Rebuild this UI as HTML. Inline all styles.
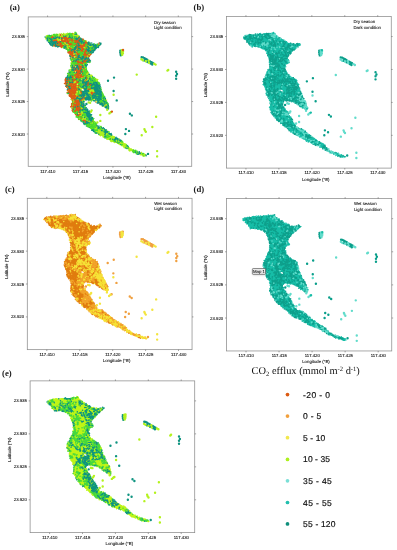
<!DOCTYPE html><html><head><meta charset="utf-8"><title>CO2 efflux maps</title><style>html,body{margin:0;padding:0;background:#fff}body{width:397px;height:550px;overflow:hidden}svg{display:block;font-family:"Liberation Sans",sans-serif;text-rendering:geometricPrecision}</style></head><body><svg width="397" height="550" viewBox="0 0 397 550"><rect width="397" height="550" fill="#fff"/><defs><filter id="bl" x="-5%" y="-5%" width="110%" height="110%"><feGaussianBlur stdDeviation="0.35"/></filter><filter id="sh" x="-30%" y="-50%" width="160%" height="200%"><feGaussianBlur stdDeviation="0.9"/></filter></defs><g><rect x="28.20" y="16.90" width="163.54" height="149.40" fill="#fff" stroke="#8c8c8c" stroke-width="0.75"/><path d="M47.58 166.30v1.4M47.58 16.90v-1.4M80.26 166.30v1.4M80.26 16.90v-1.4M112.95 166.30v1.4M112.95 16.90v-1.4M145.63 166.30v1.4M145.63 16.90v-1.4M178.31 166.30v1.4M178.31 16.90v-1.4M28.20 36.61h-1.4M191.74 36.61h1.4M28.20 69.07h-1.4M191.74 69.07h1.4M28.20 101.54h-1.4M191.74 101.54h1.4M28.20 134.00h-1.4M191.74 134.00h1.4" stroke="#5a5a5a" stroke-width="0.55" fill="none"/><g font-size="4.30" fill="#151515" stroke="#151515" stroke-width="0.1"><text x="47.78" y="172.55" text-anchor="middle">117.410</text><text x="80.46" y="172.55" text-anchor="middle">117.415</text><text x="113.15" y="172.55" text-anchor="middle">117.420</text><text x="145.83" y="172.55" text-anchor="middle">117.425</text><text x="178.51" y="172.55" text-anchor="middle">117.430</text><text x="25.00" y="38.11" text-anchor="end">23.935</text><text x="25.00" y="70.57" text-anchor="end">23.930</text><text x="25.00" y="103.04" text-anchor="end">23.925</text><text x="25.00" y="135.50" text-anchor="end">23.920</text><text x="116.83" y="178.70" text-anchor="middle">Longitude (°E)</text><text transform="translate(8.90 84.50) rotate(-90)" text-anchor="middle">Latitude (°N)</text><text x="153.94" y="23.60">Dry season</text><text x="153.94" y="28.85">Light condition</text></g><g transform="translate(28.20 16.90) scale(1.0002 1.0000) translate(-28.2 -16.9)"><polygon points="44.4,36.8 47.6,34.9 52.6,34.3 58.9,33.7 65.2,33.3 71.5,32.8 75.9,32.0 77.8,34.8 82.6,38.2 87.6,41.0 92.7,43.5 97.1,43.5 100.9,42.3 102.3,44.4 99.6,46.9 96.4,49.4 93.3,52.6 90.8,55.1 88.9,58.2 91.4,60.7 90.8,62.6 87.6,63.9 87.0,67.0 87.6,70.8 90.2,74.0 92.7,75.5 97.8,78.8 99.7,82.6 100.9,87.6 103.5,93.9 106.5,99.5 108.7,104.2 109.4,107.3 108.4,110.0 104.5,108.0 99.3,104.6 94.2,101.5 89.3,100.6 86.5,100.2 84.6,101.2 84.6,104.0 86.4,106.8 89.5,111.0 92.0,115.0 93.9,118.6 95.8,122.6 98.3,125.5 102.7,126.9 106.5,129.4 110.3,132.6 114.1,135.7 117.9,138.0 121.5,140.1 125.9,143.3 130.3,147.9 135.0,149.9 139.1,151.5 146.1,153.8 147.5,155.5 145.3,156.4 139.1,155.1 130.3,151.4 125.0,148.4 120.0,145.0 116.6,144.0 111.6,142.0 106.5,139.4 101.5,136.3 96.4,134.0 91.4,131.0 87.6,127.0 82.6,123.3 77.6,118.9 73.8,113.8 70.7,108.8 70.7,106.5 71.3,101.5 69.4,96.4 66.9,93.3 66.9,88.9 64.4,83.9 64.4,79.4 66.9,75.0 68.8,70.0 70.2,68.3 70.9,63.9 70.2,59.5 69.0,55.1 67.1,51.3 64.6,48.8 60.2,47.5 56.4,46.9 52.0,46.9 49.4,43.7 46.9,40.6 44.4,38.1" fill="#aef01e" stroke="#fff" stroke-width="1.5" stroke-linejoin="round"/><g fill="none" stroke-linecap="round"><g filter="url(#bl)"><path d="M73.1 99.0h0M68.4 87.0h0M69.7 48.3h0M76.6 104.1h0M70.8 106.7h0M61.6 47.4h0M50.8 37.8h0M56.2 39.0h0M83.1 88.0h0M81.6 93.3h0M78.3 76.2h0M65.4 41.6h0M72.4 40.9h0M86.2 51.2h0M72.1 61.3h0M72.6 42.1h0M72.6 111.4h0M76.2 61.3h0M68.1 43.7h0M87.4 82.3h0M95.0 92.8h0M77.0 61.0h0M78.5 112.3h0M73.7 76.9h0M66.8 78.1h0M80.4 77.9h0M69.9 92.8h0M70.4 57.9h0M59.3 41.1h0M76.6 45.1h0M81.4 69.0h0M78.1 105.3h0M67.7 42.5h0M74.9 44.7h0M61.2 40.5h0M78.0 101.0h0M75.2 86.3h0M76.5 103.3h0M74.2 75.3h0M74.5 80.4h0M70.4 50.8h0M74.0 108.2h0M77.1 71.4h0M61.5 39.4h0M80.8 74.9h0M73.0 55.2h0M79.8 68.4h0M72.8 91.5h0M58.7 42.0h0M53.3 40.3h0M77.2 74.6h0M73.2 107.8h0M80.8 68.0h0M70.5 44.0h0M77.4 63.4h0M81.3 91.7h0M67.9 52.3h0M78.3 112.0h0M69.2 92.7h0M78.0 39.7h0M79.2 78.7h0M66.7 87.3h0M79.3 37.9h0M84.2 99.1h0M80.1 68.1h0M91.8 93.2h0M58.4 44.7h0M82.4 71.7h0M78.6 103.8h0M72.1 81.2h0M80.5 70.6h0M75.4 70.9h0M77.6 72.2h0M92.7 89.5h0M77.1 77.6h0M58.2 43.0h0M75.5 114.4h0M73.2 67.0h0M52.7 37.1h0M60.6 43.8h0M76.3 65.0h0M78.5 82.8h0M79.1 54.0h0M60.7 43.2h0M75.3 65.1h0M78.3 45.1h0M81.8 49.1h0M93.5 88.1h0M83.7 62.2h0M76.5 64.9h0M76.1 88.4h0M60.4 34.5h0M72.3 87.3h0M73.7 105.8h0M62.8 41.7h0M60.1 35.0h0M76.1 90.4h0M87.3 78.0h0M70.1 90.7h0M76.9 82.1h0M78.8 93.6h0M74.6 102.3h0M69.2 39.8h0M77.5 107.2h0M76.7 89.0h0M77.3 115.2h0M68.3 92.2h0M86.9 53.8h0M66.7 37.6h0M68.9 41.2h0M74.5 102.1h0M65.2 79.4h0M84.7 46.5h0M69.2 95.7h0M56.1 40.3h0M77.0 55.2h0M78.4 67.4h0M74.8 94.2h0M91.6 84.0h0M85.3 122.6h0M98.7 43.9h0M71.7 90.9h0M79.9 47.0h0M67.4 90.3h0M65.6 83.6h0M87.6 90.2h0M72.3 96.3h0M69.4 48.0h0M76.0 81.3h0M78.5 61.6h0M82.9 49.3h0M78.2 85.7h0M68.9 84.0h0M71.6 94.7h0M74.7 97.6h0M87.4 84.7h0M85.3 55.5h0M67.5 38.6h0M80.8 94.2h0M71.6 83.4h0M86.0 76.9h0M90.5 50.6h0M83.8 57.5h0M73.3 53.2h0M87.7 54.8h0M82.1 66.3h0M70.2 90.5h0M69.3 80.4h0M86.8 55.7h0M66.8 39.0h0M78.3 100.8h0M74.9 92.6h0M83.1 121.5h0M81.5 100.6h0M83.3 112.9h0M71.1 99.3h0M77.4 112.8h0M87.3 44.9h0M76.0 92.2h0M76.6 102.3h0M80.8 107.9h0M59.4 38.4h0M62.6 38.6h0M82.8 98.3h0M68.3 88.5h0M88.2 85.2h0M92.8 94.8h0M80.6 100.5h0M81.2 46.9h0M86.3 86.7h0M67.0 45.1h0M79.3 62.7h0M73.0 106.7h0M71.9 43.3h0M74.0 42.4h0M58.8 43.3h0M67.1 86.8h0M74.7 104.5h0M86.7 55.0h0M73.8 50.1h0M65.9 83.1h0M71.8 49.2h0M75.9 103.6h0M77.5 61.3h0M95.2 94.9h0M70.4 95.8h0M80.0 114.9h0M85.6 74.9h0M76.9 41.2h0M89.5 61.6h0M76.8 89.9h0M68.9 92.0h0M67.6 48.8h0M75.6 70.6h0M72.5 103.1h0M82.7 120.5h0M90.6 88.0h0M72.9 90.5h0M73.2 92.1h0M70.4 50.0h0M66.1 84.9h0M85.2 121.7h0M83.1 48.3h0M75.5 87.5h0M79.6 110.4h0M77.0 100.3h0M91.4 92.6h0M81.5 46.3h0M81.4 68.3h0M77.6 75.3h0M86.9 72.7h0M80.9 118.7h0M83.7 69.2h0M81.3 50.4h0M81.0 118.5h0M80.3 76.7h0M78.9 40.6h0M70.2 85.4h0M73.1 44.7h0M72.9 52.7h0M78.9 63.4h0M65.9 42.1h0M63.8 45.0h0M63.4 38.0h0M82.1 39.3h0M73.7 88.1h0M80.5 47.1h0M78.1 74.3h0M67.0 41.8h0M52.5 36.2h0M71.5 89.1h0M75.8 109.3h0M71.8 55.6h0M83.8 46.5h0M77.0 43.7h0M76.4 73.8h0M71.8 105.9h0M77.9 53.8h0M73.5 85.1h0M61.1 45.0h0M74.4 91.8h0M69.7 85.1h0M87.6 71.9h0M58.5 45.0h0M78.5 109.9h0M71.3 82.8h0M71.1 95.5h0M70.3 83.6h0M86.9 78.6h0M52.1 37.5h0M72.4 34.1h0M82.7 63.0h0M67.7 45.1h0M75.0 76.0h0M75.8 91.1h0M76.7 62.7h0M86.9 60.7h0M71.0 52.8h0M61.4 41.3h0M67.6 39.9h0M62.9 35.1h0M62.8 34.7h0M74.1 87.9h0M73.2 80.7h0M75.8 108.1h0M79.5 104.4h0M78.4 105.2h0M90.4 93.3h0M82.3 48.3h0M75.2 40.5h0M83.0 76.8h0M78.9 70.7h0M61.5 46.7h0M73.8 84.4h0M89.8 82.5h0M64.5 83.5h0M89.2 56.4h0M75.6 109.9h0M64.4 43.4h0M72.5 90.5h0M76.1 48.2h0M61.4 37.6h0M75.9 102.9h0M79.8 113.1h0M79.7 73.8h0M69.5 92.0h0M90.7 54.3h0M71.2 52.6h0M86.7 86.0h0M94.1 92.7h0M77.2 85.5h0M78.7 42.0h0M73.4 95.6h0M80.5 63.4h0M75.0 53.1h0M84.1 51.5h0M72.9 58.6h0M72.6 77.6h0M77.9 70.1h0M71.8 60.9h0M86.5 76.3h0M80.0 61.7h0M73.3 49.9h0M83.7 64.7h0M73.7 56.2h0M75.9 106.2h0M85.0 54.9h0M81.6 96.9h0M79.2 75.1h0M84.3 59.7h0M84.2 58.2h0M78.6 108.0h0M59.3 38.4h0M56.9 40.4h0M74.8 98.4h0M73.8 107.2h0M84.8 49.6h0M70.6 42.8h0M86.2 79.2h0M61.8 45.1h0M69.4 85.5h0M77.0 108.6h0M54.6 40.1h0M82.8 71.6h0M71.3 48.9h0M80.7 72.5h0M76.7 77.0h0M78.1 96.2h0M75.0 90.3h0M69.7 89.7h0M76.4 41.5h0M76.8 57.5h0M60.1 45.0h0M54.8 45.7h0M70.3 52.5h0M77.2 96.8h0M72.3 53.1h0M76.2 73.1h0M75.3 83.2h0M80.6 45.4h0M76.4 71.6h0M70.1 39.2h0M69.5 52.4h0M58.2 44.6h0M73.7 67.8h0M78.0 73.0h0M78.5 90.0h0M89.8 88.6h0M82.9 51.6h0M69.1 95.0h0M75.7 50.9h0M88.3 84.8h0M86.4 77.6h0M82.0 73.9h0M77.2 53.9h0M58.3 38.0h0M67.4 40.4h0M82.1 99.3h0M84.9 97.1h0M77.0 101.5h0M65.3 83.3h0M69.1 40.8h0M79.2 76.9h0M74.3 75.0h0M86.6 43.9h0M67.7 86.5h0M83.3 109.1h0M82.7 105.2h0M51.8 36.2h0M76.8 47.4h0M77.9 99.8h0M73.7 50.8h0M65.5 81.7h0M69.3 75.4h0M83.8 49.7h0M92.5 93.3h0M80.0 58.9h0M66.2 41.7h0M83.8 55.2h0M56.5 44.0h0M77.8 50.1h0M70.8 40.2h0M75.3 42.3h0M79.0 39.7h0M63.7 40.7h0M76.5 44.6h0M60.0 36.2h0M65.4 38.5h0M74.1 55.0h0M83.5 54.7h0M65.4 37.4h0M72.6 95.9h0M78.7 78.5h0M88.9 83.1h0M60.5 35.2h0M79.4 53.0h0M72.8 86.9h0M74.4 83.8h0M70.8 95.0h0M70.6 54.5h0M60.4 40.0h0M78.5 104.7h0M57.6 41.4h0M79.3 114.6h0M76.8 71.9h0M79.6 108.5h0M82.4 45.6h0M75.1 88.3h0M68.7 85.8h0M75.9 88.9h0M79.4 71.8h0M83.8 54.3h0M81.3 91.2h0M79.4 64.5h0M77.7 62.4h0M74.1 104.3h0M83.9 68.4h0M91.3 85.1h0M75.2 111.7h0M89.2 51.7h0M74.2 71.3h0M76.9 45.8h0M85.0 45.7h0M85.6 43.6h0M82.9 72.3h0M62.7 37.2h0M69.5 95.7h0M82.0 45.3h0M73.5 93.3h0M88.1 53.7h0M56.0 43.6h0M69.9 51.3h0M75.6 86.1h0M64.5 39.1h0M71.4 85.6h0M88.8 61.2h0M74.2 100.6h0M74.8 55.6h0M53.7 45.7h0M78.5 102.3h0M66.9 37.3h0M84.3 60.2h0M84.7 62.5h0M60.1 43.2h0M77.6 109.5h0M59.4 41.0h0M75.4 102.6h0M79.7 75.3h0M72.9 83.0h0M78.8 87.5h0M76.8 84.6h0M76.0 77.5h0M71.9 97.4h0M70.9 106.8h0M72.3 88.9h0M66.2 35.0h0M78.2 87.8h0M71.8 53.7h0M78.4 66.7h0M66.1 38.7h0M82.7 51.7h0M72.9 81.6h0M62.6 46.7h0M80.2 38.4h0M77.4 81.4h0M92.0 91.4h0M79.8 69.4h0M72.3 99.8h0M68.8 52.7h0M87.2 90.4h0M88.7 89.6h0M72.1 76.1h0M66.7 84.7h0M75.6 84.9h0M67.4 42.8h0M62.0 43.2h0M85.2 51.8h0M78.8 65.1h0M72.8 76.5h0M85.5 54.6h0M71.8 93.8h0M79.2 46.2h0M73.5 102.6h0M85.6 62.2h0M76.4 57.2h0M74.0 103.4h0M73.4 96.2h0M83.3 39.2h0M71.3 84.9h0M88.6 53.1h0M73.5 57.0h0M91.5 93.7h0M98.4 44.9h0M78.9 73.6h0M85.2 51.9h0M86.4 50.8h0M76.8 69.8h0M75.7 100.0h0M76.4 97.0h0M87.2 48.1h0M77.9 101.7h0M77.1 70.1h0M81.4 109.4h0M80.1 116.4h0M85.9 80.7h0M66.4 80.4h0M85.3 54.1h0M84.4 97.2h0M78.9 86.7h0M72.5 92.8h0M59.5 44.4h0M81.3 74.6h0M81.0 88.2h0M68.2 92.5h0M64.9 41.0h0M85.6 61.5h0M86.4 51.4h0M73.6 97.3h0M73.2 107.4h0M75.8 96.5h0M62.1 46.4h0M73.0 53.8h0M78.7 54.8h0M77.4 71.5h0M74.2 68.0h0M70.1 84.2h0M68.6 43.3h0M82.6 40.5h0M90.4 85.4h0M70.1 54.2h0M75.3 105.9h0M74.2 68.8h0M72.5 97.9h0M76.2 76.9h0M88.2 56.7h0M93.3 49.4h0M85.6 47.1h0M81.2 67.1h0M72.4 33.5h0M76.3 84.2h0M80.5 49.8h0M74.1 65.7h0M78.7 107.1h0M89.8 54.7h0M62.4 38.2h0M84.0 83.8h0M68.9 38.1h0M87.1 56.6h0M68.5 42.2h0M61.5 46.2h0M72.2 88.4h0M80.7 47.6h0M70.9 51.3h0M82.2 109.4h0M84.5 98.3h0M79.2 79.6h0M78.0 115.8h0M81.4 92.7h0M69.2 45.3h0M75.4 91.1h0M84.3 76.1h0M82.7 63.6h0M88.4 83.9h0M55.1 46.0h0M81.0 67.4h0M76.5 40.3h0M81.7 117.4h0M76.6 73.2h0M71.3 90.2h0M69.4 43.7h0M77.5 83.2h0M66.5 83.6h0M59.3 41.0h0M80.7 71.3h0M82.7 77.3h0M78.2 108.4h0M82.4 50.4h0M83.7 87.9h0M75.8 74.4h0M83.2 120.3h0M76.4 36.3h0M92.5 121.6h0M64.1 41.6h0M75.8 114.5h0M67.6 40.4h0M53.5 41.5h0M64.6 43.8h0M70.1 44.6h0M64.2 39.3h0M91.0 54.3h0M87.3 43.6h0M82.8 46.7h0M82.5 39.2h0M85.5 122.7h0M75.3 69.5h0M80.6 72.7h0M72.8 85.8h0M90.2 53.6h0M66.3 37.2h0M70.2 39.1h0M78.2 49.6h0M75.9 68.7h0M78.5 116.4h0M69.2 44.5h0M65.2 80.7h0M75.8 93.8h0M89.6 89.3h0M86.6 42.3h0M76.9 87.0h0M92.5 92.2h0M81.8 65.7h0M82.7 98.6h0M70.2 96.2h0M78.8 109.3h0M80.6 113.9h0M104.3 106.0h0M84.1 61.2h0M66.9 49.1h0M77.8 77.0h0M80.6 99.6h0M83.0 47.7h0M75.9 99.1h0M56.4 39.6h0M87.8 57.3h0M86.4 59.9h0M76.3 44.7h0M59.6 42.2h0M77.2 52.7h0M61.2 37.1h0M92.8 93.0h0M71.7 98.5h0M87.3 85.6h0M90.2 100.1h0M77.4 115.1h0M75.4 85.2h0M76.1 92.9h0M76.5 42.2h0M71.3 56.4h0M69.9 55.3h0M60.7 42.5h0M76.1 40.3h0M73.2 51.3h0M71.1 45.3h0M88.1 88.1h0M85.9 41.2h0M82.4 96.9h0M80.3 45.8h0M67.1 92.6h0M68.3 87.1h0M77.1 51.7h0M74.2 45.6h0M73.5 99.7h0M67.4 82.1h0M70.6 84.8h0M79.0 66.1h0M68.4 53.1h0M85.3 41.6h0M66.5 37.5h0M76.4 104.2h0M65.7 79.4h0M67.8 90.0h0M71.0 87.1h0M76.9 48.9h0M72.0 84.3h0M72.1 78.7h0M78.6 85.5h0M77.0 47.1h0M82.1 99.7h0M91.3 92.0h0M80.5 94.0h0M70.0 94.1h0M81.6 39.6h0M72.6 79.5h0M71.9 87.2h0M81.8 50.0h0M77.4 65.1h0M74.1 90.7h0M83.3 62.4h0M70.5 92.2h0M78.5 74.9h0M57.8 45.7h0M78.4 55.7h0M87.8 59.6h0M67.9 82.0h0M73.8 93.2h0M77.8 40.5h0M77.5 110.7h0M81.0 113.9h0M92.0 94.5h0M76.7 68.2h0M73.8 105.6h0M75.8 95.4h0M77.4 47.1h0M77.0 105.7h0M71.8 40.1h0M54.4 40.7h0M77.8 56.5h0M71.5 105.1h0M77.4 104.7h0M71.5 40.5h0M75.1 94.1h0M79.2 71.2h0M78.5 71.5h0M65.3 42.3h0M84.9 70.7h0M73.0 39.9h0M92.7 93.3h0M82.8 39.5h0M69.6 96.2h0M71.5 55.4h0M75.6 101.4h0M77.3 36.8h0M74.5 89.9h0M69.7 81.2h0M75.1 47.1h0M73.0 104.9h0M68.8 51.7h0M77.5 74.5h0M78.7 114.8h0M76.7 49.4h0M70.6 48.4h0M75.1 60.6h0M71.1 91.9h0M83.0 113.6h0M80.9 75.7h0M82.6 76.4h0M71.1 38.7h0M78.3 58.5h0M78.3 100.3h0M63.5 46.1h0M70.6 97.1h0M79.8 109.9h0M77.5 42.3h0M83.0 99.0h0M72.0 97.0h0M78.4 105.9h0M71.8 44.0h0M76.9 107.3h0M86.3 48.0h0M81.8 45.1h0M68.8 79.4h0M71.8 41.9h0M73.1 85.8h0M76.9 83.3h0M59.6 46.0h0M81.7 100.2h0M75.1 80.3h0M62.5 40.0h0M84.7 120.0h0M84.5 56.8h0M67.7 80.0h0M75.0 100.7h0M77.2 53.0h0M56.6 34.6h0M78.1 113.2h0M68.0 38.3h0M85.8 49.5h0M76.2 85.5h0M84.7 69.1h0M75.7 82.9h0M77.0 106.5h0M84.3 120.2h0M80.0 66.7h0M85.8 80.4h0M60.3 46.8h0M83.5 120.0h0M89.9 55.5h0M73.9 96.9h0M66.9 82.5h0M82.5 70.8h0M83.9 120.5h0M82.5 50.0h0M80.2 44.1h0M79.9 109.4h0M62.6 40.9h0M74.2 39.9h0M87.4 47.9h0M71.9 80.9h0M80.5 52.3h0M78.9 79.5h0M81.2 99.3h0M73.8 85.4h0M72.5 39.8h0M77.4 91.1h0M76.7 81.1h0M70.1 82.2h0M82.3 79.1h0M89.0 82.3h0M67.5 81.2h0M72.4 51.4h0M78.7 115.1h0M59.6 41.6h0M65.3 79.9h0M67.1 39.7h0M91.7 95.1h0M72.0 48.9h0M82.5 47.7h0M69.7 47.1h0M88.1 89.0h0M76.0 75.7h0M83.6 68.2h0M74.3 87.0h0M86.8 74.5h0M78.2 109.3h0M87.3 83.6h0M66.5 40.1h0M81.1 51.6h0M79.6 106.4h0M63.4 42.6h0M78.9 80.2h0M71.6 75.9h0M80.0 92.2h0M84.4 44.8h0M77.8 102.9h0M72.8 103.7h0M79.2 88.2h0M77.0 88.6h0M68.0 85.7h0M89.2 93.6h0M75.8 98.4h0M72.3 53.7h0M70.3 82.9h0M79.4 44.0h0M87.9 82.5h0M72.9 77.1h0M79.4 54.1h0M54.1 44.6h0M77.7 95.6h0M77.9 78.0h0M56.7 42.2h0M70.3 91.0h0M80.9 50.9h0M70.4 93.9h0M75.7 80.2h0M77.1 57.0h0M65.6 78.6h0M85.7 52.1h0M75.2 50.7h0M66.3 78.4h0M86.9 83.6h0M52.8 40.9h0M71.6 86.3h0M64.8 37.7h0M74.1 86.4h0M90.4 88.9h0M78.9 82.1h0M80.1 62.5h0M76.1 106.9h0M75.9 58.0h0M72.6 100.7h0M83.9 74.9h0M74.1 110.8h0M73.9 95.7h0M74.7 61.6h0M92.1 96.6h0M79.4 107.6h0M74.0 93.6h0M78.0 103.5h0M80.7 90.7h0M84.5 44.0h0M67.2 45.9h0M57.5 41.2h0M74.3 98.0h0M66.3 80.8h0M81.0 118.2h0M69.6 37.8h0M79.4 103.0h0M74.9 88.8h0M72.7 83.1h0M86.0 50.1h0M87.2 42.9h0M81.4 57.0h0M67.7 41.6h0M71.1 80.0h0M84.8 43.0h0M74.8 99.0h0M74.4 96.2h0M77.3 73.9h0M78.0 54.6h0M78.0 82.0h0M85.2 50.2h0M99.2 43.0h0M85.6 57.0h0M72.9 92.4h0M77.3 110.4h0M74.0 89.5h0M79.3 72.8h0M71.4 51.8h0M68.6 38.4h0M64.9 39.5h0M80.6 114.7h0M75.4 96.1h0M78.8 72.7h0M71.6 103.8h0M73.6 89.1h0M81.2 106.8h0M78.2 89.3h0M75.7 110.5h0M54.7 45.3h0M75.7 78.8h0M74.4 41.9h0M79.3 101.5h0M84.1 55.9h0M81.5 75.8h0M68.5 80.5h0M86.1 60.0h0M86.1 54.0h0M72.1 94.8h0M78.5 43.1h0M81.4 95.4h0M88.3 54.8h0M76.6 109.8h0M78.9 111.1h0M82.4 96.8h0M71.1 53.5h0M75.5 101.4h0M75.5 105.0h0M64.4 37.1h0M74.7 75.1h0M99.0 103.2h0M78.9 96.8h0M81.3 77.3h0M79.6 62.3h0M69.8 88.9h0M51.8 37.1h0M68.7 48.1h0M72.9 101.0h0M74.7 110.7h0M65.7 86.2h0M85.7 53.1h0M80.3 116.7h0M72.2 56.1h0M79.4 70.1h0M70.5 47.5h0M83.4 44.0h0M75.1 95.7h0M85.3 44.9h0M68.5 84.9h0M75.8 111.3h0M78.7 119.2h0M80.8 89.7h0M73.5 98.5h0M70.1 53.6h0M70.0 94.6h0M83.4 64.7h0M75.8 42.2h0M69.4 41.1h0M79.3 48.0h0M74.2 106.2h0M78.8 47.6h0M83.8 46.0h0M67.5 82.7h0M65.6 45.0h0M81.8 47.7h0M73.8 80.9h0M72.9 109.1h0M78.4 77.2h0M64.2 37.8h0M71.0 45.5h0M80.9 91.6h0M83.4 54.5h0M71.8 104.1h0M70.8 86.5h0M82.9 69.4h0M53.0 40.1h0M85.7 42.4h0M79.8 103.9h0M69.0 88.4h0M79.4 77.3h0M80.5 66.3h0M74.2 69.5h0M72.1 44.6h0M81.7 64.1h0M84.6 42.3h0M78.0 37.2h0M74.7 55.4h0M81.7 76.7h0M83.4 84.9h0M75.3 77.2h0M82.6 47.0h0M78.2 77.8h0M71.3 107.5h0M78.5 75.3h0M69.6 40.7h0M75.4 70.3h0M81.6 61.6h0M82.8 60.3h0M95.8 101.9h0M79.4 112.9h0M82.9 75.8h0M75.6 44.3h0M75.5 84.1h0M79.6 67.2h0M80.6 69.8h0M81.5 62.9h0M76.5 83.8h0M76.5 100.6h0M85.6 40.9h0M76.3 105.8h0M73.5 80.0h0M73.8 111.5h0M74.9 84.5h0M84.3 52.7h0M71.2 88.5h0M88.5 55.6h0M70.4 93.0h0M84.3 67.2h0M75.6 53.3h0M85.2 44.2h0M72.4 54.8h0M72.6 58.0h0M65.7 40.2h0M81.3 73.6h0M83.0 63.4h0M78.6 101.7h0M72.9 83.9h0M84.7 61.3h0M71.1 96.5h0M77.9 46.4h0M79.8 65.7h0M83.1 44.8h0M79.8 43.4h0M89.7 90.0h0M74.1 98.7h0M88.0 52.6h0M72.1 110.2h0M83.4 66.5h0M76.4 115.3h0M74.7 40.1h0M74.3 95.0h0M72.4 108.7h0M69.2 83.2h0M81.1 114.9h0M81.5 54.3h0M84.1 48.9h0M76.0 101.2h0M84.4 53.4h0M83.4 61.0h0M72.7 57.0h0M73.9 55.5h0M75.7 87.0h0M81.0 62.4h0M88.1 121.6h0M75.1 57.5h0M73.9 40.2h0M68.4 78.7h0M77.4 41.8h0M85.7 121.5h0M85.4 121.0h0M73.5 86.7h0M67.6 90.6h0M71.2 92.9h0M68.6 89.0h0M79.4 42.2h0M60.5 46.3h0M79.7 38.6h0M53.1 37.2h0M63.9 40.5h0M75.2 41.6h0M57.0 45.2h0M72.5 83.7h0M63.6 38.4h0M84.1 81.2h0M77.9 63.8h0M69.2 91.2h0M80.3 59.4h0M73.7 103.3h0M70.7 55.4h0M78.1 60.7h0M52.7 37.8h0M85.4 80.8h0M79.0 38.5h0M89.4 59.4h0M84.6 58.1h0M79.2 85.4h0M72.5 91.4h0M77.0 75.7h0M74.9 79.7h0M74.6 57.4h0M72.9 79.4h0M80.2 58.9h0M62.6 45.3h0M65.9 44.8h0M72.1 39.0h0M78.9 72.1h0M78.5 41.3h0M57.7 42.7h0M73.5 91.3h0M54.9 39.9h0M73.7 95.0h0M72.1 94.1h0M55.1 40.3h0M69.0 89.8h0M84.7 60.6h0M66.1 82.4h0M78.9 53.0h0M78.3 47.0h0M70.8 89.4h0M65.3 44.3h0M73.2 87.0h0M76.9 91.3h0M70.7 43.3h0M61.0 35.8h0M76.3 52.4h0M90.0 84.5h0M66.9 80.6h0M86.5 79.6h0M72.5 52.5h0M72.5 98.7h0M55.6 38.3h0M54.1 37.1h0M80.2 108.8h0M64.7 36.0h0M70.8 47.2h0M85.8 120.9h0M75.1 91.9h0M85.0 52.9h0M69.5 45.1h0M76.8 108.4h0M85.7 57.5h0M72.6 41.1h0M84.7 109.4h0M63.0 41.8h0M82.8 46.2h0M72.2 106.0h0M73.7 78.4h0M72.5 110.7h0M80.2 65.9h0M72.2 59.3h0M85.8 56.3h0M73.8 78.9h0M78.3 62.1h0M61.2 44.3h0" stroke="#dc5a12" stroke-width="1.50"/><path d="M88.6 79.0h0M89.6 92.0h0M75.8 94.2h0M62.0 36.0h0M69.2 73.8h0M80.6 88.2h0M63.8 34.3h0M89.0 54.4h0M107.0 104.9h0M111.0 136.0h0M119.5 144.0h0M97.4 81.4h0M81.9 112.4h0M75.5 53.9h0M81.4 73.3h0M74.6 82.7h0M84.7 118.7h0M73.5 70.8h0M118.6 142.0h0M102.6 135.8h0M85.7 95.9h0M95.7 128.8h0M124.3 147.8h0M76.8 38.2h0M86.0 117.6h0M108.9 139.1h0M97.7 79.4h0M120.6 142.8h0M74.5 82.4h0M47.1 35.8h0M74.3 34.1h0M70.2 70.8h0M99.1 133.5h0M143.6 153.7h0M79.6 91.1h0M46.3 36.1h0M124.9 147.2h0M64.6 42.8h0M132.1 150.7h0M95.8 126.5h0M63.5 39.4h0M101.6 131.1h0M143.2 154.9h0M83.3 64.4h0M66.4 34.6h0M93.7 91.5h0M129.6 149.3h0M127.2 147.6h0M140.4 154.8h0M90.0 75.4h0M118.0 139.5h0M106.6 133.3h0M87.6 57.0h0M141.1 152.5h0M116.2 141.4h0M99.3 44.9h0M82.2 112.0h0M102.1 135.0h0M67.9 46.1h0M96.4 129.1h0M131.5 149.5h0M59.9 39.9h0M89.4 77.6h0M65.8 43.4h0M92.1 122.7h0M83.1 118.0h0M144.3 154.2h0M114.6 137.9h0M108.9 139.3h0M59.3 33.9h0M45.8 38.7h0M88.5 92.5h0M81.8 114.7h0M83.7 117.8h0M129.8 151.0h0M98.2 132.4h0M110.2 137.0h0M82.8 119.3h0M97.2 80.3h0M70.7 70.1h0M71.2 62.9h0M109.0 135.0h0M80.8 115.4h0M67.6 47.9h0M90.1 94.7h0M87.5 73.7h0M114.2 137.1h0M73.8 100.3h0M112.1 137.4h0M78.9 35.8h0M115.3 141.3h0M92.0 75.6h0M99.4 131.0h0M96.2 128.3h0M86.6 117.1h0M113.3 136.6h0M117.6 143.2h0M88.9 46.2h0M75.1 35.7h0M126.1 144.5h0M82.1 90.1h0M93.7 124.5h0M77.4 83.9h0M112.5 138.4h0M72.3 60.4h0M85.0 79.0h0M88.2 126.7h0M103.9 133.0h0M83.6 101.9h0M91.4 45.8h0M106.4 134.9h0M86.6 120.8h0M142.0 154.9h0M47.7 35.5h0M107.6 139.2h0M81.8 112.7h0M82.4 100.8h0M111.7 136.1h0M76.1 51.0h0M87.9 74.9h0M58.4 40.5h0M100.3 133.9h0M89.6 47.3h0M93.3 122.4h0M100.1 127.6h0M67.0 44.4h0M94.8 121.4h0M108.8 139.3h0M145.6 155.3h0M86.8 73.9h0M90.3 120.8h0M75.2 35.0h0M73.6 65.6h0M129.0 149.2h0M89.5 46.1h0M66.4 33.7h0M83.2 94.0h0M85.4 96.4h0M103.2 136.9h0M85.0 118.0h0M141.6 154.4h0M86.3 89.5h0M91.2 91.0h0M77.0 36.2h0M107.0 105.6h0M130.4 149.0h0M130.7 149.0h0M132.9 149.8h0M102.5 134.6h0M56.1 36.4h0M102.5 98.9h0M136.4 152.0h0M66.0 43.9h0M92.8 90.1h0M121.8 145.2h0M118.1 141.2h0M79.8 87.6h0M104.7 105.4h0M80.9 113.0h0M102.1 132.9h0M87.1 80.7h0M96.9 132.4h0M63.8 44.2h0M82.7 89.0h0M122.7 142.2h0M74.9 73.0h0M45.8 37.5h0M86.2 74.2h0M95.1 123.5h0M82.2 116.4h0M145.0 154.4h0M48.5 39.0h0M107.6 137.7h0M90.1 126.5h0M68.6 36.5h0M129.0 150.5h0M82.6 85.6h0M70.6 69.4h0M72.1 71.0h0M97.2 132.2h0M110.7 138.2h0M89.8 126.2h0M93.7 78.6h0M97.7 132.9h0M81.8 112.1h0M102.9 134.2h0M73.1 34.3h0M96.3 128.3h0M101.2 133.4h0M95.8 79.7h0M84.5 66.6h0M71.1 47.3h0M84.4 115.1h0M57.8 36.5h0M69.9 71.4h0M111.2 140.5h0M100.3 135.2h0M88.9 52.0h0M141.5 152.4h0M91.2 123.8h0M76.1 49.4h0M79.5 92.4h0M82.1 44.3h0M64.1 34.1h0M90.1 91.5h0M85.4 68.4h0M100.7 133.7h0M76.6 33.7h0M64.6 35.0h0M77.0 86.2h0M103.1 133.2h0M84.6 66.9h0M85.4 99.8h0M89.9 80.8h0M65.2 43.3h0M62.7 47.4h0M65.4 35.3h0M144.8 155.3h0M101.8 128.9h0M101.3 134.5h0M105.5 135.2h0M67.8 44.4h0M106.0 105.7h0M88.6 76.7h0M126.2 146.9h0M80.5 88.9h0M81.3 90.3h0M62.2 36.3h0M80.2 93.2h0M123.6 145.1h0M74.9 81.8h0M105.3 100.1h0M110.6 141.1h0M86.6 64.7h0M119.3 138.9h0M89.2 44.0h0M74.6 33.3h0M67.5 47.2h0M59.4 34.2h0M67.7 33.3h0M77.6 35.1h0M98.7 130.7h0M111.0 136.7h0M104.5 135.0h0M103.9 98.2h0M73.7 37.5h0M108.1 134.1h0M99.5 131.5h0M120.5 144.2h0M98.3 129.9h0M123.2 145.6h0M78.4 97.4h0M127.1 146.7h0M89.8 75.9h0M113.8 137.6h0M67.1 47.2h0M89.3 54.5h0M83.5 102.5h0M87.2 80.6h0M131.3 149.1h0M128.9 148.8h0M122.4 142.8h0M99.2 132.4h0M87.9 78.9h0M78.1 36.3h0M120.4 142.7h0M90.6 90.9h0M125.2 145.2h0M84.3 100.0h0M108.1 137.9h0M88.1 92.9h0M106.7 130.2h0M99.2 134.4h0M63.5 36.4h0M129.6 150.0h0M88.9 93.3h0M114.4 142.6h0M85.6 65.9h0M89.4 93.0h0M105.4 104.5h0M102.7 131.2h0M73.8 54.3h0M126.3 147.7h0M96.1 130.0h0M109.5 137.4h0M104.7 106.3h0M111.2 138.7h0M87.7 73.1h0M66.7 34.6h0M52.9 35.6h0M90.6 90.5h0M112.0 137.0h0M57.4 39.5h0M121.6 143.6h0M108.3 134.8h0M96.7 79.5h0M92.5 89.7h0M124.8 144.1h0M100.5 131.0h0M92.3 46.7h0M125.5 146.9h0M119.7 144.6h0M69.2 73.3h0M86.4 41.3h0M76.9 95.1h0M81.9 86.3h0M107.2 134.1h0M107.4 138.8h0M116.7 141.9h0M77.6 86.8h0M132.9 150.5h0M73.4 35.0h0M118.3 140.9h0M83.1 116.6h0M97.2 131.2h0M94.6 78.2h0M97.1 131.1h0M77.0 94.2h0M88.4 72.7h0M103.8 132.2h0M107.4 133.4h0M70.8 56.2h0M102.3 92.2h0M65.3 34.2h0M79.7 118.4h0M92.9 91.5h0M81.9 88.5h0M75.3 81.3h0M90.6 123.4h0M85.9 119.0h0M118.6 143.8h0M82.9 100.2h0M67.1 47.8h0M73.5 102.1h0M102.1 105.9h0M88.0 80.0h0M59.0 39.4h0M80.8 87.5h0M101.2 129.4h0M73.8 73.3h0M97.3 129.1h0M115.3 142.3h0M102.8 129.7h0M73.8 35.1h0M71.6 47.4h0M113.9 142.1h0M84.9 80.1h0M93.3 79.3h0M69.6 46.4h0M96.8 81.5h0M87.6 56.2h0M89.0 122.0h0M93.3 121.3h0M59.1 35.2h0M91.6 89.3h0M72.2 73.9h0M98.5 133.2h0M73.0 35.9h0M124.6 144.6h0M72.4 107.5h0M85.5 96.2h0M75.6 81.8h0M99.4 130.1h0M141.1 154.2h0M77.5 38.0h0M102.0 129.5h0M120.2 143.1h0M100.7 129.8h0M82.7 113.8h0M88.7 78.3h0M46.0 39.0h0M122.4 144.1h0M99.3 135.1h0M88.7 75.2h0M84.4 76.9h0M84.1 47.4h0M107.2 105.6h0M82.2 115.0h0M100.4 132.0h0M112.8 137.8h0M113.9 138.3h0M106.0 132.3h0M129.2 147.9h0M90.4 46.7h0M73.4 64.3h0M104.3 136.2h0M105.0 104.9h0M89.6 91.0h0M85.5 117.5h0M57.0 39.1h0M90.6 96.3h0M61.8 35.5h0M76.8 91.6h0M60.7 38.4h0M123.1 144.8h0M102.6 130.4h0M102.8 102.6h0M56.2 36.7h0M100.7 126.9h0M111.1 141.5h0M71.2 66.5h0M68.5 48.8h0M77.1 93.6h0M123.6 146.8h0M104.6 101.0h0M90.1 93.2h0M91.2 53.5h0M67.9 35.4h0M72.7 105.1h0M90.6 75.2h0M96.1 79.9h0M123.5 145.5h0M111.9 140.1h0M142.3 154.8h0M111.6 139.7h0M71.8 68.7h0M57.8 38.5h0M74.5 46.8h0M97.2 126.7h0M70.8 34.8h0M103.8 134.7h0M61.8 34.0h0M102.5 131.9h0M100.6 135.8h0M104.0 104.5h0M125.4 146.2h0M82.3 101.7h0M46.4 36.8h0M95.9 131.9h0M73.7 37.3h0M82.2 119.4h0M72.6 36.3h0M76.5 35.0h0M83.6 117.2h0M72.0 68.9h0M77.6 98.9h0M84.3 118.9h0M53.1 35.1h0M108.3 139.0h0M88.1 76.9h0M112.8 141.2h0M125.2 143.9h0M70.8 66.9h0M72.4 70.7h0M81.3 108.0h0M58.6 36.1h0M92.8 91.3h0M104.2 137.6h0M89.1 121.7h0M130.5 150.4h0M103.1 132.7h0M115.4 140.6h0M81.1 89.6h0M102.2 132.0h0M101.2 132.7h0M118.8 143.5h0M92.4 46.1h0M76.3 34.9h0M74.7 56.9h0M71.8 99.7h0M79.7 93.8h0M121.4 142.6h0M103.6 136.5h0M73.3 33.7h0M93.9 90.8h0M101.1 134.9h0M123.3 144.3h0M61.3 33.8h0M114.3 136.7h0M126.8 148.5h0M89.6 120.6h0M99.2 44.5h0M106.9 134.0h0M91.2 77.7h0M56.7 34.3h0M92.0 123.6h0M92.4 89.4h0M92.6 128.6h0M94.8 129.2h0M84.1 115.8h0M144.4 155.9h0M77.8 93.0h0M71.2 69.8h0M86.1 68.3h0M142.6 155.7h0M110.5 140.5h0M112.1 141.5h0M141.3 152.7h0M67.5 36.3h0M109.0 136.0h0M88.2 75.6h0M111.0 139.2h0M84.9 47.9h0M140.0 154.2h0M113.3 136.4h0M69.0 46.5h0M91.3 75.3h0M106.6 139.1h0M89.0 120.5h0M124.9 145.9h0M46.0 37.5h0M60.7 36.8h0M122.1 145.7h0M96.7 126.8h0M90.2 46.3h0M96.7 80.4h0M81.9 108.0h0M145.0 155.7h0M90.1 76.2h0M89.6 80.0h0M74.5 35.7h0M98.9 131.6h0M103.6 129.7h0M90.9 94.8h0M77.2 92.6h0M116.2 140.0h0M104.1 134.5h0M83.6 69.9h0M88.2 77.3h0M74.4 76.8h0M123.5 143.6h0M87.8 120.3h0M82.7 118.8h0M79.7 118.7h0M94.1 125.5h0M95.6 78.5h0M102.7 135.4h0M118.8 141.5h0M74.4 53.3h0M91.0 77.0h0M116.2 140.3h0M82.6 68.8h0M75.6 53.7h0M72.1 64.2h0M60.3 37.7h0M100.6 131.9h0M90.9 44.0h0M67.9 37.1h0M91.6 89.7h0M74.3 77.2h0M111.7 139.1h0M110.6 138.1h0M63.6 33.6h0M109.9 134.8h0M57.8 39.3h0M87.4 91.6h0M71.3 62.5h0" stroke="#aef01e" stroke-width="1.50"/><path d="M88.8 58.3h0M73.6 57.4h0M92.5 88.4h0M98.0 93.8h0M95.0 97.0h0M83.1 56.7h0M80.3 49.1h0M111.6 134.8h0M96.9 133.1h0M59.1 38.0h0M87.0 49.6h0M88.2 123.1h0M98.9 98.1h0M76.2 46.9h0M97.3 126.0h0M71.9 70.3h0M86.2 90.1h0M103.6 97.7h0M82.1 65.1h0M80.6 40.9h0M102.7 104.1h0M79.8 100.8h0M95.5 93.8h0M88.5 50.3h0M79.1 99.0h0M93.4 87.8h0M99.4 87.4h0M88.5 44.3h0M79.0 48.9h0M52.0 44.6h0M92.0 84.2h0M88.3 119.9h0M117.4 138.4h0M73.4 48.9h0M74.6 38.2h0M83.6 90.7h0M79.9 99.9h0M92.5 129.8h0M90.8 97.1h0M82.0 56.1h0M87.1 82.9h0M93.4 82.1h0M99.2 127.2h0M52.6 41.6h0M83.0 66.0h0M100.8 104.6h0M86.3 94.3h0M87.5 109.4h0M89.0 59.7h0M92.0 49.1h0M57.7 47.0h0M70.5 72.1h0M85.7 109.2h0M99.6 99.8h0M75.9 39.4h0M106.8 106.6h0M106.5 107.5h0M83.7 86.7h0M48.0 40.8h0M85.7 59.6h0M55.3 43.6h0M83.2 41.7h0M88.8 94.9h0M87.9 60.7h0M49.1 35.2h0M84.8 95.5h0M107.4 131.6h0M87.7 86.6h0M79.3 55.3h0M98.0 102.9h0M101.4 93.5h0M92.6 98.0h0M82.3 58.3h0M85.4 109.5h0M81.0 70.4h0M85.1 112.0h0M87.1 86.9h0M95.0 48.4h0M97.7 86.9h0M86.4 57.8h0M114.7 140.4h0M101.9 100.4h0M50.9 40.0h0M98.8 91.4h0M83.5 56.3h0M83.7 112.1h0M91.8 53.3h0M89.1 96.3h0M97.6 46.6h0M76.6 60.0h0M81.4 42.6h0M66.1 47.3h0M86.6 122.3h0M87.4 50.8h0M47.1 40.1h0M97.5 101.3h0M135.3 151.6h0M82.2 94.2h0M49.8 43.9h0M94.5 47.6h0M137.8 152.0h0M88.0 51.1h0M73.6 60.1h0M45.1 37.1h0M88.8 42.1h0M93.9 44.3h0M69.7 36.9h0M84.1 105.1h0M72.0 69.3h0M88.7 117.5h0M93.0 81.1h0M71.9 82.1h0M77.0 97.6h0M55.9 42.7h0M73.0 75.3h0M114.9 138.9h0M83.8 94.1h0M90.8 80.3h0M82.1 41.6h0M96.4 82.4h0M57.3 43.8h0M98.2 101.8h0M95.7 85.0h0M94.4 84.6h0M78.7 68.3h0M138.5 154.2h0M94.9 91.1h0M101.9 95.8h0M79.3 55.8h0M86.9 61.6h0M82.0 95.4h0M83.8 92.5h0M90.1 118.7h0M103.3 98.6h0M100.1 95.4h0M87.1 111.0h0M93.8 50.3h0M90.4 60.9h0M88.7 44.7h0M76.9 50.4h0M84.0 85.1h0M120.8 144.5h0M51.4 41.1h0M98.2 100.6h0M100.6 93.4h0M84.3 108.9h0M92.1 95.9h0M51.8 40.2h0M97.8 128.0h0M84.1 101.8h0M84.1 103.9h0M67.1 83.4h0M90.2 45.3h0M75.4 49.2h0M97.6 89.7h0M101.7 102.6h0M74.9 47.8h0M85.2 97.9h0M98.8 93.1h0M140.4 153.3h0M61.7 38.4h0M91.6 114.8h0M82.7 73.2h0M111.4 135.3h0M99.7 98.6h0M83.8 95.8h0M72.1 49.5h0M82.8 87.2h0M83.2 41.0h0M81.2 121.5h0M82.4 60.2h0M89.1 84.1h0M86.4 112.0h0M90.1 60.6h0M70.2 77.8h0M63.8 48.0h0M101.9 105.0h0M137.3 154.2h0M96.5 85.2h0M86.2 58.4h0M90.1 115.8h0M90.6 95.1h0M96.6 45.4h0M70.5 37.6h0M81.4 96.5h0M71.8 67.2h0M86.8 118.3h0M93.3 78.1h0M50.6 45.0h0M101.6 98.6h0M97.4 94.2h0M89.0 116.1h0M139.3 151.8h0M97.1 86.2h0M89.8 114.9h0M87.0 92.5h0M80.2 39.7h0M127.9 146.3h0M97.1 99.3h0M71.5 50.7h0M80.0 105.7h0M93.3 45.5h0M85.2 107.8h0M101.7 94.3h0M98.9 87.6h0M46.9 38.1h0M90.0 77.3h0M50.3 39.4h0M89.3 99.9h0M95.3 95.6h0M75.5 68.1h0M82.4 67.5h0M86.6 121.5h0M86.0 87.5h0M82.3 110.5h0M86.2 92.1h0M104.4 129.0h0M95.3 92.1h0M50.1 41.8h0M93.4 51.8h0M74.5 67.0h0M83.3 81.7h0M85.5 93.1h0M65.6 46.8h0M49.4 38.4h0M81.7 104.3h0M98.8 127.7h0M83.4 94.7h0M97.8 96.6h0M100.9 43.2h0M97.7 90.7h0M69.1 81.6h0M88.4 91.0h0M50.5 43.9h0M55.7 38.5h0M106.2 137.0h0M80.5 98.6h0M100.2 100.2h0M85.4 99.1h0M83.9 42.9h0M98.1 103.1h0M88.9 97.3h0M66.8 81.4h0M88.3 51.7h0M96.0 88.5h0M78.6 44.3h0M64.4 48.2h0M69.3 76.8h0M92.4 84.8h0M74.3 72.5h0M51.2 35.6h0M109.2 133.9h0M93.0 129.2h0M102.6 105.9h0M64.1 46.0h0M93.0 46.9h0M75.5 66.1h0M115.1 141.6h0M79.0 95.2h0M105.6 131.6h0M89.5 98.8h0M94.6 83.9h0M110.2 134.6h0M85.8 110.1h0M83.8 79.9h0M88.1 113.8h0M85.5 123.5h0M101.0 93.0h0M87.7 97.1h0M76.9 78.6h0M75.1 52.7h0M81.8 94.7h0M95.8 46.9h0M72.6 74.9h0M83.2 67.8h0M80.8 120.3h0M74.1 51.0h0M83.4 83.1h0M81.6 82.5h0M81.9 69.6h0M99.7 88.6h0M84.0 82.6h0M67.4 89.3h0M76.1 38.5h0M76.8 59.9h0M106.1 107.8h0M88.0 96.7h0M89.4 98.2h0M98.0 97.2h0M80.2 112.0h0M56.2 45.5h0M100.0 45.0h0M102.2 103.3h0M80.9 41.7h0M51.1 41.7h0M92.3 97.6h0M65.0 46.4h0M93.4 43.9h0M115.5 139.7h0M51.7 39.9h0M107.5 108.7h0M76.8 67.2h0M75.6 69.2h0M85.0 64.4h0M101.1 95.6h0M100.7 44.0h0M104.8 136.7h0M100.1 87.4h0M76.1 33.8h0M91.0 126.8h0M93.1 119.2h0M77.5 97.2h0M98.3 94.3h0M104.8 103.9h0M72.8 62.0h0M96.9 126.0h0M128.2 146.8h0M49.6 42.2h0M83.3 91.6h0M81.8 103.8h0M103.6 101.5h0M103.3 100.5h0M82.2 106.3h0M55.9 46.4h0M92.4 48.1h0M59.8 38.1h0M100.4 86.2h0M86.1 124.5h0M71.1 74.2h0M96.2 96.6h0M90.5 114.2h0M79.5 89.6h0M83.4 93.0h0M82.1 104.0h0M73.7 110.1h0M82.8 83.5h0M74.0 61.0h0M106.2 132.0h0M100.9 43.9h0M87.1 94.2h0M71.9 57.5h0M121.3 140.5h0M86.4 123.6h0M105.2 136.0h0M96.3 90.2h0M93.1 83.7h0M73.7 61.5h0M86.4 95.1h0M98.6 97.5h0M100.4 90.7h0M86.9 97.3h0M85.3 85.1h0M103.6 105.7h0M84.3 82.1h0M98.4 47.5h0M91.5 88.5h0M95.3 82.6h0M93.9 95.3h0M92.7 80.2h0M90.9 45.2h0M51.6 39.1h0M99.0 90.2h0M56.4 41.8h0M75.9 67.2h0M96.4 47.8h0M89.4 50.8h0M81.1 81.2h0M83.9 89.9h0M105.4 103.6h0M93.4 96.9h0M74.8 99.8h0M87.6 53.5h0M67.9 77.4h0M99.1 95.8h0M79.7 56.9h0M101.8 96.9h0M96.3 88.6h0M87.8 61.6h0M76.9 99.0h0M81.5 40.8h0M66.4 49.0h0M101.6 95.0h0M85.6 85.1h0M88.9 74.2h0M91.8 49.2h0M87.3 81.2h0M95.0 88.8h0M100.5 94.2h0M86.6 88.6h0M79.8 48.6h0M80.9 105.7h0M92.0 125.5h0M104.5 97.8h0M99.0 91.7h0M111.2 133.5h0M91.8 51.2h0M114.0 139.9h0M89.8 53.1h0M70.2 76.3h0M97.4 82.2h0M92.7 96.8h0M135.8 152.8h0M90.1 120.2h0M97.0 83.3h0M71.6 77.4h0M91.7 130.3h0M89.5 78.6h0M72.2 108.0h0M100.0 103.3h0M72.1 66.9h0M96.0 46.0h0M96.9 100.2h0M96.6 97.1h0M96.7 84.0h0M98.1 99.5h0M82.9 122.1h0M67.1 85.3h0M80.1 79.5h0M89.1 119.5h0M87.7 93.3h0M88.2 81.4h0M70.7 75.6h0M84.2 42.1h0M70.4 56.5h0M98.0 93.1h0M100.7 97.2h0M108.8 133.7h0M100.7 103.0h0M93.5 50.8h0M86.6 49.1h0M50.1 38.6h0M100.7 98.6h0M87.4 111.6h0M78.2 48.6h0M85.6 113.1h0M79.5 45.5h0M83.3 104.7h0M92.4 52.2h0M97.5 84.1h0M78.2 67.9h0M77.8 43.3h0M51.6 45.3h0M92.9 118.2h0M83.1 86.5h0M81.9 42.9h0M89.5 74.6h0M99.9 43.1h0M89.4 112.8h0M83.7 90.7h0M95.6 87.6h0M91.4 48.0h0M83.3 58.2h0M85.6 64.3h0M90.6 48.3h0M146.0 155.1h0M97.5 87.2h0M86.4 125.9h0M97.2 47.5h0M103.7 104.0h0M89.4 43.0h0M93.5 85.2h0M95.2 88.5h0M88.5 80.6h0M91.2 118.9h0M87.1 99.3h0M95.3 98.7h0M99.8 92.9h0M99.0 86.6h0M86.6 84.3h0M96.8 94.4h0M98.8 134.2h0M99.9 92.5h0M80.9 102.3h0M96.9 101.0h0M94.2 89.2h0M97.0 85.1h0M100.3 88.4h0M101.3 127.6h0M79.6 49.7h0M68.9 37.3h0M146.1 155.8h0M78.1 51.2h0M93.8 94.5h0M80.4 99.3h0M76.1 60.4h0M88.4 90.5h0M68.2 76.2h0M82.9 97.4h0M94.6 98.0h0M79.2 95.3h0M69.6 86.5h0M88.3 111.2h0M93.3 130.6h0M76.3 37.9h0M89.4 60.6h0M73.0 65.1h0M70.0 73.2h0M89.1 49.2h0M82.7 56.9h0M91.1 97.4h0M72.7 82.4h0M90.0 52.7h0M89.3 95.9h0M88.0 117.0h0M81.8 98.6h0M75.0 34.3h0M86.3 86.0h0M92.5 44.5h0M93.3 45.6h0M75.3 67.9h0M107.2 106.3h0M116.0 137.2h0M117.7 140.2h0M117.5 139.5h0M83.7 87.1h0M59.1 37.3h0M87.6 114.3h0M95.7 132.8h0M92.7 84.9h0M85.7 65.3h0M93.7 131.5h0M91.4 118.3h0M91.9 80.0h0M81.6 110.5h0M107.8 104.5h0M100.5 99.1h0M51.2 40.7h0M53.1 44.7h0M76.8 39.4h0M90.3 83.5h0M94.2 45.5h0M85.2 83.8h0M88.2 97.8h0M83.9 85.3h0M89.6 84.3h0M86.5 87.8h0M127.1 148.6h0M96.1 98.6h0M79.0 60.1h0M69.4 78.0h0M101.7 92.7h0M85.4 86.7h0M86.7 65.5h0M77.2 114.0h0M70.0 87.8h0M65.7 45.9h0M77.2 112.7h0M70.9 79.0h0M80.9 80.4h0M82.7 53.3h0M90.1 43.1h0M91.9 86.1h0M99.5 94.6h0M96.2 82.8h0M94.6 132.1h0M101.4 91.2h0M52.8 39.0h0M86.1 98.1h0M86.1 66.6h0M96.2 48.4h0M90.9 51.8h0M66.1 77.5h0M87.9 44.0h0M75.8 55.1h0M89.0 60.2h0M80.2 102.1h0M85.7 78.6h0M125.7 148.1h0M74.5 47.8h0M87.1 90.6h0M93.1 83.2h0M81.8 106.4h0M79.7 96.0h0M86.0 88.4h0M49.6 43.6h0M84.5 124.4h0M97.7 92.0h0M79.1 84.4h0M55.5 44.6h0M99.0 102.2h0M103.4 99.3h0M75.7 43.5h0M108.4 106.3h0M82.5 109.8h0M75.5 46.4h0M74.4 58.7h0M95.4 99.2h0M93.1 47.8h0M98.6 100.4h0M95.7 85.5h0M81.3 80.1h0M94.7 82.0h0M88.3 100.1h0M65.1 47.8h0M70.0 77.6h0M95.5 81.9h0M70.1 73.7h0M89.1 86.0h0M80.3 42.0h0M98.6 126.9h0M80.9 104.1h0M90.0 124.3h0M98.2 91.5h0M86.8 96.8h0M84.7 123.7h0M67.8 78.9h0M70.2 88.2h0M95.1 49.5h0M84.7 59.8h0M71.7 37.9h0M105.3 101.4h0M74.3 36.7h0M139.9 153.0h0M97.7 89.4h0M79.1 89.6h0M74.3 49.4h0M53.4 38.5h0M100.8 89.3h0M86.6 115.7h0M95.3 101.1h0M77.9 68.2h0M119.0 142.7h0M78.8 81.2h0M87.3 46.8h0M77.6 59.4h0M90.5 78.8h0M98.7 85.0h0M54.6 41.9h0M78.1 69.1h0M85.7 110.8h0M114.6 139.7h0M73.0 69.6h0M91.1 114.9h0M96.9 102.7h0M86.9 112.9h0M95.6 48.2h0M67.7 78.7h0M95.3 86.3h0M55.6 36.6h0M85.0 78.0h0M96.1 133.3h0M95.4 100.4h0M75.5 43.5h0M77.8 66.7h0M103.4 96.7h0M99.9 104.5h0M79.2 36.7h0M85.0 90.0h0M98.4 46.9h0M139.3 153.1h0M96.4 96.3h0M94.4 87.6h0M80.7 57.7h0M69.6 78.9h0M92.7 130.0h0M97.7 85.7h0M100.4 91.9h0M91.6 50.5h0M90.5 97.9h0M90.2 117.0h0M81.2 120.4h0M89.0 112.9h0M100.0 89.1h0M70.7 78.2h0M79.0 50.6h0M91.8 118.0h0M54.0 37.8h0M98.1 88.9h0M88.5 43.5h0M76.2 55.5h0M82.6 93.1h0M101.2 97.1h0M83.1 78.9h0M89.3 86.6h0M99.6 128.3h0M87.7 109.7h0M105.2 107.5h0M88.5 115.2h0M85.2 64.7h0M97.0 92.3h0M87.8 49.9h0M50.7 38.5h0M74.0 60.2h0M94.3 98.0h0M83.7 106.3h0M99.8 96.7h0M94.2 82.8h0M86.7 62.1h0M99.8 103.0h0M96.2 94.9h0M80.3 110.1h0M99.2 88.8h0M98.9 88.7h0M104.5 131.9h0M86.3 97.6h0M127.2 145.8h0M72.7 38.2h0M95.6 44.8h0M51.4 42.7h0M95.1 46.3h0M86.4 93.5h0M88.6 47.2h0M51.2 42.6h0M86.7 82.2h0M58.7 46.5h0M88.4 114.2h0M75.1 62.6h0M55.3 42.0h0M105.5 133.8h0M83.3 107.8h0M53.4 43.0h0M80.2 57.2h0M88.9 118.8h0M70.4 58.7h0M101.9 128.1h0M73.2 70.4h0M98.2 128.5h0M84.6 93.6h0M91.9 118.7h0M82.1 87.0h0M88.5 62.1h0M95.0 90.0h0M79.5 99.1h0M79.3 59.4h0M86.5 98.4h0M104.8 129.7h0M96.5 92.9h0M91.6 85.5h0M97.6 101.8h0M70.5 82.3h0M83.1 73.9h0M87.6 62.1h0M75.6 65.8h0M101.3 91.6h0M91.8 119.5h0M88.0 42.8h0M91.0 115.8h0M111.5 134.4h0M55.2 41.8h0M72.5 66.0h0M102.9 105.4h0M87.2 109.1h0M93.7 48.8h0M106.3 107.9h0M79.4 98.4h0M85.1 65.4h0M87.4 110.5h0M83.3 80.7h0M79.6 80.4h0M96.4 46.3h0M75.7 59.6h0M89.6 113.7h0M76.4 66.6h0M87.4 122.3h0M84.6 82.4h0M49.6 35.5h0M96.1 90.4h0M101.5 130.6h0M52.8 42.4h0M69.0 34.8h0M63.7 36.8h0M94.0 100.9h0M96.6 87.7h0M86.5 58.3h0M89.2 79.0h0M71.2 79.1h0M88.1 91.1h0M52.7 43.4h0M93.0 98.8h0M57.0 37.6h0M105.4 99.0h0M94.8 96.0h0M76.1 46.0h0M101.9 104.4h0M79.8 112.1h0M82.2 82.6h0M70.1 72.3h0M80.7 38.3h0M47.2 40.7h0M69.6 82.8h0M89.7 45.3h0M85.9 93.9h0M84.2 79.4h0M79.0 56.5h0M118.2 139.1h0M74.5 52.6h0M83.6 42.3h0M89.9 118.2h0M75.6 61.8h0M107.3 132.6h0M77.8 66.1h0M97.8 103.2h0M97.7 82.8h0M94.7 131.3h0M100.5 90.1h0M87.8 112.4h0M80.2 110.7h0M90.2 44.3h0M102.1 130.7h0M77.8 98.0h0M81.7 59.6h0M64.0 47.2h0M93.6 100.4h0M101.8 102.2h0M82.1 102.5h0M78.2 48.1h0M116.6 138.0h0M95.9 95.4h0M107.7 107.9h0M85.5 99.5h0M88.7 91.5h0M86.9 91.8h0M48.6 42.3h0M91.0 52.1h0M77.6 58.4h0M83.7 108.0h0M80.0 39.7h0M105.1 99.2h0M47.9 37.8h0M78.5 69.2h0M95.0 46.5h0M84.1 94.2h0M81.4 72.0h0M94.9 100.4h0M83.9 121.8h0M112.7 139.3h0M51.8 43.0h0M89.5 111.4h0M57.5 43.5h0M86.0 84.1h0M96.8 89.2h0M83.9 104.2h0M72.0 50.4h0M94.2 130.6h0M78.6 88.7h0M79.3 57.6h0M93.7 45.8h0M81.6 39.2h0M82.0 42.2h0M82.4 93.3h0M57.6 37.1h0M53.6 38.0h0M78.8 59.5h0M83.3 96.1h0M92.3 117.4h0M85.8 91.3h0M88.3 122.8h0M108.5 108.2h0M98.1 95.8h0M82.8 115.4h0M82.8 85.9h0M87.4 99.1h0M94.0 96.6h0M88.3 47.9h0M79.7 94.6h0M73.7 72.5h0M139.1 153.7h0M78.3 46.1h0M81.8 43.8h0M54.2 42.1h0M99.4 91.1h0M99.0 45.7h0M86.7 99.7h0M68.6 93.3h0M83.6 105.7h0M105.3 98.2h0M115.5 138.4h0M96.1 93.0h0M75.2 107.1h0M93.2 98.4h0M73.8 109.5h0M69.7 35.0h0M77.9 44.1h0M95.9 91.5h0M91.3 83.2h0M88.4 117.7h0M84.0 122.3h0M72.6 65.3h0M71.1 77.0h0M96.7 98.6h0M92.4 99.2h0M95.5 91.0h0M96.0 86.3h0M84.8 112.5h0M94.0 97.6h0M89.5 124.0h0M87.6 94.6h0M94.0 88.2h0M84.0 110.1h0M86.4 113.9h0M76.3 72.2h0M72.5 67.7h0M97.8 99.5h0M98.8 96.5h0M120.3 139.9h0M95.4 89.4h0M77.8 106.5h0M100.9 96.4h0M90.9 99.2h0M107.0 103.3h0M90.0 99.0h0M55.9 37.5h0M78.7 98.4h0M99.2 100.8h0M67.6 88.9h0M69.5 88.3h0M92.0 87.0h0M105.6 102.3h0M77.4 57.9h0M84.7 85.4h0M74.9 107.7h0M103.4 127.7h0M83.4 103.2h0M82.1 104.1h0M86.7 88.8h0M106.7 102.1h0M85.0 58.6h0M89.1 123.4h0M83.2 109.9h0M84.9 88.4h0M89.5 116.4h0M81.8 43.5h0M77.7 114.5h0M48.0 39.3h0M78.1 45.4h0M87.5 115.3h0M95.1 87.4h0M80.5 83.5h0M119.6 140.1h0M104.7 130.7h0M92.9 95.3h0M75.0 51.6h0M54.7 43.0h0M104.4 101.9h0M82.7 106.9h0M69.1 49.7h0M85.3 77.5h0M82.6 91.9h0M115.5 138.0h0M69.7 56.0h0M53.1 42.3h0M109.2 133.4h0M87.4 123.8h0M99.9 84.7h0M86.3 107.7h0M137.7 152.7h0M85.7 112.6h0M70.4 72.8h0M135.7 152.4h0M92.5 85.6h0M50.8 43.3h0M94.0 49.6h0M86.5 114.8h0M90.2 83.3h0M83.5 42.9h0M85.2 89.4h0M105.2 132.4h0M88.2 58.0h0M92.2 50.3h0M99.1 99.1h0M80.6 95.5h0M81.0 58.9h0M96.0 96.9h0M91.3 79.9h0M85.8 82.5h0M53.7 43.9h0M119.8 140.7h0M65.7 36.3h0M86.4 110.0h0M91.2 120.9h0M80.0 89.9h0M89.3 119.2h0M85.0 116.9h0M82.7 61.6h0M81.2 41.2h0M110.4 139.0h0M89.6 48.3h0M72.4 80.0h0M94.8 84.4h0M87.6 59.0h0M93.9 47.3h0M98.7 85.9h0M97.3 88.2h0M85.6 77.6h0M87.4 98.0h0M108.6 106.9h0M72.4 37.1h0M69.5 49.3h0M66.9 77.8h0M85.3 105.6h0M84.7 91.6h0M92.6 76.7h0M93.2 52.4h0M98.4 90.2h0M82.7 80.1h0M86.3 48.7h0M97.4 44.2h0M106.0 106.3h0M104.3 128.7h0M84.5 117.5h0M106.6 131.3h0M52.4 45.9h0M77.5 38.9h0M87.4 95.2h0M87.3 64.5h0M101.5 103.9h0M90.5 51.8h0M60.7 41.7h0M91.7 43.1h0M57.0 37.3h0M82.9 59.9h0M98.9 126.0h0M91.7 87.7h0M84.4 91.7h0M89.9 114.2h0M68.3 76.1h0M87.9 115.8h0M110.0 133.7h0M102.6 103.8h0M94.7 93.7h0M67.0 79.6h0M108.4 109.1h0M49.4 37.6h0M84.1 112.2h0M82.1 59.9h0M96.8 93.7h0M80.5 86.1h0M85.4 90.7h0M97.7 85.1h0M75.1 38.3h0M120.4 141.2h0M93.9 93.8h0M56.9 46.0h0M101.0 98.8h0M98.3 45.9h0M55.2 45.2h0M85.2 83.2h0M86.1 81.7h0M106.1 129.7h0M102.6 128.8h0M81.1 71.6h0M94.4 89.8h0M79.3 50.9h0M81.4 105.1h0M81.0 87.0h0M83.4 107.4h0M83.2 101.3h0M87.2 116.3h0M88.2 49.0h0M101.4 99.7h0M73.4 68.1h0M106.3 102.9h0M76.5 98.3h0M108.3 105.2h0M81.3 101.8h0M89.3 111.0h0M88.5 113.9h0M99.4 86.0h0M104.0 131.7h0M53.0 44.7h0M67.6 75.2h0M96.6 125.1h0M78.1 56.0h0M106.0 136.3h0M78.6 57.3h0M86.0 100.1h0M77.3 65.4h0M117.1 142.2h0M89.2 127.6h0M116.4 138.7h0M68.6 86.7h0M100.3 96.3h0M88.3 96.3h0M88.5 99.0h0M84.9 93.0h0M68.9 72.0h0M94.4 86.3h0M98.6 86.8h0M74.8 49.1h0M80.6 85.8h0M91.3 119.4h0M82.4 65.6h0M89.3 116.9h0M92.6 130.5h0M105.1 137.9h0M84.4 123.6h0M83.4 89.3h0M92.2 120.7h0M59.0 46.2h0M104.2 102.8h0M82.9 106.5h0M94.7 50.6h0M84.1 89.0h0M80.1 96.0h0M75.6 48.3h0M94.5 81.1h0M89.9 52.7h0M93.7 84.0h0M89.6 97.0h0M70.2 36.6h0M67.4 76.6h0M90.0 117.9h0M83.5 90.2h0M137.6 152.4h0M77.0 38.6h0M91.7 117.5h0M91.4 86.9h0M53.0 44.6h0M82.8 95.4h0M91.8 45.0h0M99.7 94.0h0M68.4 77.3h0M90.2 115.3h0M79.0 37.2h0M89.1 122.5h0M79.2 41.1h0M83.6 123.8h0M88.5 111.5h0M83.9 107.4h0M83.4 79.8h0M99.6 97.0h0M81.9 91.2h0M69.8 36.3h0M99.2 84.3h0M82.6 61.8h0M76.2 79.4h0M107.6 103.9h0M74.2 49.1h0M73.9 70.0h0M104.8 134.5h0M76.4 34.2h0M82.4 58.0h0M59.8 37.4h0M83.5 57.7h0M66.2 85.9h0M66.8 43.1h0M78.3 38.0h0M80.2 73.5h0M105.2 133.2h0M94.9 45.3h0M104.2 101.1h0M105.3 130.8h0M88.5 49.5h0M83.7 96.8h0M97.7 98.4h0M89.5 48.2h0M101.0 103.1h0M82.2 81.6h0M89.1 94.5h0M98.3 94.0h0M81.6 102.8h0M97.1 90.8h0M82.6 81.5h0M54.5 38.4h0M81.1 58.1h0M93.8 129.4h0M87.8 46.2h0M88.8 95.5h0M97.3 99.9h0M47.1 38.7h0M96.1 83.4h0M65.5 36.3h0M91.0 121.2h0M79.4 40.3h0M90.3 79.2h0M105.6 132.9h0M94.6 85.2h0M77.3 66.3h0M103.1 100.4h0M105.4 107.6h0M91.7 129.9h0M84.6 95.0h0M96.6 47.1h0" stroke="#0f9480" stroke-width="1.50"/><path d="M74.3 56.9h0M80.6 82.1h0M60.3 40.3h0M81.1 82.1h0M96.6 101.8h0M78.7 113.6h0M82.0 78.1h0M71.8 107.9h0M75.4 71.8h0M80.4 82.6h0M81.5 79.5h0M96.0 101.2h0M77.4 91.5h0M106.6 100.1h0M94.1 99.5h0M75.5 66.7h0M77.4 84.6h0M71.5 58.3h0M57.7 35.3h0" stroke="#f2e84e" stroke-width="1.50"/><path d="M94.2 81.3h0M82.2 117.7h0M83.5 72.6h0M100.4 100.8h0M84.3 71.0h0M81.7 60.6h0M83.8 40.3h0M109.1 132.3h0M84.1 50.5h0M71.5 42.5h0M71.1 72.9h0M92.0 125.8h0M87.9 119.4h0M63.5 46.9h0M49.4 40.8h0M70.9 59.3h0M102.0 98.2h0M79.8 117.2h0M90.1 125.1h0M71.0 80.7h0M51.6 35.6h0M80.0 82.7h0M92.0 82.0h0M101.6 100.6h0M72.2 45.3h0M69.6 34.3h0M68.2 84.2h0M108.8 131.6h0M106.8 136.0h0M71.1 60.2h0M73.5 59.6h0M68.1 50.8h0M86.4 52.4h0M122.5 141.7h0M86.0 67.5h0M94.9 125.3h0M92.9 124.8h0M136.6 153.3h0M82.3 52.3h0M80.5 107.5h0M73.1 62.5h0M91.1 49.0h0M81.0 55.8h0M59.0 44.2h0M91.8 81.5h0M78.5 92.7h0M117.6 141.6h0M97.1 44.3h0M82.8 78.5h0M74.8 36.7h0M72.5 101.7h0M62.9 43.4h0M86.2 120.1h0M84.0 70.1h0M85.0 56.5h0M103.1 94.4h0M101.1 126.6h0M93.8 126.0h0M82.0 54.2h0M101.1 129.2h0M67.1 34.9h0M48.0 35.9h0M86.1 63.2h0M93.4 48.8h0M122.0 142.2h0M91.4 128.7h0M72.6 43.3h0M86.6 45.6h0M84.5 63.1h0M80.1 117.7h0M86.0 44.8h0M84.8 113.8h0M85.1 72.5h0M77.7 88.6h0M74.3 61.9h0M85.4 76.3h0M108.8 136.8h0M49.2 39.9h0M63.6 35.4h0M93.9 81.8h0M90.3 127.0h0M86.5 71.0h0M82.9 74.8h0M64.6 44.9h0M92.7 127.0h0M87.4 71.4h0M76.4 62.8h0M107.8 137.2h0M72.9 46.6h0M97.0 95.5h0M81.2 120.1h0M55.5 35.7h0M73.3 41.0h0M87.0 71.8h0M69.7 50.2h0M55.4 35.2h0M91.7 127.9h0M113.3 140.2h0M70.5 74.4h0M50.8 36.1h0M98.8 82.9h0M83.2 114.3h0M81.9 83.9h0M143.4 153.4h0M91.6 97.8h0M143.6 155.9h0M73.2 41.2h0M90.0 62.3h0M126.3 145.9h0M77.1 117.0h0M82.6 75.4h0M49.0 41.2h0M78.3 91.9h0M74.7 59.1h0M104.6 96.6h0M75.5 113.1h0M54.6 36.1h0M114.1 141.2h0M95.1 124.2h0M68.1 50.0h0M77.1 63.6h0M68.9 75.0h0M106.6 137.7h0M47.4 36.6h0M48.7 35.8h0M66.9 35.8h0M70.8 34.7h0M97.3 95.5h0M49.5 40.9h0M87.4 77.9h0M90.8 128.1h0M107.8 107.0h0M88.3 126.4h0M80.1 78.4h0M83.7 41.4h0M133.7 150.9h0M132.8 151.8h0M90.5 81.3h0M84.0 72.0h0M95.1 126.8h0M73.8 74.2h0M75.5 33.0h0M76.6 111.5h0M71.9 71.6h0M81.5 85.4h0M88.2 86.6h0M76.4 116.3h0M142.6 153.4h0M70.7 46.2h0M83.2 111.6h0M80.9 81.5h0M84.2 114.5h0M133.4 152.6h0M86.5 62.8h0M91.4 49.7h0M75.4 58.9h0M85.1 63.4h0M94.6 44.1h0M105.2 102.9h0M82.7 114.5h0M57.1 35.7h0M50.2 37.5h0M96.5 123.6h0M104.0 99.7h0M87.1 119.0h0M88.1 87.1h0M72.1 47.3h0M84.8 107.2h0M97.2 129.9h0M75.0 63.7h0M90.4 49.2h0M81.1 84.1h0M86.0 44.3h0M94.2 77.6h0M137.3 153.1h0M74.4 44.7h0M78.8 52.5h0M72.6 104.1h0M77.3 80.1h0M72.3 71.9h0M76.4 63.7h0M77.8 94.1h0M85.2 74.3h0M74.6 64.2h0M107.7 135.8h0M84.6 73.4h0M74.7 38.9h0M108.3 136.0h0M133.9 150.4h0M72.9 46.1h0M56.2 34.9h0M82.6 74.7h0M84.8 116.3h0M102.1 93.6h0M83.9 72.6h0M82.4 70.2h0M78.2 79.2h0M74.8 76.3h0M50.8 36.6h0M86.9 124.7h0M103.0 97.1h0M75.0 103.2h0M95.2 130.0h0M87.4 75.8h0M85.5 115.9h0M76.3 113.5h0M84.9 71.2h0M83.4 111.0h0M80.6 85.0h0M68.8 76.4h0M87.5 124.6h0M103.4 95.3h0M82.2 117.1h0M93.8 118.6h0M70.5 36.1h0M68.3 33.9h0M86.7 119.7h0M84.6 75.5h0M87.6 118.3h0M86.5 75.9h0M77.0 113.2h0M97.2 46.2h0M81.1 78.8h0M72.5 72.7h0M93.0 128.1h0M74.6 43.6h0M69.0 33.7h0M90.2 86.6h0M96.0 124.9h0M107.8 135.0h0M86.3 71.6h0M94.5 127.7h0M67.6 73.6h0M94.7 130.7h0M56.8 35.1h0M72.9 73.7h0M73.1 75.1h0M73.3 112.1h0M92.8 120.6h0M85.2 124.4h0M75.8 58.8h0M73.8 78.4h0M95.3 133.2h0M95.3 122.7h0M82.2 85.1h0M91.6 100.9h0M90.3 48.1h0M87.3 126.4h0M92.0 82.8h0M86.1 111.4h0M80.7 64.2h0M70.4 74.0h0M70.7 65.7h0M84.2 63.7h0M91.0 78.7h0M106.3 101.1h0M69.5 75.0h0M92.3 127.5h0M78.3 118.0h0M77.3 79.7h0M68.5 45.7h0M74.3 108.8h0M90.5 122.6h0M78.7 83.4h0M54.3 35.1h0M91.0 125.1h0M95.8 130.4h0M82.5 55.0h0M89.1 76.2h0M79.1 119.6h0M99.8 128.9h0M92.0 78.6h0M75.3 63.1h0M80.0 84.5h0M53.5 34.4h0M90.1 87.6h0M79.9 96.9h0M105.6 137.6h0M105.6 100.7h0M84.6 110.7h0M71.2 71.8h0M104.4 100.1h0M94.9 126.1h0M94.5 79.9h0M89.1 126.6h0M84.7 114.4h0M69.4 70.1h0M71.7 34.5h0M78.3 117.3h0M78.5 51.8h0M79.8 52.1h0M98.1 82.4h0M80.1 51.7h0M85.7 69.5h0M68.7 81.3h0M89.0 88.1h0M84.7 40.8h0M84.9 106.7h0M62.2 42.5h0M71.5 46.1h0M93.0 123.1h0M73.5 63.2h0M80.3 64.6h0M80.7 60.5h0M77.6 117.6h0M79.0 64.0h0M89.6 82.2h0M70.7 41.9h0M91.8 78.9h0M74.1 63.0h0M135.7 150.3h0M86.2 70.0h0M57.6 34.4h0M134.3 152.5h0M132.7 151.1h0M72.9 43.8h0M73.1 38.4h0M95.4 81.0h0M91.2 122.8h0M101.0 102.0h0M134.5 151.0h0M74.7 108.7h0M83.0 52.9h0M73.6 112.2h0M105.9 137.2h0M108.3 104.1h0M121.3 144.9h0M128.0 148.4h0M86.9 70.5h0M84.2 65.8h0M69.5 39.8h0M95.5 127.3h0M76.2 116.9h0M93.2 77.8h0M81.2 86.1h0M109.8 139.6h0M79.1 49.8h0M93.0 119.9h0M84.4 113.4h0M72.2 63.1h0M96.4 130.3h0M76.7 58.3h0M93.1 86.3h0M87.1 53.4h0M49.5 36.4h0M92.4 99.8h0M92.6 77.4h0M62.5 44.1h0M79.0 94.5h0M69.9 33.3h0M74.5 59.1h0M72.8 45.8h0M85.6 46.3h0M78.1 51.9h0M63.6 43.3h0M74.6 39.2h0M78.2 52.8h0M91.7 126.2h0M73.5 42.8h0M93.9 123.5h0M75.4 43.8h0M83.4 77.9h0M80.4 97.4h0M79.7 60.0h0M86.4 46.5h0M99.4 83.1h0M91.2 79.3h0M77.7 111.7h0M87.8 119.2h0M75.0 78.2h0M87.4 48.3h0M72.1 58.8h0M74.7 112.6h0M97.1 129.6h0M71.2 37.1h0M78.0 90.5h0M81.8 84.5h0M49.9 37.2h0M71.2 64.0h0M101.0 88.0h0M71.5 65.0h0M91.5 124.5h0M136.0 150.9h0M78.2 94.5h0M68.2 84.4h0M70.0 42.5h0M70.4 40.1h0M93.7 85.9h0M102.3 101.3h0M72.6 47.4h0M79.2 63.8h0M109.9 136.3h0M73.0 43.2h0M74.7 109.5h0M92.4 127.0h0M69.0 70.3h0M108.7 132.1h0M109.0 136.8h0M72.9 72.6h0M89.0 87.6h0M70.5 33.8h0M65.8 48.2h0M100.7 126.4h0M90.6 81.7h0M71.7 35.5h0M79.7 51.4h0M89.7 62.6h0M103.6 96.1h0M93.9 121.7h0M76.0 32.7h0M54.9 34.2h0M95.7 124.7h0M80.5 43.3h0M48.5 36.6h0M71.1 78.7h0M67.1 49.3h0M71.2 74.6h0M62.0 42.5h0M103.0 94.1h0M79.9 83.8h0M76.8 116.0h0M136.3 153.8h0M83.7 77.9h0M82.0 121.2h0M81.4 52.9h0M79.8 81.9h0M88.9 125.3h0M92.7 99.7h0M134.2 150.6h0M93.6 128.7h0M133.5 149.9h0M90.9 47.0h0M81.2 110.3h0M90.9 96.4h0M88.7 123.9h0M121.8 141.0h0M79.4 116.3h0M101.2 89.8h0M73.6 47.7h0M107.4 102.7h0M102.6 101.5h0M80.4 106.7h0M78.4 90.7h0M87.2 125.2h0M91.5 81.2h0M94.0 79.6h0M104.2 99.0h0M83.9 78.2h0M128.4 147.6h0M99.5 83.9h0M73.6 110.7h0M90.4 121.8h0M80.8 119.4h0M113.5 140.6h0M76.5 55.8h0M67.7 51.1h0M93.1 126.4h0M84.7 115.7h0M76.5 62.5h0M69.0 34.5h0M67.5 93.4h0M77.9 79.9h0M85.5 72.0h0M75.1 32.2h0M100.4 128.8h0M85.0 74.4h0M91.0 100.4h0M92.3 124.7h0M79.2 86.5h0M75.6 36.8h0M122.1 144.4h0M72.2 35.2h0M80.5 104.0h0M100.3 101.8h0M81.1 54.8h0M84.1 73.8h0M93.7 128.0h0M98.3 83.4h0M74.1 44.1h0M75.4 73.5h0M85.5 114.3h0M121.4 141.5h0M53.3 39.6h0M69.1 50.1h0M71.6 59.9h0M93.5 124.2h0M126.5 145.1h0M87.7 125.5h0M97.7 45.2h0M95.1 79.0h0M67.3 93.6h0M89.9 87.2h0M95.9 123.5h0M81.1 52.4h0M85.5 75.9h0M91.0 81.7h0M75.6 113.0h0M93.7 48.1h0M74.5 65.1h0M137.1 151.3h0M84.7 49.0h0M83.1 52.7h0M77.4 117.0h0M71.2 65.4h0M93.8 80.2h0M86.0 72.9h0M48.8 36.8h0M68.6 75.3h0M85.6 115.4h0M97.3 130.5h0M81.3 116.6h0M65.6 48.7h0M86.4 69.0h0M89.4 125.6h0M142.4 153.9h0M85.1 87.4h0M68.3 73.4h0M53.9 36.0h0M80.3 54.7h0M74.6 112.9h0M80.7 55.9h0M93.6 126.6h0M93.7 122.2h0M80.0 81.3h0M102.3 96.3h0M118.3 143.2h0M84.8 67.6h0M80.1 54.1h0M71.8 35.7h0M86.4 44.9h0M70.2 80.5h0M84.5 110.7h0M81.5 65.1h0M80.4 61.0h0M80.6 53.6h0M71.7 33.8h0M104.0 130.8h0M83.6 50.9h0" stroke="#48dc2c" stroke-width="1.50"/></g><path d="M82.4 89.6l1.2 .5" stroke="#fff" stroke-width="1.3"/><path d="M120.3 50.6h0M120.2 52.2h0M120.4 53.8h0M120.8 55.2h0M141.6 57.2h0M143.0 57.4h0M144.4 58.2h0M145.8 59.0h0M147.2 59.8h0M150.0 61.4h0M151.4 62.2h0M152.8 63.0h0M144.2 60.6h0M147.4 62.0h0M150.6 63.6h0M152.2 64.6h0M176.1 71.7h0M177.0 74.0h0M176.1 75.8h0M176.1 78.8h0M114.0 77.6h0M108.0 80.8h0M113.6 91.0h0M116.7 100.4h0M129.9 113.8h0M131.8 115.4h0M125.9 129.1h0M129.0 130.9h0M125.3 134.0h0M148.0 153.9h0M86.4 104.0h0" stroke="#0f9480" stroke-width="2.4"/><path d="M121.8 50.2h0M121.7 52.0h0M123.0 51.6h0M121.8 53.6h0M122.9 53.2h0M122.2 54.8h0M148.6 60.6h0M154.2 63.8h0M155.6 64.6h0M141.4 59.2h0M142.8 60.2h0M145.8 61.2h0M149.0 62.8h0M168.2 70.0h0M167.4 70.6h0M136.7 74.6h0M113.6 94.8h0M110.8 112.2h0M109.4 113.4h0M107.2 109.8h0M100.3 115.0h0M100.3 120.9h0M97.3 122.4h0M156.1 116.7h0M152.3 127.0h0M144.4 129.1h0M145.8 131.7h0M144.9 130.4h0M141.7 135.3h0M157.1 151.1h0M157.1 156.4h0M90.1 102.8h0M88.6 102.4h0M90.8 111.7h0M91.6 110.4h0" stroke="#aef01e" stroke-width="2.4"/><path d="M123.0 50.0h0M111.9 111.6h0" stroke="#dc5a12" stroke-width="2.4"/></g></g><text x="9.7" y="9.9" font-family="'Liberation Serif',serif" font-weight="bold" font-size="8.7" fill="#1a1a1a">(a)</text></g><g><rect x="226.40" y="16.56" width="164.86" height="151.54" fill="#fff" stroke="#8c8c8c" stroke-width="0.75"/><path d="M245.94 168.10v1.4M245.94 16.56v-1.4M278.88 168.10v1.4M278.88 16.56v-1.4M311.83 168.10v1.4M311.83 16.56v-1.4M344.78 168.10v1.4M344.78 16.56v-1.4M377.72 168.10v1.4M377.72 16.56v-1.4M226.40 36.55h-1.4M391.26 36.55h1.4M226.40 69.48h-1.4M391.26 69.48h1.4M226.40 102.41h-1.4M391.26 102.41h1.4M226.40 135.34h-1.4M391.26 135.34h1.4" stroke="#5a5a5a" stroke-width="0.55" fill="none"/><g font-size="4.30" fill="#151515" stroke="#151515" stroke-width="0.1"><text x="246.14" y="174.35" text-anchor="middle">117.410</text><text x="279.08" y="174.35" text-anchor="middle">117.415</text><text x="312.03" y="174.35" text-anchor="middle">117.420</text><text x="344.98" y="174.35" text-anchor="middle">117.425</text><text x="377.92" y="174.35" text-anchor="middle">117.430</text><text x="223.20" y="38.05" text-anchor="end">23.935</text><text x="223.20" y="70.98" text-anchor="end">23.930</text><text x="223.20" y="103.91" text-anchor="end">23.925</text><text x="223.20" y="136.84" text-anchor="end">23.920</text><text x="315.74" y="180.50" text-anchor="middle">Longitude (°E)</text><text transform="translate(207.10 85.13) rotate(-90)" text-anchor="middle">Latitude (°N)</text><text x="353.46" y="23.26">Dry season</text><text x="353.46" y="28.51">Dark condition</text></g><g transform="translate(226.40 16.56) scale(1.0083 1.0143) translate(-28.2 -16.9)"><polygon points="44.4,36.8 47.6,34.9 52.6,34.3 58.9,33.7 65.2,33.3 71.5,32.8 75.9,32.0 77.8,34.8 82.6,38.2 87.6,41.0 92.7,43.5 97.1,43.5 100.9,42.3 102.3,44.4 99.6,46.9 96.4,49.4 93.3,52.6 90.8,55.1 88.9,58.2 91.4,60.7 90.8,62.6 87.6,63.9 87.0,67.0 87.6,70.8 90.2,74.0 92.7,75.5 97.8,78.8 99.7,82.6 100.9,87.6 103.5,93.9 106.5,99.5 108.7,104.2 109.4,107.3 108.4,110.0 104.5,108.0 99.3,104.6 94.2,101.5 89.3,100.6 86.5,100.2 84.6,101.2 84.6,104.0 86.4,106.8 89.5,111.0 92.0,115.0 93.9,118.6 95.8,122.6 98.3,125.5 102.7,126.9 106.5,129.4 110.3,132.6 114.1,135.7 117.9,138.0 121.5,140.1 125.9,143.3 130.3,147.9 135.0,149.9 139.1,151.5 146.1,153.8 147.5,155.5 145.3,156.4 139.1,155.1 130.3,151.4 125.0,148.4 120.0,145.0 116.6,144.0 111.6,142.0 106.5,139.4 101.5,136.3 96.4,134.0 91.4,131.0 87.6,127.0 82.6,123.3 77.6,118.9 73.8,113.8 70.7,108.8 70.7,106.5 71.3,101.5 69.4,96.4 66.9,93.3 66.9,88.9 64.4,83.9 64.4,79.4 66.9,75.0 68.8,70.0 70.2,68.3 70.9,63.9 70.2,59.5 69.0,55.1 67.1,51.3 64.6,48.8 60.2,47.5 56.4,46.9 52.0,46.9 49.4,43.7 46.9,40.6 44.4,38.1" fill="#18bda7" stroke="#fff" stroke-width="1.5" stroke-linejoin="round"/><g fill="none" stroke-linecap="round"><g filter="url(#bl)"><path d="M70.1 84.5h0M66.9 43.8h0M101.4 44.1h0M88.2 60.6h0M78.0 90.3h0M57.4 36.3h0M87.0 52.5h0M71.2 62.1h0M121.6 141.6h0M90.0 128.5h0M84.5 50.8h0M83.7 97.2h0M90.4 62.1h0M82.0 49.2h0M88.3 115.5h0M86.7 90.1h0M94.0 87.6h0M78.0 83.5h0M78.7 76.5h0M70.5 53.3h0M72.1 104.9h0M67.7 79.6h0M78.0 107.9h0M77.3 106.1h0M73.3 104.6h0M95.8 78.5h0M68.0 77.3h0M85.0 54.2h0M58.5 46.1h0M126.0 147.3h0M75.6 106.9h0M82.6 62.4h0M53.1 45.3h0M71.7 63.6h0M94.4 77.2h0M86.1 72.2h0M72.3 52.6h0M81.1 62.0h0M81.6 43.0h0M79.9 54.5h0M94.2 92.3h0M86.9 125.3h0M73.5 67.3h0M77.4 44.4h0M115.3 142.6h0M74.6 44.0h0M71.6 88.1h0M91.6 86.1h0M69.5 86.0h0M77.6 38.9h0M73.8 109.7h0M100.0 103.7h0M74.3 89.0h0M83.9 86.5h0M88.6 93.2h0M61.1 40.3h0M83.4 69.8h0M68.0 85.0h0M87.3 70.5h0M53.4 44.4h0M80.4 68.9h0M92.0 127.9h0M88.3 54.5h0M84.4 56.5h0M90.6 79.3h0M91.6 116.3h0M90.1 48.3h0M79.0 67.0h0M83.4 96.4h0M81.5 84.0h0M77.3 54.9h0M95.4 81.0h0M89.5 82.9h0M87.5 117.0h0M56.4 43.9h0M99.2 129.3h0M83.7 118.3h0M57.7 43.6h0M84.0 100.0h0M77.1 104.3h0M86.6 125.8h0M72.3 103.4h0M138.6 154.6h0M116.7 138.6h0M78.6 60.6h0M77.7 45.4h0M77.4 37.4h0M82.6 95.7h0M78.9 87.5h0M49.6 35.9h0M75.8 64.1h0M88.1 123.3h0M69.8 77.0h0M71.4 71.0h0M121.9 142.2h0M89.6 59.4h0M85.0 64.2h0M93.6 80.5h0M94.7 127.4h0M74.1 69.3h0M83.2 88.4h0M67.8 89.7h0M109.9 136.4h0M87.7 118.7h0M64.3 39.0h0M78.4 39.6h0M76.7 62.0h0M78.3 100.8h0M53.2 46.3h0M69.4 42.0h0M91.1 80.1h0M92.3 52.3h0M95.8 99.4h0M54.3 40.8h0M82.1 113.4h0M89.1 110.7h0M83.3 77.3h0M92.3 77.2h0M80.0 66.1h0M77.0 105.1h0M79.8 48.9h0M66.4 86.4h0M78.2 78.6h0M73.1 40.1h0M97.4 100.5h0M101.1 89.8h0M87.1 119.9h0M85.9 110.8h0M92.2 83.5h0M78.7 78.1h0M84.5 53.7h0M90.8 75.7h0M70.1 53.3h0M78.4 119.0h0M91.4 77.3h0M68.7 80.7h0M82.3 83.7h0M75.1 103.7h0M87.0 74.4h0M83.9 85.2h0M101.5 100.7h0M86.3 112.7h0M67.0 88.2h0M83.7 75.7h0M69.5 83.5h0M84.0 84.9h0M84.0 93.6h0M67.0 77.7h0M82.4 101.8h0M84.7 86.8h0M80.8 56.9h0M74.1 73.2h0M98.5 130.6h0M71.9 46.7h0M82.4 116.5h0M50.2 35.1h0M73.1 97.0h0M99.6 131.6h0M75.6 105.3h0M84.6 41.2h0M80.2 38.6h0M85.2 96.7h0M49.0 38.9h0M79.2 61.7h0M55.0 38.3h0M91.9 50.6h0M116.2 141.7h0M67.3 85.2h0M72.8 53.5h0M93.1 120.0h0M67.8 42.7h0M88.6 82.4h0M83.6 54.3h0M89.7 127.5h0M79.8 115.7h0M68.3 78.3h0M72.5 67.6h0M82.2 65.3h0M76.9 109.9h0M109.0 138.9h0M82.1 53.1h0M85.1 66.2h0M87.4 62.9h0M144.1 154.7h0M89.0 73.7h0M103.0 135.5h0M83.5 45.7h0M85.5 51.6h0M74.7 87.8h0M86.8 92.2h0M80.9 67.6h0M137.0 153.3h0M122.0 145.8h0M92.7 128.5h0M62.5 41.3h0M74.2 54.0h0M90.0 125.2h0M86.7 116.4h0M68.5 40.1h0M93.2 99.2h0M74.9 107.8h0M115.4 142.8h0M102.8 131.9h0M66.9 39.2h0M70.1 87.4h0M74.8 64.9h0M78.2 45.7h0M81.1 97.7h0M86.5 124.3h0M91.1 117.3h0M72.4 39.8h0M74.9 34.6h0M78.7 93.1h0M71.3 106.6h0M140.2 154.1h0M107.1 138.8h0M74.0 49.3h0M78.3 73.4h0M93.2 130.2h0M95.2 46.6h0M133.2 150.5h0M79.5 96.9h0M81.6 119.6h0M45.5 37.0h0M75.4 73.3h0M90.3 121.7h0M139.2 151.6h0M67.5 87.0h0M105.2 101.4h0M80.7 84.0h0M95.0 130.1h0M80.0 63.0h0M83.4 61.9h0M83.3 91.6h0M87.6 86.5h0M82.4 51.4h0M87.0 57.2h0M81.2 73.7h0M80.6 84.6h0M82.5 45.6h0M71.2 48.5h0M76.6 113.0h0M101.1 45.3h0M73.4 83.7h0M60.6 35.5h0M78.0 74.1h0M74.5 107.1h0M59.0 44.7h0M75.2 50.4h0M72.4 105.9h0M84.6 71.1h0M84.6 115.8h0M81.3 65.5h0M68.5 44.4h0M91.3 88.3h0M97.3 81.4h0M74.2 83.1h0M91.4 119.1h0M82.8 89.4h0M80.5 48.4h0M84.5 61.3h0M65.7 39.0h0M87.8 81.4h0M73.0 33.6h0M71.5 97.1h0M68.2 80.1h0M72.1 41.9h0M72.3 89.4h0M124.2 144.0h0M58.9 37.4h0M92.9 45.4h0M101.9 130.8h0M77.0 40.9h0M125.5 145.5h0M71.8 42.7h0M71.3 50.9h0M71.2 73.8h0M109.4 140.0h0M84.7 97.5h0M81.4 111.3h0M104.1 137.2h0M76.9 100.1h0M49.3 35.5h0M88.8 44.1h0M82.0 84.9h0M77.7 86.4h0M93.9 95.6h0M71.6 41.1h0M74.0 33.0h0M67.9 77.0h0M66.6 80.7h0M73.8 37.9h0M61.4 37.9h0M83.2 94.4h0M75.6 95.1h0M109.4 140.6h0M92.5 93.6h0M97.0 125.7h0M62.4 44.2h0M117.8 142.2h0M72.9 107.0h0M76.2 109.2h0M104.2 132.5h0M123.3 144.7h0M99.3 83.4h0M90.1 95.9h0M90.5 87.1h0M94.8 85.4h0M82.8 116.2h0M76.3 106.3h0M86.8 99.5h0M72.0 34.1h0M72.5 98.2h0M79.2 45.2h0M78.0 116.0h0M81.0 91.7h0M97.0 45.7h0M136.6 153.8h0M86.1 49.9h0M99.4 86.0h0M84.4 116.1h0M100.2 129.5h0M65.0 38.3h0M95.0 124.2h0M94.2 47.4h0M67.8 48.4h0M52.7 44.5h0M73.2 39.2h0M100.6 43.6h0M86.9 114.9h0M82.8 45.3h0M93.5 87.8h0M78.1 85.1h0M59.2 34.9h0M86.6 50.9h0M72.1 88.7h0M110.3 135.5h0M70.5 86.1h0M100.5 88.5h0M93.5 85.2h0M80.0 94.0h0M86.9 120.6h0M83.3 43.9h0M70.8 61.7h0M78.3 112.5h0M86.2 88.1h0M74.1 102.4h0M71.2 43.9h0M75.5 48.5h0M110.8 139.5h0M72.9 48.6h0M68.8 94.1h0M87.2 117.3h0M89.8 98.9h0M84.6 91.1h0M113.9 137.7h0M87.2 73.7h0M78.4 56.1h0M73.5 45.7h0M82.8 104.3h0M73.9 110.7h0M100.7 88.9h0M99.4 84.8h0M85.8 83.7h0M54.3 42.8h0M93.0 80.6h0M141.3 155.4h0M67.9 83.2h0M92.6 90.3h0M88.8 57.0h0M86.3 115.8h0M90.6 127.9h0M50.7 40.0h0M82.8 85.9h0M83.8 57.6h0M80.6 88.0h0M73.3 99.6h0M80.1 92.8h0M73.3 71.6h0M87.5 125.4h0M67.8 46.2h0M50.7 38.9h0M73.9 80.7h0M93.4 44.4h0M78.4 42.8h0M97.9 45.9h0M81.1 117.5h0M55.0 42.2h0M91.3 124.6h0M73.5 40.2h0M74.9 43.6h0M87.9 50.8h0M95.4 45.1h0M70.8 74.1h0M61.9 45.0h0M74.8 71.2h0M70.4 40.4h0M142.3 153.1h0M99.9 93.5h0M90.1 60.5h0M112.6 141.6h0M126.2 146.0h0M90.0 49.9h0M98.7 131.3h0M78.5 96.7h0M78.8 58.9h0M68.9 50.4h0M83.4 98.9h0M58.9 44.4h0M87.9 110.0h0M69.8 82.9h0M82.3 70.7h0M75.7 108.5h0M70.2 89.5h0M86.0 59.7h0M85.4 60.7h0M74.0 108.4h0M90.4 122.4h0M74.5 65.6h0M67.0 49.6h0M70.1 50.2h0M70.3 34.4h0M124.6 142.9h0M80.8 69.9h0M85.4 85.1h0M104.7 131.6h0M65.4 37.4h0M82.1 52.7h0M79.7 47.3h0M89.3 119.3h0M85.2 114.6h0M74.4 46.5h0M84.7 120.9h0M77.2 85.1h0M61.0 33.9h0M83.3 91.3h0M80.7 55.8h0M92.4 96.4h0M72.4 87.1h0M68.4 91.3h0M82.2 91.8h0M88.6 61.9h0M75.1 46.8h0M77.0 113.6h0M84.3 94.7h0M72.1 96.9h0M70.1 75.4h0M80.7 42.6h0M68.4 89.4h0M89.6 49.4h0M80.4 53.9h0M63.8 41.5h0M74.9 82.8h0M86.4 112.0h0M69.9 48.7h0M86.2 57.4h0M77.5 105.9h0M68.4 47.7h0M80.7 112.9h0M80.2 72.2h0M86.2 63.8h0M82.9 93.2h0M101.5 130.2h0M54.4 37.2h0M82.2 69.5h0M78.5 62.0h0M75.8 58.1h0M66.9 47.4h0M75.6 52.1h0M83.4 48.0h0M76.5 71.3h0M95.6 46.4h0M76.7 43.3h0M73.2 99.1h0M58.3 46.0h0M80.4 77.6h0M67.1 46.0h0M91.4 50.9h0M71.8 45.7h0M76.5 42.5h0M91.6 43.8h0M106.6 138.2h0M84.5 65.9h0M93.2 91.6h0M88.1 46.0h0M94.7 82.0h0M77.9 49.7h0M70.6 50.1h0M85.3 62.9h0M85.6 93.1h0M91.4 127.1h0M73.8 71.8h0M77.6 70.6h0M77.1 37.2h0M76.8 80.2h0M78.2 79.8h0M93.5 121.3h0M77.4 51.1h0M78.5 71.9h0M71.0 95.7h0M79.8 40.7h0M88.3 45.0h0M65.1 40.4h0M74.0 47.7h0M71.3 39.1h0M86.6 61.9h0M68.2 40.2h0M78.0 94.1h0M97.6 93.8h0M56.8 43.7h0M93.2 95.7h0M47.7 39.2h0M97.8 82.9h0M81.8 45.0h0M82.0 64.3h0M116.8 138.2h0M79.5 51.0h0M70.1 81.9h0M91.1 115.5h0M100.2 100.0h0M83.2 116.7h0M49.8 41.2h0M110.3 138.5h0M75.2 107.3h0M62.4 37.3h0M81.5 44.6h0M94.9 128.2h0M114.0 136.1h0M73.6 41.4h0M83.9 51.6h0M100.4 132.9h0M98.6 86.4h0M70.4 46.4h0M91.3 118.1h0M73.3 96.0h0M99.8 128.5h0M98.8 127.3h0M93.3 129.8h0M81.3 51.5h0M122.3 144.2h0M85.9 93.3h0M99.6 90.5h0M97.0 93.4h0M115.3 137.2h0M72.5 105.4h0M90.5 114.6h0M114.6 140.4h0M60.6 45.0h0M77.3 82.9h0M50.0 42.0h0M78.5 50.8h0M90.5 98.6h0M68.7 80.1h0M84.6 84.1h0M74.0 40.7h0M76.7 85.7h0M89.8 82.0h0M106.0 129.9h0M82.0 68.2h0M79.3 45.8h0M106.4 135.6h0M81.3 76.7h0M81.6 48.9h0M81.3 87.0h0M100.5 91.0h0M87.9 116.4h0M78.8 86.8h0M87.4 87.1h0M143.3 155.2h0M93.5 90.0h0M80.1 96.5h0M98.1 45.8h0M107.6 139.8h0M84.0 65.0h0M77.6 39.6h0M60.1 40.2h0M94.4 94.7h0M69.9 46.1h0M74.1 49.1h0M71.4 33.5h0M77.1 75.0h0M86.1 90.9h0M79.6 38.8h0M79.9 107.2h0M86.6 65.2h0M99.5 133.4h0M84.8 108.7h0M82.3 80.2h0M82.4 72.6h0M78.6 110.8h0M66.8 33.9h0M78.7 103.6h0M87.2 59.7h0M73.3 105.2h0M78.6 64.4h0M122.2 144.7h0M82.8 83.6h0M77.8 96.5h0M94.8 48.2h0M113.8 137.2h0M80.3 62.6h0M96.9 48.0h0M81.4 64.4h0M112.2 139.7h0M80.2 73.1h0M78.8 80.1h0M53.4 35.1h0M81.6 108.1h0M68.2 81.9h0M63.6 48.3h0M84.3 116.9h0M53.8 39.3h0M86.8 71.8h0M78.1 55.7h0M94.1 97.1h0M91.2 49.6h0M70.1 46.9h0M94.0 87.9h0M92.6 79.8h0M112.0 137.0h0M137.8 153.7h0M77.4 40.7h0M94.7 122.5h0M76.3 41.4h0M70.4 96.0h0M81.3 55.2h0M68.9 40.9h0M85.7 48.1h0M71.9 100.8h0M73.6 109.6h0M86.4 109.7h0M83.9 95.1h0M77.1 110.7h0M54.7 43.4h0M80.6 71.2h0M112.2 140.1h0M82.3 92.6h0M58.7 42.0h0M74.8 78.8h0M71.2 83.4h0M92.2 129.6h0M83.6 65.5h0M89.1 112.0h0M76.6 100.7h0M60.9 35.7h0M80.3 93.6h0M100.9 88.4h0M46.8 39.0h0M91.7 127.9h0M83.3 93.8h0M59.6 45.8h0M82.9 87.5h0M122.7 143.4h0M71.3 69.2h0M73.9 89.8h0M86.8 96.4h0M91.6 47.1h0M126.7 146.7h0M62.9 34.8h0M81.9 107.6h0M68.0 38.7h0M81.4 76.1h0M80.4 47.9h0M82.6 108.3h0M71.3 61.1h0M111.3 138.5h0M85.4 67.7h0M62.3 46.2h0M66.4 85.9h0M95.7 129.1h0M81.6 85.2h0M87.4 57.9h0M93.5 77.6h0M100.7 105.2h0M80.0 55.3h0M91.2 85.9h0M69.0 82.4h0M76.4 72.3h0M84.5 102.0h0M92.3 51.1h0M87.6 96.7h0M87.6 53.0h0M89.7 98.4h0M87.6 110.5h0M125.3 143.9h0M74.9 53.8h0M95.2 125.7h0M96.4 129.2h0M79.1 105.4h0M83.3 114.2h0M78.6 95.6h0M77.7 67.3h0M64.9 42.4h0M90.0 43.8h0M96.8 95.0h0M110.8 137.7h0M63.5 34.6h0M113.7 141.6h0M137.9 152.9h0M97.7 98.0h0M77.0 109.1h0M119.8 141.4h0M71.2 96.7h0M82.1 50.9h0M102.5 92.5h0M65.9 80.7h0M90.0 50.1h0M79.7 84.4h0M72.4 72.9h0M94.1 85.6h0M78.8 77.3h0M101.8 99.4h0M74.6 81.7h0M83.9 41.0h0M92.7 51.0h0M61.1 45.9h0M71.6 70.7h0M78.2 105.7h0M79.1 84.8h0M98.3 91.7h0M73.2 49.7h0M71.6 102.0h0M95.5 46.5h0M69.9 88.4h0M74.3 68.6h0M100.9 135.7h0M72.8 54.1h0M108.7 138.7h0M89.8 43.7h0M68.2 53.0h0M89.4 125.6h0M78.3 36.5h0M82.2 67.3h0M104.7 98.1h0M73.4 112.6h0M75.7 115.7h0M92.7 120.4h0M80.8 76.4h0M68.6 35.8h0M82.4 47.8h0M76.0 82.9h0M84.0 108.4h0M76.4 100.1h0M72.7 47.3h0M77.9 71.8h0M85.5 85.7h0M92.6 87.0h0M83.3 95.8h0M81.5 91.0h0M81.3 120.4h0M105.4 105.5h0M68.5 41.1h0M82.1 41.1h0M80.1 40.0h0M89.1 61.1h0M92.7 50.9h0M53.8 43.1h0M74.4 70.1h0M133.4 151.0h0M78.1 103.6h0M83.4 66.8h0M103.5 95.1h0M86.4 108.8h0M83.3 112.3h0M62.2 38.2h0M47.3 39.4h0M62.5 47.7h0M78.8 85.8h0M97.2 47.1h0M82.3 62.9h0M88.0 59.7h0M115.5 140.3h0M58.4 35.3h0M84.4 92.9h0M110.9 134.2h0M71.4 80.3h0M87.3 74.4h0M86.9 43.2h0M84.2 62.8h0M71.4 67.6h0M71.1 91.5h0M78.9 50.0h0M114.7 141.4h0M76.7 107.1h0M76.2 111.4h0M84.5 44.6h0M85.5 67.0h0M84.0 69.5h0M50.2 43.2h0M66.5 39.3h0M71.0 55.3h0M71.8 100.3h0M85.9 67.8h0M93.9 119.9h0M73.5 102.7h0M86.0 89.2h0M92.9 128.1h0M89.4 80.5h0M82.2 100.1h0M70.2 69.8h0M90.2 126.2h0M76.1 68.9h0M49.8 37.3h0M91.1 122.4h0M58.4 39.8h0M77.6 101.5h0M142.5 153.6h0M113.3 137.8h0M90.2 118.7h0M50.6 40.8h0M79.8 59.4h0M89.7 77.0h0M85.5 48.3h0M87.2 117.9h0M69.7 73.3h0M64.7 84.0h0M93.4 48.7h0M84.3 53.5h0M81.4 49.7h0M117.3 138.5h0M80.5 91.1h0M81.2 53.7h0M61.4 47.0h0M122.8 141.9h0M73.5 101.8h0M93.4 81.0h0M73.5 46.7h0M85.8 87.0h0M86.2 60.9h0M54.5 44.5h0M84.3 52.7h0M86.3 46.3h0M75.4 77.8h0M100.4 104.1h0M74.5 112.6h0M84.6 113.4h0M69.3 71.6h0M83.4 51.4h0M81.1 100.0h0M72.2 76.6h0M112.5 136.6h0M93.3 98.2h0M80.8 108.3h0M110.6 133.5h0M89.3 53.6h0M73.2 95.7h0M72.4 51.6h0M70.0 45.3h0M71.2 66.9h0M89.0 95.6h0M122.7 145.2h0M49.8 37.5h0M81.8 80.2h0M76.5 86.2h0M67.5 35.9h0M74.7 53.1h0M62.0 35.9h0M70.8 72.0h0M82.2 46.7h0M97.7 45.1h0M82.4 44.1h0M83.6 122.1h0M51.6 43.6h0M81.9 56.2h0M82.1 103.2h0M60.8 37.6h0M99.9 44.3h0M89.0 94.8h0M72.7 98.9h0M80.1 110.6h0M78.2 83.2h0M93.5 96.1h0M82.3 78.4h0M70.8 83.6h0M69.5 78.0h0M83.7 39.7h0M68.4 84.7h0M80.2 119.1h0M72.0 38.5h0M94.9 121.9h0M68.1 93.6h0M94.3 123.4h0M74.1 71.3h0M117.7 143.1h0M78.9 98.5h0M81.0 73.2h0M140.4 153.7h0M70.0 49.3h0M80.7 62.9h0M117.9 140.3h0M65.5 81.0h0M55.6 40.4h0M80.2 40.3h0M100.2 128.8h0M87.9 72.0h0M94.6 93.2h0M95.0 94.8h0M88.0 93.9h0M86.8 87.1h0M74.0 99.2h0M73.4 81.4h0M87.1 44.4h0M108.9 107.0h0M83.2 121.8h0M79.1 70.6h0M75.9 70.8h0M63.2 43.7h0M85.0 87.6h0M86.2 114.6h0M90.2 119.5h0M69.0 87.3h0M54.0 40.1h0M96.1 95.0h0M52.9 40.2h0M70.8 41.2h0M62.2 46.6h0M78.5 68.2h0M74.6 77.8h0M86.8 41.3h0M76.8 56.2h0M103.2 132.0h0M85.6 90.5h0M103.1 128.1h0M76.2 47.0h0M52.3 36.4h0M80.2 115.4h0M82.3 115.4h0M108.4 107.2h0M81.1 77.5h0M78.1 77.6h0M96.0 44.3h0M99.1 92.8h0M101.5 135.3h0M49.2 37.2h0M103.2 101.9h0M82.9 64.6h0M81.4 45.9h0M70.3 84.9h0M88.3 50.5h0M84.4 88.7h0M79.7 116.3h0M115.0 142.8h0M84.1 108.6h0M117.9 139.0h0M58.8 34.2h0M76.6 48.4h0M81.1 118.4h0M85.1 82.4h0M70.6 38.0h0M95.0 46.3h0M89.6 94.1h0M95.6 127.6h0M76.7 116.8h0M69.7 41.0h0M61.5 40.9h0M90.2 43.5h0M72.7 45.9h0M107.1 108.6h0M76.3 33.5h0M74.8 111.8h0M69.1 37.4h0M86.7 111.2h0M106.6 100.4h0M75.0 109.2h0M85.7 79.6h0M115.3 141.8h0M79.8 49.4h0M93.6 122.7h0M82.3 76.9h0M84.0 114.6h0M96.4 98.0h0M67.7 84.2h0M88.5 96.2h0M110.0 139.9h0M92.4 122.0h0M81.1 48.0h0M90.8 115.9h0M69.6 79.9h0M71.6 51.3h0M64.0 42.5h0M86.6 45.9h0M98.2 89.3h0M69.5 37.0h0M88.8 94.1h0M75.6 50.6h0M89.2 76.1h0M99.2 88.4h0M73.3 108.2h0M65.7 47.8h0M77.4 55.0h0M74.7 44.0h0M122.6 141.7h0M82.3 94.2h0M76.3 110.4h0M72.4 68.5h0M71.0 99.3h0M78.2 94.4h0M74.8 73.7h0M77.5 47.5h0M68.9 53.5h0M87.8 41.8h0M83.6 70.8h0M119.9 140.8h0M54.5 35.1h0M83.0 55.7h0M107.9 131.7h0M88.1 60.7h0M82.3 83.0h0M71.2 52.3h0M80.2 92.1h0M92.5 126.3h0M74.8 101.3h0M85.9 115.1h0M69.0 94.4h0M85.8 110.0h0M77.2 115.6h0M99.4 130.2h0M83.9 43.1h0M64.9 46.3h0M97.8 92.2h0M90.7 115.4h0M65.5 48.0h0M73.9 41.2h0M51.4 40.2h0M125.7 145.2h0M58.7 40.2h0M92.9 81.6h0M102.3 133.3h0M74.0 99.7h0M71.4 63.0h0M89.0 97.2h0M93.7 129.6h0M65.9 46.8h0M70.6 43.4h0M86.1 62.6h0M101.8 132.1h0M75.8 47.6h0M75.0 52.7h0M79.2 39.7h0M86.4 66.1h0M82.3 98.0h0M109.7 137.4h0M85.5 53.3h0M81.6 82.6h0M79.6 116.8h0M100.1 45.1h0M81.2 111.2h0M79.6 70.8h0M86.8 75.6h0M65.8 80.5h0M102.7 105.8h0M87.1 73.1h0M74.3 35.1h0M89.6 116.4h0M78.7 94.4h0M71.7 105.6h0M83.3 98.6h0M87.2 123.7h0M57.1 40.4h0M68.9 48.9h0M72.7 95.0h0M92.5 117.3h0M103.5 134.2h0M75.8 38.4h0M75.7 72.9h0M67.7 86.0h0M64.6 35.8h0M81.8 67.4h0M83.2 101.2h0M66.0 38.0h0M72.8 96.1h0M64.6 40.4h0M85.0 99.4h0M83.7 74.4h0M97.4 90.8h0M59.4 44.7h0M99.3 90.9h0M65.0 39.2h0M72.9 52.1h0M98.6 94.5h0M74.2 100.9h0M82.2 45.2h0M79.4 48.1h0M76.3 51.4h0M95.5 49.9h0M72.9 103.2h0M87.3 52.7h0M92.7 100.8h0M90.9 119.7h0M72.0 80.8h0M81.1 72.1h0M49.3 38.3h0M73.6 110.6h0M83.3 59.1h0M84.2 107.6h0M68.5 37.5h0M94.4 83.8h0M79.9 76.6h0M68.0 39.7h0M77.3 48.2h0M119.8 143.9h0M66.4 37.3h0M61.8 39.4h0M72.0 50.9h0M73.8 33.9h0M88.0 90.1h0M76.1 56.4h0M90.3 126.9h0M82.7 96.6h0M87.0 91.0h0M94.0 92.6h0M86.7 118.8h0M92.6 85.7h0M68.7 72.8h0M79.3 76.1h0M78.1 73.3h0M70.4 82.7h0M80.2 111.6h0M79.1 79.5h0M86.1 122.8h0M85.6 94.2h0M65.8 84.8h0M84.7 112.2h0M78.3 48.7h0M81.8 55.6h0M78.1 35.8h0M77.8 50.8h0M87.9 44.0h0M110.6 137.3h0M69.4 39.6h0M77.5 88.5h0M71.5 71.7h0M56.2 42.8h0M67.8 41.5h0M78.9 115.5h0M72.5 48.5h0M89.7 83.9h0M81.5 84.9h0M96.3 129.8h0M92.5 119.4h0M85.2 123.2h0M89.1 63.1h0M85.4 58.9h0M58.3 35.8h0M66.9 48.6h0M55.6 43.2h0M84.9 40.6h0M73.6 101.3h0M91.6 43.3h0M85.1 108.4h0M82.2 117.7h0M124.1 143.2h0M73.2 53.8h0M97.8 82.0h0M95.5 47.5h0M77.0 39.8h0M92.9 78.5h0M70.9 62.4h0M81.9 77.1h0M80.3 87.5h0M76.6 64.7h0M88.7 82.8h0M94.6 131.0h0M81.2 88.7h0M74.8 38.8h0M57.8 40.7h0M87.4 73.0h0M81.0 40.2h0M97.4 87.2h0M85.3 93.8h0M77.5 43.6h0M56.2 45.1h0M88.3 124.3h0M77.3 90.2h0M70.3 70.1h0M73.6 50.7h0M100.8 132.3h0M84.0 122.8h0M75.5 57.7h0M97.3 131.9h0M82.1 65.4h0M76.2 81.8h0M108.7 137.8h0M81.7 107.4h0M85.6 86.5h0M101.2 134.6h0M88.9 117.1h0M87.6 118.3h0M78.5 73.6h0M73.2 90.4h0M67.4 79.5h0M81.4 86.9h0M68.7 52.1h0M73.7 88.9h0M69.5 51.8h0M90.6 80.5h0M89.1 118.0h0M101.0 131.4h0M78.5 70.8h0M71.8 64.7h0M86.7 57.4h0M113.3 138.3h0M94.3 131.9h0M56.9 40.1h0M85.3 51.0h0M84.9 49.1h0M80.5 118.2h0M74.7 94.6h0M89.6 47.8h0M74.1 51.4h0M69.9 41.3h0M115.5 140.0h0M91.1 94.2h0M73.8 101.6h0M94.9 99.9h0M74.2 67.7h0M85.9 120.2h0M71.9 35.7h0M78.1 104.3h0M83.2 105.0h0M71.6 86.8h0M97.9 99.0h0M69.7 79.6h0M79.9 110.8h0M73.8 42.8h0M99.9 101.9h0M97.0 92.8h0M104.4 106.4h0M91.1 93.3h0M71.8 108.5h0M99.2 101.8h0M84.6 58.0h0M60.7 46.8h0M74.0 83.4h0M86.4 77.2h0M70.8 52.5h0M87.3 43.4h0M85.8 116.7h0M72.6 75.1h0M81.2 75.1h0M93.7 78.3h0M79.7 50.3h0M86.9 92.5h0M83.3 49.7h0M82.2 119.3h0M87.9 56.7h0M54.1 45.7h0M91.5 79.6h0M83.8 41.3h0M86.0 107.9h0M69.2 77.7h0M72.4 95.7h0M99.5 134.2h0M145.5 155.0h0M70.8 75.8h0M78.9 75.7h0M79.9 96.8h0M80.2 49.6h0M100.5 130.5h0M85.1 53.1h0M81.2 69.6h0M96.1 96.7h0M46.8 35.7h0M98.1 97.6h0M81.5 68.7h0M76.7 75.4h0M62.6 35.9h0M85.4 57.0h0M75.9 102.3h0M100.5 90.4h0M70.3 79.0h0M71.9 34.7h0M86.1 56.6h0M76.2 56.1h0M95.3 78.3h0M83.4 111.4h0M62.3 34.1h0M83.3 48.8h0M97.9 130.0h0M86.3 121.0h0M83.8 109.6h0M117.9 139.5h0M71.5 95.0h0M64.8 48.8h0M84.7 44.5h0M83.2 110.9h0M69.5 77.1h0M78.0 81.1h0M80.7 97.1h0M84.0 59.6h0M106.3 137.1h0M79.5 41.2h0M55.8 41.3h0M85.5 62.7h0M115.6 137.7h0M119.5 142.1h0M77.2 116.0h0M79.0 46.1h0M93.9 127.8h0M87.2 88.6h0M91.9 85.1h0M77.4 116.9h0M100.8 91.1h0M95.5 95.4h0M73.1 69.5h0M72.6 42.5h0M76.6 51.8h0M74.0 43.6h0M71.7 108.8h0M82.4 121.5h0M103.6 105.3h0M79.7 83.2h0M78.4 45.4h0M100.6 96.6h0M88.7 119.8h0M77.7 100.1h0M78.7 59.2h0M84.9 124.3h0M80.3 86.6h0M73.8 86.1h0M83.5 41.3h0M68.2 81.2h0M77.3 103.5h0M97.0 128.2h0M77.5 100.5h0M95.2 95.1h0M138.1 151.8h0M100.9 133.1h0M93.5 94.6h0M83.3 40.1h0M67.9 94.3h0M67.6 92.8h0M79.1 115.8h0M86.3 118.0h0M96.3 89.9h0M86.2 56.3h0M87.9 124.4h0M96.4 44.5h0M123.2 145.5h0M98.2 85.9h0M78.3 67.3h0M122.7 143.7h0M86.5 114.6h0M58.9 38.2h0M85.3 89.5h0M85.9 42.2h0M97.4 90.4h0M75.0 32.6h0M76.3 110.2h0M56.6 39.5h0M58.1 41.2h0M53.8 46.8h0M68.5 85.5h0M84.6 49.2h0M77.9 46.9h0M79.4 109.9h0M76.4 103.4h0M71.9 45.0h0M104.1 128.5h0M77.7 111.3h0M72.2 38.2h0M96.7 96.1h0M84.6 69.0h0M86.5 108.1h0M69.9 89.5h0M80.4 54.9h0M89.6 94.2h0M68.4 83.5h0M54.3 44.7h0M78.1 107.6h0M65.7 34.7h0M67.6 73.7h0M76.0 69.0h0M72.9 68.1h0M82.8 118.0h0M76.5 38.2h0M53.1 36.6h0M74.1 106.6h0M76.5 73.0h0M76.7 38.7h0M85.1 52.5h0M98.0 79.9h0M74.4 85.5h0M56.9 36.9h0M95.4 79.9h0M96.1 125.5h0M134.7 152.6h0M81.1 78.2h0M93.7 93.8h0M98.3 83.1h0M78.8 103.0h0M94.4 127.2h0M82.1 40.8h0M100.3 131.7h0M87.5 46.5h0M65.7 46.4h0M84.3 83.3h0M74.6 50.4h0M78.7 40.9h0M76.5 70.6h0M67.7 47.2h0M75.3 94.0h0M87.4 63.7h0M142.6 155.3h0M65.4 47.3h0M76.9 79.2h0M70.2 48.7h0M88.8 61.4h0M109.8 140.3h0M84.0 62.1h0M93.9 128.4h0M71.0 106.3h0M96.8 92.3h0M106.9 131.3h0M76.5 102.6h0M76.9 87.8h0M83.8 73.6h0M87.1 76.7h0M68.2 73.2h0M88.9 111.6h0M75.1 114.9h0M102.3 135.3h0M72.4 64.2h0M88.9 59.7h0M66.6 76.5h0M84.5 89.5h0M59.4 34.9h0M94.7 81.3h0M68.2 88.7h0M76.4 75.1h0M88.6 83.6h0M78.5 52.1h0M83.1 72.1h0M73.2 45.3h0M73.7 67.1h0M72.6 33.7h0M95.6 89.6h0M70.4 57.6h0M52.3 39.9h0M85.7 54.1h0M83.9 68.5h0M71.8 49.4h0M82.0 57.0h0M67.2 43.1h0M111.9 141.0h0M80.3 66.7h0M89.4 50.1h0M73.8 94.4h0M82.3 100.6h0M54.4 35.9h0M85.3 115.2h0M102.1 134.6h0M83.9 91.8h0M70.7 96.9h0M63.1 45.7h0M68.4 42.1h0M74.7 70.5h0M107.0 107.3h0M71.2 56.7h0M78.6 60.9h0M67.4 41.5h0M81.4 57.1h0M124.0 142.4h0M78.7 81.3h0M70.2 87.8h0M83.8 105.5h0M85.6 76.0h0M81.8 101.3h0M85.4 62.3h0M69.8 56.2h0M106.1 134.7h0M93.3 89.1h0M107.3 108.4h0M114.3 136.8h0M72.7 108.8h0M102.8 93.0h0M79.3 43.0h0M87.5 111.7h0M143.0 155.6h0M88.3 54.9h0M49.9 40.8h0M78.7 97.5h0M113.5 138.6h0M45.3 38.0h0M63.1 35.1h0M87.9 48.7h0M87.6 44.9h0M84.5 123.2h0M85.3 89.9h0M107.6 107.5h0M71.1 75.2h0M121.9 143.6h0M61.8 39.1h0M55.3 45.3h0M91.6 90.0h0M61.6 35.4h0M76.2 86.9h0M79.4 86.4h0M77.8 95.7h0M84.8 85.6h0M76.7 52.5h0M69.4 80.9h0M70.5 56.2h0M81.8 39.7h0M83.5 115.4h0M82.5 39.3h0M48.3 39.3h0M76.2 114.1h0M91.4 129.3h0M96.9 46.7h0M76.4 45.9h0M92.6 89.2h0M103.5 105.9h0M71.7 97.9h0M75.7 113.2h0M92.2 48.3h0M84.0 118.7h0M74.9 103.0h0M63.0 44.9h0M105.5 131.7h0M84.2 45.5h0M92.1 130.6h0M86.4 46.9h0M73.3 61.0h0M72.0 77.5h0M87.1 86.1h0M83.1 70.3h0M60.5 37.3h0M67.0 86.2h0M86.0 80.3h0M79.3 114.5h0M80.5 109.4h0M87.2 81.8h0M77.3 64.0h0M67.0 50.3h0M91.8 118.8h0M94.8 80.3h0M93.7 121.5h0M76.9 72.3h0M75.3 49.3h0M70.6 56.6h0M73.2 51.6h0M93.8 46.5h0M102.6 134.6h0M120.7 145.4h0M72.8 67.0h0M88.2 118.1h0M47.7 38.3h0M88.2 42.5h0M62.9 38.8h0M86.0 73.6h0M83.5 75.2h0M76.6 76.4h0M72.5 93.4h0M57.6 44.4h0M69.4 69.4h0M74.4 96.8h0M103.1 130.3h0M90.3 120.3h0M84.2 121.0h0M72.0 80.3h0M73.6 60.7h0M98.2 81.6h0M98.8 101.2h0M74.7 106.5h0M72.2 54.8h0M77.1 101.4h0M80.7 85.6h0M91.4 76.3h0M89.1 119.6h0M55.0 38.8h0M55.0 41.6h0M93.1 122.8h0M83.2 64.4h0M92.2 116.2h0M62.4 45.5h0M98.3 98.3h0M71.7 87.6h0M79.8 119.6h0M77.1 54.5h0M93.4 96.9h0M53.7 36.1h0M79.3 83.4h0M65.1 40.1h0M82.5 93.8h0M65.2 43.8h0M71.2 83.0h0M105.5 100.8h0M80.0 111.5h0M77.5 65.3h0M72.5 108.2h0M102.9 132.9h0M64.3 46.1h0M86.5 89.4h0M75.2 69.7h0M57.0 35.0h0M66.5 41.6h0M83.2 108.2h0M80.1 45.3h0M66.6 39.3h0M66.0 33.8h0M86.3 83.2h0M88.6 62.9h0M72.3 107.4h0M94.6 91.0h0M77.2 78.3h0M68.7 72.3h0M83.1 75.6h0M68.7 46.9h0M92.1 127.2h0M81.3 65.1h0M99.3 89.3h0M65.4 80.2h0M96.7 130.7h0M79.3 85.6h0M77.5 38.0h0M68.3 71.9h0M79.3 106.7h0M96.0 123.2h0M66.8 35.1h0M91.7 76.1h0M74.4 46.3h0M85.1 39.9h0M76.8 41.1h0M106.9 138.3h0M79.4 53.6h0M83.1 102.0h0M61.7 33.7h0M85.4 61.6h0M96.7 131.7h0M78.0 93.1h0M121.4 141.6h0M95.6 81.6h0M70.1 97.8h0M84.3 114.9h0M100.8 91.5h0M108.7 139.2h0M86.2 76.8h0M83.7 76.5h0M87.6 71.6h0M115.1 137.5h0M109.0 133.5h0M72.5 73.5h0M69.6 72.3h0M69.3 70.5h0M73.5 38.2h0M90.3 74.6h0M99.4 126.8h0M74.1 64.6h0M71.0 75.0h0M98.8 129.6h0M86.6 63.7h0M60.8 44.4h0M89.6 88.6h0M51.2 41.5h0M78.9 47.6h0M71.8 68.3h0M99.5 101.2h0M137.4 151.2h0M84.5 66.4h0M61.2 44.5h0M88.7 118.5h0M78.4 43.9h0M73.8 84.9h0M66.4 49.2h0M94.6 123.5h0M71.2 73.2h0M85.0 78.8h0M86.8 62.7h0M70.2 77.0h0M104.8 129.7h0M75.0 101.7h0M66.3 40.2h0M95.7 101.6h0M59.0 43.1h0M119.3 141.8h0M99.6 45.7h0M90.8 90.9h0M86.7 60.1h0M95.6 49.1h0M80.3 89.4h0M69.2 83.3h0M78.1 89.1h0M71.6 107.2h0M91.1 91.3h0M63.7 47.5h0M57.5 44.9h0M80.6 99.7h0M83.0 40.7h0M101.5 105.7h0M77.8 42.7h0M97.1 100.6h0M92.4 45.8h0M88.6 90.3h0M106.0 130.6h0M70.4 90.1h0M71.1 84.8h0M78.2 85.7h0M73.7 106.0h0M77.7 109.6h0M85.0 88.0h0M73.3 62.9h0M99.3 93.4h0M78.0 118.8h0M103.8 129.4h0M71.7 80.8h0M100.1 127.3h0M120.5 143.4h0M86.1 46.6h0M68.2 48.2h0M71.7 53.2h0M82.1 79.5h0M90.5 96.2h0M87.6 42.1h0M80.5 43.3h0M91.2 121.0h0M105.2 137.3h0M89.7 48.7h0M82.3 38.6h0M76.2 96.8h0M98.7 89.9h0M80.1 78.1h0M84.5 87.2h0M80.1 50.9h0M68.5 71.5h0M57.8 37.1h0M74.4 95.7h0M73.9 87.0h0M79.9 89.5h0M111.3 137.2h0M103.6 107.1h0M57.0 46.3h0M137.4 152.6h0M83.6 76.7h0M95.7 125.8h0M98.9 91.4h0M89.1 62.5h0M141.7 154.5h0M96.6 124.0h0M78.1 91.4h0M51.7 43.8h0M92.0 82.0h0M88.3 43.5h0M95.2 89.7h0M71.4 98.7h0M76.4 104.2h0M99.9 84.0h0M104.0 104.8h0M85.2 66.3h0M83.7 77.6h0M73.2 109.4h0M79.2 78.6h0M71.8 95.9h0M69.6 89.7h0M83.2 43.0h0M81.7 52.5h0M67.2 40.4h0M86.9 45.5h0M83.0 54.6h0M88.8 116.6h0M79.8 73.4h0M55.5 39.7h0M62.5 43.4h0M135.3 151.6h0M81.1 63.1h0M90.7 118.3h0M79.1 51.6h0M92.2 99.0h0M83.0 73.8h0M72.1 47.6h0M74.0 88.3h0M87.3 81.9h0M75.0 33.1h0M91.6 128.7h0M80.2 110.2h0M84.5 55.5h0M78.3 41.1h0M74.4 109.0h0M67.4 85.1h0M87.0 66.5h0M124.0 143.7h0M92.3 43.8h0M69.3 47.7h0M69.3 86.4h0M64.1 46.8h0M55.9 40.4h0M74.9 75.0h0M83.0 67.7h0M81.1 59.0h0M97.1 79.0h0M60.5 41.1h0M97.5 97.7h0M69.5 38.1h0M100.2 132.6h0M92.0 128.9h0M54.5 38.0h0M72.9 112.0h0M74.6 105.3h0M75.9 49.6h0M77.3 88.2h0M78.0 87.2h0M75.7 38.1h0M86.2 119.3h0M72.6 99.8h0M94.7 48.3h0M73.0 70.5h0M80.5 46.1h0M78.1 70.9h0M67.8 50.6h0M80.9 44.3h0M112.3 137.8h0M86.1 73.3h0M86.8 121.2h0M63.1 42.1h0M89.2 84.9h0M90.3 77.6h0M55.4 45.6h0M73.4 98.2h0M64.6 47.6h0M77.5 48.4h0M82.7 102.7h0M82.9 78.4h0M108.4 108.1h0M117.1 143.9h0M79.3 60.6h0M80.4 73.9h0M117.0 141.1h0" stroke="#18bda7" stroke-width="1.50"/><path d="M107.3 133.2h0M56.3 46.1h0M90.5 129.4h0M93.1 93.3h0M76.0 85.0h0M76.8 68.1h0M63.1 40.5h0M84.8 48.2h0M75.4 97.6h0M71.7 47.4h0M80.0 101.8h0M67.1 46.6h0M109.4 136.6h0M77.5 62.5h0M65.4 36.4h0M81.8 71.6h0M64.1 38.2h0M96.3 124.8h0M100.1 94.6h0M104.2 101.6h0M79.2 62.6h0M112.7 140.9h0M56.0 37.1h0M87.8 92.8h0M70.7 88.2h0M55.5 35.0h0M78.4 57.1h0M83.6 90.2h0M78.5 57.7h0M74.3 45.1h0M78.6 84.2h0M77.7 52.5h0M110.8 136.2h0M69.5 94.5h0M79.2 63.7h0M79.6 69.6h0M92.7 117.5h0M64.6 81.0h0M80.4 41.5h0M70.8 78.0h0M89.1 122.5h0M94.5 98.8h0M83.5 57.5h0M84.5 45.9h0M70.1 38.9h0M72.2 90.8h0M49.6 38.7h0M101.3 98.1h0M89.1 115.3h0M124.5 146.7h0M70.6 92.8h0M59.4 44.1h0M92.1 43.3h0M85.8 81.2h0M72.0 78.2h0M77.0 46.1h0M94.2 90.5h0M82.0 110.7h0M66.1 81.8h0M86.0 43.7h0M80.2 53.0h0M106.5 129.9h0M79.1 89.3h0M80.5 69.7h0M96.3 80.7h0M83.8 63.8h0M79.7 104.8h0M88.6 78.1h0M79.2 87.8h0M92.3 122.8h0M68.4 51.3h0M74.2 74.9h0M81.3 103.5h0M91.1 51.6h0M87.8 55.8h0M81.9 59.3h0M83.2 53.1h0M67.0 35.7h0M75.7 83.7h0M67.2 42.3h0M79.4 79.5h0M88.0 88.5h0M99.2 44.4h0M81.0 102.8h0M65.5 83.5h0M80.8 97.9h0M75.1 42.0h0M67.4 75.0h0M89.3 45.0h0M108.3 134.9h0M65.0 45.1h0M85.8 124.9h0M111.1 135.0h0M91.6 53.7h0M80.9 102.8h0M62.6 40.5h0M73.6 55.7h0M82.3 81.9h0M88.8 77.8h0M79.9 70.0h0M75.9 54.7h0M81.2 37.8h0M85.3 45.0h0M94.5 79.1h0M74.1 91.2h0M86.5 68.8h0M139.3 153.4h0M79.8 37.5h0M81.6 105.6h0M84.4 72.4h0M85.9 69.2h0M68.1 34.9h0M54.5 39.1h0M52.7 36.7h0M109.4 136.4h0M116.6 142.8h0M85.2 75.4h0M88.7 47.7h0M79.2 92.6h0M53.5 41.2h0M94.2 96.0h0M73.8 59.4h0M93.3 124.4h0M80.0 59.0h0M73.5 79.6h0M79.0 38.7h0M87.9 75.9h0M71.7 43.5h0M81.0 52.8h0M108.7 136.8h0M128.1 147.1h0M74.7 56.1h0M81.0 116.4h0M70.3 51.1h0M87.4 49.7h0M87.9 78.5h0M96.2 132.6h0M86.2 58.2h0M51.0 43.7h0M80.4 105.3h0M102.0 131.9h0M94.7 43.7h0M84.4 68.0h0M85.2 65.1h0M77.4 81.8h0M57.0 34.2h0M57.0 42.4h0M69.7 74.4h0M77.3 66.4h0M105.9 107.7h0M89.6 91.7h0M97.1 95.6h0M88.4 48.3h0M50.6 44.0h0M71.7 91.1h0M71.5 37.4h0M77.6 76.4h0M77.4 97.1h0M96.0 85.3h0M100.3 93.2h0M77.4 61.0h0M95.2 87.0h0M74.6 38.8h0M78.1 53.6h0M72.8 63.4h0M75.3 99.6h0M89.6 52.4h0M85.0 100.3h0M90.0 55.3h0M71.4 77.2h0M77.4 60.2h0M71.9 79.3h0M96.9 97.2h0M66.4 48.3h0M71.8 59.4h0M52.7 43.0h0M86.9 79.1h0M80.5 81.7h0M75.9 99.2h0M93.7 84.8h0M71.8 54.2h0M82.0 75.0h0M58.6 39.0h0M71.7 102.8h0M82.4 88.1h0M86.1 52.1h0M95.0 49.7h0M93.7 118.4h0M77.0 53.3h0M82.8 52.7h0M105.9 137.7h0M124.8 144.6h0M87.4 61.6h0M74.1 61.0h0M89.0 125.7h0M56.6 38.5h0M87.4 54.0h0M91.3 48.1h0M83.7 78.5h0M87.4 95.2h0M91.4 45.1h0M85.7 44.8h0M85.0 46.3h0M85.5 91.5h0M87.2 56.1h0M87.7 100.1h0M90.1 51.5h0M47.2 37.1h0M77.0 45.4h0M127.7 147.6h0M89.8 44.3h0M76.1 66.5h0M79.2 90.2h0M96.4 48.8h0M86.8 53.8h0M90.0 46.9h0M92.3 79.3h0M102.7 96.1h0M56.6 35.6h0M80.9 107.0h0M89.5 120.7h0M118.7 143.5h0M74.4 97.8h0M72.0 90.1h0M80.0 103.6h0M120.6 140.4h0M63.3 36.5h0M89.7 96.5h0M76.5 67.9h0M95.9 82.9h0M90.1 89.0h0M54.4 41.3h0M96.3 90.8h0M73.8 103.8h0M48.9 42.1h0M98.1 93.2h0M81.5 90.0h0M68.2 92.2h0M116.4 143.8h0M102.5 95.7h0M139.7 153.4h0M77.1 56.5h0M74.1 56.0h0M79.8 98.1h0M81.6 98.6h0M84.9 100.6h0M89.4 81.0h0M51.2 34.6h0M101.2 104.9h0M101.7 98.5h0M90.5 94.8h0M74.0 113.6h0M48.3 36.5h0M94.5 82.7h0M80.2 114.0h0M75.6 54.5h0M94.2 124.8h0M56.2 43.7h0M89.0 91.3h0M48.7 40.5h0M80.4 82.8h0M77.3 77.6h0M85.6 41.2h0M81.0 114.5h0M103.9 97.2h0M78.7 109.7h0M90.9 84.6h0M108.0 133.6h0M89.7 86.7h0M76.1 94.6h0M100.7 87.4h0M93.1 83.4h0M79.9 113.7h0M75.8 70.1h0M79.3 92.0h0M92.6 99.9h0M84.2 49.5h0M88.3 56.3h0M57.4 38.4h0M88.7 92.2h0M75.4 72.1h0M99.6 94.2h0M80.1 74.8h0M85.7 60.2h0M125.7 146.6h0M85.7 64.6h0M68.3 74.9h0M121.3 141.9h0M69.9 90.8h0M97.1 80.5h0M66.4 36.5h0M59.0 41.9h0M99.7 86.1h0M94.8 88.2h0M73.7 75.2h0M99.2 46.8h0M83.4 97.2h0M64.9 41.8h0M98.6 128.7h0M99.6 102.3h0M85.1 106.0h0M81.1 106.3h0M84.8 54.9h0M102.6 98.1h0M72.5 71.7h0M77.8 98.5h0M75.6 73.9h0M85.3 122.0h0M72.3 76.0h0M75.4 104.8h0M92.1 94.4h0M74.2 57.4h0M85.7 99.0h0M84.9 77.0h0M84.2 106.5h0M64.7 41.6h0M73.0 56.5h0M98.6 43.9h0M85.0 80.3h0M91.0 81.8h0M86.9 98.0h0M48.8 41.8h0M89.9 46.6h0M73.7 59.4h0M70.6 77.4h0M72.7 58.0h0M81.4 115.4h0M106.8 130.9h0M67.9 33.7h0M74.7 95.9h0M93.3 90.9h0M72.7 65.4h0M68.6 74.3h0M76.0 40.8h0M70.5 94.7h0M102.1 93.3h0M73.6 91.2h0M52.7 35.1h0M93.6 79.5h0M91.3 48.3h0M88.9 98.9h0M96.4 102.1h0M93.9 124.2h0M63.8 38.0h0M100.4 102.3h0M65.9 79.7h0M65.1 78.4h0M98.1 83.9h0M81.5 79.5h0M75.9 87.3h0M85.1 118.9h0M98.2 99.8h0M79.1 82.9h0M66.4 35.1h0M75.9 85.6h0M75.5 60.0h0M84.3 70.3h0M72.2 85.6h0M74.8 45.3h0M95.9 97.8h0M75.1 66.8h0M71.0 85.6h0M87.5 80.6h0M97.0 132.8h0M55.3 37.4h0M75.1 40.5h0M63.9 37.4h0M83.2 60.9h0M63.3 39.0h0M68.5 49.2h0M74.4 63.0h0M46.0 39.0h0M84.3 122.0h0M77.2 69.3h0M70.5 80.2h0M99.2 44.7h0M82.4 71.7h0M96.4 126.6h0M93.6 82.9h0M63.0 47.2h0M81.1 96.4h0M76.1 43.3h0M82.1 114.3h0M63.0 39.8h0M83.6 73.3h0M68.4 91.8h0M92.8 117.7h0M84.3 42.0h0M86.5 81.5h0M74.9 76.5h0M74.7 98.7h0M80.5 79.7h0M113.0 135.6h0M77.7 57.8h0M67.3 84.1h0M89.7 112.3h0M79.0 62.9h0M92.5 88.7h0M78.5 88.3h0M77.3 89.1h0M86.2 96.6h0M79.0 92.2h0M67.2 37.5h0M88.1 89.5h0M97.3 94.9h0M79.6 102.8h0M62.4 42.8h0M77.0 57.3h0M86.7 48.5h0M83.4 102.8h0M79.3 119.3h0M103.4 97.0h0M78.0 118.2h0M94.4 82.4h0M96.7 45.4h0M75.5 114.3h0M79.2 88.5h0M70.8 35.4h0M145.9 155.1h0M77.0 94.8h0M78.0 110.8h0M96.6 133.2h0M95.3 93.7h0M127.7 146.2h0M76.4 63.3h0M46.7 37.4h0M84.9 70.5h0M76.6 61.1h0M107.0 133.6h0M107.4 136.0h0M126.3 148.6h0M90.3 82.6h0M61.6 42.6h0M76.4 42.7h0M80.3 75.8h0M77.2 114.5h0M75.2 89.7h0M73.8 64.0h0M92.6 92.5h0M71.1 92.9h0M75.0 39.9h0M79.2 56.0h0M71.0 81.9h0M96.9 86.3h0M69.5 74.3h0M73.9 56.8h0M91.7 51.9h0M75.2 58.8h0M77.0 90.6h0M72.4 36.0h0M71.1 38.0h0M64.5 34.3h0M93.2 47.6h0M72.7 101.0h0M89.7 86.0h0M108.8 136.3h0M79.1 43.0h0M70.9 50.0h0M75.3 88.7h0M85.1 79.7h0M103.1 100.6h0M94.6 86.6h0M60.4 43.0h0M74.0 76.7h0M98.1 87.4h0M132.0 149.6h0M85.8 78.3h0M84.4 72.7h0M62.2 39.8h0M75.8 62.0h0M73.9 78.5h0M88.3 77.0h0M89.8 55.0h0M88.3 121.0h0M72.6 92.4h0M65.1 78.9h0M75.7 89.9h0M79.2 56.6h0M105.9 102.1h0M87.3 79.3h0M59.7 41.9h0M85.0 59.1h0M90.8 78.3h0M83.9 58.7h0M70.6 68.8h0M74.7 98.4h0M76.3 76.1h0M75.4 85.6h0M83.8 81.7h0M76.9 46.5h0M72.0 44.0h0M102.5 127.5h0M81.6 99.4h0M88.1 125.7h0M80.8 65.1h0M82.6 111.5h0M71.6 76.0h0M84.6 83.2h0M72.8 61.4h0M95.4 88.0h0M82.2 99.1h0M83.4 58.4h0M71.8 41.0h0M97.0 99.4h0M77.5 79.2h0M55.8 37.8h0M88.0 55.2h0M80.3 65.9h0M86.9 58.2h0M89.8 54.5h0M98.2 133.9h0M70.2 33.8h0M85.6 109.1h0M139.3 154.2h0M89.0 86.6h0M69.6 34.7h0M90.6 123.9h0M73.3 85.1h0M53.6 38.2h0M63.8 37.1h0M71.6 78.2h0M68.4 33.7h0M76.1 60.5h0M106.0 104.9h0M91.6 45.8h0M78.1 66.3h0M87.4 58.3h0M79.7 107.7h0M75.2 46.2h0M71.0 64.4h0M93.5 125.7h0M85.2 119.7h0M95.2 84.2h0M82.5 48.4h0M76.3 77.6h0M118.6 142.2h0M68.4 86.3h0M84.1 104.1h0M73.3 37.2h0M90.7 52.0h0M86.5 69.4h0M101.8 128.6h0M95.7 90.2h0M79.1 64.8h0M81.4 93.8h0M96.5 85.0h0M87.2 84.1h0M82.9 110.1h0M77.9 41.1h0M89.9 46.0h0M88.8 88.8h0M79.9 67.3h0M70.5 93.6h0M51.6 45.1h0M73.2 71.7h0M75.8 112.2h0M71.0 60.2h0M73.7 64.2h0M78.4 118.3h0M55.0 35.7h0M94.1 86.5h0M86.2 97.1h0M94.4 101.0h0M68.3 86.5h0M97.8 89.2h0M90.7 93.9h0M91.0 91.9h0M75.3 79.0h0M84.6 91.7h0M90.5 82.0h0M86.3 70.3h0M85.0 73.1h0M92.3 125.2h0M76.3 45.4h0M92.3 118.3h0M82.9 107.6h0M82.5 91.1h0M76.0 59.2h0M88.8 79.5h0M104.5 104.7h0M86.0 123.3h0M87.1 83.3h0M76.7 95.8h0M91.0 99.3h0M90.5 100.1h0M92.0 81.0h0M78.2 75.1h0M114.2 142.9h0M50.9 36.7h0M85.7 124.0h0M72.5 111.2h0M70.0 52.7h0M85.9 68.3h0M99.3 103.8h0M90.3 45.2h0M85.0 50.3h0M61.7 42.9h0M88.8 49.8h0M69.4 54.2h0M75.0 85.1h0M77.5 113.5h0M94.0 81.2h0M92.3 45.4h0M74.9 59.4h0M88.4 97.8h0M104.5 134.0h0M48.5 40.7h0M77.6 58.9h0M73.2 82.3h0M102.5 101.7h0M91.6 95.7h0M71.3 93.5h0M93.7 91.0h0M78.9 106.5h0M80.5 104.6h0M88.6 58.0h0M73.3 88.3h0M69.8 92.2h0M90.2 80.8h0M108.0 134.3h0M73.2 87.2h0M79.6 95.7h0M90.4 117.0h0M77.2 92.6h0M66.3 83.5h0M96.1 93.0h0M94.9 43.9h0M87.6 73.5h0M88.5 81.5h0M89.5 56.0h0M61.1 39.5h0M70.8 54.4h0M74.0 111.3h0M88.9 51.8h0M59.9 39.9h0M82.7 58.5h0M83.1 84.8h0M89.6 78.8h0M87.4 62.4h0M95.9 97.2h0M93.7 98.7h0M91.8 47.8h0M87.5 121.4h0M78.6 82.1h0M52.6 38.1h0M87.1 47.7h0M73.5 86.9h0M93.7 100.2h0M69.7 33.5h0M75.2 96.8h0M97.6 102.0h0M53.5 41.0h0M99.1 99.7h0M72.9 44.5h0M81.0 109.5h0M75.6 61.5h0M84.1 79.1h0M75.6 79.4h0M78.6 111.6h0M79.3 81.1h0M82.0 60.6h0M128.6 147.3h0M93.6 120.6h0M93.4 49.3h0M95.3 131.9h0M98.6 98.8h0M80.0 99.3h0M90.0 54.5h0M116.7 140.1h0M74.5 79.8h0M57.4 41.1h0M97.8 43.6h0M106.8 134.7h0M71.0 59.1h0M82.7 89.3h0M79.5 99.7h0M99.0 87.2h0M65.6 82.0h0M106.9 134.6h0M73.5 75.8h0M76.3 78.5h0M85.9 44.3h0M89.1 87.8h0M75.4 90.7h0M130.4 150.1h0M74.8 51.1h0M80.1 61.2h0M101.6 101.4h0M98.1 93.4h0M101.6 102.6h0M89.9 74.5h0M89.1 99.8h0M76.5 83.5h0M95.7 93.4h0M75.9 97.7h0M63.9 35.0h0M47.4 38.2h0M92.5 124.4h0M74.9 76.1h0M57.5 38.1h0M86.8 80.5h0M77.8 62.9h0M86.9 70.9h0M97.9 128.0h0M82.6 57.4h0M68.2 34.5h0M87.6 82.7h0M52.0 37.8h0M70.7 36.9h0M50.8 35.9h0M80.6 113.8h0M82.7 117.2h0M82.4 54.5h0M84.7 95.0h0M90.9 80.8h0M76.9 44.3h0M76.0 93.4h0M71.3 65.9h0M76.2 65.6h0M82.6 89.9h0M91.0 87.6h0M84.9 117.4h0M61.9 41.1h0M85.0 111.3h0M94.6 77.3h0M87.2 122.2h0M95.0 84.9h0M68.5 90.3h0M101.2 93.8h0M88.1 115.5h0M88.6 114.3h0M94.6 92.3h0M85.1 110.3h0M118.9 143.4h0M80.2 51.2h0M87.5 83.6h0M93.1 84.5h0M72.8 45.0h0M126.1 144.9h0M85.9 77.5h0M52.9 41.4h0M48.8 40.0h0M80.4 95.5h0M90.4 85.1h0M75.1 112.3h0M72.6 69.7h0M92.6 91.3h0M84.2 98.3h0M88.7 127.0h0M131.4 150.8h0M78.1 66.2h0M88.4 125.4h0M75.7 92.3h0M72.6 57.0h0M71.8 55.3h0M76.2 80.4h0M88.1 91.5h0M75.6 44.3h0M73.7 58.5h0M136.1 151.0h0M77.2 98.8h0M104.0 132.9h0M72.2 70.3h0M143.9 154.0h0M51.8 41.5h0M85.8 121.6h0M67.2 78.1h0M79.5 72.3h0M81.9 67.1h0M70.6 38.6h0M74.5 54.8h0M78.8 101.7h0M92.1 123.1h0M73.1 57.7h0M98.0 44.0h0M80.6 60.3h0M97.5 88.4h0M68.5 78.6h0M105.0 97.6h0M92.1 82.8h0M105.4 102.5h0M75.2 80.0h0M78.5 90.4h0M83.6 106.4h0M71.8 76.3h0M94.1 44.0h0M123.9 145.8h0M88.8 121.8h0M77.2 93.8h0M95.3 100.7h0M82.2 71.4h0M101.2 94.3h0M74.8 61.7h0M85.1 43.6h0M71.5 60.7h0M72.3 84.1h0M84.0 54.6h0M82.6 74.3h0M124.7 145.9h0M72.2 56.3h0M72.1 86.3h0M83.8 103.1h0M67.2 83.0h0M83.7 103.4h0M96.6 83.8h0M91.4 53.0h0M88.9 123.5h0M70.4 91.1h0M72.5 102.4h0M86.7 78.8h0M74.9 56.8h0M84.9 42.3h0M98.0 83.8h0M96.6 83.1h0M82.2 122.4h0M79.3 44.4h0M95.0 128.7h0M48.3 42.0h0M95.4 100.5h0M72.7 42.9h0M78.3 65.6h0M80.1 120.3h0M79.5 74.2h0M85.7 55.2h0M90.8 91.9h0M79.3 66.5h0M69.2 34.4h0M75.5 64.4h0M80.5 63.9h0M71.8 56.3h0M95.6 126.8h0M82.9 109.1h0M80.8 115.9h0M75.6 88.7h0M57.6 42.7h0M79.8 74.4h0M103.2 95.1h0M97.7 95.8h0M76.7 63.2h0M60.1 35.9h0M96.2 100.3h0M116.6 139.3h0M97.6 96.6h0M95.4 84.4h0M70.8 42.3h0M95.6 132.9h0M99.7 99.1h0M58.6 36.4h0M83.6 57.0h0M84.4 124.1h0M80.6 79.9h0M98.2 87.9h0M87.1 93.4h0M78.8 69.6h0M78.4 117.2h0M85.3 74.5h0M66.4 78.3h0M65.7 82.6h0M74.0 93.7h0M70.8 47.3h0M114.4 139.7h0M85.8 81.8h0M107.0 102.8h0M98.8 45.2h0M81.2 81.2h0M95.8 91.9h0M67.7 43.1h0M77.9 112.8h0M73.4 93.3h0M90.6 47.9h0M92.1 53.2h0M50.2 39.3h0M82.2 104.5h0M92.3 78.4h0M89.0 122.2h0M70.2 35.7h0M78.5 54.0h0M109.7 134.4h0M81.4 60.6h0M75.0 110.2h0M98.0 93.2h0M86.9 53.1h0M84.9 73.8h0M86.6 61.0h0M141.3 154.0h0M73.6 76.4h0M80.3 103.5h0M72.1 37.3h0M81.7 104.6h0M89.3 92.7h0M85.4 77.5h0M85.9 84.9h0M95.7 84.0h0M77.3 73.6h0M91.7 121.2h0M87.2 84.7h0M85.4 46.5h0M98.1 101.8h0M71.4 89.8h0M96.1 86.6h0M72.1 60.3h0M78.9 99.3h0M101.8 91.1h0M72.7 70.9h0M78.9 107.3h0M69.4 35.6h0M89.9 89.2h0M67.6 49.4h0M74.9 92.8h0M74.5 97.2h0M57.8 38.4h0M83.0 103.2h0M88.8 52.2h0M82.0 61.5h0M81.6 59.8h0M98.9 96.7h0M90.5 45.9h0M93.0 93.2h0M84.0 48.5h0M75.8 67.6h0M94.6 45.5h0M104.4 103.9h0M99.4 96.1h0M102.3 97.6h0M87.3 97.9h0M82.9 82.9h0M80.0 68.2h0M97.3 130.8h0M72.9 85.8h0M76.7 96.3h0M99.0 43.5h0M74.1 91.5h0M90.3 85.7h0M95.7 124.5h0M76.4 81.4h0M90.3 76.3h0M76.5 60.5h0M89.8 121.2h0M81.5 61.3h0M113.6 140.3h0M55.3 44.3h0M85.4 98.0h0M74.4 58.8h0M80.4 57.5h0M83.0 68.4h0M85.7 98.0h0M75.1 67.2h0M85.1 56.3h0M88.2 80.5h0M85.7 95.6h0M79.3 101.3h0M77.7 53.9h0M73.6 42.9h0M51.3 36.4h0M85.2 106.9h0M102.5 100.5h0M88.3 85.7h0M94.3 45.1h0M68.4 79.2h0M84.0 46.6h0M82.7 86.4h0M82.1 43.0h0M103.2 104.6h0M74.3 79.0h0M66.7 80.0h0M128.0 148.8h0M74.6 66.8h0M79.8 65.1h0M96.9 81.6h0M93.8 50.7h0M69.9 92.7h0M80.8 59.5h0M75.2 63.4h0M89.1 77.8h0M81.8 118.7h0M90.8 53.1h0M74.1 60.5h0M79.3 79.8h0M93.5 86.7h0M86.4 97.0h0M82.9 63.3h0M80.9 38.1h0M83.7 80.8h0M81.1 82.2h0M90.3 97.6h0M100.5 101.2h0M94.4 98.2h0M92.0 120.8h0M69.7 35.9h0M83.9 70.9h0M107.5 132.3h0M82.0 105.0h0M70.6 58.7h0M46.1 38.0h0M80.6 52.7h0M74.8 41.6h0M81.6 70.3h0M72.2 59.3h0M52.0 34.9h0M80.2 101.1h0M82.0 110.0h0M74.9 54.9h0M79.8 117.9h0M93.3 79.1h0M81.6 112.4h0M77.3 81.7h0M76.3 89.6h0M83.9 60.0h0M75.3 82.1h0M91.4 100.1h0M59.7 43.6h0M60.2 38.8h0M110.0 134.2h0M88.6 87.3h0M80.0 105.7h0M97.7 128.4h0M88.0 86.0h0M88.9 88.2h0M87.5 97.4h0M81.2 113.9h0M82.7 106.6h0M59.7 46.8h0M73.9 39.7h0M73.1 55.1h0M87.2 99.8h0M76.9 65.8h0M71.9 85.6h0M87.4 95.0h0M92.7 99.8h0M75.3 81.4h0M98.0 99.6h0M75.1 105.6h0M109.6 135.2h0M93.4 126.6h0M66.7 81.9h0M123.7 147.2h0M75.4 86.1h0M88.9 52.8h0M107.9 134.5h0M79.0 99.9h0M61.1 42.7h0M76.8 58.5h0M87.0 49.7h0M97.7 85.2h0M94.3 89.2h0M96.4 88.0h0M84.9 111.0h0M82.1 87.7h0M76.3 92.6h0M96.4 88.9h0M90.8 99.3h0M69.2 76.7h0M97.7 126.9h0M78.7 53.4h0M79.3 81.8h0M68.8 74.8h0M85.3 81.1h0M102.1 105.3h0M64.9 34.1h0M88.1 98.8h0M81.3 95.8h0M84.4 98.9h0M79.1 74.5h0M116.1 142.5h0M67.9 37.1h0M85.1 95.8h0M91.9 86.8h0M89.6 123.3h0M72.7 35.1h0M74.8 113.7h0M72.1 79.0h0M83.0 100.0h0M111.6 134.5h0M73.9 62.3h0M141.0 155.0h0M130.3 149.7h0M87.0 55.1h0M72.5 58.7h0M78.3 93.8h0M101.5 98.7h0M64.1 39.3h0M83.7 89.9h0M90.7 123.3h0M93.8 49.9h0M86.9 85.7h0M75.3 61.9h0M50.7 42.7h0M112.1 135.9h0M90.4 87.9h0M76.7 50.7h0M77.4 56.8h0M83.1 60.7h0M76.0 76.6h0M95.8 79.0h0M98.4 84.8h0M80.3 98.8h0M91.4 96.0h0M127.7 146.4h0M76.6 98.2h0M89.7 90.6h0M90.9 92.4h0M99.2 95.2h0M99.7 97.3h0M91.1 89.6h0M91.2 123.0h0M82.8 80.1h0M80.8 106.3h0M93.8 49.1h0M88.3 72.9h0M80.4 94.8h0M96.6 85.2h0M51.2 37.9h0M82.7 96.9h0M70.2 44.3h0M53.5 38.6h0M89.5 124.2h0M130.5 149.9h0M97.6 86.7h0M68.9 75.7h0M117.3 139.4h0M87.4 51.3h0M95.3 98.5h0M61.7 34.7h0M69.6 95.4h0M89.2 79.4h0M85.4 118.1h0M92.0 92.2h0M86.7 42.8h0M92.2 49.7h0M70.4 44.8h0M69.8 54.8h0M107.9 135.5h0M93.4 82.9h0M52.0 36.6h0M82.4 112.8h0M84.1 113.0h0M71.2 89.3h0M89.9 89.8h0M75.2 68.7h0M85.3 92.7h0M73.1 42.6h0M87.2 51.8h0M77.8 114.8h0M97.4 102.7h0M77.7 98.8h0M101.3 92.4h0M73.9 75.9h0M81.5 57.9h0M91.3 78.3h0M128.7 148.8h0M71.4 57.8h0M95.2 132.0h0M85.7 50.8h0M75.2 91.9h0M72.5 84.9h0M78.5 107.7h0M75.4 89.4h0M126.0 143.9h0M75.7 90.9h0M79.5 57.3h0M51.5 38.5h0M48.7 35.8h0M120.2 142.6h0M97.1 100.4h0M78.1 59.5h0M79.8 52.5h0M84.9 68.3h0M73.7 53.1h0M76.8 59.5h0M96.3 87.1h0M60.9 39.0h0M71.4 81.8h0M91.1 82.5h0M127.0 148.5h0M81.5 66.7h0M89.9 95.3h0M103.7 96.3h0M92.6 95.4h0M88.7 46.1h0M48.1 37.0h0M70.3 91.9h0M85.5 75.1h0M85.5 65.5h0M81.5 42.4h0M52.3 38.6h0M91.0 98.1h0M89.3 127.4h0M87.5 122.2h0M76.1 58.7h0M78.6 54.9h0M67.0 37.2h0M73.1 94.4h0M72.1 82.7h0M74.5 92.6h0M73.2 78.3h0M82.4 85.5h0M59.5 42.0h0M73.0 82.8h0M90.2 90.4h0M87.2 95.4h0M90.8 86.8h0M80.8 80.8h0M84.6 122.7h0M80.9 119.5h0M57.8 37.6h0M88.9 47.2h0M92.8 123.1h0M76.9 97.1h0M78.8 90.9h0M67.7 89.1h0M78.9 114.6h0M72.5 62.6h0M68.7 38.8h0M79.3 95.0h0M93.0 88.4h0M82.0 75.5h0M102.1 92.2h0M74.2 53.0h0M90.0 92.8h0M69.6 93.3h0M77.9 102.8h0M79.3 77.6h0M86.2 70.9h0M77.0 92.3h0M96.0 87.3h0M61.2 36.8h0M68.1 37.7h0M84.2 79.9h0M72.9 79.9h0M77.5 63.8h0M87.3 47.4h0M65.5 82.8h0M59.0 40.1h0M69.4 96.1h0M60.0 34.5h0M88.1 91.3h0M71.5 58.4h0M75.2 83.5h0M69.0 34.8h0M70.2 47.9h0M93.4 124.8h0M56.7 44.6h0M95.0 89.0h0M51.8 39.5h0M91.6 125.5h0M82.7 80.9h0M83.6 79.2h0M114.7 138.5h0M81.3 50.6h0M76.7 81.2h0M83.6 46.5h0M95.3 97.3h0M77.8 115.2h0M83.1 81.0h0M69.2 55.3h0M82.1 54.7h0M83.7 96.7h0M94.4 126.4h0M77.6 75.9h0M88.1 84.3h0M81.8 41.8h0M80.5 102.0h0M82.8 82.0h0M86.7 70.5h0M53.3 42.1h0M70.8 81.4h0M95.6 91.0h0" stroke="#0a9f8b" stroke-width="1.50"/><path d="M118.8 144.2h0M78.6 109.4h0M79.0 36.6h0M76.3 34.1h0M81.9 108.7h0M115.3 138.8h0M65.9 45.0h0M108.1 106.5h0M104.7 99.2h0M87.8 114.0h0M76.7 111.7h0M140.5 153.0h0M63.3 44.3h0M105.1 105.4h0M101.3 127.9h0M58.3 45.2h0M77.9 68.9h0M92.1 76.4h0M76.3 49.0h0M104.9 107.4h0M75.7 53.6h0M88.6 112.3h0M76.7 34.6h0M91.0 84.0h0M73.3 65.3h0M103.5 100.8h0M67.8 75.8h0M73.1 34.0h0M72.0 102.2h0M92.3 97.3h0M68.3 43.8h0M105.1 137.9h0M105.7 106.9h0M100.2 95.8h0M103.3 128.9h0M76.6 108.1h0M101.6 95.3h0M106.6 105.5h0M59.6 37.6h0M86.8 113.8h0M101.1 129.0h0M77.8 69.0h0M118.8 140.6h0M95.9 129.9h0M65.7 44.0h0M104.9 132.4h0M99.1 127.7h0M102.7 103.6h0M104.8 99.6h0M65.0 35.3h0M87.7 120.4h0M98.2 125.5h0M89.5 114.4h0M72.8 92.1h0M99.1 98.6h0M102.7 102.8h0M106.8 102.1h0M83.7 83.7h0M107.9 105.8h0M84.4 110.9h0M88.6 113.7h0M76.0 101.7h0M141.4 153.1h0M89.2 113.6h0M61.8 46.4h0M81.3 94.3h0M73.7 73.2h0M117.1 140.6h0M105.3 133.0h0M74.2 74.1h0M65.3 43.7h0M68.5 45.0h0M70.3 39.8h0M107.2 137.4h0M92.9 46.3h0M88.5 85.0h0M83.4 120.9h0M111.3 140.3h0M104.3 135.1h0M100.4 134.1h0M52.0 42.3h0M81.0 101.8h0M91.3 126.3h0M72.7 49.2h0M67.9 51.6h0M97.8 48.0h0M89.2 126.2h0M105.1 134.8h0M79.1 37.7h0M130.4 151.2h0M59.9 36.6h0M83.5 50.3h0M70.6 72.7h0M97.3 84.7h0M72.2 81.8h0M128.9 147.3h0M104.8 136.0h0M56.2 36.3h0M70.3 71.5h0M106.5 107.7h0M73.4 65.4h0M84.5 47.6h0M107.4 104.0h0M104.3 99.8h0M88.6 75.5h0M144.8 155.8h0M98.8 132.4h0M102.3 102.6h0M87.8 77.0h0M96.1 131.2h0M100.7 99.3h0M52.9 46.1h0M83.1 119.1h0M98.9 127.6h0M89.9 117.4h0M69.1 87.9h0M73.2 47.4h0M74.5 104.2h0M65.7 43.2h0M97.8 132.5h0M73.8 52.1h0M107.2 102.1h0M75.5 47.4h0M80.7 116.9h0M108.0 131.9h0M103.1 99.3h0M101.1 103.9h0M72.9 36.2h0M81.5 108.7h0M81.7 38.7h0M102.0 96.5h0M69.4 42.9h0M121.1 143.1h0M73.7 92.3h0M75.3 37.8h0M136.4 153.3h0M72.4 65.1h0M75.4 35.7h0M108.0 105.6h0M105.2 100.6h0M94.6 125.6h0M82.7 119.5h0M98.5 95.1h0M100.7 97.5h0M77.1 35.2h0M81.1 47.3h0M74.8 37.1h0M67.7 44.8h0M97.4 126.4h0M99.5 91.9h0M104.1 131.4h0M103.3 135.8h0M100.1 128.3h0M48.5 35.3h0M67.1 75.7h0M105.4 136.7h0M103.8 102.8h0M102.0 100.4h0M76.9 35.7h0M111.8 139.0h0M74.1 36.6h0M105.1 129.0h0M88.3 75.1h0M105.7 134.1h0M71.5 39.5h0M102.2 104.6h0M134.1 150.9h0M110.1 138.2h0M78.6 113.1h0M72.0 40.5h0M109.0 132.4h0M103.5 97.8h0M112.5 139.3h0M114.1 142.0h0M68.5 46.1h0M82.8 42.7h0M105.7 132.8h0M112.4 135.1h0M104.5 103.1h0M104.1 130.9h0M102.9 94.1h0M73.3 73.6h0M85.0 72.3h0M100.7 97.8h0M91.6 96.9h0M106.9 105.9h0M131.8 151.6h0M106.0 106.3h0M72.9 62.4h0M75.2 34.8h0M127.9 149.4h0M86.9 112.9h0M80.9 58.5h0M106.6 100.8h0M114.5 141.9h0M81.1 89.6h0M75.8 98.4h0M75.0 111.2h0M103.1 99.9h0M136.2 152.6h0M77.9 109.3h0M139.7 152.3h0M68.8 43.1h0M112.5 134.8h0M73.0 77.9h0M93.6 130.5h0M82.7 42.7h0M83.7 119.6h0M94.1 46.2h0M96.0 131.0h0M69.7 43.9h0M76.3 37.2h0M83.1 86.3h0M107.7 106.4h0M107.5 104.2h0M128.7 149.8h0M102.1 136.1h0M75.8 39.8h0M95.3 101.4h0M104.7 130.2h0M75.9 35.8h0M84.2 91.3h0M78.6 104.6h0M75.9 35.4h0M103.6 136.0h0M52.5 42.2h0M129.6 148.7h0M79.7 112.2h0M81.7 93.0h0M124.8 147.4h0M118.6 141.7h0M92.5 98.6h0M74.9 65.9h0M86.3 113.7h0M102.9 94.4h0M66.7 45.0h0M134.5 150.5h0M73.5 92.4h0M90.0 61.4h0M105.6 135.9h0M101.8 129.3h0M106.1 104.0h0M93.1 46.6h0M80.8 46.6h0M107.5 137.0h0M105.1 133.0h0M132.6 150.4h0M67.7 91.2h0M101.4 100.1h0M102.1 95.0h0M64.2 44.5h0M80.6 89.8h0M103.1 129.9h0M97.5 133.7h0M82.2 120.7h0M102.5 104.0h0M87.8 120.2h0M98.3 103.5h0M101.5 129.6h0M98.6 133.3h0M86.8 94.6h0M114.2 139.2h0M106.6 132.0h0M84.3 111.6h0M89.4 60.8h0M106.6 103.8h0M100.4 92.0h0M75.6 65.3h0M76.9 49.6h0M120.7 143.9h0M132.6 149.6h0M76.2 100.9h0M79.2 91.4h0M79.5 42.2h0M108.0 132.2h0M64.0 45.4h0M106.3 104.5h0M98.4 103.1h0M129.9 147.6h0M99.0 132.2h0M89.2 51.1h0M52.2 45.2h0M80.0 109.4h0M105.6 99.7h0M87.7 112.3h0M99.4 134.7h0M64.3 43.3h0M73.5 35.1h0M77.7 92.3h0M90.5 83.9h0M89.9 97.6h0M132.5 151.7h0M87.7 77.1h0M79.3 37.2h0M135.4 152.3h0M83.4 119.4h0M88.1 113.9h0M78.4 47.1h0M104.2 103.2h0M102.8 136.5h0M92.2 47.1h0M131.1 150.0h0M86.2 111.5h0M101.1 96.3h0M137.1 153.7h0M94.5 96.1h0M104.1 98.8h0M65.7 42.8h0M101.6 97.0h0M84.2 113.5h0M83.5 113.6h0M74.3 36.3h0M68.8 92.8h0M71.6 34.8h0" stroke="#62dccb" stroke-width="1.50"/></g><path d="M82.4 89.6l1.2 .5" stroke="#fff" stroke-width="1.3"/><path d="M120.3 50.6h0M120.2 52.2h0M120.4 53.8h0M120.8 55.2h0M141.6 57.2h0M143.0 57.4h0M144.4 58.2h0M145.8 59.0h0M147.2 59.8h0M150.0 61.4h0M151.4 62.2h0M152.8 63.0h0M144.2 60.6h0M147.4 62.0h0M150.6 63.6h0M152.2 64.6h0M176.1 71.7h0M177.0 74.0h0M176.1 75.8h0M176.1 78.8h0M114.0 77.6h0M108.0 80.8h0M113.6 91.0h0M116.7 100.4h0M129.9 113.8h0M131.8 115.4h0M125.9 129.1h0M129.0 130.9h0M125.3 134.0h0M148.0 153.9h0M86.4 104.0h0" stroke="#0a9f8b" stroke-width="2.4"/><path d="M121.8 50.2h0M121.7 52.0h0M123.0 51.6h0M121.8 53.6h0M122.9 53.2h0M122.2 54.8h0M148.6 60.6h0M154.2 63.8h0M155.6 64.6h0M141.4 59.2h0M142.8 60.2h0M145.8 61.2h0M149.0 62.8h0M168.2 70.0h0M167.4 70.6h0M136.7 74.6h0M113.6 94.8h0M110.8 112.2h0M109.4 113.4h0M107.2 109.8h0M100.3 115.0h0M100.3 120.9h0M97.3 122.4h0M156.1 116.7h0M152.3 127.0h0M144.4 129.1h0M145.8 131.7h0M144.9 130.4h0M141.7 135.3h0M157.1 151.1h0M157.1 156.4h0M90.1 102.8h0M88.6 102.4h0M90.8 111.7h0M91.6 110.4h0" stroke="#62dccb" stroke-width="2.4"/><path d="M123.0 50.0h0M111.9 111.6h0" stroke="#18bda7" stroke-width="2.4"/></g></g><text x="193.5" y="10.0" font-family="'Liberation Serif',serif" font-weight="bold" font-size="8.7" fill="#1a1a1a">(b)</text></g><g><rect x="27.29" y="198.28" width="164.75" height="151.37" fill="#fff" stroke="#8c8c8c" stroke-width="0.75"/><path d="M46.81 349.65v1.4M46.81 198.28v-1.4M79.74 349.65v1.4M79.74 198.28v-1.4M112.66 349.65v1.4M112.66 198.28v-1.4M145.59 349.65v1.4M145.59 198.28v-1.4M178.51 349.65v1.4M178.51 198.28v-1.4M27.29 218.25h-1.4M192.04 218.25h1.4M27.29 251.14h-1.4M192.04 251.14h1.4M27.29 284.03h-1.4M192.04 284.03h1.4M27.29 316.92h-1.4M192.04 316.92h1.4" stroke="#5a5a5a" stroke-width="0.55" fill="none"/><g font-size="4.30" fill="#151515" stroke="#151515" stroke-width="0.1"><text x="47.01" y="355.90" text-anchor="middle">117.410</text><text x="79.94" y="355.90" text-anchor="middle">117.415</text><text x="112.86" y="355.90" text-anchor="middle">117.420</text><text x="145.79" y="355.90" text-anchor="middle">117.425</text><text x="178.71" y="355.90" text-anchor="middle">117.430</text><text x="24.09" y="219.75" text-anchor="end">23.935</text><text x="24.09" y="252.64" text-anchor="end">23.930</text><text x="24.09" y="285.53" text-anchor="end">23.925</text><text x="24.09" y="318.42" text-anchor="end">23.920</text><text x="116.57" y="362.05" text-anchor="middle">Longitude (°E)</text><text transform="translate(7.99 266.77) rotate(-90)" text-anchor="middle">Latitude (°N)</text><text x="154.24" y="204.98">Wet season</text><text x="154.24" y="210.23">Light condition</text></g><g transform="translate(27.29 198.28) scale(1.0076 1.0132) translate(-28.2 -16.9)"><polygon points="44.4,36.8 47.6,34.9 52.6,34.3 58.9,33.7 65.2,33.3 71.5,32.8 75.9,32.0 77.8,34.8 82.6,38.2 87.6,41.0 92.7,43.5 97.1,43.5 100.9,42.3 102.3,44.4 99.6,46.9 96.4,49.4 93.3,52.6 90.8,55.1 88.9,58.2 91.4,60.7 90.8,62.6 87.6,63.9 87.0,67.0 87.6,70.8 90.2,74.0 92.7,75.5 97.8,78.8 99.7,82.6 100.9,87.6 103.5,93.9 106.5,99.5 108.7,104.2 109.4,107.3 108.4,110.0 104.5,108.0 99.3,104.6 94.2,101.5 89.3,100.6 86.5,100.2 84.6,101.2 84.6,104.0 86.4,106.8 89.5,111.0 92.0,115.0 93.9,118.6 95.8,122.6 98.3,125.5 102.7,126.9 106.5,129.4 110.3,132.6 114.1,135.7 117.9,138.0 121.5,140.1 125.9,143.3 130.3,147.9 135.0,149.9 139.1,151.5 146.1,153.8 147.5,155.5 145.3,156.4 139.1,155.1 130.3,151.4 125.0,148.4 120.0,145.0 116.6,144.0 111.6,142.0 106.5,139.4 101.5,136.3 96.4,134.0 91.4,131.0 87.6,127.0 82.6,123.3 77.6,118.9 73.8,113.8 70.7,108.8 70.7,106.5 71.3,101.5 69.4,96.4 66.9,93.3 66.9,88.9 64.4,83.9 64.4,79.4 66.9,75.0 68.8,70.0 70.2,68.3 70.9,63.9 70.2,59.5 69.0,55.1 67.1,51.3 64.6,48.8 60.2,47.5 56.4,46.9 52.0,46.9 49.4,43.7 46.9,40.6 44.4,38.1" fill="#e88a16" stroke="#fff" stroke-width="1.5" stroke-linejoin="round"/><g fill="none" stroke-linecap="round"><g filter="url(#bl)"><path d="M90.8 96.8h0M90.2 121.1h0M79.6 117.0h0M72.2 104.8h0M69.4 34.7h0M77.4 90.3h0M81.2 113.6h0M80.7 84.5h0M96.3 96.5h0M92.5 100.5h0M74.8 109.9h0M72.5 39.3h0M97.3 81.4h0M79.1 63.2h0M88.3 48.3h0M76.0 91.8h0M94.8 97.7h0M100.9 43.6h0M80.7 60.8h0M69.8 71.1h0M62.4 40.5h0M53.8 42.2h0M84.2 51.7h0M104.5 130.3h0M77.7 59.4h0M80.2 111.7h0M79.8 49.1h0M67.0 78.6h0M96.7 44.7h0M85.4 41.6h0M73.5 48.6h0M72.6 52.1h0M81.4 45.9h0M83.0 45.5h0M89.9 60.6h0M81.4 71.1h0M85.8 44.5h0M85.5 46.6h0M69.8 40.2h0M77.4 52.6h0M69.6 46.3h0M79.5 86.6h0M72.4 71.1h0M97.5 133.9h0M85.6 113.7h0M65.3 40.1h0M79.5 110.6h0M97.1 46.4h0M72.1 85.0h0M77.7 44.5h0M81.8 67.7h0M91.6 120.7h0M71.4 96.8h0M67.7 44.5h0M75.8 94.6h0M75.4 51.3h0M90.4 95.1h0M81.5 52.2h0M88.9 125.7h0M76.1 64.4h0M72.7 101.1h0M69.2 85.9h0M72.1 106.8h0M75.7 41.4h0M74.2 46.6h0M68.9 73.0h0M71.5 106.0h0M82.0 70.6h0M89.0 124.4h0M98.4 100.0h0M78.4 114.8h0M69.8 47.2h0M68.6 91.1h0M77.4 93.7h0M63.7 39.2h0M56.2 39.8h0M86.1 67.0h0M81.5 59.7h0M67.6 79.3h0M52.7 42.5h0M74.6 99.4h0M76.1 39.4h0M100.4 44.3h0M77.5 54.1h0M89.1 55.5h0M72.1 97.7h0M86.7 51.5h0M139.3 151.7h0M81.1 112.3h0M70.6 42.3h0M74.1 55.5h0M80.3 42.3h0M76.4 78.4h0M74.8 79.8h0M96.2 100.4h0M81.4 45.2h0M53.4 39.7h0M77.7 97.6h0M71.2 65.4h0M62.1 38.7h0M84.4 78.9h0M81.4 111.5h0M94.0 90.2h0M76.2 82.8h0M98.5 45.2h0M76.0 57.6h0M83.2 78.5h0M75.5 45.6h0M53.5 36.7h0M75.8 33.0h0M76.5 103.2h0M71.5 91.2h0M95.0 46.4h0M106.0 132.3h0M75.5 90.4h0M84.8 54.5h0M74.7 103.1h0M94.2 120.4h0M86.2 85.0h0M70.7 71.0h0M80.2 90.0h0M68.0 49.6h0M78.6 49.5h0M66.2 49.1h0M84.6 121.9h0M74.1 109.0h0M79.3 46.1h0M79.1 47.1h0M54.7 43.9h0M75.5 69.3h0M73.4 47.5h0M66.5 33.8h0M76.0 105.7h0M74.3 71.4h0M73.5 91.9h0M49.2 41.6h0M80.2 56.1h0M64.5 41.2h0M96.0 101.6h0M77.0 50.1h0M85.8 48.5h0M74.7 42.1h0M87.2 121.6h0M75.1 93.2h0M73.6 102.9h0M64.1 48.0h0M78.0 118.8h0M64.9 41.1h0M80.1 49.4h0M51.9 43.1h0M86.7 58.7h0M70.7 89.4h0M80.3 41.3h0M66.8 37.9h0M83.9 68.5h0M71.6 83.3h0M80.6 47.3h0M55.5 41.2h0M76.7 55.1h0M93.2 51.7h0M92.6 98.9h0M86.4 86.2h0M74.4 44.5h0M77.2 49.1h0M68.9 80.6h0M78.4 64.9h0M97.7 99.4h0M90.9 119.9h0M102.9 133.7h0M81.1 61.9h0M76.9 55.8h0M72.7 80.3h0M92.2 121.7h0M77.7 113.9h0M77.0 77.5h0M74.1 74.5h0M72.7 70.6h0M98.2 103.1h0M68.1 72.7h0M82.4 64.0h0M88.4 84.0h0M69.0 48.9h0M84.2 86.4h0M79.4 50.3h0M80.2 50.7h0M82.0 49.4h0M85.6 52.3h0M75.3 91.3h0M84.9 69.2h0M70.7 51.2h0M80.2 40.4h0M57.6 41.2h0M79.2 87.0h0M78.5 44.8h0M76.5 45.2h0M93.2 47.0h0M69.0 89.0h0M85.9 61.6h0M59.8 34.6h0M81.2 104.5h0M75.7 104.0h0M89.7 49.6h0M75.9 67.8h0M84.2 45.5h0M76.8 90.6h0M87.1 94.5h0M68.1 41.7h0M55.1 44.5h0M61.1 41.5h0M91.6 122.4h0M68.3 76.9h0M82.6 48.0h0M74.7 99.2h0M67.6 40.3h0M97.6 99.8h0M96.7 97.9h0M90.9 118.5h0M78.8 108.8h0M78.6 36.2h0M87.6 54.4h0M76.6 106.0h0M76.4 43.0h0M74.0 79.9h0M74.4 66.5h0M74.8 78.3h0M55.8 45.4h0M76.0 56.2h0M77.5 77.4h0M87.1 47.1h0M68.0 88.0h0M75.4 52.9h0M86.5 85.0h0M79.8 82.5h0M78.1 112.2h0M80.0 43.5h0M90.6 117.6h0M76.0 56.6h0M79.5 47.6h0M60.1 42.1h0M90.4 127.0h0M87.0 53.7h0M78.5 48.6h0M82.3 71.4h0M73.3 101.2h0M98.1 84.3h0M86.0 50.3h0M72.4 90.0h0M76.3 53.0h0M79.1 42.7h0M69.4 96.2h0M82.5 86.4h0M102.2 98.8h0M76.5 94.3h0M78.6 96.7h0M73.5 63.4h0M49.3 38.0h0M74.5 97.0h0M97.2 133.6h0M86.0 54.1h0M78.2 116.3h0M92.5 131.4h0M71.7 71.8h0M77.7 41.4h0M87.3 51.0h0M79.6 104.9h0M59.1 44.1h0M76.5 80.8h0M64.0 40.4h0M97.4 47.4h0M101.4 127.2h0M79.0 73.8h0M91.9 45.2h0M73.8 49.2h0M81.5 117.6h0M87.8 78.5h0M64.1 38.9h0M78.6 46.0h0M94.6 100.1h0M73.6 111.8h0M129.0 150.2h0M87.3 80.1h0M88.1 45.0h0M76.5 91.7h0M81.1 61.4h0M74.5 78.3h0M77.7 48.2h0M98.7 129.7h0M93.1 82.6h0M76.2 100.1h0M73.7 81.8h0M69.7 42.6h0M67.8 46.8h0M88.0 92.7h0M89.9 43.0h0M72.0 86.3h0M77.6 114.2h0M85.9 42.7h0M81.0 111.0h0M53.2 44.8h0M99.6 100.2h0M72.8 101.4h0M96.2 125.0h0M92.9 92.7h0M91.7 43.6h0M78.2 92.0h0M96.6 85.2h0M51.9 35.4h0M96.4 98.8h0M71.8 51.9h0M62.7 43.6h0M90.5 45.7h0M84.9 54.9h0M80.2 104.4h0M80.8 117.4h0M82.9 52.5h0M80.3 84.2h0M71.0 87.5h0M74.5 92.6h0M91.4 51.4h0M83.9 113.8h0M72.5 74.4h0M78.6 48.2h0M73.3 78.6h0M140.3 155.1h0M54.9 43.2h0M71.6 95.5h0M74.5 104.5h0M76.5 44.2h0M87.6 47.0h0M87.1 53.4h0M87.8 48.1h0M79.8 105.0h0M83.7 103.0h0M91.2 81.9h0M88.4 79.1h0M88.7 88.0h0M85.5 53.6h0M51.7 41.7h0M89.2 123.5h0M77.1 37.1h0M47.1 37.2h0M80.8 45.6h0M54.6 41.3h0M69.1 51.7h0M96.6 100.6h0M82.5 59.2h0M80.0 111.7h0M76.4 76.9h0M91.6 48.4h0M73.9 68.6h0M78.8 63.6h0M48.8 41.0h0M70.3 34.1h0M68.9 76.0h0M80.7 107.9h0M68.8 87.8h0M69.4 41.2h0M71.6 100.7h0M84.4 67.4h0M113.1 141.9h0M71.3 93.4h0M75.3 105.4h0M70.3 50.4h0M67.8 45.1h0M78.5 40.3h0M74.4 43.3h0M70.3 89.7h0M77.8 44.9h0M77.5 35.6h0M91.8 93.1h0M85.0 64.9h0M79.8 81.4h0M74.9 111.1h0M76.5 39.7h0M71.4 42.7h0M74.6 41.8h0M77.6 39.4h0M51.7 42.3h0M94.2 96.9h0M80.6 71.2h0M55.1 39.8h0M81.9 116.7h0M71.7 107.0h0M94.2 46.2h0M97.4 82.1h0M67.7 37.3h0M58.9 39.2h0M71.1 94.9h0M91.3 117.9h0M76.7 43.6h0M107.3 137.3h0M78.8 113.5h0M82.6 50.8h0M96.8 84.7h0M65.2 35.6h0M94.7 45.0h0M91.5 81.4h0M75.0 67.2h0M78.4 77.2h0M92.0 45.7h0M61.5 39.7h0M88.7 92.6h0M72.9 64.0h0M72.5 95.8h0M66.2 38.3h0M66.4 78.3h0M100.3 42.6h0M49.8 40.5h0M73.4 69.7h0M70.1 94.2h0M76.2 68.4h0M85.2 78.6h0M87.8 123.9h0M67.8 39.4h0M89.8 93.5h0M91.3 49.2h0M74.9 43.5h0M70.2 91.6h0M88.0 49.5h0M95.6 96.9h0M86.4 56.7h0M93.4 119.5h0M92.9 45.3h0M90.5 119.6h0M73.1 34.2h0M74.5 62.6h0M98.8 44.3h0M123.7 143.6h0M87.0 124.1h0M88.5 118.7h0M77.6 50.1h0M52.0 37.5h0M86.7 75.3h0M95.4 46.8h0M86.9 50.2h0M79.5 51.2h0M77.6 43.5h0M70.4 72.2h0M96.6 44.5h0M88.2 94.3h0M78.7 38.3h0M77.8 48.3h0M106.2 101.8h0M87.5 79.7h0M73.0 74.9h0M71.2 68.1h0M97.3 101.1h0M77.5 42.0h0M88.7 90.2h0M77.2 38.7h0M68.8 41.7h0M82.1 46.3h0M108.9 139.7h0M64.0 38.3h0M76.6 81.7h0M82.5 46.8h0M79.4 78.0h0M73.5 40.9h0M94.7 44.0h0M74.7 95.8h0M86.5 43.6h0M60.4 40.9h0M73.8 110.7h0M71.0 93.4h0M80.3 68.5h0M77.6 56.9h0M74.9 73.6h0M86.3 43.5h0M87.6 52.6h0M70.2 79.1h0M77.2 56.7h0M56.6 36.6h0M93.8 100.9h0M73.1 60.6h0M66.4 85.1h0M68.0 73.7h0M68.7 38.7h0M85.6 54.6h0M77.7 79.4h0M70.9 60.5h0M82.9 105.0h0M82.8 41.4h0M84.0 103.7h0M85.3 123.3h0M75.5 38.5h0M76.7 79.9h0M72.4 44.5h0M84.3 78.0h0M72.7 89.1h0M80.5 43.6h0M77.7 71.0h0M97.7 46.5h0M102.3 105.9h0M86.9 49.5h0M62.9 37.6h0M83.8 76.0h0M68.5 94.5h0M76.2 61.1h0M77.2 98.3h0M62.3 45.7h0M82.7 114.8h0M74.4 102.6h0M63.4 41.6h0M78.7 52.3h0M76.2 62.5h0M85.6 71.5h0M74.4 100.5h0M95.6 99.2h0M68.5 70.9h0M78.7 91.9h0M82.4 53.3h0M72.7 108.4h0M78.6 90.9h0M105.3 101.9h0M78.6 97.5h0M74.9 61.8h0M80.0 41.9h0M67.6 45.9h0M78.2 97.8h0M89.6 89.7h0M79.0 76.3h0M76.8 78.1h0M72.2 96.1h0M56.2 36.2h0M95.9 94.8h0M74.1 48.1h0M49.1 37.0h0M83.4 64.8h0M77.5 107.3h0M85.1 57.0h0M83.6 120.4h0M75.0 50.0h0M78.7 107.5h0M84.3 89.6h0M99.2 102.7h0M75.6 104.4h0M82.3 119.0h0M84.4 72.7h0M75.9 96.6h0M79.4 109.0h0M74.9 94.2h0M69.9 90.7h0M79.4 112.5h0M75.0 64.8h0M71.5 61.4h0M67.9 91.2h0M65.8 44.5h0M64.8 82.8h0M74.3 91.1h0M89.9 50.8h0M85.6 51.2h0M84.0 56.1h0M75.2 103.5h0M72.6 71.8h0M73.9 79.0h0M94.9 48.5h0M117.5 143.7h0M90.4 54.9h0M74.1 60.1h0M95.9 101.2h0M90.7 83.5h0M76.2 88.7h0M45.4 36.8h0M72.3 73.3h0M83.7 72.1h0M76.4 109.5h0M75.7 74.5h0M76.2 111.5h0M77.0 112.0h0M65.5 43.1h0M70.5 95.0h0M83.9 45.8h0M75.9 69.1h0M72.0 42.6h0M87.9 44.0h0M74.8 79.7h0M81.8 75.7h0M90.8 80.0h0M87.4 53.3h0M88.7 76.5h0M79.1 53.7h0M81.1 115.1h0M70.0 50.1h0M73.8 42.3h0M99.2 133.1h0M81.0 41.3h0M66.6 82.3h0M71.2 91.9h0M79.3 52.4h0M74.0 86.6h0M83.7 70.8h0M77.8 71.9h0M81.5 117.0h0M82.5 72.0h0M81.8 49.8h0M69.6 44.8h0M70.0 95.1h0M83.1 88.5h0M77.8 100.5h0M72.9 77.5h0M66.8 38.8h0M85.3 70.2h0M67.1 86.7h0M86.2 65.3h0M73.0 76.6h0M93.0 86.0h0M79.5 120.0h0M87.2 56.3h0M76.7 89.1h0M70.3 78.7h0M71.3 75.3h0M75.0 113.7h0M52.9 44.4h0M77.6 55.0h0M71.5 47.3h0M78.5 110.2h0M67.4 88.3h0M71.3 79.9h0M87.9 91.3h0M87.8 85.5h0M93.4 91.8h0M96.5 97.6h0M82.0 73.2h0M73.3 43.6h0M82.6 40.6h0M67.2 41.5h0M79.0 95.0h0M72.2 68.9h0M83.9 69.6h0M102.9 136.0h0M73.3 70.0h0M80.8 82.8h0M75.3 63.2h0M76.9 101.2h0M50.7 43.7h0M81.2 70.7h0M79.9 63.2h0M68.1 78.4h0M83.1 103.4h0M74.7 52.4h0M76.4 46.9h0M94.3 44.7h0M96.0 98.4h0M59.7 43.5h0M67.7 86.5h0M80.7 119.0h0M64.3 45.5h0M56.2 41.1h0M86.8 120.5h0M75.5 87.1h0M83.5 122.3h0M74.7 106.1h0M77.7 69.0h0M59.4 43.8h0M72.5 85.8h0M66.6 87.3h0M81.0 49.1h0M55.1 45.4h0M68.3 48.2h0M95.4 45.5h0M77.9 106.5h0M87.7 45.8h0M76.5 97.3h0M80.7 115.4h0M78.2 105.3h0M61.8 41.0h0M93.8 44.3h0M79.4 84.2h0M74.8 107.6h0M93.4 48.6h0M80.7 44.4h0M61.8 35.0h0M90.3 97.0h0M61.0 38.5h0M76.9 40.8h0M89.2 48.8h0M75.9 47.4h0M84.2 70.2h0M75.0 48.4h0M95.7 96.3h0M85.9 50.0h0M84.5 64.8h0M94.3 48.1h0M74.3 56.6h0M72.3 64.3h0M82.7 55.0h0M61.3 38.0h0M69.5 77.6h0M60.4 38.1h0M64.5 42.4h0M89.7 92.4h0M72.0 55.9h0M85.2 90.5h0M86.3 67.2h0M76.1 108.9h0M88.2 112.7h0M85.4 82.9h0M82.1 110.7h0M76.5 92.9h0M77.7 37.2h0M77.9 110.9h0M84.9 40.7h0M84.5 123.1h0M106.1 105.6h0M96.7 102.3h0M86.2 40.9h0M74.6 45.0h0M74.1 81.2h0M79.8 67.9h0M61.2 39.0h0M94.8 47.6h0M68.0 92.5h0M88.5 44.0h0M86.3 93.5h0M85.9 89.1h0M73.2 88.3h0M76.3 50.3h0M90.2 124.4h0M55.2 37.1h0M112.4 140.8h0M90.9 98.9h0M97.0 127.6h0M76.8 53.7h0M80.4 54.2h0M68.3 80.3h0M86.3 55.6h0M69.3 79.6h0M69.9 80.2h0M73.3 66.0h0M82.0 112.6h0M77.1 96.0h0M72.5 56.5h0M73.2 41.8h0M84.7 57.9h0M51.5 43.8h0M92.0 51.5h0M46.5 39.3h0M87.0 74.3h0M76.8 47.4h0M69.3 88.5h0M81.2 67.0h0M102.8 106.5h0M83.4 46.5h0M82.4 67.5h0M64.3 43.4h0M71.1 81.7h0M82.4 54.1h0M73.7 79.9h0M71.3 97.8h0M68.0 81.0h0M77.0 110.3h0M83.2 86.1h0M87.2 48.4h0M72.9 53.2h0M72.6 59.3h0M83.6 71.7h0M77.2 71.3h0M68.9 73.9h0M68.5 89.7h0M81.4 68.2h0M65.4 84.5h0M90.7 48.3h0M91.3 46.5h0M79.2 107.2h0M69.3 53.3h0M89.6 83.4h0M88.7 41.6h0M108.5 132.4h0M76.9 104.3h0M59.4 39.8h0M74.5 83.2h0M95.5 122.9h0M74.3 103.6h0M89.9 59.4h0M58.4 37.9h0M86.0 46.1h0M112.7 141.3h0M138.4 154.2h0M80.4 75.0h0M139.3 154.0h0M96.0 87.1h0M72.1 58.7h0M88.5 47.1h0M88.0 112.9h0M73.2 45.7h0M72.2 91.1h0M87.2 85.2h0M66.2 42.9h0M88.9 49.7h0M93.2 131.5h0M93.8 91.2h0M73.8 48.3h0M68.4 74.9h0M86.7 42.8h0M76.7 110.6h0M76.2 44.7h0M71.6 62.1h0M63.3 45.0h0M63.4 42.5h0M72.5 43.5h0M87.6 73.5h0M71.2 86.2h0M86.3 86.2h0M72.2 78.5h0M75.2 76.2h0M92.9 100.2h0M72.6 40.3h0M92.6 48.3h0M82.0 75.3h0M88.8 47.6h0M74.9 89.4h0M68.6 78.6h0M75.4 109.4h0M79.2 54.1h0M77.7 40.9h0M72.9 51.8h0M69.6 86.5h0M59.9 38.8h0M74.3 77.1h0M92.7 125.2h0M81.1 108.6h0M83.4 53.8h0M85.6 85.6h0M66.6 39.9h0M66.8 42.3h0M86.1 123.0h0M69.0 47.6h0M77.4 51.5h0M67.1 77.9h0M78.1 76.3h0M80.1 67.2h0M77.2 69.5h0M71.1 86.0h0M72.2 103.2h0M79.8 114.6h0M83.2 76.7h0M71.7 71.3h0M84.5 120.7h0M97.3 80.5h0M73.2 107.2h0M75.9 80.1h0M92.4 98.6h0M66.7 40.5h0M51.5 36.2h0M65.9 79.4h0M77.1 86.3h0M96.4 99.6h0M87.0 122.8h0M76.7 75.3h0M81.8 88.9h0M71.8 81.3h0M98.3 99.1h0M76.7 60.5h0M101.9 105.5h0M100.2 45.5h0M106.0 106.3h0M87.1 44.5h0M69.1 79.2h0M84.3 76.6h0M80.0 107.8h0M80.2 73.8h0M52.8 39.7h0M71.3 87.5h0M103.2 129.1h0M74.0 96.2h0M69.8 74.8h0M75.9 98.7h0M93.4 101.1h0M76.3 40.5h0M71.0 93.1h0M80.5 96.2h0M82.8 122.0h0M82.9 70.9h0M99.4 129.4h0M94.1 46.8h0M66.3 44.9h0M85.0 56.2h0M88.2 75.1h0M62.5 36.8h0M80.8 51.0h0M90.8 81.4h0M67.5 89.4h0M69.3 93.6h0M70.6 39.6h0M66.9 33.7h0M94.5 90.3h0M68.3 86.0h0M74.7 101.3h0M67.1 79.0h0M73.3 101.4h0M66.4 33.9h0M78.5 66.3h0M88.2 86.9h0M72.4 61.3h0M103.0 102.4h0M80.3 93.3h0M78.8 55.2h0M77.7 109.2h0M70.6 41.0h0M59.8 34.8h0M73.4 65.3h0M51.5 34.6h0M66.2 38.7h0M82.3 45.3h0M66.2 82.9h0M80.8 66.6h0M47.7 35.5h0M73.7 44.0h0M91.6 46.4h0M80.8 118.0h0M75.0 54.0h0M83.6 57.4h0M84.4 77.1h0M102.8 129.4h0M65.3 83.6h0M78.5 53.4h0M82.8 112.0h0M102.9 133.9h0M69.9 78.4h0M84.6 83.7h0M82.8 69.9h0M65.9 83.5h0M68.1 87.8h0M86.3 65.8h0M76.9 108.0h0M82.7 113.7h0M82.7 104.0h0M73.9 111.9h0M79.8 113.6h0M79.3 46.8h0M72.2 49.4h0M139.3 153.5h0M73.1 62.5h0M78.5 66.0h0M60.7 39.7h0M76.2 77.2h0M70.9 46.5h0M71.3 60.3h0M74.3 51.5h0M83.1 42.6h0M46.6 36.8h0M71.6 33.0h0M97.3 84.2h0M82.7 65.5h0M70.4 55.6h0M84.2 40.4h0M76.1 67.0h0M71.9 89.7h0M82.2 105.0h0M99.5 87.8h0M66.8 47.8h0M88.0 74.5h0M70.4 80.4h0M84.3 66.2h0M81.1 107.8h0M90.7 117.3h0M76.4 91.4h0M92.5 120.9h0M77.2 106.8h0M50.0 43.4h0M69.2 38.1h0M71.0 81.1h0M67.3 92.2h0M94.1 49.4h0M73.5 71.8h0M93.0 49.7h0M75.6 44.1h0M68.0 77.4h0M79.2 103.0h0M69.0 53.2h0M53.0 43.5h0M75.6 51.6h0M90.8 49.6h0M88.5 125.4h0M68.0 75.1h0M70.8 48.9h0M66.1 81.7h0M68.6 86.8h0M67.4 47.2h0M68.4 42.5h0M78.4 116.1h0M80.0 64.0h0M92.6 49.2h0M58.7 45.9h0M75.4 45.2h0M81.7 47.6h0M69.0 94.0h0M65.7 39.5h0M65.9 41.9h0M70.9 91.1h0M75.0 39.8h0M69.9 89.4h0M75.9 95.6h0M91.1 124.3h0M93.2 48.2h0M50.8 41.9h0M77.6 47.1h0M75.7 74.3h0M74.1 89.0h0M80.9 53.5h0M66.3 86.7h0M81.6 73.3h0M89.3 124.6h0M85.9 70.7h0M70.7 69.8h0M76.2 97.4h0M74.9 40.5h0M138.1 151.8h0M74.1 93.7h0M145.6 154.1h0M69.5 52.0h0M92.3 47.7h0M70.9 96.0h0M77.6 36.1h0M98.1 134.0h0M64.0 35.9h0M80.5 98.1h0M68.7 40.1h0M75.9 52.7h0M98.3 45.7h0M86.2 45.1h0M65.4 42.4h0M97.5 97.7h0M68.8 44.2h0M85.6 79.4h0M66.0 47.3h0M85.8 110.4h0M86.3 81.5h0M86.5 55.3h0M73.5 80.9h0M80.7 59.9h0M81.6 84.9h0M74.9 70.1h0M79.6 40.1h0M76.9 89.8h0M87.2 45.7h0M70.4 85.2h0M89.2 89.4h0M73.1 96.7h0M83.7 66.4h0M82.4 87.1h0M90.4 93.5h0M68.1 94.3h0M79.4 42.0h0M70.0 87.5h0M83.4 112.2h0M79.7 110.3h0M72.8 102.4h0M86.5 45.4h0M76.5 64.2h0M72.9 47.3h0M88.1 94.5h0M65.2 79.3h0M91.4 79.9h0M84.8 43.7h0M95.9 45.8h0M62.4 39.6h0M53.4 41.3h0M70.0 85.4h0M97.6 89.5h0M52.2 35.6h0M100.3 87.9h0M90.1 44.3h0M91.1 93.9h0M68.9 43.0h0M65.2 40.4h0M72.4 75.7h0M65.6 44.0h0M98.5 90.6h0M94.7 50.2h0M80.4 111.0h0M71.5 108.9h0M71.6 73.7h0M84.9 46.3h0M50.7 35.5h0M74.2 46.4h0M91.4 50.8h0M72.5 88.5h0M77.5 49.5h0M79.4 40.2h0M71.6 50.0h0M79.0 112.5h0M87.8 123.3h0M72.9 95.6h0M79.7 72.9h0M54.5 43.2h0M81.1 118.7h0M75.6 79.1h0M80.5 70.4h0M74.6 50.5h0M83.7 50.8h0M74.1 76.9h0M64.1 44.1h0M68.1 92.3h0M83.7 121.3h0M49.7 42.6h0M69.2 92.8h0M72.9 59.7h0M73.0 75.7h0M84.6 48.3h0M68.4 77.1h0M86.7 47.4h0M75.9 106.3h0M81.7 56.5h0M81.9 77.0h0M78.3 84.6h0M85.1 50.9h0M67.0 85.1h0M87.2 74.7h0M82.8 56.7h0M109.1 137.8h0M69.3 72.2h0M78.4 84.2h0M80.4 112.9h0M85.6 124.5h0M75.0 47.4h0M96.9 101.6h0M91.5 75.5h0M94.1 100.1h0M55.7 36.5h0M46.2 36.2h0M54.4 35.7h0M73.8 89.7h0M74.2 105.8h0M70.8 82.1h0M81.0 59.0h0M70.1 70.0h0M81.0 42.8h0M78.5 41.1h0M75.8 54.5h0M121.5 141.9h0M85.6 48.0h0M78.8 50.7h0M75.7 108.1h0M90.8 54.2h0M67.2 43.2h0M73.6 97.2h0M75.5 72.4h0M82.0 104.4h0M83.5 103.1h0M81.1 40.9h0M71.9 51.2h0M74.5 39.9h0M71.6 97.5h0M79.2 97.0h0M76.3 39.2h0M77.7 109.9h0M83.2 50.8h0M83.3 44.1h0M73.5 87.4h0M75.8 65.3h0M101.1 97.3h0M76.9 105.3h0M78.0 56.2h0M79.4 38.5h0M58.9 42.4h0M79.2 73.5h0M63.4 40.6h0M90.9 44.1h0M98.4 88.8h0M72.3 41.8h0M81.1 54.0h0M66.8 36.4h0M88.5 78.6h0M97.5 45.5h0M73.9 94.2h0M76.9 70.0h0M52.9 45.4h0M72.0 105.0h0M75.3 91.6h0M83.4 58.3h0M100.2 104.6h0M87.8 124.9h0M89.0 60.2h0M84.5 84.2h0M52.8 41.8h0M82.6 56.5h0M75.7 49.2h0M80.0 74.8h0M82.3 58.7h0M89.2 91.6h0M81.5 76.6h0M81.7 114.1h0M76.9 42.5h0M139.6 154.1h0M66.4 40.2h0M75.3 37.3h0M81.0 53.6h0M81.8 69.0h0M84.5 58.0h0M68.9 88.2h0M76.2 45.9h0M67.4 45.0h0M94.1 48.9h0M73.6 44.9h0M62.4 44.2h0M83.5 43.3h0M91.8 47.3h0M83.7 111.5h0M48.0 37.2h0M84.0 54.9h0M79.3 115.7h0M78.6 105.4h0M83.9 50.0h0M79.1 118.3h0M72.3 50.1h0M72.1 62.3h0M99.5 46.2h0M77.0 95.7h0M74.8 93.5h0M83.9 41.8h0M71.4 104.4h0M74.8 108.3h0M109.9 139.9h0M87.0 92.9h0M96.0 79.7h0M90.6 89.7h0M75.8 101.1h0M80.6 113.1h0M73.7 89.9h0M77.3 49.8h0M90.3 51.6h0M73.5 84.1h0M52.5 37.5h0M89.9 99.9h0M67.5 84.6h0M89.6 125.5h0M63.3 43.4h0M71.3 47.5h0M75.3 66.9h0M99.4 103.4h0M58.4 38.9h0M52.6 45.8h0M79.4 103.3h0M85.1 42.3h0M89.5 120.9h0M63.4 44.5h0M108.8 137.9h0M93.9 50.8h0M77.0 51.2h0M87.9 56.7h0M71.3 56.2h0M74.6 72.4h0M73.6 61.5h0M74.1 101.8h0M88.8 89.1h0M71.2 41.3h0M76.1 55.0h0M71.0 95.2h0M85.6 122.6h0M78.1 94.5h0M92.3 99.8h0M74.6 52.1h0M69.4 39.6h0M90.4 78.9h0M74.6 113.7h0M73.6 112.6h0M99.1 45.5h0M74.7 81.3h0M115.0 137.0h0M73.9 61.4h0M88.0 76.4h0M73.2 92.6h0M77.5 111.7h0M78.5 104.4h0M75.9 42.8h0M77.5 92.4h0M75.5 81.8h0M91.5 125.0h0M87.9 86.9h0M81.1 116.2h0M70.3 47.6h0M63.9 35.5h0M67.5 33.9h0M84.3 54.3h0M72.0 60.2h0M87.3 55.1h0M97.5 97.9h0M90.6 50.8h0M91.1 45.3h0M85.4 85.7h0M70.9 83.1h0M78.2 70.4h0M67.1 43.8h0M67.2 50.5h0M82.3 66.3h0M79.6 115.9h0M73.9 91.8h0M57.2 45.0h0M84.3 56.7h0M76.5 74.8h0M88.2 87.5h0M69.3 49.4h0M79.0 86.5h0M73.5 89.3h0M74.8 56.5h0M77.8 85.9h0M89.8 94.9h0M71.8 88.3h0M91.8 119.8h0M74.1 81.8h0M76.6 52.3h0M95.1 46.6h0M72.8 93.5h0M96.3 124.8h0M105.6 104.1h0M67.6 43.0h0M69.7 91.9h0M81.5 50.2h0M90.1 119.3h0M76.0 102.8h0M78.2 95.1h0M70.0 90.2h0M79.1 44.4h0M73.3 39.8h0M83.0 83.8h0M75.9 92.9h0M84.8 72.7h0M76.3 106.8h0M85.6 111.9h0M80.3 109.6h0M89.0 51.7h0M75.0 104.9h0M62.9 44.7h0M74.1 65.5h0M74.9 97.1h0M52.7 39.1h0M92.3 116.8h0M83.2 53.5h0M49.5 41.4h0M48.5 37.6h0M88.4 121.6h0M52.1 37.4h0M87.7 50.7h0M57.4 41.1h0M84.4 53.2h0M82.3 51.7h0M98.3 81.5h0M107.0 137.1h0M81.4 74.1h0M82.9 104.8h0M84.2 122.6h0M80.5 52.3h0M72.8 73.5h0M71.1 44.5h0M74.2 95.3h0M93.2 50.7h0M63.7 36.7h0M79.5 75.5h0M72.3 93.2h0M84.9 72.0h0M71.6 75.2h0M73.2 107.9h0M76.7 45.6h0M51.5 40.9h0M74.4 54.0h0M90.7 121.8h0M74.1 62.7h0M108.1 104.0h0M58.3 45.8h0M92.9 46.4h0M108.8 138.3h0M70.8 97.5h0M92.0 125.3h0M69.2 40.3h0M93.7 120.2h0M78.8 43.1h0M74.2 112.7h0M78.1 90.6h0M75.2 50.7h0M75.0 46.5h0M74.9 73.4h0M68.6 91.8h0M84.9 51.4h0M76.3 110.7h0M70.8 44.3h0M68.5 80.7h0M86.7 72.5h0M86.7 97.0h0M72.2 80.9h0M68.1 49.0h0M79.8 118.5h0M89.2 118.9h0M77.1 53.2h0M96.2 81.0h0M85.3 65.5h0M68.4 84.8h0M70.7 41.1h0M86.5 70.9h0M74.6 88.6h0M69.6 44.5h0M91.1 121.4h0M67.4 89.7h0M52.9 35.7h0M98.8 88.1h0M74.8 98.4h0M74.9 86.3h0M76.9 79.1h0M81.8 99.5h0M90.4 126.3h0M68.5 44.8h0M86.5 67.1h0M54.3 35.5h0M103.2 127.8h0M57.2 40.4h0M80.3 47.8h0M103.7 130.0h0M95.2 95.0h0M71.0 43.4h0M84.8 122.4h0M60.0 38.2h0M45.2 37.8h0M72.7 94.5h0M65.2 80.8h0M55.9 40.3h0M74.3 64.8h0M87.4 92.1h0M87.9 90.3h0M87.6 122.6h0M51.8 38.8h0M90.0 82.9h0M71.3 48.3h0M73.6 66.4h0M78.2 84.3h0M82.5 69.4h0M72.6 46.7h0M76.7 108.9h0M74.0 55.3h0M69.4 43.5h0M72.6 106.1h0M82.5 43.9h0M87.8 121.1h0M83.3 40.9h0M101.1 134.7h0M86.2 56.5h0M78.5 39.6h0M72.8 47.8h0M73.7 79.1h0M83.8 42.5h0M76.1 98.4h0M74.6 100.4h0M101.9 98.1h0M76.0 70.8h0M89.5 74.6h0M89.7 51.3h0M53.6 44.0h0M83.1 69.5h0M53.1 38.5h0M73.4 99.5h0M71.6 69.9h0M79.9 88.6h0M72.9 42.3h0M76.6 100.2h0M80.2 120.4h0M74.7 44.6h0M83.5 87.6h0M68.5 45.7h0M78.6 95.4h0M68.9 95.4h0M49.5 36.0h0M76.2 89.8h0M74.8 71.0h0M88.4 123.6h0M73.6 95.0h0M83.3 51.3h0M88.8 99.2h0M77.7 86.9h0M79.9 84.6h0M58.5 41.2h0M77.3 93.4h0M98.4 89.9h0M67.7 42.8h0M100.7 91.1h0M66.4 47.7h0M85.0 67.2h0M73.3 73.6h0M88.3 42.2h0M72.3 79.4h0M77.8 53.5h0M84.6 49.8h0M83.6 113.8h0M99.5 104.4h0M84.1 124.0h0M87.7 81.5h0M82.6 112.0h0M76.4 66.2h0M91.2 99.7h0M51.9 39.9h0M55.3 46.2h0M85.2 47.6h0M85.2 75.8h0M79.8 55.0h0M68.2 38.2h0M64.8 38.9h0M84.8 52.0h0M83.8 47.2h0M76.1 81.8h0M78.5 101.0h0M73.9 84.2h0M79.5 45.0h0M71.1 43.2h0M83.4 114.4h0M87.4 99.3h0M78.8 106.4h0M70.2 46.1h0M78.9 103.4h0M92.6 52.4h0M67.1 84.0h0M76.6 68.2h0M88.1 121.5h0M88.5 91.6h0M72.3 65.3h0M73.5 71.5h0M62.9 41.3h0M75.0 66.2h0M86.5 112.0h0M80.2 48.3h0M79.8 44.3h0M58.9 44.8h0M96.4 46.6h0M140.9 154.5h0M63.5 45.6h0M82.7 57.6h0M76.9 46.8h0M52.3 40.4h0M73.1 72.8h0M79.4 93.3h0M71.3 56.5h0M74.3 105.9h0M74.9 68.7h0M72.2 51.0h0M72.8 69.1h0M76.0 81.2h0M85.0 53.2h0M90.8 94.2h0M73.4 105.6h0M101.1 104.0h0M68.7 47.3h0M59.0 36.9h0M53.6 40.7h0M87.5 73.4h0M82.5 52.7h0M97.5 44.3h0M81.6 51.1h0M71.3 63.3h0M93.5 120.6h0M71.9 50.6h0M82.4 64.5h0M78.5 118.8h0M75.8 70.6h0M82.4 48.3h0M49.7 35.4h0M78.5 70.6h0M73.5 110.9h0M73.2 93.9h0M75.4 41.3h0M94.5 49.6h0M47.0 36.1h0M74.0 70.3h0M78.5 51.5h0M84.4 52.7h0M97.3 101.4h0M53.8 37.9h0M81.6 46.9h0M100.7 43.5h0M61.2 41.2h0M54.9 35.5h0M55.7 40.2h0M73.3 85.0h0M79.6 117.6h0M77.1 102.8h0M70.6 74.1h0M81.3 87.2h0M53.7 43.2h0M75.7 89.6h0M84.8 77.5h0M90.4 44.8h0M80.9 114.8h0M66.4 42.7h0M86.9 123.8h0M79.1 108.2h0M84.5 47.9h0M69.8 35.6h0M75.4 114.2h0M75.0 55.6h0M86.5 68.2h0M82.6 115.2h0M84.2 64.4h0M78.0 45.6h0M77.0 114.6h0M83.4 55.8h0M54.4 42.2h0M88.5 118.3h0M105.6 131.9h0M94.7 89.5h0M98.2 82.2h0M71.1 69.8h0M76.0 93.9h0M106.2 100.8h0M79.6 53.1h0M84.7 84.9h0M71.4 107.9h0M63.3 39.3h0M75.8 49.0h0M59.1 34.7h0M67.8 38.8h0M70.9 83.5h0M92.9 91.2h0M53.3 35.5h0M73.3 91.1h0M85.4 70.9h0M64.5 46.4h0M70.7 70.2h0M71.7 102.8h0M71.1 34.0h0M84.8 124.6h0M80.0 68.1h0M67.6 93.4h0M68.2 50.9h0M75.1 77.8h0M87.8 89.2h0M83.6 75.8h0M79.4 90.2h0M97.9 84.3h0M94.1 85.4h0M80.4 116.0h0M88.1 88.6h0M91.7 48.1h0M85.3 66.9h0M71.5 93.1h0M85.2 77.0h0M82.4 87.9h0M74.0 108.1h0M74.1 41.0h0M68.4 50.0h0M94.7 120.6h0M75.5 96.7h0M89.8 42.2h0M66.5 85.8h0M83.3 65.9h0M97.5 103.0h0" stroke="#e07c10" stroke-width="1.50"/><path d="M62.8 35.5h0M83.4 83.1h0M95.3 86.4h0M92.7 97.8h0M86.0 114.6h0M81.9 97.9h0M81.3 38.6h0M87.7 109.4h0M82.9 117.6h0M70.9 39.1h0M88.0 60.8h0M135.2 152.3h0M81.3 43.4h0M94.6 125.2h0M80.7 103.3h0M107.8 105.2h0M71.0 84.4h0M94.7 121.4h0M108.1 135.7h0M91.6 78.8h0M106.5 130.3h0M72.5 55.4h0M82.8 98.8h0M84.3 119.4h0M82.1 60.4h0M75.8 101.6h0M72.0 63.1h0M84.4 104.4h0M47.5 40.9h0M130.0 149.5h0M95.4 84.7h0M125.3 147.4h0M60.7 34.2h0M84.7 99.1h0M93.0 79.4h0M81.9 83.6h0M82.5 89.9h0M118.2 141.8h0M92.5 84.0h0M89.9 122.0h0M82.7 85.0h0M77.3 99.5h0M72.6 87.2h0M79.9 89.5h0M82.5 96.1h0M85.6 107.9h0M135.0 151.7h0M92.2 117.9h0M80.8 106.7h0M105.5 133.2h0M74.1 98.5h0M101.2 129.5h0M63.5 38.2h0M89.7 129.0h0M79.0 99.1h0M85.9 41.4h0M79.5 92.4h0M86.9 95.9h0M85.6 119.8h0M95.0 84.2h0M119.5 144.1h0M67.5 82.1h0M85.4 88.2h0M82.0 106.4h0M71.5 39.4h0M87.5 118.2h0M50.8 40.5h0M49.4 35.3h0M104.2 107.1h0M94.7 99.4h0M94.9 98.6h0M77.8 96.2h0M94.7 129.9h0M75.6 85.9h0M79.4 99.2h0M83.7 95.7h0M112.6 135.7h0M112.5 135.0h0M88.1 114.4h0M92.1 50.1h0M80.8 95.4h0M72.1 57.8h0M66.8 80.8h0M82.7 101.5h0M71.0 54.6h0M123.3 145.7h0M85.8 120.8h0M72.4 81.9h0M89.9 127.4h0M67.0 76.2h0M83.5 115.5h0M109.2 135.6h0M96.5 92.3h0M91.9 125.8h0M105.2 129.3h0M85.3 93.0h0M74.0 63.6h0M82.6 121.5h0M65.8 46.1h0M113.0 139.2h0M82.6 89.5h0M81.2 99.7h0M83.9 114.7h0M95.6 81.8h0M89.9 122.5h0M71.9 66.9h0M87.1 114.3h0M83.3 48.2h0M84.8 116.9h0M61.5 34.2h0M107.1 131.8h0M74.9 38.1h0M93.1 83.8h0M80.7 87.0h0M68.8 82.9h0M58.0 42.4h0M78.0 104.3h0M99.0 88.9h0M82.5 41.3h0M105.2 134.2h0M80.8 105.0h0M133.9 152.0h0M74.9 100.4h0M116.9 142.8h0M85.3 62.1h0M91.6 96.3h0M85.9 59.2h0M46.9 37.9h0M106.6 138.8h0M87.7 125.9h0M83.1 46.4h0M96.7 82.6h0M93.0 77.3h0M91.1 117.0h0M113.6 137.3h0M85.1 119.2h0M82.9 109.3h0M48.6 39.5h0M91.5 116.3h0M89.7 81.2h0M91.5 123.2h0M85.4 114.4h0M84.3 61.9h0M91.0 76.5h0M82.9 108.2h0M84.2 82.5h0M123.2 143.0h0M92.1 122.6h0M94.7 78.5h0M75.9 87.6h0M117.8 143.4h0M91.7 127.4h0M56.7 35.1h0M87.8 75.9h0M84.0 106.7h0M94.1 84.7h0M95.7 132.0h0M85.0 119.8h0M85.0 87.4h0M83.9 115.6h0M126.6 144.6h0M121.2 140.5h0M77.9 103.0h0M125.8 144.9h0M74.4 59.0h0M79.6 96.8h0M107.2 104.6h0M83.9 109.5h0M92.3 82.0h0M90.2 78.5h0M107.5 103.6h0M83.9 117.9h0M72.0 83.1h0M122.8 142.1h0M84.6 98.5h0M96.4 128.6h0M107.9 135.3h0M117.9 139.2h0M84.1 61.6h0M105.4 134.9h0M84.3 85.5h0M58.5 43.7h0M97.4 127.5h0M117.1 139.1h0M95.3 87.9h0M81.8 110.2h0M69.5 38.1h0M83.0 62.0h0M84.9 73.5h0M122.3 141.8h0M87.6 96.2h0M56.5 46.7h0M74.4 109.8h0M55.7 38.3h0M94.4 82.9h0M46.2 38.3h0M80.6 100.9h0M101.7 128.6h0M86.2 91.3h0M104.5 106.9h0M86.1 71.8h0M90.4 123.0h0M84.4 74.4h0M80.0 36.8h0M77.7 104.0h0M94.4 82.3h0M62.7 42.4h0M70.6 33.5h0M101.3 132.5h0M82.5 102.7h0M81.2 98.5h0M76.5 66.5h0M88.0 61.6h0M84.1 94.5h0M58.4 35.9h0M54.2 37.0h0M82.9 98.5h0M83.2 66.6h0M77.5 65.8h0M93.7 99.1h0M67.3 34.4h0M111.5 135.1h0M84.5 112.3h0M108.1 131.7h0M77.9 99.1h0M87.1 110.9h0M93.4 77.0h0M60.5 34.9h0M88.6 57.1h0M87.1 119.0h0M71.5 45.5h0M101.4 44.2h0M84.6 59.3h0M84.3 43.4h0M85.5 96.1h0M134.2 151.0h0M84.2 107.0h0M82.1 107.7h0M60.1 36.7h0M72.0 98.7h0M60.3 44.1h0M83.7 90.3h0M89.9 84.6h0M95.3 123.8h0M67.2 35.3h0M86.2 79.9h0M80.9 90.9h0M88.8 120.3h0M81.6 91.0h0M89.5 115.0h0M88.9 52.6h0M95.7 123.7h0M81.4 96.3h0M87.6 48.4h0M102.5 127.0h0M128.3 149.1h0M74.6 87.4h0M94.7 96.3h0M78.9 99.9h0M86.3 114.9h0M69.3 92.4h0M100.6 130.6h0M90.3 98.3h0M145.7 155.4h0M120.1 141.6h0M94.1 77.8h0M88.3 95.8h0M85.1 94.5h0M77.8 118.2h0M97.6 79.2h0M95.1 90.8h0M109.6 132.8h0M94.2 88.1h0M57.3 42.2h0M83.3 119.6h0M112.7 137.4h0M118.1 143.8h0M77.4 87.3h0M92.8 82.3h0M84.5 110.9h0M122.6 145.8h0M62.8 34.1h0M91.1 115.4h0M93.0 78.4h0M93.3 96.2h0M92.4 126.7h0M83.8 108.5h0M88.6 97.1h0M93.5 81.1h0M94.3 121.5h0M88.0 119.6h0M73.2 82.5h0M86.2 90.1h0M80.8 119.8h0M93.2 122.5h0M83.8 91.7h0M70.3 45.3h0M118.0 143.5h0M132.8 150.1h0M92.0 85.2h0M122.3 143.8h0M122.9 145.4h0M85.4 121.0h0M123.3 146.8h0M73.9 57.8h0M80.5 107.3h0M119.7 141.9h0M69.5 84.5h0M91.3 79.1h0M90.1 90.8h0M91.4 85.4h0M55.8 34.6h0M88.3 110.1h0M85.8 108.6h0M74.9 64.2h0M67.7 76.1h0M83.3 89.4h0M102.2 131.5h0M93.3 128.7h0M85.2 116.2h0M96.9 81.5h0M113.4 139.1h0M95.4 86.5h0M91.3 53.6h0M89.7 78.0h0M89.4 128.1h0M83.3 90.4h0M71.2 54.5h0M86.6 119.4h0M121.1 144.9h0M102.5 103.3h0M83.1 96.3h0M73.2 106.3h0M100.3 89.9h0M104.7 135.0h0M100.8 131.3h0M86.9 89.1h0M57.6 37.3h0M77.7 107.7h0M92.8 124.3h0M77.1 88.5h0M88.7 114.1h0M96.1 83.9h0M71.0 52.5h0M83.3 118.5h0M94.1 130.6h0M80.2 76.3h0M88.7 98.1h0M80.7 100.3h0M118.1 140.4h0M97.0 129.4h0M78.3 89.0h0M68.7 84.1h0M64.3 33.9h0M121.2 142.2h0M106.9 104.6h0M92.9 95.7h0M94.7 126.3h0M96.2 127.7h0M84.8 91.5h0M82.6 81.4h0M102.3 128.0h0M86.7 60.3h0M96.3 133.8h0M83.9 94.1h0M89.8 111.9h0M83.4 116.7h0M93.8 122.3h0M86.4 116.7h0M90.2 116.3h0M76.2 114.1h0M71.3 40.2h0M93.7 83.9h0M123.1 141.8h0M84.8 93.7h0M89.4 61.3h0M84.1 99.2h0M91.8 96.5h0M87.2 118.1h0M68.6 50.5h0M82.6 85.8h0M104.1 131.0h0M66.5 81.1h0M77.0 101.9h0M85.2 61.5h0M89.5 73.9h0M134.4 152.2h0M85.6 94.4h0M82.4 61.4h0M125.2 146.5h0M68.7 35.9h0M51.2 39.6h0M93.8 96.8h0M85.1 118.2h0M83.5 85.1h0M101.7 44.1h0M121.4 141.4h0M94.4 80.0h0M60.2 36.5h0M74.7 58.3h0M69.5 82.1h0M83.4 110.2h0M92.2 77.8h0M81.7 89.7h0M116.4 139.4h0M81.7 94.9h0M82.3 99.4h0M63.2 36.2h0M90.4 47.8h0M87.2 115.0h0M91.9 89.9h0M72.2 35.6h0M87.2 113.5h0M84.9 115.3h0M112.1 135.6h0M136.7 152.4h0M73.4 109.2h0M46.0 38.4h0M80.5 88.8h0M88.4 116.5h0M79.4 91.9h0M93.0 84.5h0M88.3 115.1h0M91.1 91.1h0M105.3 102.3h0M84.3 105.3h0M48.5 40.0h0M121.1 144.2h0M78.6 68.7h0M85.8 87.3h0M76.4 85.1h0M72.9 100.2h0M82.9 107.0h0M82.9 85.3h0M83.0 92.4h0M84.7 110.4h0M73.0 58.3h0M107.3 132.8h0M54.2 40.4h0M93.2 126.5h0M78.8 71.3h0M129.2 149.2h0M85.8 99.3h0M91.8 79.4h0M73.0 98.0h0M110.2 136.0h0M96.4 84.1h0M119.2 141.1h0M72.6 111.7h0M120.5 143.0h0M91.7 92.2h0M101.3 89.0h0M71.5 39.2h0M123.7 144.8h0M81.9 43.3h0M81.6 101.5h0M112.0 134.6h0M85.8 97.9h0M80.6 92.4h0M59.1 37.8h0M94.2 124.0h0M85.7 112.6h0M87.6 113.6h0M110.2 140.1h0M124.2 145.7h0M79.3 98.3h0M79.8 99.8h0M114.2 138.0h0M88.2 82.9h0M67.0 83.3h0M85.4 44.4h0M78.0 100.1h0M97.2 129.3h0M71.0 86.5h0M88.6 96.3h0M63.6 34.4h0M80.9 108.9h0M77.1 112.7h0M110.7 140.3h0M94.6 79.9h0M60.3 36.7h0M102.9 131.8h0M74.1 33.7h0M73.3 33.2h0M88.2 50.6h0M91.8 92.0h0M90.3 53.5h0M84.0 91.0h0M75.1 102.1h0M87.8 55.9h0M68.6 35.5h0M83.9 118.7h0M71.9 84.4h0M88.0 97.8h0M89.4 117.4h0M82.7 90.8h0M93.1 93.7h0M89.7 88.5h0M82.2 120.1h0M85.5 107.6h0M83.7 117.3h0M83.0 81.2h0M133.4 150.5h0M85.7 117.9h0M83.9 100.0h0M76.1 86.9h0M85.5 109.9h0M76.7 85.7h0M85.5 75.6h0M87.9 117.0h0M66.6 48.3h0M92.1 87.0h0M84.2 116.6h0M84.2 44.0h0M92.7 97.3h0M83.0 49.8h0M69.8 55.2h0M90.4 114.2h0M93.5 129.5h0M96.3 81.6h0M94.0 125.6h0M79.2 95.2h0M94.9 132.3h0M84.4 59.0h0M97.6 83.2h0M101.1 130.2h0M73.1 38.5h0M72.8 38.9h0M90.1 88.2h0M85.3 68.3h0M97.0 132.0h0M51.1 42.1h0M71.3 105.6h0M80.9 57.3h0M71.5 99.0h0M65.4 37.9h0M86.9 125.3h0M125.3 143.8h0M95.8 77.7h0M77.8 101.4h0M101.7 130.8h0M93.0 123.8h0M109.9 134.9h0M81.2 44.0h0M81.4 103.5h0M59.0 35.2h0M88.9 53.7h0M71.3 45.7h0M116.7 138.3h0M86.9 58.0h0M78.3 89.8h0M89.0 53.5h0M88.2 100.0h0M94.6 124.5h0M86.5 98.1h0M81.8 105.8h0M92.2 127.9h0M94.2 92.3h0M87.4 93.9h0M71.1 38.0h0M109.4 137.1h0M87.7 111.4h0M82.3 97.2h0M106.2 102.6h0M88.9 72.9h0M80.5 98.8h0M80.3 88.2h0M74.4 69.4h0M70.0 83.3h0M65.3 36.8h0M66.9 76.1h0M61.6 45.1h0M73.5 57.7h0M105.5 130.4h0M88.6 119.8h0M91.4 85.1h0M88.7 111.4h0M77.8 68.5h0M89.7 98.4h0M86.9 98.9h0M86.4 52.7h0M73.0 110.1h0M89.5 116.6h0M97.6 131.3h0M89.2 79.4h0M76.9 87.7h0M91.2 126.2h0M70.9 57.2h0M84.7 110.0h0M66.6 80.1h0M65.0 34.5h0M95.0 122.1h0M81.3 97.6h0M124.9 147.7h0M82.6 118.3h0M58.9 35.7h0M88.8 85.4h0M90.4 89.2h0M93.1 119.1h0M73.5 57.1h0M88.7 113.5h0M89.3 54.7h0M94.8 85.6h0M89.9 99.2h0M83.8 92.9h0M99.5 88.6h0M101.7 130.0h0M76.3 63.5h0M89.4 114.1h0M84.7 46.8h0M85.6 121.3h0M97.8 130.5h0M94.0 129.8h0M76.6 113.2h0M92.2 86.3h0M47.9 40.3h0M93.8 126.2h0M89.1 96.6h0M111.7 140.0h0M70.8 98.4h0M87.1 126.1h0M85.0 107.9h0M91.0 52.1h0M87.7 115.6h0M83.3 93.7h0M80.5 91.6h0M96.9 87.1h0M94.7 95.1h0M85.9 76.3h0M72.6 76.9h0M84.8 75.2h0M89.4 95.4h0M85.1 96.1h0M122.9 143.8h0M93.7 98.4h0M97.1 80.5h0M87.0 96.2h0M81.8 57.7h0M81.9 82.8h0M86.8 73.3h0M88.8 127.0h0M91.7 130.4h0M83.1 97.7h0M66.4 36.5h0M108.0 135.3h0M85.6 58.5h0M95.2 77.8h0M85.3 108.8h0M92.6 96.9h0M95.4 80.2h0M81.4 60.3h0M109.0 133.1h0M96.2 82.8h0M86.3 117.1h0M78.3 72.5h0M124.5 145.0h0M57.3 42.9h0M86.3 57.3h0M103.4 132.1h0M72.2 91.9h0M88.4 111.1h0M91.4 129.8h0M83.3 94.8h0M82.6 42.8h0M89.2 119.6h0M70.8 74.8h0M83.4 115.8h0M86.5 108.7h0M103.5 132.8h0M89.7 53.6h0M118.3 142.5h0M65.4 80.0h0M97.2 132.4h0M89.4 54.4h0M88.6 91.1h0M81.2 88.0h0M108.7 133.5h0M96.5 131.4h0M90.9 87.9h0M88.7 117.3h0M71.5 84.2h0M75.2 112.1h0M51.9 45.0h0M76.3 113.8h0M71.6 67.3h0M103.8 128.8h0M73.9 38.2h0M74.5 67.3h0M86.7 112.9h0M110.9 134.6h0M83.2 106.1h0M96.0 88.9h0M88.0 97.0h0M86.8 109.5h0M91.5 86.9h0M94.9 87.2h0M72.7 45.4h0M72.6 53.9h0M125.7 146.1h0M87.3 110.4h0M97.3 125.2h0M62.6 36.1h0M82.7 121.0h0M47.2 35.3h0M52.7 36.6h0M89.4 85.2h0M68.0 35.6h0M94.6 82.4h0M106.9 132.5h0M79.1 82.4h0M81.2 120.3h0M71.9 64.0h0M95.2 79.0h0M95.5 86.0h0M83.2 49.1h0M77.4 88.6h0M54.5 45.2h0M65.2 36.4h0M61.5 36.6h0M57.2 37.3h0M71.5 53.0h0M113.4 136.3h0M61.3 44.0h0M66.7 37.3h0M85.5 72.8h0M111.7 135.1h0M83.2 101.7h0M88.1 118.5h0M69.6 81.2h0M95.5 88.7h0M73.9 59.3h0M90.6 51.9h0M112.6 136.5h0M66.1 77.3h0M86.7 59.5h0M81.7 83.6h0M83.6 77.6h0M63.8 35.0h0M84.8 111.8h0M67.9 82.5h0M83.0 95.5h0M71.6 100.1h0M72.4 97.8h0M89.8 113.8h0M95.0 128.5h0M88.5 55.6h0M89.2 112.6h0M129.7 147.4h0M94.4 78.3h0M83.8 48.5h0M60.7 36.5h0M105.4 129.9h0M91.4 98.2h0M75.9 116.5h0M100.2 129.3h0M97.5 128.8h0M77.3 117.7h0M86.6 116.0h0M75.2 112.4h0M86.0 92.5h0M71.2 78.3h0M61.3 43.6h0M69.4 84.1h0M93.7 79.5h0M93.1 79.8h0M94.7 83.2h0M85.3 44.7h0M96.5 123.7h0M133.0 151.7h0M85.4 113.1h0M96.0 128.7h0M72.1 67.5h0M85.9 97.7h0M86.7 90.5h0M85.0 113.0h0M83.8 84.7h0M95.5 78.2h0M72.9 55.3h0M107.6 102.7h0M80.4 75.7h0M83.5 110.6h0M91.8 130.6h0M95.2 81.3h0M92.3 123.3h0M98.1 133.5h0M85.6 91.5h0M96.3 89.2h0M56.1 35.6h0M71.5 72.9h0M89.4 90.8h0M103.4 134.9h0M71.1 79.2h0M82.2 109.0h0M86.9 91.8h0M88.4 57.6h0M87.1 81.2h0M90.4 122.9h0M54.5 34.3h0M90.3 115.2h0M81.0 95.1h0M68.6 34.6h0M95.8 133.2h0M84.7 100.2h0M88.6 73.9h0M85.4 95.4h0M64.7 37.4h0M68.0 36.0h0M92.6 124.0h0M85.2 91.0h0M80.5 94.6h0M70.1 38.9h0M106.9 131.7h0M124.2 143.8h0M107.3 139.1h0M116.0 138.3h0M94.1 81.5h0M96.6 79.7h0M92.6 81.3h0M67.7 90.5h0M85.3 107.0h0M81.6 101.0h0M85.5 87.9h0M69.3 35.8h0M66.1 37.1h0M107.8 133.7h0M79.0 116.8h0M96.6 126.2h0M76.4 117.1h0M81.5 82.0h0M88.6 59.3h0M95.2 84.5h0M99.5 84.4h0M93.6 123.0h0M83.7 108.8h0M100.8 89.7h0M80.5 101.5h0M140.1 152.1h0M93.5 121.6h0M88.1 95.6h0M72.3 100.0h0M83.6 92.0h0M136.0 151.7h0M93.2 94.5h0M89.9 118.0h0M117.0 139.7h0M94.4 95.8h0M84.8 58.6h0M82.3 109.8h0M109.4 138.3h0M69.3 51.1h0M76.2 112.4h0M79.9 100.8h0M87.7 116.2h0M65.3 45.3h0M92.5 84.5h0M57.5 39.3h0M93.5 98.7h0M66.2 80.6h0M92.5 91.2h0M98.2 96.9h0M92.1 78.1h0M86.8 90.6h0M133.9 151.3h0M91.2 87.1h0M68.3 84.2h0M88.9 61.8h0M87.3 59.7h0M104.9 102.8h0M55.6 34.7h0M85.7 118.8h0M92.3 129.1h0M89.9 52.4h0M84.0 97.1h0M72.6 77.1h0M110.9 139.8h0M81.1 106.2h0M56.8 39.0h0M84.6 63.1h0M72.5 46.4h0M104.6 103.2h0M103.0 130.8h0M71.5 54.8h0M57.4 46.2h0" stroke="#f2a42a" stroke-width="1.50"/><path d="M103.8 96.4h0M95.9 91.5h0M83.2 75.2h0M106.8 106.4h0M86.4 79.3h0M87.0 61.6h0M97.6 90.9h0M85.9 62.3h0M99.5 90.0h0M84.6 79.6h0M91.4 97.1h0M91.8 129.8h0M80.4 60.9h0M115.8 143.3h0M90.1 47.2h0M98.2 96.2h0M75.2 36.4h0M106.6 105.3h0M84.8 86.8h0M78.5 115.6h0M55.2 42.2h0M110.8 138.8h0M121.8 145.1h0M119.6 143.6h0M96.4 93.4h0M83.9 60.3h0M79.6 71.8h0M96.8 90.9h0M82.6 79.9h0M86.1 63.1h0M73.1 103.9h0M80.8 37.8h0M82.3 82.1h0M100.3 103.2h0M100.8 94.8h0M74.6 85.1h0M61.8 46.7h0M91.3 83.1h0M89.2 46.7h0M82.7 92.3h0M90.7 87.2h0M91.5 94.6h0M116.3 140.7h0M89.2 75.7h0M137.0 153.4h0M90.2 82.2h0M105.5 103.6h0M77.0 84.0h0M73.4 104.6h0M80.1 97.7h0M87.9 127.0h0M76.0 75.3h0M82.5 78.6h0M77.8 62.9h0M70.2 77.2h0M103.8 99.1h0M99.0 83.1h0M99.0 83.4h0M59.4 46.1h0M86.5 63.7h0M73.0 35.3h0M69.2 81.7h0M83.1 64.0h0M128.0 147.2h0M79.4 56.9h0M81.3 85.5h0M104.5 97.0h0M87.6 41.7h0M57.9 45.1h0M101.8 101.3h0M126.9 148.8h0M101.6 101.9h0M73.4 36.0h0M141.8 154.0h0M103.9 131.5h0M77.0 58.1h0M63.5 46.7h0M82.0 79.7h0M75.4 35.4h0M78.3 75.6h0M88.6 85.1h0M89.3 87.3h0M74.1 34.5h0M103.3 105.1h0M85.9 106.2h0M100.5 92.4h0M47.5 39.5h0M77.0 74.1h0M107.8 133.9h0M138.6 152.5h0M115.6 142.5h0M114.5 140.7h0M75.3 85.7h0M80.8 78.7h0M131.3 149.4h0M103.0 95.8h0M100.0 94.4h0M78.4 98.0h0M77.9 57.5h0M98.0 127.0h0M87.1 82.6h0M79.9 65.6h0M85.3 97.2h0M80.6 71.9h0M75.4 84.1h0M105.6 107.7h0M105.1 137.9h0M98.3 128.5h0M86.3 83.8h0M88.6 54.7h0M95.0 101.0h0M71.0 59.3h0M103.6 136.6h0M89.9 47.8h0M99.3 97.3h0M108.5 106.7h0M85.6 63.7h0M90.7 99.2h0M99.6 99.3h0M142.9 155.3h0M77.2 73.2h0M76.6 58.2h0M71.2 89.4h0M92.6 118.5h0M90.6 91.9h0M93.5 127.3h0M114.4 138.3h0M67.2 46.1h0M105.5 133.9h0M79.6 50.0h0M60.6 45.8h0M69.5 76.9h0M109.8 133.5h0M81.5 94.0h0M146.5 155.2h0M100.1 102.7h0M101.6 104.2h0M78.4 73.4h0M124.9 143.0h0M94.4 93.5h0M81.1 72.3h0M83.3 79.8h0M66.2 49.7h0M101.7 103.1h0M100.0 96.8h0M94.0 126.9h0M93.3 87.0h0M99.0 94.8h0M94.1 94.3h0M81.9 95.1h0M87.8 87.2h0M99.4 128.3h0M82.5 62.6h0M98.1 128.3h0M142.7 153.4h0M100.1 131.9h0M65.2 46.0h0M126.1 146.7h0M86.8 69.2h0M77.5 81.1h0M100.7 135.5h0M108.1 107.9h0M144.6 153.8h0M80.8 79.5h0M75.0 60.7h0M83.5 82.0h0M103.4 97.6h0M103.6 95.3h0M85.6 68.3h0M73.5 49.9h0M98.7 93.0h0M144.2 155.1h0M83.5 73.3h0M130.9 148.4h0M86.3 60.7h0M81.2 55.3h0M146.9 155.1h0M70.0 73.9h0M97.4 91.6h0M64.4 39.8h0M137.6 152.6h0M77.9 60.5h0M81.6 77.9h0M105.9 100.6h0M114.2 141.8h0M93.7 87.2h0M86.8 80.3h0M69.3 73.4h0M70.5 57.8h0M97.6 96.2h0M76.8 60.9h0M70.4 49.3h0M103.7 104.8h0M106.7 135.7h0M60.8 46.9h0M102.3 92.8h0M95.7 90.6h0M84.2 81.3h0M44.5 37.8h0M61.8 36.1h0M74.9 85.0h0M98.2 91.6h0M57.6 40.8h0M70.8 88.1h0M104.7 104.9h0M73.4 50.5h0M119.6 140.2h0M106.7 107.8h0M79.2 56.3h0M119.9 140.1h0M86.4 88.7h0M71.9 59.6h0M79.1 80.7h0M79.9 71.1h0M80.7 55.4h0M75.8 60.2h0M95.6 48.2h0M105.7 137.1h0M118.6 138.8h0M50.3 40.0h0M98.1 127.1h0M89.3 126.1h0M88.8 122.2h0M49.0 36.4h0M87.8 72.2h0M80.8 62.3h0M73.0 86.5h0M70.1 48.8h0M96.8 93.2h0M75.8 71.9h0M90.3 99.6h0M106.4 103.6h0M114.5 142.5h0M74.3 85.2h0M72.2 53.2h0M116.0 141.5h0M112.8 140.7h0M98.9 101.7h0M73.4 56.3h0M98.7 131.7h0M69.0 37.1h0M57.7 34.5h0M116.6 143.9h0M74.9 58.0h0M82.7 56.0h0M80.8 69.0h0M101.1 101.3h0M78.6 82.8h0M97.9 94.8h0M69.7 37.1h0M78.8 111.4h0M59.0 40.6h0M85.2 63.6h0M103.9 133.8h0M70.6 53.0h0M107.0 133.7h0M77.2 72.3h0M79.5 37.8h0M81.3 40.1h0M105.1 106.7h0M107.6 107.2h0M78.8 93.1h0M79.8 58.5h0M126.8 148.0h0M104.9 136.2h0M116.2 137.9h0M114.7 141.5h0M111.3 137.0h0M90.3 92.7h0M83.3 100.4h0M100.4 92.0h0M77.1 115.7h0M60.8 42.2h0M71.3 58.8h0M88.1 82.0h0M108.6 107.4h0M89.2 46.1h0M68.8 71.9h0M101.4 134.0h0M50.9 39.2h0M107.0 134.9h0M117.0 141.0h0M71.7 35.6h0M82.3 115.9h0M86.7 93.9h0M79.0 69.4h0M82.8 63.3h0M75.1 74.8h0M56.7 43.8h0M100.1 127.2h0M104.4 131.2h0M80.3 62.9h0M107.0 108.7h0M98.0 88.4h0M102.7 92.6h0M80.1 65.5h0M71.6 36.1h0M95.7 131.2h0M89.1 80.2h0M89.2 82.7h0M93.8 86.4h0M92.2 80.3h0M136.3 150.6h0M100.8 98.6h0M105.2 138.5h0M111.2 136.3h0M81.0 119.6h0M47.9 38.9h0M50.0 37.2h0M78.0 74.8h0M78.8 39.2h0M72.5 37.2h0M98.3 86.9h0M79.3 69.6h0M100.2 88.8h0M74.4 73.3h0M81.6 79.8h0M101.2 99.0h0M89.5 44.2h0M91.4 129.1h0M71.4 57.8h0M81.6 79.5h0M59.8 46.5h0M85.2 80.2h0M130.0 148.8h0M76.3 58.5h0M100.7 87.3h0M84.8 89.2h0M83.1 60.4h0M72.7 48.5h0M100.2 128.5h0M93.9 92.8h0M55.8 42.0h0M75.4 59.6h0M107.9 106.4h0M109.0 135.2h0M103.2 100.2h0M91.0 77.5h0M96.7 95.2h0M100.6 100.3h0M81.7 86.1h0M85.9 95.2h0M76.5 62.5h0M110.6 133.9h0M99.4 101.5h0M75.3 83.2h0M107.4 135.9h0M80.6 72.8h0M72.3 66.3h0M112.6 138.9h0M119.5 142.2h0M85.0 106.6h0M99.6 93.7h0M83.3 68.2h0M108.2 134.3h0M53.6 45.8h0M78.3 57.2h0M100.0 93.9h0M101.4 95.3h0M130.8 151.1h0M101.9 132.4h0M98.7 46.6h0M70.7 35.7h0M105.5 138.3h0M98.0 46.3h0M99.0 44.0h0M89.4 45.1h0M77.9 82.6h0M81.3 63.7h0M74.9 75.3h0M85.3 81.4h0M79.1 80.6h0M47.6 39.2h0M78.2 75.5h0M96.1 124.1h0M104.6 105.6h0M87.5 43.3h0M95.6 90.3h0M136.9 151.4h0M77.2 41.8h0M96.1 126.3h0M86.8 63.1h0M109.6 134.6h0M86.9 82.0h0M75.9 73.3h0M79.7 60.2h0M98.3 94.9h0M87.4 58.5h0M87.4 71.5h0M91.6 90.0h0M98.9 85.6h0M82.5 122.8h0M73.5 86.0h0M102.4 136.2h0M79.9 85.6h0M81.8 74.8h0M95.0 91.9h0M105.7 99.8h0M48.3 36.3h0M102.5 104.8h0M77.7 117.2h0M79.6 81.8h0M104.3 137.8h0M79.1 57.8h0M89.3 77.7h0M78.9 111.0h0M105.3 98.3h0M99.5 95.8h0M81.2 64.5h0M78.9 78.4h0M111.9 137.0h0M127.1 147.9h0M70.7 76.5h0M101.1 93.3h0M88.6 46.0h0M97.1 94.5h0M61.7 46.3h0M69.7 48.1h0M81.3 65.6h0M59.9 45.0h0M83.9 87.8h0M77.1 85.1h0M87.6 82.5h0M82.8 68.0h0M69.0 70.1h0M79.7 64.9h0M54.3 37.9h0M78.1 58.4h0M79.6 61.3h0M110.3 138.8h0M131.1 150.4h0M106.3 134.0h0M102.5 97.7h0M94.1 127.8h0M129.3 147.7h0M104.2 133.7h0M70.5 73.0h0M146.2 155.7h0M138.5 153.2h0M103.7 102.4h0M72.5 66.2h0M98.3 98.4h0M76.1 37.6h0M99.7 101.3h0M80.6 80.8h0M86.9 76.6h0M95.2 130.2h0M92.3 94.1h0M106.8 107.1h0M104.7 100.5h0M82.3 63.5h0M143.1 154.5h0M89.8 86.3h0M87.2 41.8h0M56.6 44.6h0M84.3 96.7h0M98.6 132.1h0M78.5 74.7h0M64.3 47.3h0M54.6 38.8h0M96.6 127.4h0M97.3 90.3h0M131.4 150.0h0M79.4 80.0h0M85.7 116.5h0M80.4 77.9h0M94.6 131.2h0M79.9 77.4h0M96.8 90.2h0M111.6 137.5h0M105.8 136.1h0M84.0 81.8h0M77.5 89.5h0M82.7 99.9h0M88.3 81.1h0M96.5 88.7h0M98.8 43.4h0M95.9 48.4h0M116.8 141.0h0M103.1 101.1h0M70.1 58.3h0M129.5 148.5h0M104.3 97.7h0M78.0 61.7h0M58.0 40.0h0M78.5 79.0h0M80.6 39.3h0M93.0 86.4h0M103.6 101.8h0M105.5 99.2h0M72.8 84.2h0M123.3 143.7h0M76.5 76.2h0M77.7 63.8h0M87.6 63.4h0M101.0 92.4h0M60.6 43.2h0M100.0 101.3h0M102.2 133.9h0M90.1 77.5h0M81.3 63.3h0M89.9 76.4h0M90.9 84.2h0M79.1 37.0h0M73.5 53.7h0M86.4 87.8h0M76.7 37.7h0M105.0 133.5h0M75.0 88.1h0M61.7 42.2h0M99.1 132.6h0M83.2 100.8h0M96.1 130.4h0M86.0 82.0h0M101.5 90.9h0M70.9 75.9h0M64.9 47.3h0M69.6 76.1h0M145.4 154.6h0M71.8 36.7h0M114.6 137.9h0M104.1 136.4h0M57.5 35.8h0M100.3 98.4h0M106.1 107.6h0M70.1 33.6h0M56.8 38.1h0M91.4 89.3h0M104.0 135.0h0M78.2 38.6h0M74.0 53.2h0M79.2 101.8h0M90.6 128.1h0M98.7 84.0h0M91.2 92.4h0M80.0 106.7h0M69.7 54.3h0M56.6 38.2h0M77.5 72.9h0M77.9 64.8h0M74.5 73.5h0M59.1 40.0h0M74.0 37.3h0M93.4 88.5h0M79.3 70.0h0M78.2 81.9h0M83.4 61.6h0M101.5 100.3h0M99.1 93.0h0M88.5 94.1h0M93.8 128.9h0M92.8 90.2h0M83.3 39.3h0M87.2 78.3h0M101.7 135.1h0M107.5 108.1h0M82.0 39.4h0M98.9 82.7h0M82.1 77.6h0M115.3 140.3h0M56.7 34.3h0M56.6 45.7h0M77.1 116.1h0M76.8 35.8h0M69.9 58.1h0M80.8 39.2h0M81.2 78.4h0M99.0 130.9h0M95.8 95.7h0M81.6 91.7h0M78.4 55.9h0M82.6 68.2h0M99.8 92.3h0M71.7 76.6h0M77.5 84.2h0M76.7 64.7h0M103.7 105.6h0M83.7 62.9h0M74.0 35.7h0M143.1 154.0h0M62.5 47.3h0M84.3 73.7h0M85.6 73.5h0M99.3 128.8h0M94.0 131.4h0M77.6 73.5h0M75.8 36.7h0M91.5 95.3h0M73.1 52.2h0M79.5 94.5h0M93.2 128.0h0M71.7 65.3h0M69.2 76.8h0M50.2 39.1h0M109.9 138.0h0M102.7 96.5h0M119.2 140.0h0M116.3 141.9h0M87.2 77.3h0M100.6 99.0h0M103.4 98.5h0M80.1 45.4h0M79.1 58.9h0M73.6 37.6h0M86.2 83.1h0M121.8 145.7h0M100.5 96.9h0M56.6 38.5h0M121.5 143.6h0M101.4 92.3h0M99.2 126.6h0M114.1 140.0h0M103.2 101.6h0M83.7 59.3h0M101.9 95.7h0M80.3 59.0h0M55.4 38.9h0M112.4 138.4h0M140.6 153.0h0M77.8 115.7h0M105.0 132.5h0M80.7 65.2h0M98.8 93.9h0M97.1 86.1h0M49.4 38.5h0M86.0 69.5h0M90.4 84.3h0M87.1 61.9h0M91.8 89.0h0M80.8 82.3h0M79.6 90.9h0M99.4 135.1h0M79.0 102.4h0M75.8 36.5h0M76.7 59.7h0M101.2 127.8h0M127.0 149.3h0M50.7 36.5h0M104.4 136.5h0M102.9 99.0h0M108.0 105.4h0M93.9 89.1h0M99.8 98.3h0M72.9 67.4h0M99.0 86.6h0M90.4 128.4h0M57.8 44.6h0M121.3 143.4h0M70.2 53.8h0M66.2 35.1h0M98.0 126.5h0M81.9 94.9h0M107.1 138.2h0M99.7 134.4h0M101.0 133.5h0M104.8 98.8h0M96.9 131.0h0M79.3 66.3h0M77.9 67.9h0M71.8 77.1h0M68.1 51.1h0M105.0 101.6h0M106.9 137.9h0M75.0 34.2h0M74.3 107.0h0M78.4 93.5h0M101.3 96.2h0M87.4 84.5h0M101.9 94.2h0M86.0 74.6h0M88.3 43.3h0M72.7 34.2h0M103.1 103.4h0M80.0 62.5h0M80.1 86.3h0M97.7 95.6h0M91.8 82.6h0M84.1 80.4h0M92.3 88.1h0M76.3 84.2h0M87.5 62.3h0M97.3 86.4h0M96.8 48.8h0M116.0 139.2h0M81.2 102.7h0M65.0 47.6h0M78.7 62.1h0M76.7 35.0h0M117.6 141.9h0M142.8 154.2h0M87.4 42.7h0M103.4 95.0h0M82.5 93.5h0M75.7 34.4h0M110.1 136.8h0M89.8 62.4h0M103.7 100.5h0M132.1 149.8h0M70.5 35.1h0M97.9 93.5h0M102.8 104.9h0M101.7 100.0h0M91.7 128.0h0M99.6 96.4h0M78.5 88.2h0M127.1 146.3h0M90.3 76.2h0M140.0 153.2h0M93.0 130.3h0M86.3 77.9h0M84.3 97.8h0M58.1 43.7h0M90.6 75.4h0M102.2 132.9h0M90.7 61.0h0M85.1 60.7h0M70.6 37.1h0M105.5 138.2h0M111.0 137.7h0M117.5 140.9h0M85.8 78.5h0M79.1 86.0h0M72.7 35.7h0M89.3 82.2h0M95.7 129.6h0M70.4 58.5h0M99.0 85.6h0M127.3 147.1h0M92.4 95.3h0M98.4 87.5h0M76.3 59.7h0M97.9 87.3h0M92.0 94.4h0M72.1 33.0h0M79.3 59.3h0M79.0 102.1h0M100.8 102.3h0M90.4 124.9h0M72.0 109.7h0M124.4 146.7h0M83.6 59.5h0M76.9 63.3h0M87.2 84.0h0M80.7 80.1h0M82.8 123.3h0M84.0 101.6h0M78.6 60.9h0M81.9 107.0h0M82.4 74.9h0M77.0 83.1h0M98.2 130.3h0M66.6 49.9h0M99.3 131.2h0M54.8 39.4h0M80.7 102.3h0M114.8 139.9h0M102.1 101.8h0M100.2 127.5h0M62.6 47.6h0M79.6 57.5h0M82.8 91.1h0M81.3 55.5h0M80.0 78.9h0M78.5 67.3h0M57.6 35.5h0M82.9 79.1h0M56.3 43.4h0M83.3 73.8h0M141.1 154.2h0M78.6 60.8h0M136.0 153.1h0M128.3 147.8h0M53.9 36.5h0M98.9 95.1h0M100.1 95.5h0M77.0 65.6h0M82.4 93.1h0M100.5 102.2h0M77.4 66.8h0M80.5 64.3h0M104.5 98.5h0M78.2 78.8h0M93.1 88.9h0M104.3 106.1h0M115.7 137.7h0M78.6 59.9h0M113.9 140.7h0M88.9 45.0h0M96.9 48.1h0M131.6 151.3h0M107.3 108.8h0M67.1 85.3h0M89.9 97.5h0M102.1 96.5h0M82.3 39.1h0M92.1 76.7h0M102.0 94.0h0M82.9 55.2h0M90.6 85.5h0M90.0 60.0h0M85.1 82.3h0M75.3 33.4h0M88.9 77.5h0M76.0 35.0h0M100.4 133.3h0M70.8 37.7h0M88.9 76.0h0M87.3 77.3h0M74.8 55.4h0M59.4 41.4h0M74.2 75.7h0M108.1 137.0h0M104.8 99.7h0M90.6 86.5h0M50.4 37.3h0M54.2 45.9h0M111.9 141.1h0M101.0 128.5h0M78.6 87.3h0M72.4 37.6h0M81.4 81.3h0M81.3 37.6h0M100.0 132.1h0M73.9 35.6h0M81.3 82.5h0M73.8 39.0h0M77.5 80.1h0M82.3 74.3h0M104.0 103.2h0M97.5 85.9h0M97.6 92.7h0M50.6 38.2h0M99.5 91.3h0M72.4 108.6h0M94.7 93.9h0M73.4 37.3h0M87.8 57.8h0M128.2 148.6h0M49.9 37.7h0M77.9 62.6h0M80.6 57.2h0M88.9 60.9h0M95.8 126.9h0M94.8 127.2h0M141.8 154.5h0M78.0 37.7h0M60.8 45.3h0M80.8 85.6h0M100.0 134.1h0M82.0 100.6h0M77.1 67.9h0M96.0 93.3h0M104.0 98.0h0M89.0 81.6h0M59.4 40.7h0M141.8 153.3h0M94.5 93.2h0M68.4 52.1h0M73.2 68.6h0M75.4 61.2h0M87.4 83.9h0M126.7 145.5h0M88.9 80.2h0M81.0 107.5h0M98.8 101.1h0M103.5 99.9h0M79.5 76.9h0M94.5 127.7h0M95.9 92.8h0M84.2 88.4h0M65.2 48.5h0M81.4 92.6h0" stroke="#f6e236" stroke-width="1.50"/></g><path d="M82.4 89.6l1.2 .5" stroke="#fff" stroke-width="1.3"/><path d="M120.3 50.6h0M123.0 50.0h0M120.2 52.2h0M120.4 53.8h0M120.8 55.2h0M141.6 57.2h0M143.0 57.4h0M144.4 58.2h0M145.8 59.0h0M147.2 59.8h0M150.0 61.4h0M151.4 62.2h0M152.8 63.0h0M144.2 60.6h0M147.4 62.0h0M150.6 63.6h0M152.2 64.6h0M176.1 71.7h0M177.0 74.0h0M176.1 75.8h0M176.1 78.8h0M114.0 77.6h0M108.0 80.8h0M113.6 91.0h0M116.7 100.4h0M111.9 111.6h0M129.9 113.8h0M131.8 115.4h0M125.9 129.1h0M129.0 130.9h0M125.3 134.0h0M148.0 153.9h0M86.4 104.0h0" stroke="#f0a040" stroke-width="2.4"/><path d="M121.8 50.2h0M121.7 52.0h0M123.0 51.6h0M121.8 53.6h0M122.9 53.2h0M122.2 54.8h0M148.6 60.6h0M154.2 63.8h0M155.6 64.6h0M141.4 59.2h0M142.8 60.2h0M145.8 61.2h0M149.0 62.8h0M168.2 70.0h0M167.4 70.6h0M136.7 74.6h0M113.6 94.8h0M110.8 112.2h0M109.4 113.4h0M107.2 109.8h0M100.3 115.0h0M100.3 120.9h0M97.3 122.4h0M156.1 116.7h0M152.3 127.0h0M144.4 129.1h0M145.8 131.7h0M144.9 130.4h0M141.7 135.3h0M157.1 151.1h0M157.1 156.4h0M90.1 102.8h0M88.6 102.4h0M90.8 111.7h0M91.6 110.4h0" stroke="#f3e540" stroke-width="2.4"/></g></g><text x="4.9" y="191.9" font-family="'Liberation Serif',serif" font-weight="bold" font-size="8.7" fill="#1a1a1a">(c)</text></g><g><rect x="226.40" y="198.58" width="165.36" height="152.38" fill="#fff" stroke="#8c8c8c" stroke-width="0.75"/><path d="M246.00 350.96v1.4M246.00 198.58v-1.4M279.04 350.96v1.4M279.04 198.58v-1.4M312.09 350.96v1.4M312.09 198.58v-1.4M345.14 350.96v1.4M345.14 198.58v-1.4M378.18 350.96v1.4M378.18 198.58v-1.4M226.40 218.68h-1.4M391.76 218.68h1.4M226.40 251.79h-1.4M391.76 251.79h1.4M226.40 284.90h-1.4M391.76 284.90h1.4M226.40 318.02h-1.4M391.76 318.02h1.4" stroke="#5a5a5a" stroke-width="0.55" fill="none"/><g font-size="4.30" fill="#151515" stroke="#151515" stroke-width="0.1"><text x="246.20" y="357.21" text-anchor="middle">117.410</text><text x="279.24" y="357.21" text-anchor="middle">117.415</text><text x="312.29" y="357.21" text-anchor="middle">117.420</text><text x="345.34" y="357.21" text-anchor="middle">117.425</text><text x="378.38" y="357.21" text-anchor="middle">117.430</text><text x="223.20" y="220.18" text-anchor="end">23.935</text><text x="223.20" y="253.29" text-anchor="end">23.930</text><text x="223.20" y="286.40" text-anchor="end">23.925</text><text x="223.20" y="319.52" text-anchor="end">23.920</text><text x="316.01" y="363.36" text-anchor="middle">Longitude (°E)</text><text transform="translate(207.10 267.53) rotate(-90)" text-anchor="middle">Latitude (°N)</text><text x="353.96" y="205.28">Wet season</text><text x="353.96" y="210.53">Light condition</text></g><g transform="translate(226.40 198.58) scale(1.0114 1.0199) translate(-28.2 -16.9)"><polygon points="44.4,36.8 47.6,34.9 52.6,34.3 58.9,33.7 65.2,33.3 71.5,32.8 75.9,32.0 77.8,34.8 82.6,38.2 87.6,41.0 92.7,43.5 97.1,43.5 100.9,42.3 102.3,44.4 99.6,46.9 96.4,49.4 93.3,52.6 90.8,55.1 88.9,58.2 91.4,60.7 90.8,62.6 87.6,63.9 87.0,67.0 87.6,70.8 90.2,74.0 92.7,75.5 97.8,78.8 99.7,82.6 100.9,87.6 103.5,93.9 106.5,99.5 108.7,104.2 109.4,107.3 108.4,110.0 104.5,108.0 99.3,104.6 94.2,101.5 89.3,100.6 86.5,100.2 84.6,101.2 84.6,104.0 86.4,106.8 89.5,111.0 92.0,115.0 93.9,118.6 95.8,122.6 98.3,125.5 102.7,126.9 106.5,129.4 110.3,132.6 114.1,135.7 117.9,138.0 121.5,140.1 125.9,143.3 130.3,147.9 135.0,149.9 139.1,151.5 146.1,153.8 147.5,155.5 145.3,156.4 139.1,155.1 130.3,151.4 125.0,148.4 120.0,145.0 116.6,144.0 111.6,142.0 106.5,139.4 101.5,136.3 96.4,134.0 91.4,131.0 87.6,127.0 82.6,123.3 77.6,118.9 73.8,113.8 70.7,108.8 70.7,106.5 71.3,101.5 69.4,96.4 66.9,93.3 66.9,88.9 64.4,83.9 64.4,79.4 66.9,75.0 68.8,70.0 70.2,68.3 70.9,63.9 70.2,59.5 69.0,55.1 67.1,51.3 64.6,48.8 60.2,47.5 56.4,46.9 52.0,46.9 49.4,43.7 46.9,40.6 44.4,38.1" fill="#18bda7" stroke="#fff" stroke-width="1.5" stroke-linejoin="round"/><g fill="none" stroke-linecap="round"><g filter="url(#bl)"><path d="M79.9 116.5h0M74.6 93.0h0M70.3 47.3h0M92.2 50.1h0M81.1 38.6h0M87.6 61.8h0M81.7 65.1h0M61.8 44.0h0M88.2 113.8h0M71.5 69.3h0M68.7 45.4h0M78.5 47.8h0M73.5 63.5h0M116.9 142.4h0M94.4 88.2h0M55.2 35.4h0M80.8 94.1h0M51.5 45.1h0M81.0 71.5h0M80.3 113.2h0M92.6 118.6h0M107.3 133.1h0M101.8 134.1h0M74.9 52.5h0M89.7 87.8h0M90.9 81.6h0M77.6 36.9h0M75.6 84.0h0M83.3 77.6h0M103.7 131.1h0M93.6 44.2h0M84.9 82.7h0M51.8 46.4h0M88.9 110.7h0M60.4 40.0h0M88.8 42.6h0M82.9 117.4h0M75.8 64.7h0M78.5 103.8h0M84.8 98.7h0M68.9 42.9h0M85.1 107.8h0M75.1 87.9h0M143.4 153.4h0M115.4 140.7h0M69.9 51.4h0M105.2 131.1h0M81.8 47.6h0M56.8 45.3h0M80.7 49.5h0M71.2 77.1h0M81.4 45.7h0M97.9 98.1h0M76.8 63.9h0M65.5 77.7h0M86.7 123.8h0M74.1 72.7h0M71.6 87.9h0M114.3 142.4h0M78.0 115.2h0M81.2 111.8h0M73.7 77.1h0M79.3 47.8h0M103.9 106.7h0M118.8 140.7h0M92.3 122.3h0M91.8 117.1h0M88.0 75.6h0M73.5 42.5h0M76.4 75.0h0M103.3 103.5h0M100.6 90.4h0M74.6 76.8h0M78.4 46.7h0M101.6 101.5h0M84.9 122.9h0M102.9 134.1h0M97.7 80.0h0M101.3 131.8h0M78.0 66.2h0M53.6 44.2h0M62.5 36.3h0M84.3 43.9h0M54.0 36.5h0M92.2 76.0h0M50.1 37.7h0M108.0 138.1h0M99.0 93.9h0M88.2 51.7h0M93.8 80.7h0M68.5 87.4h0M72.3 84.7h0M134.3 152.2h0M90.1 49.5h0M69.7 37.2h0M68.7 86.5h0M75.3 64.4h0M71.4 36.7h0M80.1 48.5h0M86.6 57.6h0M73.2 101.6h0M84.3 65.3h0M93.1 81.5h0M74.8 94.4h0M86.9 73.6h0M81.4 88.9h0M62.3 37.9h0M65.0 43.0h0M75.8 45.6h0M74.4 75.6h0M99.6 87.0h0M72.4 76.3h0M145.1 154.7h0M77.1 44.8h0M71.4 93.0h0M100.8 89.3h0M115.8 138.4h0M100.3 98.8h0M79.1 56.2h0M76.1 105.2h0M62.6 39.4h0M51.4 40.3h0M70.3 33.7h0M92.5 129.9h0M73.5 37.4h0M77.4 67.0h0M75.2 58.1h0M114.8 136.7h0M84.2 105.1h0M75.0 95.4h0M84.6 47.9h0M86.4 62.6h0M81.2 45.4h0M81.1 89.9h0M99.4 133.8h0M78.4 67.3h0M86.3 56.8h0M91.7 121.8h0M99.2 88.0h0M72.7 107.8h0M66.2 85.0h0M59.7 46.4h0M67.2 37.7h0M83.4 102.8h0M70.7 97.0h0M94.1 122.8h0M77.1 95.3h0M74.3 60.0h0M95.9 44.1h0M69.3 80.8h0M70.7 68.5h0M89.2 111.0h0M86.4 71.1h0M84.0 95.1h0M54.3 38.8h0M80.9 50.7h0M95.6 127.5h0M84.5 72.7h0M55.9 38.6h0M72.0 102.8h0M97.6 47.8h0M102.0 101.9h0M77.3 62.8h0M72.9 40.1h0M91.6 78.1h0M79.9 84.9h0M113.2 141.2h0M76.5 55.8h0M89.0 52.7h0M77.6 68.3h0M81.6 56.0h0M81.3 42.6h0M97.8 84.0h0M71.4 38.2h0M77.5 96.1h0M82.6 109.8h0M80.4 101.5h0M80.9 52.8h0M76.3 52.9h0M89.6 60.7h0M109.4 133.2h0M71.2 73.1h0M84.1 63.8h0M94.2 122.0h0M101.4 133.3h0M91.3 45.5h0M83.4 100.1h0M71.4 74.7h0M91.8 86.2h0M56.7 37.0h0M73.9 42.8h0M94.1 87.7h0M92.3 88.5h0M59.5 43.7h0M79.8 100.7h0M88.4 115.0h0M81.8 84.0h0M85.4 54.1h0M85.3 72.0h0M64.4 38.6h0M72.1 100.9h0M79.0 69.8h0M101.6 102.4h0M72.2 63.5h0M54.5 45.4h0M66.1 49.8h0M76.5 78.2h0M94.3 83.4h0M76.9 87.4h0M47.9 39.9h0M59.0 46.9h0M96.7 96.8h0M94.5 84.2h0M76.5 54.2h0M80.4 45.9h0M97.0 97.7h0M96.1 95.9h0M76.3 82.3h0M79.7 46.6h0M129.2 149.8h0M90.2 125.1h0M71.1 78.5h0M94.3 99.7h0M73.0 76.1h0M93.7 100.7h0M72.7 89.8h0M88.9 119.9h0M78.4 84.2h0M107.0 105.5h0M73.3 67.0h0M80.1 119.6h0M100.5 104.4h0M100.8 104.5h0M56.6 37.8h0M67.7 87.5h0M100.4 130.6h0M57.5 42.5h0M87.6 124.6h0M69.1 74.6h0M83.9 43.0h0M82.9 75.3h0M84.1 104.1h0M90.5 92.2h0M93.8 124.4h0M70.6 69.0h0M73.3 90.3h0M88.0 80.8h0M84.1 47.3h0M97.5 129.1h0M61.5 41.9h0M73.3 57.7h0M49.0 37.1h0M105.7 102.0h0M68.4 84.9h0M64.9 47.8h0M74.8 78.9h0M97.9 127.3h0M100.7 129.4h0M78.4 88.9h0M93.8 83.0h0M101.8 44.3h0M68.4 88.9h0M44.8 38.3h0M111.6 135.1h0M74.9 96.0h0M82.7 121.2h0M69.2 82.0h0M88.7 120.5h0M83.2 114.7h0M91.3 96.9h0M51.8 43.0h0M54.6 37.0h0M85.3 82.4h0M79.5 84.2h0M74.6 84.7h0M85.9 67.9h0M78.3 113.4h0M86.9 62.7h0M76.6 44.6h0M74.4 43.1h0M75.1 81.4h0M72.2 88.7h0M89.2 42.0h0M88.7 89.5h0M86.9 59.3h0M87.9 74.2h0M50.2 43.8h0M83.7 45.4h0M88.3 60.7h0M106.7 135.8h0M140.2 153.4h0M77.1 111.1h0M81.6 77.7h0M93.9 99.2h0M89.4 125.6h0M81.1 95.8h0M83.2 84.6h0M56.3 39.6h0M89.7 88.6h0M85.0 85.6h0M45.6 36.5h0M88.5 47.3h0M107.0 137.7h0M68.5 36.2h0M50.6 40.3h0M55.4 45.4h0M84.8 75.4h0M79.4 61.7h0M88.3 61.9h0M69.8 55.3h0M79.2 57.2h0M64.4 39.4h0M68.7 40.1h0M72.4 34.5h0M77.0 40.0h0M88.6 93.0h0M102.6 101.3h0M80.2 55.7h0M86.2 63.3h0M72.9 89.4h0M75.3 69.9h0M69.8 49.4h0M77.8 53.3h0M53.3 44.9h0M61.0 44.3h0M78.9 102.4h0M105.1 135.5h0M111.9 139.4h0M71.4 94.5h0M50.2 35.8h0M77.7 41.0h0M76.5 46.1h0M78.9 55.2h0M77.8 41.8h0M82.5 68.4h0M115.5 141.5h0M78.0 105.6h0M73.2 69.9h0M68.0 52.7h0M84.7 46.4h0M78.7 107.5h0M79.8 39.8h0M76.6 74.1h0M98.0 91.7h0M99.4 102.5h0M90.1 81.5h0M76.1 111.4h0M78.0 48.5h0M82.5 57.4h0M74.4 67.0h0M71.3 59.0h0M96.0 101.9h0M74.4 72.1h0M100.8 94.7h0M96.0 92.6h0M79.7 96.6h0M74.7 49.6h0M81.4 60.9h0M81.6 44.3h0M67.5 44.5h0M77.2 66.5h0M80.0 51.1h0M78.7 65.2h0M65.8 35.3h0M72.4 79.4h0M93.0 130.1h0M55.7 34.7h0M94.4 130.8h0M87.4 63.3h0M91.4 117.4h0M60.6 43.0h0M86.5 110.1h0M60.0 33.9h0M76.2 48.5h0M112.3 137.0h0M62.5 46.6h0M111.1 141.1h0M77.1 106.7h0M86.5 117.0h0M73.3 55.1h0M87.5 52.8h0M48.1 38.6h0M85.6 106.8h0M64.6 82.1h0M80.2 84.0h0M73.5 33.2h0M79.9 58.7h0M77.4 106.3h0M87.1 57.2h0M80.7 89.3h0M89.2 94.2h0M80.4 106.7h0M99.7 98.6h0M86.3 76.3h0M58.6 45.8h0M77.5 100.9h0M95.4 127.3h0M98.0 93.6h0M110.2 135.0h0M76.3 78.7h0M77.9 64.6h0M95.0 86.6h0M111.0 139.1h0M77.7 73.9h0M85.1 73.0h0M91.3 123.7h0M67.0 46.3h0M83.2 87.7h0M69.2 49.4h0M83.6 107.0h0M72.3 49.5h0M72.2 40.7h0M87.9 45.2h0M98.4 92.2h0M64.7 47.6h0M71.8 83.3h0M83.5 44.5h0M80.6 43.1h0M52.2 43.0h0M79.2 97.8h0M72.3 56.9h0M115.3 142.6h0M89.1 84.4h0M91.6 75.8h0M68.0 34.1h0M60.1 46.8h0M85.9 63.9h0M81.0 69.5h0M89.1 95.2h0M93.1 87.5h0M105.9 105.3h0M84.2 107.4h0M68.4 86.0h0M69.4 82.2h0M103.4 130.5h0M84.6 94.9h0M86.4 97.9h0M86.9 41.4h0M80.2 51.2h0M108.5 140.1h0M74.2 62.1h0M52.1 42.6h0M107.0 133.0h0M113.5 139.2h0M74.0 50.8h0M98.0 131.7h0M95.7 94.9h0M72.0 87.7h0M75.9 106.6h0M58.9 40.8h0M64.9 37.5h0M94.6 88.4h0M79.6 113.2h0M80.2 96.3h0M79.1 45.9h0M83.0 43.7h0M62.7 44.7h0M88.6 76.1h0M64.9 39.9h0M102.5 93.7h0M87.2 89.0h0M77.3 37.5h0M45.4 38.2h0M97.7 79.1h0M72.3 55.1h0M59.3 36.5h0M88.0 58.5h0M90.0 93.4h0M74.4 67.5h0M100.7 101.2h0M82.6 76.3h0M90.3 124.7h0M76.5 107.0h0M83.4 41.1h0M89.7 127.8h0M83.4 90.0h0M45.9 38.5h0M89.7 124.4h0M79.6 103.4h0M86.9 116.5h0M81.8 86.9h0M86.4 95.8h0M58.9 39.8h0M74.7 86.6h0M82.0 67.4h0M73.4 109.2h0M84.0 108.1h0M74.1 48.7h0M72.3 95.8h0M76.1 99.4h0M79.7 55.9h0M87.8 42.8h0M91.2 99.8h0M74.4 51.3h0M108.7 139.5h0M89.1 61.2h0M81.6 76.3h0M61.9 46.9h0M107.8 108.0h0M84.3 120.8h0M75.0 106.5h0M73.8 93.4h0M88.0 49.3h0M87.7 99.6h0M54.7 43.9h0M74.0 112.2h0M100.6 133.1h0M70.9 66.8h0M64.6 34.7h0M103.8 130.8h0M77.6 69.2h0M65.6 34.2h0M84.2 60.6h0M79.1 87.6h0M54.2 41.3h0M75.1 93.0h0M82.4 114.3h0M87.1 74.6h0M77.0 88.2h0M91.5 98.0h0M74.8 71.0h0M88.1 89.9h0M139.8 152.3h0M107.8 104.2h0M70.7 71.5h0M61.2 46.2h0M77.9 47.8h0M84.0 92.5h0M99.4 44.8h0M82.6 88.1h0M91.1 87.5h0M68.0 77.4h0M87.8 56.8h0M78.6 110.4h0M95.7 101.1h0M77.7 92.6h0M62.9 40.2h0M87.9 56.3h0M98.1 44.0h0M73.1 43.5h0M82.5 64.8h0M142.6 153.3h0M75.5 37.4h0M80.1 66.5h0M94.7 83.3h0M90.3 52.6h0M97.5 129.9h0M102.8 95.0h0M72.3 101.4h0M66.6 36.5h0M72.8 97.6h0M86.9 68.2h0M102.5 103.9h0M69.3 52.6h0M86.2 94.4h0M132.1 150.6h0M84.0 88.8h0M86.8 75.7h0M74.8 61.1h0M75.0 111.6h0M77.6 74.7h0M61.9 42.8h0M89.3 117.2h0M72.4 59.2h0M96.4 99.7h0M75.9 40.1h0M129.6 148.3h0M72.4 44.9h0M66.9 81.1h0M94.3 125.1h0M57.7 40.4h0M80.6 70.1h0M84.2 50.8h0M76.6 103.3h0M90.4 94.7h0M78.8 94.5h0M70.0 88.0h0M98.9 102.5h0M145.5 155.8h0M79.8 52.3h0M95.5 49.3h0M56.8 46.1h0M68.1 76.0h0M93.7 50.8h0M60.0 36.5h0M57.1 35.5h0M78.0 99.8h0M73.9 91.4h0M68.8 83.8h0M47.5 39.2h0M72.2 38.8h0M63.3 46.0h0M81.1 52.2h0M74.8 87.2h0M50.1 37.2h0M69.7 33.0h0M81.3 97.9h0M99.5 85.3h0M60.6 38.4h0M82.1 53.6h0M105.1 138.2h0M83.1 99.0h0M84.9 40.9h0M63.0 41.7h0M91.2 84.8h0M73.0 68.3h0M69.9 82.5h0M79.8 119.9h0M93.7 79.4h0M84.7 79.4h0M81.4 48.9h0M93.2 80.4h0M77.9 63.1h0M110.4 136.0h0M72.4 103.6h0M75.1 114.1h0M74.7 58.6h0M72.4 92.1h0M84.7 63.3h0M78.4 59.2h0M85.5 113.5h0M94.5 126.1h0M87.5 91.2h0M72.2 33.4h0M82.5 115.0h0M105.6 106.3h0M61.8 40.2h0M60.4 47.0h0M86.1 112.4h0M80.4 73.2h0M85.1 43.6h0M87.7 52.5h0M78.7 48.3h0M81.8 85.6h0M111.5 139.6h0M92.5 87.7h0M133.8 151.8h0M89.8 80.8h0M137.3 151.9h0M93.7 96.8h0M99.7 95.0h0M82.0 69.9h0M69.1 70.9h0M90.7 96.5h0M80.3 116.2h0M88.4 96.5h0M87.5 57.8h0M131.8 149.2h0M77.2 48.3h0M69.5 91.3h0M75.4 53.9h0M67.7 73.9h0M93.7 77.2h0M82.4 69.4h0M79.7 101.7h0M73.0 95.2h0M86.2 111.9h0M113.9 141.2h0M81.6 107.4h0M144.0 154.8h0M96.4 45.9h0M75.0 44.8h0M113.7 137.9h0M69.6 86.5h0M73.8 63.7h0M96.1 45.8h0M68.2 33.7h0M84.9 57.8h0M72.8 90.7h0M107.2 138.0h0M62.9 34.5h0M65.6 35.5h0M94.6 96.8h0M85.9 42.2h0M78.8 44.0h0M80.7 119.3h0M101.7 131.9h0M74.5 58.5h0M84.1 116.3h0M84.6 104.5h0M109.4 140.0h0M94.9 124.7h0M87.8 91.7h0M86.1 73.0h0M80.5 44.9h0M83.1 85.2h0M91.3 83.4h0M91.4 123.9h0M86.8 48.9h0M78.6 90.0h0M73.8 54.1h0M98.1 84.8h0M55.1 42.0h0M73.8 110.9h0M84.6 59.9h0M76.1 60.6h0M81.9 48.8h0M72.9 92.6h0M86.6 120.8h0M112.0 141.6h0M102.7 101.4h0M81.0 43.4h0M86.6 51.9h0M97.2 101.7h0M58.2 44.2h0M97.7 85.2h0M89.9 49.7h0M88.7 114.7h0M106.7 130.4h0M65.8 85.8h0M72.8 37.6h0M79.3 66.3h0M90.5 84.6h0M59.3 36.9h0M100.3 126.6h0M105.0 101.1h0M55.1 40.3h0M89.4 45.6h0M110.9 140.1h0M94.5 123.8h0M92.5 123.4h0M91.2 94.1h0M75.3 51.3h0M126.6 145.8h0M98.6 46.7h0M64.8 35.9h0M70.3 96.6h0M84.2 94.7h0M79.8 105.0h0M83.0 83.7h0M146.1 154.7h0M93.1 85.5h0M80.8 47.0h0M82.2 48.1h0M97.5 96.5h0M46.1 36.7h0M88.3 126.1h0M75.7 37.3h0M56.5 34.9h0M86.8 125.0h0M65.3 37.2h0M75.5 104.8h0M72.9 38.6h0M71.6 84.3h0M68.1 94.5h0M117.9 141.2h0M87.4 123.4h0M70.0 36.0h0M67.6 89.7h0M77.1 104.6h0M84.9 47.2h0M113.0 135.4h0M92.4 96.4h0M106.0 104.2h0M103.6 133.8h0M102.9 128.8h0M72.2 63.9h0M80.1 47.5h0M71.9 104.3h0M83.9 100.2h0M48.9 37.9h0M86.6 124.6h0M96.6 98.3h0M82.5 52.6h0M58.7 39.2h0M96.9 131.7h0M83.1 63.8h0M82.3 51.2h0M76.4 51.4h0M83.8 83.8h0M71.5 35.6h0M90.0 128.5h0M137.1 152.9h0M96.5 101.7h0M52.8 35.4h0M45.7 36.6h0M89.1 111.9h0M71.7 45.8h0M80.5 95.1h0M74.6 95.3h0M84.5 65.9h0M81.4 78.2h0M90.8 87.0h0M98.6 83.7h0M67.0 83.9h0M107.0 108.6h0M90.0 86.1h0M74.2 49.2h0M78.2 78.6h0M103.3 133.7h0M69.6 41.3h0M76.2 57.3h0M132.4 149.3h0M89.4 86.5h0M50.3 43.1h0M59.6 40.5h0M75.6 69.8h0M121.0 142.4h0M77.3 72.9h0M78.2 62.5h0M100.2 91.8h0M71.2 86.7h0M75.8 54.9h0M73.4 51.5h0M76.7 89.8h0M86.2 115.5h0M85.5 50.1h0M103.8 135.9h0M86.7 97.5h0M66.0 44.2h0M98.8 95.8h0M88.2 124.0h0M103.2 106.1h0M83.0 57.8h0M74.3 38.0h0M76.6 54.8h0M88.3 55.8h0M81.8 65.5h0M81.0 104.6h0M83.9 99.0h0M111.1 137.7h0M86.0 57.8h0M72.5 57.4h0M81.6 103.4h0M81.9 107.6h0M106.6 129.6h0M92.7 126.4h0M102.1 133.6h0M96.4 87.4h0M65.1 81.8h0M109.5 139.1h0M74.2 91.8h0M99.7 92.4h0M86.3 76.0h0M68.9 80.3h0M46.5 38.0h0M72.5 70.5h0M84.7 54.9h0M66.6 79.4h0M86.1 124.2h0M65.8 34.4h0M97.0 95.8h0M83.7 46.3h0M79.8 63.7h0M72.8 84.1h0M106.0 132.4h0M48.5 41.8h0M90.2 79.6h0M56.8 39.6h0M75.1 68.8h0M90.4 121.8h0M78.3 68.6h0M85.6 95.3h0M75.4 53.0h0M72.3 78.7h0M66.3 38.8h0M76.0 86.1h0M81.2 84.8h0M82.3 98.8h0M75.8 103.7h0M82.3 85.5h0M95.6 98.7h0M76.2 76.2h0M94.1 131.3h0M93.0 79.5h0M90.7 75.8h0M74.2 69.5h0M105.4 133.5h0M53.9 38.3h0M82.5 76.0h0M85.2 60.7h0M73.4 81.1h0M83.0 113.1h0M70.9 65.3h0M103.5 102.5h0M67.1 76.0h0M82.1 106.6h0M87.2 58.2h0M70.9 99.5h0M72.6 98.9h0M78.0 55.2h0M54.6 34.8h0M81.6 40.6h0M111.4 137.2h0M59.8 35.0h0M64.8 44.7h0M101.1 100.9h0M63.4 37.5h0M90.0 52.8h0M76.3 56.6h0M72.1 58.5h0M125.3 143.5h0M93.2 86.8h0M97.6 46.2h0M77.4 44.7h0M97.3 82.5h0M47.6 39.9h0M85.3 86.3h0M84.5 41.6h0M68.5 79.3h0M75.8 49.7h0M82.2 44.4h0M62.6 41.3h0M88.9 87.0h0M76.4 109.8h0M79.1 73.9h0M69.1 80.9h0M92.6 125.9h0M87.7 46.6h0M70.6 81.0h0M58.4 41.3h0M94.5 125.5h0M78.3 93.0h0M99.3 130.7h0M77.0 71.8h0M107.0 106.0h0M71.9 85.8h0M100.0 102.0h0M98.4 93.0h0M76.8 70.0h0M85.5 41.4h0M93.1 88.2h0M79.7 46.1h0M47.7 37.9h0M77.8 109.5h0M120.0 143.2h0M83.1 98.4h0M74.5 85.3h0M70.8 55.7h0M91.5 51.7h0M120.9 141.4h0M143.3 155.2h0M70.6 89.7h0M72.9 48.9h0M86.0 89.7h0M98.4 98.1h0M78.0 104.4h0M84.6 71.2h0M75.4 59.4h0M68.3 40.6h0M76.2 81.0h0M98.1 100.0h0M87.4 115.5h0M88.1 114.4h0M108.6 106.2h0M99.3 91.8h0M97.2 125.3h0M110.3 136.7h0M80.9 114.2h0M73.2 88.0h0M73.6 84.4h0M89.1 93.9h0M56.6 36.6h0M73.7 62.3h0M82.2 50.6h0M78.9 58.0h0M73.5 49.5h0M121.6 141.7h0M63.9 46.4h0M69.1 74.3h0M108.5 133.3h0M138.1 153.3h0M76.0 59.1h0M87.2 70.2h0M75.8 38.9h0M83.4 51.2h0M69.4 70.3h0M82.4 102.4h0M77.8 107.5h0M49.7 35.4h0M97.0 47.1h0M102.2 94.2h0M76.9 103.0h0M84.3 84.3h0M84.0 96.2h0M65.4 47.0h0M105.7 103.9h0M71.5 91.9h0M67.4 38.9h0M99.6 46.2h0M81.9 93.5h0M97.7 134.0h0M90.8 76.6h0M87.0 83.6h0M72.5 42.0h0M81.1 94.4h0M80.8 83.1h0M100.6 92.7h0M80.7 88.7h0M55.3 42.9h0M95.1 82.3h0M88.9 118.9h0M77.9 39.0h0M97.0 99.4h0M76.8 79.3h0M84.6 48.4h0M68.3 43.0h0M95.4 89.4h0M77.9 108.7h0M71.9 40.3h0M87.5 55.3h0M103.1 130.0h0M61.9 36.2h0M100.9 89.9h0M114.5 140.3h0M92.9 125.0h0M103.9 136.8h0M72.3 66.9h0M72.0 85.7h0M102.0 104.1h0M92.3 127.8h0M78.7 65.4h0M85.2 95.4h0M73.6 71.9h0M72.8 67.6h0M71.9 33.4h0M83.2 104.8h0M71.1 87.1h0M70.7 80.3h0M83.9 83.1h0M74.6 44.9h0M78.5 42.9h0M83.2 69.9h0M74.3 103.6h0M83.9 119.7h0M86.4 108.6h0M71.6 64.0h0M79.8 110.7h0M79.2 116.9h0M90.3 91.0h0M69.1 88.2h0M93.4 100.2h0M77.7 45.8h0M85.6 99.7h0M70.9 78.7h0M72.9 82.9h0M74.0 33.4h0M72.0 93.3h0M88.9 61.0h0M94.5 44.3h0M76.2 50.5h0M71.5 50.0h0M68.5 46.8h0M89.8 114.3h0M73.3 69.2h0M68.0 75.2h0M50.9 38.4h0M75.8 102.6h0M71.7 89.5h0M92.0 76.5h0M74.6 58.0h0M53.8 43.1h0M77.3 57.8h0M76.9 76.8h0M68.4 40.4h0M76.4 66.4h0M81.8 50.1h0M85.9 91.8h0M103.2 137.2h0M79.3 45.3h0M85.3 110.1h0M76.5 50.3h0M63.1 42.0h0M52.6 45.3h0M77.8 75.8h0M69.3 72.6h0M94.4 46.6h0M75.5 99.0h0M73.9 55.0h0M71.3 73.9h0M95.5 98.6h0M75.9 52.2h0M81.8 49.6h0M76.5 80.5h0M66.1 37.0h0M80.7 71.1h0M83.2 122.0h0M93.6 90.2h0M136.4 153.8h0M141.8 152.5h0M84.9 107.6h0M77.7 67.3h0M89.0 125.0h0M63.8 46.5h0M76.7 52.7h0M115.3 137.8h0M88.2 62.9h0M55.0 38.0h0M92.0 45.4h0M72.0 92.7h0M56.2 45.0h0M85.6 77.2h0M65.5 41.0h0M74.2 113.5h0M92.6 117.6h0M90.0 62.3h0M76.7 71.6h0M77.5 70.3h0M82.6 113.5h0M105.5 135.6h0M82.8 56.9h0M95.9 80.4h0M100.7 102.7h0M91.2 79.5h0M88.9 97.0h0M104.6 136.7h0M57.9 45.5h0M94.3 126.9h0M75.5 47.3h0M81.6 102.6h0M76.3 40.5h0M63.9 45.2h0M93.3 132.0h0M91.0 95.8h0M71.6 102.2h0M89.7 98.8h0M72.2 64.5h0M76.7 100.8h0M83.2 120.1h0M78.5 41.3h0M98.8 98.8h0M90.3 80.2h0M68.4 34.1h0M89.4 117.6h0M60.3 41.8h0M73.5 67.8h0M101.8 128.1h0M84.4 78.2h0M72.8 81.0h0M71.2 107.7h0M103.4 105.7h0M89.3 55.9h0M48.8 35.4h0M97.1 85.9h0M64.7 37.7h0M89.6 43.4h0M91.4 49.2h0M48.7 41.1h0M82.9 66.7h0M69.0 75.8h0M89.5 80.6h0M78.7 79.5h0M100.3 98.4h0M70.6 85.0h0M85.1 77.3h0M66.6 34.3h0M77.5 50.6h0M52.9 40.2h0M87.9 116.1h0M81.0 108.1h0M84.2 111.2h0M73.1 36.5h0M76.0 33.1h0M100.6 103.7h0M68.0 36.1h0M79.4 37.0h0M99.7 99.8h0M66.5 33.8h0M57.8 39.1h0M69.1 52.0h0M99.9 95.5h0M143.9 155.7h0M129.4 148.3h0M73.6 84.0h0M74.6 59.3h0M77.0 58.2h0M88.2 48.1h0M95.2 130.9h0M98.1 132.3h0M71.8 54.6h0M74.5 80.2h0M96.3 126.5h0M57.0 40.4h0M82.1 49.4h0M64.7 37.0h0M77.8 116.0h0M88.8 100.3h0M89.5 113.6h0M77.1 59.5h0M68.9 82.7h0M70.3 35.5h0M87.6 87.3h0M77.4 73.4h0M86.2 75.0h0M67.2 89.8h0M78.9 54.1h0M84.2 56.8h0M56.6 44.2h0M86.1 68.6h0M76.6 93.5h0M85.2 80.1h0M74.0 88.8h0M52.6 38.2h0M72.0 49.0h0M90.8 126.2h0M71.8 80.6h0M83.5 42.3h0M89.5 89.3h0M98.4 91.1h0M77.4 64.0h0M74.0 39.0h0M52.7 41.7h0M71.7 62.9h0M92.7 99.3h0M54.6 38.3h0M94.2 84.8h0M77.4 101.5h0M144.4 154.3h0M44.5 37.0h0M76.5 65.3h0M69.7 95.1h0M115.7 143.1h0M81.0 47.0h0M84.6 68.6h0M96.9 79.2h0M55.6 41.7h0M70.9 89.0h0M75.4 38.0h0M86.0 79.6h0M93.4 93.2h0M50.7 41.7h0M63.0 45.1h0M65.3 46.0h0M52.0 44.4h0M47.0 40.3h0M82.1 117.5h0M69.7 89.3h0M71.8 52.2h0M86.5 42.6h0M83.5 49.3h0M129.8 150.7h0M87.3 89.5h0M94.5 122.6h0M77.9 99.4h0M110.8 133.6h0M71.1 81.7h0M83.2 106.1h0M70.3 74.3h0M98.4 94.2h0M92.7 50.4h0M72.2 97.8h0M74.1 95.0h0M77.6 76.7h0M85.7 109.8h0M76.3 108.2h0M74.0 34.2h0M90.5 61.7h0M145.3 154.3h0M84.4 91.3h0M74.0 40.1h0M75.6 96.1h0M74.9 102.3h0M73.0 54.2h0M83.4 100.9h0M101.9 132.8h0M107.1 135.3h0M76.8 67.2h0M94.4 45.3h0M79.5 102.9h0M86.0 92.4h0M57.0 38.8h0M109.5 135.8h0M48.2 36.4h0M71.6 34.3h0M128.8 150.1h0M87.8 119.7h0M78.3 90.7h0M71.2 62.6h0M79.9 95.0h0M94.7 98.6h0M87.8 41.9h0M78.0 59.2h0M104.2 105.0h0M104.7 107.6h0M76.4 87.9h0M96.5 91.9h0M92.4 98.3h0M81.6 83.1h0M74.1 86.1h0M81.3 41.1h0M95.8 131.3h0M81.7 51.3h0M76.7 40.5h0M90.4 127.4h0M73.4 60.9h0M85.5 96.4h0M74.6 64.9h0M88.1 73.2h0M84.0 68.5h0M77.8 42.9h0M110.1 139.3h0M52.2 44.4h0M81.8 67.2h0M90.5 83.8h0M59.2 35.2h0M59.0 34.6h0M77.7 89.3h0M84.2 58.4h0M88.8 83.8h0M74.6 44.6h0M84.8 41.4h0M60.8 42.3h0M77.4 39.9h0M71.8 58.0h0M95.3 100.2h0M87.1 63.7h0M83.1 44.9h0M101.5 127.2h0M110.8 136.0h0M70.6 72.7h0M71.4 67.0h0M112.5 140.8h0M86.3 86.1h0M73.7 91.7h0M67.2 43.8h0M66.9 35.6h0M90.9 80.3h0M80.3 111.3h0M83.0 93.7h0M76.9 52.9h0M84.9 55.6h0M64.9 81.3h0M76.8 61.3h0M75.5 80.2h0M75.5 107.1h0M99.9 133.8h0M59.2 42.2h0M87.2 90.5h0M99.8 128.0h0M76.9 105.5h0M78.8 39.1h0M76.1 84.7h0M93.8 98.5h0M71.6 100.7h0M75.0 81.9h0M69.3 94.6h0M86.2 116.6h0M102.9 127.4h0M68.3 73.1h0M100.8 95.4h0M80.4 111.2h0M89.1 115.5h0M76.2 95.2h0M115.5 136.9h0M97.9 97.7h0M64.1 43.1h0M54.4 40.8h0M70.4 51.0h0M77.0 69.6h0M53.6 45.9h0M82.8 65.6h0M73.4 52.0h0M57.3 34.4h0M86.1 47.0h0M75.5 65.2h0M67.7 79.7h0M66.9 76.6h0M53.3 42.1h0M71.6 98.5h0M82.5 90.1h0M89.6 118.9h0M79.9 63.3h0M91.1 122.6h0M85.3 124.1h0M86.9 85.6h0M83.7 88.2h0M78.5 52.1h0M71.8 61.3h0M98.7 85.7h0M85.9 62.6h0M80.8 104.5h0M82.8 86.3h0M73.9 88.2h0M116.1 137.7h0M75.3 103.8h0M79.8 52.9h0M66.8 77.6h0M90.4 43.2h0M113.6 136.8h0M70.6 86.5h0M94.9 91.7h0M84.2 48.9h0M70.0 39.3h0M95.3 84.7h0M51.7 41.2h0M104.4 132.0h0M69.0 42.7h0M95.5 92.3h0M96.6 80.9h0M67.6 91.8h0M111.8 139.0h0M82.1 83.6h0M53.9 34.8h0M97.5 92.6h0M85.4 123.6h0M77.4 58.8h0M61.4 40.1h0M86.2 88.1h0M81.9 40.9h0M84.1 91.5h0M85.7 107.9h0M68.8 53.0h0M61.8 44.9h0M75.4 57.1h0M72.8 89.2h0M71.1 81.4h0M72.9 43.8h0M60.1 36.8h0M92.7 118.4h0M69.4 72.1h0M66.3 39.4h0M81.1 54.2h0M79.5 60.4h0M77.6 114.0h0M133.3 151.5h0M102.9 99.1h0M67.8 87.9h0M86.3 108.9h0M69.3 79.3h0M71.0 50.4h0M96.1 90.3h0M90.7 122.5h0M74.8 33.7h0M81.6 81.7h0M67.4 48.8h0M85.1 99.8h0M66.1 46.8h0M71.5 93.3h0M57.9 43.4h0M78.8 66.8h0M92.1 89.2h0M97.3 102.6h0M75.0 47.7h0M62.6 42.0h0M79.3 95.3h0M80.3 60.4h0M71.9 53.1h0M88.9 93.6h0M89.4 96.9h0M55.6 38.6h0M90.5 118.4h0M86.6 99.1h0M76.7 74.4h0M75.3 67.1h0M85.5 53.1h0M53.3 39.0h0M101.5 91.7h0M87.4 112.9h0M81.6 68.4h0M77.7 93.3h0M117.4 139.8h0M79.2 73.0h0M71.6 98.8h0M74.4 65.7h0M81.2 114.0h0M79.1 37.0h0M69.8 53.0h0M96.4 86.9h0M56.4 36.5h0M50.3 42.7h0M89.0 116.4h0M115.0 141.2h0M83.1 122.8h0M92.1 97.4h0M89.3 53.2h0M79.8 40.8h0M83.3 38.7h0M95.4 122.2h0M77.9 71.0h0M81.1 59.0h0M54.0 42.7h0M100.9 92.7h0M97.2 100.4h0M134.9 152.9h0M99.5 90.5h0M74.5 90.5h0M93.5 100.7h0M89.8 62.3h0M80.6 115.0h0M75.7 73.9h0M87.5 59.8h0M84.9 49.8h0M46.3 36.0h0M72.5 96.3h0M79.7 57.7h0M80.2 67.3h0M67.5 90.9h0M55.1 44.1h0M100.2 127.8h0M79.1 56.8h0M69.9 90.3h0M73.0 78.9h0M101.7 106.1h0M94.3 123.5h0M96.4 93.2h0M116.3 139.9h0M106.8 135.5h0M96.6 100.6h0M75.7 61.9h0M86.3 89.3h0M89.4 91.3h0M60.1 42.0h0M52.6 42.4h0M82.6 59.7h0M86.3 91.0h0M69.9 45.9h0M75.0 78.4h0M108.9 106.4h0M70.2 87.8h0M117.6 142.1h0M45.7 38.5h0M56.6 46.4h0M85.2 96.6h0M70.3 91.9h0M90.8 120.9h0M48.9 35.8h0M75.9 38.2h0M58.7 45.2h0M71.7 36.3h0M80.4 60.9h0M100.9 93.6h0M63.3 39.3h0M61.9 34.0h0M105.5 136.5h0M68.8 73.0h0M107.6 108.9h0M94.1 45.6h0M77.1 108.1h0M97.4 132.0h0M76.1 77.6h0M75.2 76.9h0M79.4 111.6h0M68.2 49.9h0M86.0 61.1h0M50.0 41.6h0M102.9 134.7h0M63.1 43.0h0M71.3 79.7h0M73.8 73.9h0M90.9 85.4h0M104.5 102.6h0M76.3 104.9h0M109.8 139.0h0M73.8 81.8h0M77.1 101.5h0M56.9 43.3h0M74.4 57.1h0M87.3 99.2h0M81.1 60.8h0M103.1 131.1h0M98.1 131.8h0M75.3 39.1h0M54.8 34.6h0M64.7 40.9h0M76.0 106.9h0M74.8 92.1h0M80.6 40.1h0M71.5 66.1h0M74.9 85.8h0M89.5 92.0h0M82.6 89.5h0M88.9 92.0h0M85.5 43.4h0M56.5 34.7h0M94.7 132.3h0M80.2 40.6h0M83.9 49.9h0M91.1 96.7h0M84.2 121.9h0M78.5 95.6h0M50.6 42.4h0M87.5 97.9h0M50.1 38.6h0M70.6 88.6h0M77.6 113.7h0M66.8 45.5h0M71.9 38.7h0M95.9 87.3h0M85.2 113.9h0M79.4 48.9h0M76.1 93.6h0M91.4 88.0h0M88.2 89.7h0M70.9 37.3h0M72.3 61.8h0M89.4 113.0h0M101.0 44.6h0M88.0 121.3h0M86.3 117.1h0M71.2 51.1h0M82.7 54.5h0M71.3 105.0h0M80.9 108.1h0M75.3 90.9h0M84.7 63.7h0M63.7 39.2h0M80.0 104.3h0M87.0 86.2h0M73.0 44.7h0M49.6 39.3h0M57.2 37.6h0M74.6 100.5h0M78.3 115.6h0M80.8 52.5h0M78.0 42.6h0M83.9 54.8h0M79.4 115.7h0M78.6 63.2h0M75.4 56.0h0M97.4 130.5h0M74.4 102.8h0M96.1 99.8h0M51.0 36.1h0M88.3 58.9h0M69.2 35.2h0M70.3 74.8h0M90.1 129.3h0M66.3 38.2h0M73.3 65.2h0M85.5 48.5h0M128.6 149.5h0M139.3 154.2h0M73.0 76.7h0M62.8 46.0h0M74.5 35.5h0M79.1 58.4h0M65.3 41.6h0M101.9 102.3h0M63.3 36.8h0M114.3 139.0h0M70.9 36.2h0M48.1 40.6h0M91.2 100.6h0M82.7 104.8h0M94.4 96.9h0M91.1 83.3h0M88.6 73.8h0M84.2 122.8h0M76.2 87.0h0M93.9 91.2h0M94.1 120.6h0M46.9 36.9h0M142.8 155.4h0M95.0 131.2h0M83.9 79.7h0M127.6 146.2h0M77.2 68.3h0M74.9 67.7h0M77.6 79.5h0M91.9 94.8h0M77.0 113.7h0M111.9 135.8h0M90.3 89.8h0M105.8 131.7h0M93.8 126.0h0M94.7 89.3h0M69.8 73.5h0M113.3 136.5h0M71.6 84.1h0M80.1 102.9h0M78.8 44.8h0M99.6 95.3h0M61.0 36.7h0M82.7 91.3h0M75.7 110.6h0M73.1 99.2h0M80.4 37.0h0M80.0 38.6h0M93.1 97.6h0M77.0 77.5h0M86.7 91.0h0M98.2 94.0h0M83.0 76.6h0M74.4 84.0h0M92.6 49.5h0M54.5 45.7h0M81.9 56.5h0M99.2 129.7h0M96.0 84.3h0M76.1 59.0h0M80.2 71.8h0M86.4 87.7h0M67.2 37.4h0M99.4 128.6h0M80.9 69.5h0M78.4 108.6h0M98.7 45.8h0M105.4 135.3h0M74.4 78.6h0M84.5 108.8h0M78.6 110.2h0M92.7 117.5h0M86.2 97.2h0M53.6 41.2h0M88.2 44.7h0M55.2 37.3h0M77.8 103.4h0M67.3 90.6h0M78.3 108.2h0M104.7 99.8h0M86.8 88.0h0M75.4 60.6h0M80.6 77.2h0M69.4 45.3h0M90.7 127.6h0M82.1 122.1h0M99.0 83.0h0M83.9 47.7h0M79.7 73.5h0M99.5 99.3h0M113.5 138.7h0M91.5 51.9h0M71.7 48.7h0M92.6 85.5h0M121.6 143.6h0M71.5 50.9h0M61.4 34.9h0M86.1 60.5h0M82.8 83.0h0M70.0 55.5h0M57.9 42.0h0M64.3 47.1h0M97.6 85.1h0M69.3 83.5h0M111.2 134.8h0M88.8 59.1h0M76.4 80.3h0M131.2 150.4h0M86.0 72.5h0M74.1 75.2h0M79.2 110.2h0M82.0 107.9h0M103.1 102.7h0M81.7 70.5h0M88.7 127.1h0M76.4 43.8h0M57.6 39.8h0M82.1 87.2h0M93.9 82.2h0M86.1 51.6h0M50.7 43.0h0M88.3 95.7h0M76.9 86.9h0M74.8 69.6h0M80.2 101.1h0M72.6 94.7h0M72.1 39.6h0M84.8 66.4h0M74.6 110.2h0M72.9 59.9h0M82.7 66.2h0M82.8 52.2h0M103.3 95.9h0M82.9 88.0h0M78.6 119.2h0M75.9 79.7h0M91.2 95.0h0M78.3 116.3h0M100.3 94.6h0M65.6 42.0h0M80.4 94.4h0M115.8 139.7h0M105.0 105.7h0M92.1 100.4h0M73.2 37.6h0M78.3 104.4h0M54.0 42.9h0M74.6 63.4h0M73.3 78.4h0M78.8 49.7h0M90.5 95.5h0M91.7 77.8h0M83.6 48.9h0M75.3 39.9h0M78.4 73.3h0M64.1 42.7h0M76.7 81.4h0M92.9 77.2h0M100.9 129.2h0M84.7 44.2h0M59.5 39.3h0M69.6 74.6h0M79.3 97.5h0M74.1 53.4h0M70.0 40.6h0M85.0 98.0h0M100.1 88.6h0M85.5 74.0h0M71.6 97.3h0M69.2 43.8h0M79.8 74.8h0M55.7 39.8h0M71.9 75.5h0M67.9 48.7h0M87.7 86.5h0M65.8 84.2h0M81.1 119.8h0M76.9 109.5h0M75.0 93.4h0M81.6 118.9h0M71.2 44.8h0M88.9 117.3h0M77.9 60.2h0M88.8 97.8h0M64.7 33.7h0M95.3 99.5h0M96.2 96.0h0M82.0 66.8h0M72.0 36.4h0M120.8 144.3h0M107.3 138.4h0M76.4 95.0h0M109.7 140.5h0M74.9 85.1h0M111.9 140.6h0M83.6 59.1h0M53.6 36.1h0M79.9 54.8h0M107.6 131.7h0M93.2 49.6h0M76.2 54.4h0M86.8 91.9h0M72.8 80.2h0M94.9 45.6h0M57.2 43.8h0M144.8 155.8h0M57.1 36.0h0M82.7 84.6h0M84.2 59.9h0M79.6 49.6h0M69.9 85.1h0M71.6 96.6h0M85.8 123.2h0M75.9 45.1h0M78.2 44.1h0M103.9 133.3h0M83.6 120.5h0M71.0 72.5h0M73.5 64.1h0M73.4 90.6h0M66.4 36.0h0M73.7 60.3h0M89.3 99.8h0M84.9 90.7h0M80.9 84.9h0M81.6 108.8h0M74.5 52.5h0M88.2 123.6h0M75.6 41.2h0M113.8 142.4h0M90.6 51.5h0M84.1 100.9h0M89.6 90.5h0M68.5 49.1h0M80.8 79.4h0M78.3 40.9h0M82.3 77.6h0M83.4 115.0h0M117.6 139.0h0M72.8 68.2h0M65.4 44.0h0M53.0 40.1h0M78.9 70.4h0M74.5 96.8h0M53.9 36.7h0M137.7 151.6h0M95.1 94.1h0M95.1 95.5h0M86.0 58.2h0M64.6 36.4h0M72.7 36.8h0" stroke="#18bda7" stroke-width="1.50"/><path d="M120.4 142.0h0M78.9 88.7h0M73.7 110.6h0M70.1 76.6h0M72.7 109.2h0M88.2 91.1h0M70.1 92.9h0M98.6 96.7h0M71.3 106.5h0M72.9 47.8h0M75.2 36.5h0M80.6 62.6h0M92.9 82.6h0M86.5 119.3h0M90.6 46.8h0M78.7 61.3h0M72.4 50.5h0M68.9 36.7h0M78.0 84.9h0M87.9 88.2h0M73.7 40.5h0M47.6 37.6h0M77.4 117.5h0M126.5 144.1h0M83.3 40.4h0M122.0 144.8h0M84.3 98.4h0M69.5 38.8h0M94.8 129.5h0M85.5 87.3h0M124.6 144.3h0M87.7 109.8h0M79.3 64.6h0M67.5 92.9h0M79.5 68.0h0M81.8 117.9h0M75.1 113.5h0M90.4 55.1h0M55.3 36.3h0M74.7 41.5h0M67.3 39.3h0M78.5 39.8h0M85.6 44.6h0M68.1 93.5h0M102.5 97.7h0M70.6 42.3h0M84.9 120.4h0M84.1 104.0h0M91.8 99.0h0M92.2 92.6h0M89.0 86.3h0M77.6 117.9h0M90.7 117.5h0M73.6 98.2h0M79.7 78.8h0M58.7 38.3h0M74.9 110.5h0M75.9 55.7h0M76.3 115.8h0M100.9 44.8h0M87.7 83.4h0M71.7 43.1h0M106.8 101.2h0M88.1 118.6h0M78.4 97.8h0M91.4 75.2h0M56.1 40.8h0M106.1 107.4h0M82.8 39.4h0M83.1 68.3h0M120.6 143.3h0M69.8 78.5h0M71.3 90.9h0M84.2 114.9h0M68.3 50.4h0M67.3 82.4h0M88.7 82.7h0M80.8 81.1h0M88.7 77.7h0M79.2 77.4h0M81.5 53.0h0M63.7 40.4h0M79.7 88.0h0M77.6 91.6h0M75.4 48.5h0M81.9 100.2h0M81.9 120.7h0M93.0 96.7h0M75.4 43.1h0M79.7 90.9h0M92.3 46.4h0M79.4 70.4h0M97.1 91.2h0M51.1 36.8h0M95.2 133.0h0M123.8 142.7h0M67.9 86.0h0M99.1 133.3h0M85.2 65.0h0M81.2 105.9h0M101.7 98.5h0M85.3 61.4h0M93.9 80.2h0M65.1 39.2h0M141.3 153.2h0M93.1 131.3h0M89.3 53.8h0M83.8 75.9h0M82.3 46.0h0M88.5 43.4h0M73.7 111.4h0M70.2 38.1h0M82.0 116.1h0M66.5 87.1h0M95.1 97.1h0M68.1 78.7h0M87.7 97.0h0M86.8 111.8h0M90.4 99.0h0M84.3 52.7h0M94.5 121.5h0M106.5 138.3h0M104.0 103.6h0M80.7 109.4h0M107.0 101.5h0M89.8 50.6h0M69.7 92.2h0M83.1 91.9h0M88.0 121.1h0M82.6 79.8h0M62.8 37.3h0M58.2 35.7h0M67.1 40.4h0M91.7 118.6h0M98.4 86.7h0M86.3 59.6h0M75.9 115.2h0M134.6 150.8h0M58.9 41.6h0M106.0 99.0h0M88.0 76.7h0M74.5 97.6h0M85.2 91.7h0M70.7 53.0h0M75.1 89.7h0M91.7 115.2h0M82.2 39.5h0M90.5 44.5h0M70.9 76.0h0M86.3 46.1h0M70.5 76.3h0M70.9 60.9h0M66.5 41.1h0M78.4 96.9h0M93.2 48.7h0M86.8 112.9h0M99.4 42.9h0M87.4 78.3h0M85.5 118.2h0M93.3 98.4h0M91.6 81.3h0M67.9 45.7h0M99.5 89.1h0M87.2 110.4h0M75.4 89.5h0M95.7 125.9h0M136.2 152.4h0M106.0 100.1h0M92.1 119.8h0M90.1 119.9h0M90.8 92.8h0M85.5 67.0h0M80.3 76.6h0M77.1 94.6h0M85.0 116.0h0M73.8 70.7h0M87.0 46.7h0M81.1 110.6h0M83.6 61.5h0M81.6 87.9h0M75.5 72.8h0M88.1 118.4h0M87.9 79.0h0M106.8 107.5h0M69.6 43.3h0M92.7 51.6h0M91.3 53.9h0M83.5 102.1h0M78.5 76.1h0M91.0 53.1h0M65.4 79.7h0M65.8 82.0h0M89.9 122.9h0M96.3 77.9h0M84.5 117.9h0M84.7 118.2h0M72.3 72.8h0M83.4 81.7h0M73.0 53.4h0M100.2 135.1h0M82.5 41.6h0M86.8 54.8h0M101.1 99.5h0M75.5 62.0h0M84.4 118.9h0M66.3 43.1h0M91.6 128.8h0M92.6 95.1h0M96.8 129.1h0M79.7 120.5h0M63.9 41.1h0M79.3 83.2h0M63.9 34.8h0M81.8 55.2h0M91.9 46.8h0M119.7 144.3h0M49.3 41.0h0M119.4 143.0h0M76.8 42.8h0M83.2 71.8h0M89.0 122.0h0M49.6 40.5h0M59.9 44.5h0M75.6 70.6h0M60.6 45.5h0M130.7 148.8h0M112.9 136.1h0M93.9 49.4h0M95.2 78.7h0M83.6 61.9h0M91.4 86.4h0M70.4 56.6h0M79.8 92.3h0M83.7 74.7h0M92.7 84.0h0M95.4 80.9h0M73.1 108.1h0M66.6 49.2h0M58.9 43.2h0M70.7 43.5h0M86.3 120.1h0M103.6 104.8h0M78.8 64.2h0M79.7 98.9h0M86.2 99.4h0M86.5 56.1h0M71.3 67.7h0M80.4 81.7h0M77.4 49.2h0M94.8 77.4h0M142.5 154.5h0M104.3 96.7h0M73.2 71.3h0M86.4 69.3h0M66.6 42.2h0M98.0 132.9h0M87.2 77.1h0M81.5 79.5h0M77.8 83.7h0M82.0 95.6h0M85.1 67.4h0M81.3 109.8h0M78.7 101.9h0M81.3 96.2h0M92.2 93.5h0M76.8 83.3h0M80.0 42.6h0M93.0 89.7h0M89.9 74.5h0M89.9 47.7h0M92.4 124.0h0M67.7 51.1h0M129.0 147.3h0M73.6 41.5h0M77.8 112.4h0M81.2 73.7h0M75.5 43.9h0M96.5 82.7h0M52.0 37.3h0M90.3 114.7h0M82.6 81.8h0M92.2 78.1h0M70.9 53.9h0M97.4 43.7h0M67.8 38.1h0M83.8 66.3h0M109.3 137.2h0M105.3 130.2h0M63.0 44.2h0M98.6 100.9h0M71.0 55.0h0M56.4 42.1h0M78.2 57.4h0M87.4 54.4h0M125.3 146.7h0M86.8 49.4h0M82.6 105.3h0M67.7 82.2h0M83.1 88.9h0M90.6 44.9h0M75.5 97.4h0M139.6 154.5h0M113.8 140.2h0M89.9 96.4h0M85.8 84.5h0M88.6 78.4h0M80.1 85.9h0M90.9 44.0h0M70.7 58.5h0M91.4 118.4h0M104.9 97.8h0M73.6 73.5h0M83.6 109.3h0M82.8 105.5h0M93.7 49.0h0M71.6 95.4h0M79.0 117.5h0M118.7 142.8h0M65.8 48.2h0M71.1 42.0h0M83.3 60.6h0M78.2 111.1h0M93.4 48.2h0M85.4 114.7h0M95.5 47.4h0M67.5 83.9h0M91.9 53.3h0M87.0 61.4h0M82.7 59.0h0M85.2 69.9h0M141.1 153.7h0M91.6 116.3h0M75.2 98.2h0M88.2 122.1h0M82.6 119.5h0M119.2 142.7h0M69.4 50.4h0M85.2 111.4h0M70.2 57.4h0M80.6 92.3h0M68.7 46.3h0M62.6 43.7h0M73.1 66.2h0M90.8 81.8h0M104.1 99.1h0M59.8 44.7h0M98.2 101.8h0M77.2 51.4h0M78.7 84.3h0M101.2 134.7h0M82.7 45.4h0M67.2 41.8h0M87.4 117.4h0M69.2 38.9h0M59.6 41.7h0M70.2 48.7h0M70.5 34.0h0M104.5 135.6h0M82.6 61.7h0M83.2 67.8h0M60.3 40.8h0M86.4 83.0h0M84.3 61.5h0M84.5 87.0h0M75.3 74.1h0M81.6 40.1h0M68.8 50.7h0M101.9 135.5h0M81.3 66.5h0M73.9 46.1h0M77.7 80.2h0M77.5 95.1h0M108.2 138.6h0M107.4 137.0h0M70.3 49.7h0M76.8 41.1h0M87.5 95.6h0M71.9 109.4h0M57.6 36.8h0M134.4 150.9h0M81.1 92.9h0M86.2 71.3h0M72.8 46.3h0M84.3 111.7h0M81.7 99.2h0M84.8 92.7h0M93.1 82.2h0M77.6 51.7h0M77.6 86.1h0M86.6 53.0h0M81.9 86.3h0M78.2 81.2h0M72.7 107.1h0M80.9 57.0h0M72.8 43.1h0M86.9 51.5h0M91.3 88.8h0M102.3 105.0h0M94.3 85.7h0M74.6 111.7h0M79.5 50.9h0M88.7 85.9h0M113.2 139.7h0M83.3 78.4h0M78.8 51.3h0M121.3 145.0h0M85.4 115.4h0M76.6 83.5h0M81.3 117.0h0M94.2 92.2h0M87.9 85.0h0M63.0 35.7h0M108.5 136.4h0M86.4 65.3h0M95.9 83.7h0M102.9 132.7h0M89.5 52.2h0M52.0 38.9h0M68.1 76.4h0M79.0 80.4h0M76.6 96.8h0M92.6 79.4h0M57.9 35.2h0M70.6 52.1h0M70.1 34.8h0M119.1 141.6h0M59.6 38.2h0M73.4 74.4h0M96.1 83.2h0M89.2 82.6h0M76.2 92.2h0M81.6 120.3h0M83.9 52.9h0M67.6 83.3h0M61.8 37.2h0M93.3 46.6h0M74.9 82.5h0M66.6 82.5h0M77.0 57.1h0M76.6 99.4h0M74.9 55.3h0M76.1 114.3h0M129.6 149.8h0M66.7 86.5h0M97.1 45.1h0M82.5 71.3h0M90.2 50.8h0M100.2 43.2h0M127.3 148.8h0M91.1 128.1h0M105.2 130.9h0M86.1 119.0h0M93.2 95.9h0M76.9 49.4h0M62.1 47.5h0M77.5 35.6h0M80.6 103.9h0M86.6 46.4h0M99.2 101.1h0M118.0 140.0h0M90.4 115.1h0M73.7 93.6h0M88.2 79.8h0M107.1 132.7h0M85.9 49.3h0M81.1 116.1h0M84.9 85.1h0M73.4 96.8h0M104.2 97.2h0M72.4 51.7h0M91.6 93.0h0M65.9 45.5h0M83.7 110.0h0M88.9 49.6h0M69.3 46.5h0M92.8 91.8h0M85.9 121.7h0M86.9 81.5h0M91.9 82.9h0M141.5 154.5h0M71.4 64.9h0M84.3 113.2h0M89.1 79.7h0M85.5 120.8h0M89.8 77.3h0M133.1 150.6h0M93.1 44.1h0M65.9 42.6h0M85.2 97.3h0M69.4 48.9h0M70.5 40.7h0M76.1 98.2h0M79.2 99.6h0M71.7 41.8h0M69.7 93.7h0M92.9 45.4h0M96.8 84.9h0M68.1 34.9h0M73.4 101.0h0M68.6 93.4h0M90.4 54.1h0M82.5 43.0h0M92.3 48.4h0M87.4 111.6h0M96.0 125.4h0M105.0 134.2h0M68.0 80.7h0M82.6 38.9h0M66.8 80.6h0M68.2 38.5h0M108.1 136.8h0M91.6 125.5h0M102.7 97.7h0M98.0 88.4h0M85.0 78.0h0M87.4 47.5h0M76.4 68.2h0M85.7 69.6h0M132.8 151.1h0M95.7 91.4h0M85.9 65.1h0M75.3 63.4h0M88.3 84.6h0M100.6 97.6h0M82.8 97.2h0M78.9 42.0h0M78.0 87.5h0M81.1 97.2h0M87.3 43.8h0M76.6 91.0h0M92.6 125.2h0M51.0 37.5h0M80.6 54.3h0M82.4 63.2h0M83.3 108.3h0M83.2 53.8h0M90.5 78.7h0M82.8 58.8h0M78.8 53.4h0M66.6 78.2h0M103.6 97.9h0M66.0 49.0h0M140.6 153.1h0M89.8 119.6h0M76.6 85.4h0M102.6 104.8h0M87.2 81.7h0M80.6 118.1h0M88.5 81.2h0M71.0 81.9h0M92.8 90.7h0M95.3 87.6h0M84.1 71.5h0M136.1 150.9h0M86.7 44.0h0M82.9 96.5h0M68.2 44.9h0M81.1 99.7h0M92.0 127.3h0M98.5 89.7h0M92.4 80.7h0M103.6 99.7h0M60.4 45.6h0M85.1 59.0h0M83.6 118.1h0M80.7 41.6h0M93.4 45.6h0M76.4 85.2h0M142.9 154.0h0M91.2 90.5h0M89.7 81.6h0M75.4 32.8h0M88.0 72.2h0M92.9 121.3h0M85.5 98.5h0M60.0 38.6h0M84.1 54.0h0M79.3 43.4h0M88.6 57.6h0M78.2 88.6h0M52.7 45.7h0M79.6 69.8h0M97.7 94.4h0M83.0 79.6h0M65.7 45.7h0M96.0 132.8h0M122.9 141.8h0M71.4 90.5h0M84.2 39.9h0M86.6 92.9h0M81.1 101.0h0M84.7 44.9h0M88.1 75.0h0M85.0 121.4h0M74.0 102.0h0M88.3 72.7h0M69.4 77.8h0M87.2 54.4h0M72.6 65.7h0M52.4 36.8h0M94.3 94.4h0M78.7 72.5h0M85.4 109.3h0M98.1 129.3h0M78.5 112.3h0M87.9 45.8h0M73.4 97.5h0M92.5 47.7h0M58.4 37.8h0M99.5 44.0h0M74.3 81.0h0M67.9 42.7h0M84.4 117.0h0M90.7 116.3h0M69.1 54.2h0M84.5 51.2h0M72.5 48.0h0M86.2 81.3h0M85.7 55.6h0M75.3 46.3h0M101.2 98.0h0M73.4 94.7h0M70.0 87.4h0M81.6 72.9h0M70.0 44.0h0M86.5 85.1h0M70.6 94.3h0M139.1 152.6h0M96.9 84.0h0M87.8 85.2h0M74.6 99.3h0M85.1 57.0h0M122.7 145.8h0M85.0 51.2h0M135.6 152.9h0M98.8 130.4h0M87.1 72.5h0M90.3 99.7h0M77.6 98.4h0M117.9 140.4h0M83.2 74.4h0M128.6 147.0h0M74.5 82.7h0M96.4 132.8h0M86.0 52.0h0M86.6 47.8h0M79.1 96.5h0M91.4 120.0h0M104.8 133.5h0M104.5 96.4h0M110.5 140.5h0M75.0 109.8h0M84.5 90.1h0M85.4 61.9h0M74.2 100.1h0M84.0 42.0h0M71.4 60.6h0M82.9 71.0h0M93.0 95.0h0M91.3 99.5h0M83.9 40.2h0M84.7 106.5h0M88.0 94.4h0M97.6 95.2h0M98.0 89.0h0M92.6 51.7h0M76.1 67.7h0M89.8 43.8h0M81.0 112.7h0M76.0 42.9h0M82.1 63.8h0M89.9 76.3h0M67.9 37.3h0M74.2 68.8h0M81.9 92.7h0M99.2 103.2h0M89.3 57.3h0M82.0 117.9h0M82.0 78.7h0M79.3 68.2h0M124.6 145.2h0M105.4 129.3h0M107.0 102.3h0M70.7 45.1h0M86.7 80.1h0M77.1 98.2h0M92.9 120.7h0M69.2 77.2h0M76.5 48.0h0M110.6 133.2h0M47.5 35.9h0M98.7 128.9h0M67.5 84.9h0M64.4 43.8h0M82.3 55.8h0M95.5 77.9h0M80.5 78.2h0M69.3 96.0h0M70.2 47.4h0M91.2 92.2h0M89.1 98.2h0M51.1 35.1h0M92.0 90.9h0M72.6 74.2h0M68.1 89.1h0M80.6 105.5h0M86.5 115.2h0M66.3 82.8h0M105.5 98.2h0M95.8 129.9h0M71.0 86.0h0M88.2 94.4h0M93.6 129.6h0M99.4 97.2h0M91.6 50.7h0M77.5 53.8h0M83.4 109.7h0M86.3 80.2h0M78.2 81.8h0M81.0 64.2h0M70.9 43.8h0M88.4 46.1h0M81.9 79.3h0M74.4 77.7h0M89.4 126.3h0M91.3 120.9h0M93.8 89.0h0M97.0 48.1h0M126.5 145.0h0M81.7 102.2h0M104.0 101.7h0M89.1 121.4h0M68.8 78.4h0M143.5 154.4h0M70.7 59.8h0M92.5 120.3h0M79.2 106.1h0M81.5 91.2h0M97.2 81.6h0M66.7 43.0h0M78.7 106.5h0M87.3 83.1h0M94.5 50.3h0M96.1 78.7h0M81.9 72.9h0M80.6 92.9h0M81.8 105.7h0M62.8 35.3h0M72.2 105.7h0M83.5 47.5h0M87.3 96.3h0M82.5 55.3h0M88.0 80.0h0M125.2 144.1h0M74.3 56.0h0M95.4 97.7h0M82.5 101.0h0M102.2 95.9h0M72.0 100.0h0M75.5 42.4h0M80.2 109.7h0M84.7 69.8h0M100.1 99.8h0M88.7 53.1h0M99.5 101.9h0M69.5 56.5h0M74.0 87.4h0M61.8 43.7h0M78.6 74.8h0M95.0 47.3h0M69.4 48.0h0M87.1 72.8h0M73.2 73.0h0M106.5 137.1h0M89.1 73.4h0M100.4 45.0h0M124.7 147.0h0M106.5 134.3h0M79.3 70.8h0M87.2 50.8h0M80.3 37.7h0M107.4 134.6h0M85.7 78.5h0M76.7 109.1h0M79.8 107.9h0M76.6 43.1h0M68.1 86.2h0M88.7 43.8h0M48.4 37.2h0M67.9 80.1h0M72.3 77.7h0M90.7 48.6h0M86.2 83.7h0M78.2 61.2h0M99.8 104.8h0M55.0 46.0h0M127.2 149.1h0M73.8 41.3h0M71.6 59.4h0M76.4 47.1h0M101.2 134.4h0M91.7 77.0h0M103.3 128.3h0M76.9 46.8h0M101.8 130.7h0M91.6 48.5h0M89.2 51.5h0M79.8 90.2h0M99.8 96.6h0M88.2 118.3h0M95.4 79.3h0M79.1 71.6h0M81.2 56.7h0M76.8 99.7h0M80.9 120.5h0M100.6 128.7h0M76.2 112.2h0M84.6 100.7h0M72.9 107.3h0M78.5 86.9h0M67.3 88.4h0M84.4 112.2h0M110.0 134.3h0M91.3 45.9h0M78.6 93.8h0M79.3 79.1h0M98.9 128.3h0M80.7 55.1h0M63.7 34.7h0M82.5 109.2h0M71.3 55.9h0M97.6 127.9h0M96.8 133.7h0M59.3 44.6h0M77.8 72.4h0M69.6 85.4h0M80.2 90.0h0M102.2 128.9h0M78.3 105.8h0M88.4 76.8h0M106.1 138.0h0M96.8 127.6h0M99.6 132.4h0M97.0 88.3h0M97.0 130.7h0M106.0 134.2h0M71.7 76.2h0M108.0 135.1h0M102.3 92.6h0M84.8 50.9h0M101.2 128.1h0M68.4 92.2h0M87.7 94.1h0M84.9 89.5h0M95.8 93.9h0M91.1 126.1h0M64.9 80.1h0M69.5 71.6h0M72.5 52.3h0M90.8 46.0h0M83.5 111.1h0M72.3 60.6h0M86.1 82.9h0M97.0 127.1h0M91.0 90.6h0M95.8 49.0h0M80.6 63.3h0M108.5 132.4h0M77.8 96.9h0M72.4 111.1h0M85.0 76.5h0M76.3 116.9h0M86.3 47.9h0M98.2 81.7h0M73.2 86.8h0M96.9 82.0h0M92.5 44.0h0M82.2 101.8h0M82.2 82.6h0M87.7 125.6h0M66.9 87.7h0M92.0 84.4h0M94.0 47.9h0M83.9 80.0h0M107.5 130.8h0M79.8 41.4h0M93.4 122.1h0M64.8 83.0h0M91.8 91.8h0M74.6 47.8h0M77.3 81.6h0M82.6 74.9h0M94.6 127.0h0M72.3 44.5h0M81.4 114.9h0M91.1 47.3h0M79.4 85.5h0M99.8 127.2h0M122.4 145.2h0M99.5 131.4h0M86.4 60.6h0M94.9 101.1h0M79.4 89.1h0M89.6 78.1h0M58.1 46.1h0M68.9 92.9h0M70.7 93.8h0M88.9 79.2h0M87.0 76.8h0M76.6 60.7h0M71.5 68.9h0M101.2 103.9h0M55.9 41.4h0M89.6 75.3h0M78.0 77.5h0M83.0 92.6h0M97.8 43.9h0M85.3 117.1h0M86.8 93.4h0M75.5 75.1h0M80.0 92.8h0M72.2 71.5h0M88.3 57.1h0M125.5 147.4h0M131.3 149.2h0M79.2 118.0h0M98.6 88.0h0M75.6 62.7h0M91.3 130.0h0M82.7 91.5h0M78.3 50.1h0M72.9 87.1h0M77.3 114.3h0M86.2 69.9h0M85.4 65.7h0M80.8 75.7h0M55.9 43.2h0M71.1 44.2h0M75.8 63.6h0M81.8 81.0h0M66.9 85.0h0M82.5 97.7h0M95.9 124.7h0M82.9 55.0h0M71.0 70.2h0M77.0 88.8h0M84.1 97.3h0M74.6 107.7h0M70.7 82.8h0M88.3 53.8h0M83.4 115.9h0M100.1 131.7h0M78.4 100.5h0M97.6 126.5h0M81.6 94.1h0M97.7 87.1h0M83.0 50.3h0M106.1 100.8h0M91.6 127.1h0M52.5 38.7h0M94.7 80.2h0M70.1 76.0h0M75.6 92.9h0M100.0 89.0h0M103.8 129.3h0M74.7 101.6h0M70.3 77.1h0M88.7 81.8h0M96.0 82.0h0M83.5 118.8h0M71.4 47.7h0M85.5 125.1h0M76.0 71.4h0M90.4 82.9h0M71.6 107.3h0M84.3 69.6h0M73.2 34.9h0M98.5 89.3h0M70.0 42.0h0M56.7 41.2h0M83.9 55.7h0M106.4 132.0h0M85.0 53.1h0M105.9 138.5h0M53.6 40.1h0M94.4 92.4h0M72.7 86.7h0M75.4 72.3h0M83.0 73.9h0M82.6 118.6h0M78.2 102.4h0M73.4 86.0h0M87.1 119.4h0M100.9 130.8h0M83.4 80.9h0M78.4 85.8h0M103.9 132.4h0M79.0 77.7h0M74.9 105.1h0M106.4 131.8h0M95.1 85.6h0M123.0 142.7h0M77.5 94.6h0M73.9 40.8h0M88.2 74.5h0M78.3 81.8h0M69.0 47.8h0M76.2 72.8h0M77.1 112.9h0M104.3 128.1h0M74.9 112.7h0M84.1 70.2h0M82.0 81.2h0M69.0 38.1h0M60.3 35.6h0M87.5 77.5h0M76.5 115.2h0M83.3 46.5h0M66.1 80.6h0M83.4 65.1h0M92.9 93.9h0M69.1 71.9h0M120.3 140.9h0M71.0 107.1h0M84.2 67.7h0M93.4 130.3h0M104.9 98.9h0M109.7 138.2h0M93.1 78.3h0M84.3 77.4h0M125.9 145.1h0M77.3 97.6h0M88.0 125.8h0M80.0 93.9h0M74.8 41.0h0M79.2 53.9h0M80.7 74.9h0M77.3 84.8h0M82.6 62.4h0M88.6 99.3h0M139.2 152.9h0M73.6 56.0h0M71.0 39.5h0M85.8 93.5h0M109.9 137.7h0M96.0 130.9h0M74.6 104.4h0M65.8 40.8h0M95.9 86.1h0M78.5 60.5h0M79.0 92.2h0M107.1 101.9h0M70.8 38.9h0M70.5 41.6h0M80.9 42.2h0M97.8 91.1h0M87.6 82.3h0M79.8 38.0h0M114.5 137.8h0M50.5 39.4h0M81.5 57.6h0M85.4 87.0h0M89.0 50.3h0M83.7 74.3h0M82.8 56.1h0M79.9 76.3h0M94.6 127.6h0M75.4 101.1h0M87.8 92.7h0M94.6 81.2h0M77.7 118.6h0M86.6 44.8h0M72.6 61.0h0M86.3 45.4h0M75.6 101.0h0M84.1 63.3h0M87.9 51.0h0M76.0 99.6h0M85.5 85.6h0M79.8 87.7h0M73.8 79.7h0M82.6 95.0h0M68.4 76.5h0M67.6 41.5h0M133.2 150.6h0M73.8 46.5h0M100.2 132.7h0M89.5 121.0h0M81.3 62.5h0M90.6 85.5h0M76.6 92.1h0M89.8 83.4h0M85.2 88.0h0M86.8 107.8h0M90.0 48.0h0M79.8 119.1h0M80.2 65.2h0M91.8 83.9h0M92.6 81.8h0M62.4 38.4h0M51.3 36.2h0M77.8 91.1h0M52.1 35.6h0M97.7 81.5h0M82.8 45.6h0M63.7 34.8h0M80.6 68.5h0M80.6 58.1h0M72.1 47.1h0M91.5 47.9h0M89.3 54.9h0M65.8 80.7h0M73.6 45.9h0M82.3 74.0h0M72.6 55.6h0M61.0 35.7h0M66.3 78.1h0M93.2 128.8h0M101.7 129.7h0M70.3 83.4h0M84.6 113.0h0M90.3 97.3h0M73.2 102.5h0M84.9 84.2h0M114.4 139.3h0M79.4 75.8h0M88.3 55.3h0M76.1 96.9h0M71.8 54.0h0M69.3 53.7h0M82.3 98.4h0M140.1 154.0h0M83.3 53.2h0M80.3 73.8h0M87.5 43.6h0M81.7 72.5h0M86.9 78.8h0M73.9 105.3h0M77.2 62.3h0M100.6 93.8h0M78.6 80.8h0M82.0 42.3h0M93.7 78.0h0M83.9 106.5h0M79.2 59.8h0M86.0 65.5h0M87.4 50.1h0M66.1 79.5h0M93.8 128.9h0M89.4 85.3h0M81.6 79.9h0M79.0 61.9h0M79.1 76.9h0M83.6 91.3h0M71.7 47.2h0M71.0 63.5h0M78.4 99.0h0M63.0 47.7h0M70.5 95.2h0M98.4 97.5h0M80.8 63.8h0M78.8 99.9h0M135.8 152.3h0M86.9 117.6h0M92.2 129.1h0M90.4 97.8h0M93.6 128.3h0M76.4 90.6h0M79.2 71.7h0M92.7 84.4h0M81.0 59.8h0M109.5 134.3h0M88.3 88.4h0M94.4 93.3h0M71.7 72.5h0M68.7 89.9h0M89.8 46.9h0M78.5 83.1h0M87.1 125.8h0M90.0 42.4h0M61.4 39.2h0M98.2 80.1h0M80.3 38.8h0M87.0 122.1h0M70.6 91.2h0M94.9 128.4h0M80.2 91.4h0M83.6 69.6h0M95.8 133.5h0M84.7 93.4h0M83.1 103.7h0M100.0 43.8h0M82.9 95.8h0M90.0 77.9h0M92.3 90.4h0M87.8 110.6h0M98.3 126.9h0M79.4 109.2h0M119.1 139.8h0M71.4 56.8h0M72.1 41.7h0M73.5 46.9h0M82.3 96.2h0M77.5 82.5h0M71.3 40.0h0M68.7 51.3h0M83.8 86.3h0M85.1 90.1h0M95.0 92.6h0M62.6 44.0h0M76.4 89.7h0M85.2 80.8h0M95.9 85.2h0M95.1 79.4h0M70.1 34.5h0M71.7 100.1h0M92.6 77.4h0M96.5 130.0h0M71.0 45.8h0M87.1 43.4h0M68.8 41.3h0M80.6 98.5h0M84.2 81.5h0M109.2 134.7h0M96.6 94.0h0M83.7 93.5h0M95.7 129.1h0M84.3 76.3h0M78.5 112.1h0M86.2 54.8h0M69.9 69.5h0M73.1 56.4h0M92.4 80.5h0M80.5 97.7h0M68.2 39.5h0M77.6 90.0h0M76.4 42.7h0M90.0 88.5h0M84.1 123.9h0M90.3 123.4h0M54.6 39.9h0M84.7 42.5h0M96.9 48.6h0M75.6 76.1h0M60.6 37.7h0M67.1 85.8h0M86.3 81.8h0M74.1 97.8h0M89.4 126.7h0M89.1 48.8h0M82.4 103.9h0M120.3 141.2h0M82.8 94.5h0M71.1 71.0h0M104.0 129.1h0M77.4 52.2h0M94.8 45.0h0M72.2 75.2h0M93.1 127.6h0M102.1 96.1h0M79.3 65.5h0M100.9 132.1h0M93.3 127.2h0M53.1 40.8h0M78.4 118.0h0M103.4 98.0h0M76.1 88.8h0M96.1 47.3h0M77.4 85.8h0M84.6 119.8h0M49.1 40.1h0M67.6 46.5h0M92.2 52.2h0M83.8 85.3h0M90.4 89.2h0M82.4 46.6h0M105.6 108.2h0M74.9 77.1h0M75.6 72.4h0M87.0 79.1h0M65.1 84.8h0M84.2 62.1h0M74.2 71.0h0M93.5 88.8h0M85.5 110.6h0M73.2 34.5h0M101.0 100.0h0M61.4 38.0h0M89.8 92.8h0M97.6 101.3h0M76.3 48.1h0M73.6 99.8h0M76.7 111.7h0M77.5 111.9h0M49.4 38.6h0M85.4 52.3h0M73.5 50.1h0M85.7 114.2h0M80.4 100.1h0M76.7 92.5h0M72.2 72.0h0M80.2 117.5h0M70.6 92.4h0M96.7 125.5h0M85.2 118.5h0M76.1 83.0h0M75.6 101.4h0M88.1 122.2h0M97.4 86.3h0M81.1 91.5h0M83.0 72.6h0M89.8 116.2h0M77.8 35.7h0M83.5 63.0h0M77.4 46.6h0M76.8 75.9h0M141.7 153.6h0M79.5 86.5h0M82.6 110.5h0M107.7 136.2h0M74.8 50.9h0M74.0 107.4h0M52.7 36.2h0M80.9 86.5h0M96.4 95.0h0M85.7 122.5h0M94.1 86.2h0M80.9 65.6h0M95.9 88.4h0M81.3 63.2h0M84.4 81.6h0M80.7 99.0h0M89.7 123.1h0M87.1 96.7h0M76.3 61.2h0M78.8 78.2h0M69.8 37.9h0M72.1 106.1h0M83.5 79.8h0M64.9 48.7h0M87.2 121.9h0M99.9 96.6h0M52.0 39.5h0M71.1 70.3h0" stroke="#0a9f8b" stroke-width="1.50"/><path d="M88.0 113.9h0M82.0 72.3h0M74.5 108.6h0M77.7 56.3h0M94.5 95.0h0M79.3 114.3h0M84.7 73.9h0M79.2 61.9h0M125.8 146.0h0M98.3 83.2h0M101.5 129.9h0M80.0 112.4h0M124.0 144.0h0M104.4 128.7h0M95.3 49.0h0M80.8 59.4h0M104.7 129.5h0M102.9 96.8h0M75.0 75.3h0M74.5 61.2h0M75.9 113.3h0M123.8 143.4h0M112.5 138.7h0M73.0 104.4h0M126.4 147.1h0M122.9 144.0h0M78.5 36.0h0M102.2 99.4h0M77.9 56.9h0M106.2 103.4h0M80.8 44.3h0M69.0 90.6h0M108.3 107.4h0M137.8 152.0h0M79.3 81.8h0M99.4 86.5h0M123.9 146.0h0M127.3 147.1h0M100.9 91.3h0M118.1 142.3h0M99.8 91.1h0M108.4 108.2h0M135.8 151.1h0M87.9 48.9h0M81.7 113.7h0M88.8 112.1h0M76.5 34.8h0M97.9 45.1h0M76.8 36.0h0M116.7 141.8h0M117.0 141.4h0M126.7 147.7h0M80.1 112.5h0M76.6 65.7h0M79.1 114.2h0M80.0 44.2h0M116.8 140.7h0M64.7 83.6h0M93.1 123.6h0M108.6 104.4h0M79.7 81.0h0M104.5 104.0h0M86.2 54.4h0M74.8 83.6h0M86.8 114.1h0M82.2 60.1h0M118.4 143.9h0M104.8 104.6h0M72.8 75.8h0M146.5 155.6h0M67.8 47.8h0M98.4 87.1h0M123.8 146.4h0M92.2 130.9h0M95.6 45.0h0M75.5 65.7h0M116.3 138.5h0M104.8 106.6h0M58.0 34.0h0M93.5 124.7h0M98.6 133.5h0M72.8 109.9h0M102.6 100.2h0M102.3 100.0h0M93.4 119.4h0M82.8 111.9h0M120.5 144.9h0M121.5 142.1h0M96.4 89.8h0M87.8 61.2h0M97.6 46.7h0M90.5 119.0h0M112.7 138.0h0M101.1 96.3h0M73.3 58.6h0M119.0 144.0h0M73.1 103.6h0M79.4 80.5h0M77.9 108.5h0M75.8 65.4h0M73.7 80.4h0M104.6 101.5h0M106.1 102.8h0M72.4 53.9h0M97.4 90.2h0M89.1 44.8h0M75.1 34.7h0M108.2 134.5h0M77.7 38.2h0M75.2 35.6h0M86.9 94.8h0M124.3 143.3h0M109.8 132.4h0M94.6 90.5h0M107.1 106.7h0M65.1 84.2h0M95.0 91.2h0M80.3 107.4h0M81.3 75.5h0M70.0 79.8h0M107.8 107.0h0M107.0 107.8h0M77.1 116.6h0M124.2 146.1h0M67.4 89.1h0M87.1 40.9h0M74.2 36.5h0M98.6 44.8h0M122.1 144.2h0M73.8 106.4h0M84.8 110.6h0M117.6 143.2h0M73.0 109.7h0M88.9 112.7h0M70.4 79.4h0M72.8 104.7h0M83.9 57.7h0M67.3 47.5h0M82.0 111.6h0M72.0 35.1h0M78.3 38.2h0M122.9 143.2h0M96.6 79.8h0M129.0 146.7h0M110.7 134.5h0M98.0 99.0h0M73.1 106.2h0M104.3 100.5h0M102.0 100.8h0M112.3 138.2h0M80.5 80.3h0M87.2 113.4h0M94.8 48.0h0M102.7 135.9h0M138.8 151.7h0M104.1 135.1h0M82.3 112.8h0M77.2 38.6h0M83.4 112.9h0M73.6 82.0h0M75.9 35.1h0M101.0 97.2h0M127.7 148.0h0M81.6 75.0h0M76.4 35.9h0M117.1 140.4h0M75.9 108.7h0M88.8 48.5h0M83.8 114.6h0M128.3 148.5h0M79.3 107.4h0M74.7 108.3h0M95.2 49.5h0M81.5 87.7h0M107.6 105.4h0M84.7 74.5h0M94.1 95.3h0M67.1 47.2h0M127.9 147.8h0M92.0 121.5h0M116.7 143.3h0M74.1 36.8h0M80.6 87.5h0M123.2 147.1h0M99.5 84.9h0M123.8 144.6h0M73.1 105.8h0M87.6 60.0h0M72.4 53.6h0M106.4 104.3h0M51.5 38.2h0M84.0 72.5h0M75.6 34.6h0M76.7 36.6h0M72.5 69.7h0M75.1 99.8h0M72.6 82.5h0M72.8 82.3h0M96.4 89.1h0M75.0 109.4h0M100.1 90.8h0M80.7 58.8h0" stroke="#62dccb" stroke-width="1.50"/></g><path d="M82.4 89.6l1.2 .5" stroke="#fff" stroke-width="1.3"/><path d="M120.3 50.6h0M120.2 52.2h0M120.4 53.8h0M120.8 55.2h0M141.6 57.2h0M143.0 57.4h0M144.4 58.2h0M145.8 59.0h0M147.2 59.8h0M150.0 61.4h0M151.4 62.2h0M152.8 63.0h0M144.2 60.6h0M147.4 62.0h0M150.6 63.6h0M152.2 64.6h0M176.1 71.7h0M177.0 74.0h0M176.1 75.8h0M176.1 78.8h0M114.0 77.6h0M108.0 80.8h0M113.6 91.0h0M116.7 100.4h0M129.9 113.8h0M131.8 115.4h0M125.9 129.1h0M129.0 130.9h0M125.3 134.0h0M148.0 153.9h0M86.4 104.0h0" stroke="#0a9f8b" stroke-width="2.4"/><path d="M121.8 50.2h0M121.7 52.0h0M123.0 51.6h0M121.8 53.6h0M122.9 53.2h0M122.2 54.8h0M148.6 60.6h0M154.2 63.8h0M155.6 64.6h0M141.4 59.2h0M142.8 60.2h0M145.8 61.2h0M149.0 62.8h0M168.2 70.0h0M167.4 70.6h0M136.7 74.6h0M113.6 94.8h0M110.8 112.2h0M109.4 113.4h0M107.2 109.8h0M100.3 115.0h0M100.3 120.9h0M97.3 122.4h0M156.1 116.7h0M152.3 127.0h0M144.4 129.1h0M145.8 131.7h0M144.9 130.4h0M141.7 135.3h0M157.1 151.1h0M157.1 156.4h0M90.1 102.8h0M88.6 102.4h0M90.8 111.7h0M91.6 110.4h0" stroke="#62dccb" stroke-width="2.4"/><path d="M123.0 50.0h0M111.9 111.6h0" stroke="#18bda7" stroke-width="2.4"/></g></g><text x="193.5" y="191.9" font-family="'Liberation Serif',serif" font-weight="bold" font-size="8.7" fill="#1a1a1a">(d)</text></g><g><rect x="30.11" y="380.88" width="164.61" height="151.75" fill="#fff" stroke="#8c8c8c" stroke-width="0.75"/><path d="M49.62 532.63v1.4M49.62 380.88v-1.4M82.51 532.63v1.4M82.51 380.88v-1.4M115.41 532.63v1.4M115.41 380.88v-1.4M148.31 532.63v1.4M148.31 380.88v-1.4M181.21 532.63v1.4M181.21 380.88v-1.4M30.11 400.90h-1.4M194.72 400.90h1.4M30.11 433.87h-1.4M194.72 433.87h1.4M30.11 466.85h-1.4M194.72 466.85h1.4M30.11 499.82h-1.4M194.72 499.82h1.4" stroke="#5a5a5a" stroke-width="0.55" fill="none"/><g font-size="4.30" fill="#151515" stroke="#151515" stroke-width="0.1"><text x="49.82" y="538.88" text-anchor="middle">117.410</text><text x="82.71" y="538.88" text-anchor="middle">117.415</text><text x="115.61" y="538.88" text-anchor="middle">117.420</text><text x="148.51" y="538.88" text-anchor="middle">117.425</text><text x="181.41" y="538.88" text-anchor="middle">117.430</text><text x="26.91" y="402.40" text-anchor="end">23.935</text><text x="26.91" y="435.37" text-anchor="end">23.930</text><text x="26.91" y="468.35" text-anchor="end">23.925</text><text x="26.91" y="501.32" text-anchor="end">23.920</text><text x="119.32" y="545.03" text-anchor="middle">Longitude (°E)</text><text transform="translate(10.81 449.55) rotate(-90)" text-anchor="middle">Latitude (°N)</text></g><g transform="translate(30.11 380.88) scale(1.0068 1.0157) translate(-28.2 -16.9)"><polygon points="44.4,36.8 47.6,34.9 52.6,34.3 58.9,33.7 65.2,33.3 71.5,32.8 75.9,32.0 77.8,34.8 82.6,38.2 87.6,41.0 92.7,43.5 97.1,43.5 100.9,42.3 102.3,44.4 99.6,46.9 96.4,49.4 93.3,52.6 90.8,55.1 88.9,58.2 91.4,60.7 90.8,62.6 87.6,63.9 87.0,67.0 87.6,70.8 90.2,74.0 92.7,75.5 97.8,78.8 99.7,82.6 100.9,87.6 103.5,93.9 106.5,99.5 108.7,104.2 109.4,107.3 108.4,110.0 104.5,108.0 99.3,104.6 94.2,101.5 89.3,100.6 86.5,100.2 84.6,101.2 84.6,104.0 86.4,106.8 89.5,111.0 92.0,115.0 93.9,118.6 95.8,122.6 98.3,125.5 102.7,126.9 106.5,129.4 110.3,132.6 114.1,135.7 117.9,138.0 121.5,140.1 125.9,143.3 130.3,147.9 135.0,149.9 139.1,151.5 146.1,153.8 147.5,155.5 145.3,156.4 139.1,155.1 130.3,151.4 125.0,148.4 120.0,145.0 116.6,144.0 111.6,142.0 106.5,139.4 101.5,136.3 96.4,134.0 91.4,131.0 87.6,127.0 82.6,123.3 77.6,118.9 73.8,113.8 70.7,108.8 70.7,106.5 71.3,101.5 69.4,96.4 66.9,93.3 66.9,88.9 64.4,83.9 64.4,79.4 66.9,75.0 68.8,70.0 70.2,68.3 70.9,63.9 70.2,59.5 69.0,55.1 67.1,51.3 64.6,48.8 60.2,47.5 56.4,46.9 52.0,46.9 49.4,43.7 46.9,40.6 44.4,38.1" fill="#8ee82a" stroke="#fff" stroke-width="1.5" stroke-linejoin="round"/><g fill="none" stroke-linecap="round"><g filter="url(#bl)"><path d="M77.1 56.9h0M89.6 47.1h0M105.4 133.1h0M96.5 88.6h0M119.7 141.3h0M78.2 112.3h0M79.9 44.8h0M100.5 94.0h0M105.1 98.8h0M90.2 92.9h0M63.0 37.8h0M70.9 52.7h0M87.0 64.7h0M70.9 59.3h0M66.1 35.8h0M74.9 109.8h0M80.7 64.3h0M100.9 126.4h0M80.6 38.0h0M77.3 91.9h0M76.1 35.8h0M80.6 64.8h0M90.2 50.1h0M77.0 83.2h0M74.5 57.1h0M97.2 99.1h0M79.5 54.2h0M140.3 154.8h0M70.3 49.6h0M95.8 82.8h0M115.1 140.5h0M81.8 46.7h0M118.0 143.6h0M115.1 141.6h0M80.7 44.2h0M118.7 139.8h0M62.3 40.7h0M85.7 122.8h0M73.7 44.3h0M83.3 55.9h0M71.9 87.2h0M65.5 83.7h0M108.1 135.8h0M84.3 66.8h0M86.9 84.6h0M85.5 118.6h0M75.4 43.5h0M70.2 84.8h0M96.0 96.0h0M73.9 39.3h0M142.5 153.1h0M88.8 86.5h0M87.7 115.6h0M81.9 43.8h0M77.1 67.8h0M83.8 52.0h0M68.5 83.8h0M71.9 98.6h0M69.8 93.9h0M75.9 44.6h0M82.6 66.2h0M107.1 102.2h0M74.2 62.3h0M89.8 92.5h0M122.6 141.0h0M78.5 104.3h0M71.2 49.9h0M60.0 34.7h0M93.9 124.6h0M68.7 89.0h0M48.8 37.7h0M83.1 102.9h0M88.5 117.6h0M79.9 61.7h0M82.5 41.5h0M80.1 59.1h0M78.1 35.9h0M81.2 62.1h0M71.8 94.1h0M90.9 50.7h0M88.5 78.4h0M77.9 40.3h0M107.9 135.1h0M95.8 101.1h0M82.0 47.8h0M107.4 107.2h0M88.3 95.6h0M91.7 85.7h0M71.9 76.8h0M54.3 37.0h0M85.3 43.5h0M82.5 75.8h0M77.0 41.3h0M81.1 63.4h0M82.8 106.2h0M108.5 106.4h0M79.2 85.3h0M75.7 41.9h0M106.7 131.3h0M82.7 121.7h0M69.3 54.3h0M70.5 98.9h0M91.2 48.0h0M85.5 94.7h0M89.7 51.2h0M86.0 47.5h0M62.7 38.0h0M89.8 74.8h0M95.7 88.7h0M93.8 95.5h0M98.0 86.8h0M73.7 93.8h0M78.7 103.4h0M81.6 57.9h0M76.1 88.2h0M87.4 51.0h0M89.7 82.1h0M72.9 72.8h0M82.8 110.4h0M75.7 61.4h0M77.3 76.0h0M77.8 87.8h0M75.5 36.7h0M69.7 83.9h0M72.5 49.7h0M83.3 81.0h0M73.4 82.2h0M86.2 76.5h0M106.1 132.8h0M69.5 41.2h0M81.6 66.9h0M136.6 151.6h0M78.9 66.2h0M77.5 72.9h0M80.7 114.9h0M88.7 61.2h0M78.5 108.9h0M70.3 51.2h0M83.3 58.5h0M93.0 96.1h0M145.3 155.4h0M95.8 101.5h0M57.4 35.1h0M64.6 36.3h0M78.4 58.1h0M73.0 72.4h0M68.4 72.5h0M71.1 82.2h0M82.9 45.0h0M71.9 78.3h0M74.9 104.4h0M62.8 39.3h0M69.3 89.0h0M71.1 65.8h0M80.6 83.9h0M76.1 111.3h0M79.9 91.5h0M70.7 72.5h0M76.6 60.1h0M96.3 97.8h0M73.8 72.4h0M73.3 101.9h0M80.8 47.0h0M80.2 118.2h0M73.6 49.1h0M79.6 104.4h0M87.7 123.7h0M77.0 47.0h0M83.6 104.4h0M78.8 52.9h0M78.3 99.2h0M126.0 147.9h0M72.0 33.7h0M68.8 52.1h0M87.7 92.3h0M75.6 93.2h0M61.3 37.3h0M98.1 99.1h0M71.4 105.9h0M80.3 62.0h0M135.0 150.7h0M55.5 34.9h0M102.2 103.3h0M50.1 43.4h0M85.0 69.2h0M63.9 36.7h0M80.0 107.8h0M90.1 46.9h0M77.3 49.2h0M81.5 68.5h0M120.0 142.9h0M98.4 94.9h0M71.9 39.6h0M92.9 84.1h0M80.3 69.9h0M84.0 42.1h0M80.7 60.1h0M136.8 151.2h0M74.1 105.6h0M118.2 141.1h0M84.1 87.2h0M89.3 55.9h0M80.1 110.2h0M53.7 35.0h0M97.0 89.4h0M76.5 106.1h0M69.8 96.1h0M73.3 58.7h0M67.8 87.7h0M78.1 52.5h0M87.4 48.2h0M98.5 101.9h0M92.4 84.8h0M67.8 50.0h0M93.8 44.6h0M71.6 87.9h0M81.4 64.4h0M76.9 79.8h0M49.3 41.7h0M51.4 45.0h0M72.5 108.4h0M106.4 104.8h0M74.2 38.6h0M80.9 58.8h0M45.9 38.6h0M107.2 136.5h0M79.1 84.5h0M102.2 99.2h0M66.7 36.0h0M56.0 39.5h0M57.8 41.8h0M79.0 61.1h0M88.8 114.8h0M65.8 80.8h0M74.2 90.6h0M82.1 46.2h0M70.5 90.1h0M58.2 37.3h0M87.8 116.5h0M108.7 131.6h0M77.8 51.4h0M73.9 37.8h0M77.5 109.9h0M68.3 47.3h0M65.5 44.0h0M97.4 92.0h0M72.4 96.0h0M71.2 62.9h0M73.6 39.0h0M88.5 90.6h0M73.6 94.7h0M83.9 107.0h0M53.2 38.2h0M74.2 43.9h0M60.5 45.4h0M58.7 39.4h0M73.5 98.0h0M83.6 57.6h0M132.1 150.4h0M77.1 45.4h0M97.0 125.3h0M96.6 96.2h0M76.7 111.2h0M73.0 85.4h0M76.2 102.5h0M88.3 83.1h0M82.0 64.8h0M79.5 91.3h0M80.0 42.3h0M69.2 53.0h0M83.2 50.7h0M77.2 61.5h0M79.6 94.4h0M95.9 93.3h0M56.5 43.3h0M115.2 141.8h0M70.6 96.5h0M54.2 35.2h0M71.2 45.4h0M135.3 151.4h0M98.7 133.9h0M88.1 122.6h0M87.3 121.7h0M70.6 47.6h0M67.8 83.8h0M79.3 43.5h0M123.4 144.7h0M53.2 45.0h0M103.9 100.1h0M100.8 103.7h0M64.7 47.9h0M71.2 86.1h0M110.8 141.1h0M73.8 78.2h0M75.4 71.4h0M121.6 144.3h0M77.4 66.5h0M86.7 48.2h0M53.0 36.0h0M81.6 80.7h0M77.9 45.3h0M78.3 109.5h0M82.0 38.5h0M58.8 39.1h0M80.8 55.2h0M98.6 93.6h0M72.0 45.7h0M96.1 46.2h0M75.5 49.8h0M98.9 133.5h0M69.2 83.0h0M74.3 60.5h0M141.8 152.8h0M98.3 102.7h0M77.5 63.4h0M77.8 61.9h0M67.4 82.8h0M78.6 46.9h0M86.6 125.5h0M72.0 38.4h0M78.8 42.2h0M76.7 51.1h0M88.0 59.3h0M78.0 49.9h0M93.3 78.2h0M74.6 57.3h0M93.1 86.2h0M76.1 76.0h0M132.7 149.3h0M76.2 104.6h0M72.0 57.6h0M73.9 40.8h0M88.4 79.4h0M70.1 71.5h0M108.2 132.9h0M75.2 41.9h0M94.2 101.3h0M80.1 45.3h0M53.8 39.3h0M104.7 99.6h0M78.2 100.4h0M73.2 104.9h0M74.0 103.3h0M73.0 50.9h0M115.7 142.3h0M76.2 65.0h0M86.2 71.4h0M81.3 94.0h0M136.1 153.0h0M70.2 88.7h0M68.7 91.5h0M123.2 143.3h0M135.6 152.5h0M75.5 79.9h0M90.9 43.2h0M76.5 71.4h0M73.9 45.0h0M111.8 137.3h0M66.9 46.1h0M75.2 72.5h0M94.4 91.7h0M73.3 86.6h0M86.1 69.9h0M83.2 55.2h0M77.0 68.2h0M83.0 63.1h0M79.5 48.3h0M71.2 91.7h0M79.7 105.0h0M81.5 44.9h0M78.5 55.4h0M121.1 142.2h0M69.9 89.7h0M132.1 151.4h0M76.5 59.3h0M101.6 99.5h0M79.4 36.6h0M68.6 87.3h0M63.8 36.0h0M77.1 113.9h0M79.7 54.6h0M76.4 45.3h0M73.6 48.1h0M88.0 94.3h0M81.8 54.3h0M104.1 103.8h0M105.0 103.2h0M80.5 116.9h0M83.6 84.9h0M70.2 72.6h0M64.6 37.9h0M84.5 73.9h0M82.8 43.7h0M85.7 55.4h0M78.4 69.6h0M124.9 143.3h0M77.1 91.2h0M83.3 59.7h0M88.6 79.8h0M76.6 43.3h0M96.6 133.2h0M71.9 46.0h0M76.2 78.1h0M78.5 63.0h0M72.6 83.1h0M107.2 136.1h0M78.3 45.3h0M79.3 40.5h0M54.0 44.8h0M61.9 37.7h0M80.9 63.1h0M86.6 76.3h0M81.9 113.9h0M80.8 61.3h0M103.2 135.5h0M84.4 53.2h0M89.2 76.1h0M81.0 59.4h0M140.7 154.9h0M73.4 90.6h0M84.6 56.9h0M87.3 126.0h0M101.1 133.5h0M99.2 127.1h0M81.3 104.0h0M131.9 149.1h0M51.3 35.0h0M67.2 48.0h0M52.8 36.7h0M71.6 107.9h0M72.6 55.0h0M84.2 64.1h0M100.8 90.7h0M55.7 40.1h0M112.0 138.1h0M55.4 36.0h0M89.8 78.7h0M70.0 85.5h0M87.7 76.2h0M82.7 53.8h0M96.1 95.2h0M74.3 46.4h0M62.6 42.7h0M104.8 133.4h0M85.8 51.6h0M101.4 103.0h0M86.3 48.6h0M80.2 100.1h0M86.3 86.1h0M77.8 75.4h0M72.2 90.9h0M107.2 134.1h0M74.5 112.5h0M80.0 93.7h0M118.3 142.3h0M85.9 89.5h0M74.0 95.4h0M65.2 80.9h0M78.6 77.7h0M75.4 69.1h0M89.0 88.8h0M50.6 38.1h0M55.5 43.4h0M57.0 38.2h0M77.9 68.2h0M75.0 87.3h0M74.7 79.4h0M89.5 91.4h0M90.4 78.5h0M77.3 73.0h0M85.1 48.4h0M65.0 80.1h0M74.9 35.1h0M91.6 86.4h0M107.0 134.7h0M82.0 56.7h0M84.7 70.8h0M129.4 148.6h0M84.1 41.5h0M55.5 40.6h0M130.7 148.8h0M100.5 99.9h0M65.9 78.1h0M74.1 111.5h0M91.7 84.1h0M73.2 96.8h0M80.8 107.1h0M80.1 54.4h0M73.9 102.1h0M81.9 42.5h0M82.7 119.9h0M78.3 59.0h0M112.6 139.9h0M79.2 68.1h0M93.6 89.4h0M78.0 76.2h0M80.5 101.3h0M75.9 40.6h0M95.5 88.9h0M80.4 75.2h0M74.3 66.5h0M129.1 150.6h0M102.7 101.6h0M74.0 34.9h0M97.6 125.7h0M71.6 74.8h0M82.6 66.5h0M96.8 95.0h0M74.5 43.1h0M70.3 92.2h0M79.8 71.9h0M99.5 100.5h0M94.0 43.7h0M75.4 91.5h0M76.0 43.1h0M81.7 114.3h0M104.6 100.5h0M76.5 66.8h0M83.4 57.1h0M76.5 102.6h0M76.3 79.2h0M88.4 87.2h0M72.7 107.6h0M67.3 40.0h0M81.6 88.4h0M80.1 72.3h0M84.8 84.4h0M78.4 66.9h0M80.0 67.3h0M71.4 92.6h0M87.7 60.6h0M129.1 147.3h0M104.0 136.3h0M77.7 80.1h0M75.8 60.7h0M84.1 113.3h0M78.8 68.5h0M94.7 92.2h0M77.9 61.3h0M69.8 87.9h0M71.9 48.0h0M73.4 35.8h0M120.1 144.1h0M78.1 100.7h0M82.2 84.2h0M51.7 41.5h0M80.0 99.7h0M55.9 40.8h0M76.7 65.2h0M80.1 65.8h0M85.8 46.1h0M80.2 91.8h0M85.8 79.4h0M99.2 97.9h0M85.8 53.8h0M93.5 43.9h0M76.0 52.4h0M82.5 89.5h0M75.8 112.8h0M52.2 43.8h0M82.4 55.6h0M104.2 98.3h0M72.7 106.6h0M60.6 34.4h0M72.6 78.3h0M74.7 39.4h0M76.5 85.5h0M71.5 54.6h0M79.7 53.4h0M49.8 43.8h0M64.5 82.4h0M71.9 37.0h0M69.7 82.3h0M85.1 124.2h0M73.2 81.2h0M120.7 144.3h0M79.5 44.5h0M74.0 86.6h0M68.8 36.0h0M86.3 56.7h0M72.3 77.0h0M74.7 36.2h0M73.4 111.0h0M54.1 43.8h0M104.1 98.8h0M59.6 42.5h0M121.5 141.5h0M86.7 72.5h0M107.3 130.4h0M76.8 62.6h0M81.2 117.6h0M72.6 79.3h0M93.0 95.5h0M78.9 60.6h0M106.1 100.5h0M85.6 78.8h0M81.5 67.2h0M72.5 87.4h0M74.8 88.8h0M92.1 47.8h0M82.2 82.2h0M108.0 139.1h0M77.4 65.7h0M70.8 85.3h0M56.6 36.9h0M77.2 46.0h0M82.6 59.3h0M102.9 103.4h0M69.9 71.8h0M112.2 138.5h0M106.0 133.9h0M86.5 71.3h0M119.4 140.2h0M88.2 55.1h0M90.1 128.9h0M75.8 105.6h0M82.4 81.5h0M82.8 51.3h0M78.0 69.0h0M72.3 52.7h0M79.9 81.7h0M113.9 137.1h0M85.1 106.0h0M90.8 49.4h0M61.2 35.6h0M88.4 124.4h0M68.8 88.0h0M86.5 57.2h0M94.4 97.3h0M117.6 142.6h0M76.5 112.0h0M85.0 70.1h0M77.9 54.6h0M69.8 51.5h0M60.0 37.1h0M89.1 124.5h0M79.4 55.5h0M126.9 144.8h0M89.4 128.3h0M63.2 38.6h0M72.5 88.7h0M85.3 52.9h0M101.3 101.9h0M77.7 106.6h0M76.5 69.6h0M146.1 155.3h0M74.1 64.0h0M79.9 69.9h0M99.7 99.1h0M68.0 88.1h0M56.9 36.4h0M78.6 51.4h0M50.3 42.1h0M121.3 145.0h0M103.6 133.1h0M100.6 130.6h0M84.8 81.6h0M67.4 84.5h0M112.5 141.6h0M96.4 90.3h0M88.0 72.9h0M77.5 91.6h0M76.3 37.9h0M72.8 99.0h0M97.2 97.1h0M108.0 139.2h0M90.3 43.3h0M76.1 87.6h0M71.7 108.6h0M51.8 43.4h0M124.3 145.2h0M84.4 123.0h0M76.1 47.5h0M49.3 38.6h0M73.0 91.8h0M87.6 53.7h0M80.0 41.4h0M135.5 153.3h0M77.9 49.0h0M95.4 97.3h0M106.1 105.0h0M90.8 98.5h0M54.8 38.4h0M89.9 93.6h0M83.4 113.9h0M83.3 68.4h0M98.4 131.8h0M87.5 84.5h0M82.9 120.0h0M83.5 64.1h0M83.7 51.7h0M78.4 116.3h0M128.2 149.9h0M59.4 35.4h0M70.0 36.0h0M55.5 37.2h0M109.1 135.7h0M78.5 112.0h0M93.5 51.4h0M55.9 36.3h0M67.3 89.5h0M80.7 87.7h0M75.9 47.0h0M97.5 91.1h0M78.7 55.6h0M80.0 58.9h0M105.8 138.2h0M73.7 63.4h0M89.1 87.9h0M115.1 142.2h0M63.7 43.5h0M106.6 106.9h0M97.3 45.2h0M70.9 36.1h0M82.5 82.5h0M112.7 137.3h0M68.9 49.7h0M78.9 81.8h0M95.2 96.6h0M77.1 109.5h0M54.5 43.2h0M86.2 69.7h0M103.1 96.0h0M52.4 40.8h0M72.5 86.9h0M73.3 89.9h0M88.0 110.0h0M129.6 150.8h0M107.1 104.7h0M69.5 53.6h0M68.7 93.6h0M75.7 49.9h0M99.9 97.5h0M75.7 38.4h0M88.6 81.3h0M72.7 98.0h0M87.0 119.0h0M74.7 65.4h0M88.2 62.1h0M76.5 112.2h0M73.9 63.2h0M90.3 129.6h0M65.5 37.6h0M135.9 151.9h0M74.0 36.7h0M72.0 85.6h0M72.0 77.9h0M75.8 62.1h0M73.5 53.0h0M51.0 40.8h0M81.0 95.2h0M70.4 78.5h0M73.9 58.5h0M59.5 43.8h0M84.6 61.0h0M98.1 95.1h0M87.5 58.8h0M94.4 97.8h0M69.7 84.3h0M82.5 49.5h0M83.9 70.8h0M74.4 34.6h0M101.3 96.2h0M72.5 85.1h0M93.9 131.2h0M106.6 133.3h0M76.6 42.5h0M79.0 62.2h0M76.7 88.8h0M76.4 110.5h0M71.5 56.0h0M84.1 121.6h0M116.6 138.6h0M86.8 53.7h0M113.8 141.0h0M76.7 77.1h0M60.2 46.2h0M78.0 50.4h0M50.8 39.9h0M76.1 62.9h0M73.7 105.4h0M75.4 39.1h0M89.3 80.0h0M73.9 52.7h0M74.8 64.1h0M107.4 102.9h0M77.4 46.3h0M80.2 48.2h0M54.2 37.9h0M80.3 43.3h0M71.8 50.6h0M86.0 86.0h0M88.6 121.9h0M82.0 114.5h0M74.1 94.5h0M69.7 94.3h0M81.7 99.7h0M89.4 82.9h0M72.2 36.7h0M72.7 48.7h0M106.7 133.9h0M92.7 85.8h0M85.6 107.3h0M80.7 55.6h0M80.5 42.3h0M114.5 137.1h0M88.6 45.7h0M115.6 139.7h0M84.1 62.7h0M86.9 89.1h0M84.6 59.6h0M67.7 46.3h0M64.5 38.4h0M48.3 35.7h0M94.8 124.2h0M63.2 36.7h0M53.7 42.1h0M97.6 89.5h0M96.9 90.9h0M98.1 46.8h0M97.6 100.0h0M72.4 80.2h0M106.8 108.4h0M100.2 99.2h0M83.9 95.5h0M74.6 36.1h0M88.8 55.6h0M72.7 46.6h0M90.7 117.2h0M106.4 136.5h0M78.4 114.5h0M104.3 132.4h0M83.0 75.5h0M89.0 95.0h0M82.2 71.7h0M92.8 47.1h0M84.0 122.2h0M98.1 100.1h0M77.9 60.2h0M72.1 95.1h0M98.5 44.6h0M81.7 90.2h0M84.3 86.3h0M76.1 36.8h0M76.6 79.3h0M81.4 39.4h0M97.2 100.7h0M98.1 83.8h0M57.4 44.2h0M68.0 89.7h0M107.2 101.3h0M119.4 143.2h0M71.1 49.1h0M74.1 69.2h0M130.5 150.3h0M70.6 81.0h0M98.7 97.6h0M71.5 53.5h0M88.0 94.1h0M83.6 107.5h0M80.7 105.0h0M76.0 90.7h0M79.9 110.6h0M46.4 38.3h0M81.4 45.7h0M81.9 55.0h0M70.8 90.6h0M70.3 86.4h0M76.8 35.4h0M97.0 98.8h0M81.7 43.5h0M78.4 94.0h0M108.7 132.5h0M117.1 143.1h0M96.1 126.4h0M70.2 44.8h0M88.5 100.0h0M84.1 92.4h0M79.0 86.3h0M126.9 147.9h0M87.8 44.8h0M78.9 41.8h0M81.9 60.8h0M59.2 34.4h0M74.3 113.3h0M81.8 61.2h0M72.5 102.7h0M107.4 132.8h0M73.0 97.3h0M69.5 87.2h0M94.7 89.0h0M72.4 39.5h0M96.5 126.7h0M70.9 94.0h0M70.7 44.1h0M81.0 41.8h0M67.7 89.2h0M69.0 89.9h0M69.0 81.5h0M84.1 43.8h0M72.4 61.3h0M70.5 54.3h0M85.2 55.1h0M78.8 83.4h0M50.1 40.0h0M73.7 101.3h0M111.4 138.8h0M80.1 49.4h0M73.2 41.1h0M79.6 101.4h0M81.4 65.7h0M74.7 66.5h0M75.7 97.0h0M61.5 39.8h0M47.2 36.9h0M99.6 94.1h0M53.6 38.8h0M78.5 107.9h0M83.4 120.5h0M88.2 123.6h0M71.8 90.4h0M55.1 39.2h0M94.3 47.2h0M80.4 88.3h0M68.2 51.9h0M140.9 152.8h0M83.7 57.6h0M77.6 104.6h0M70.8 87.5h0M85.6 123.1h0M78.7 100.7h0M78.9 64.2h0M102.8 100.2h0M59.1 35.1h0M107.6 138.0h0M75.4 34.2h0M77.8 59.8h0M91.9 85.5h0M74.0 47.9h0M77.9 98.9h0M69.2 55.2h0M71.8 91.3h0M96.0 94.6h0M73.5 95.4h0M76.6 47.9h0M58.3 42.6h0M70.6 37.9h0M118.4 140.6h0M106.7 130.3h0M104.8 97.2h0M83.5 104.0h0M83.7 107.8h0M71.6 79.2h0M74.1 59.3h0M76.6 87.9h0M74.5 85.0h0M74.0 93.9h0M83.5 60.1h0M87.0 90.3h0M76.0 91.7h0M97.1 95.2h0M73.3 62.1h0M70.3 95.6h0M58.8 43.3h0M92.2 89.1h0M52.8 38.2h0M79.1 106.9h0M73.1 84.1h0M80.4 84.6h0M93.5 45.2h0M89.8 73.9h0M60.9 35.6h0M71.8 75.3h0M86.3 47.3h0M85.8 43.0h0M128.3 148.0h0M85.1 123.2h0M83.3 117.0h0M83.2 81.9h0M77.6 64.0h0M84.4 54.0h0M92.3 92.1h0M71.9 35.3h0M93.0 98.1h0M55.2 46.2h0M70.5 77.9h0M69.5 74.3h0M71.4 94.3h0M94.4 89.9h0M57.1 39.7h0M82.7 100.2h0M98.0 95.7h0M88.2 115.9h0M97.2 90.3h0M69.5 79.2h0M70.5 46.4h0M82.6 49.1h0M88.1 82.3h0M74.4 61.1h0M84.7 85.8h0M93.4 47.9h0M85.4 54.5h0M89.3 87.8h0M87.5 43.5h0M78.5 89.6h0M73.1 37.4h0M80.9 53.3h0M128.3 148.6h0M77.9 81.4h0M78.5 88.2h0M75.9 34.0h0M81.0 77.8h0M69.9 35.5h0M76.6 63.0h0M86.9 69.3h0M85.6 81.7h0M76.8 104.7h0M72.5 105.7h0M93.7 82.5h0M88.5 43.7h0M80.6 50.8h0M80.3 111.1h0M81.4 64.6h0M81.4 60.3h0M72.9 61.6h0M77.1 78.2h0M95.0 123.3h0M73.9 102.4h0M97.1 45.7h0M66.9 77.3h0M100.4 103.6h0M78.7 40.5h0M79.8 114.4h0M117.8 140.4h0M59.9 43.0h0M83.3 122.3h0M97.8 45.7h0M75.3 50.2h0M119.1 139.9h0M74.6 32.4h0M79.9 59.8h0M81.2 107.1h0M76.4 80.0h0M75.1 101.7h0M91.4 48.5h0M87.6 126.8h0M84.6 41.1h0M80.2 91.0h0M79.8 65.4h0M87.5 72.5h0M52.9 41.7h0M68.7 48.7h0M80.2 67.7h0M78.6 50.1h0M83.5 65.5h0M71.6 84.9h0M72.2 35.8h0M75.1 64.6h0M92.1 97.5h0M87.8 124.3h0M84.1 120.3h0M85.8 121.3h0M72.3 104.1h0M76.5 34.3h0M85.3 120.8h0M77.1 105.7h0M85.0 47.9h0M79.9 109.5h0M73.3 84.5h0M103.0 101.0h0M70.9 75.3h0M77.7 43.3h0M75.6 42.3h0M56.1 44.9h0M74.9 109.4h0M83.3 121.6h0M94.7 97.1h0M63.2 35.3h0M81.1 41.0h0M87.5 44.6h0M81.9 88.0h0M85.4 44.6h0M48.2 36.7h0M77.7 91.4h0M91.9 93.8h0M95.0 95.1h0M88.4 125.2h0M73.2 57.6h0M81.2 104.9h0M73.6 88.1h0M81.8 53.1h0M79.1 113.8h0M88.4 118.9h0M89.5 45.8h0M60.7 37.2h0M80.4 108.5h0M107.5 103.9h0M68.3 76.7h0M81.4 119.0h0M68.0 82.9h0M88.7 93.0h0M80.9 57.4h0M98.1 45.3h0M86.9 53.3h0M84.8 121.9h0M143.1 153.3h0M51.2 39.2h0M81.1 58.4h0M80.0 117.7h0M83.7 82.5h0M73.2 110.2h0M90.4 76.6h0M73.6 106.5h0M54.1 40.5h0M70.8 41.5h0M88.5 93.5h0M96.9 134.0h0M109.4 134.1h0M74.0 107.7h0M51.3 38.6h0M52.5 39.4h0M76.6 36.1h0M84.1 110.1h0M68.8 40.3h0M102.2 100.3h0M68.3 82.1h0M80.2 114.5h0M122.2 144.6h0M51.9 40.5h0M55.7 44.5h0M73.2 70.8h0M70.6 55.6h0M79.4 101.2h0M76.2 85.8h0M68.2 81.4h0M106.4 103.0h0M65.1 82.2h0M77.5 111.9h0M101.2 90.5h0M78.2 108.7h0M79.2 86.4h0M70.4 81.6h0M77.5 47.2h0M67.2 88.2h0M70.2 50.9h0M95.3 92.6h0M76.2 50.7h0M82.8 41.1h0M76.4 40.1h0M78.8 59.3h0M79.4 85.1h0M58.2 35.5h0M83.6 82.8h0M81.6 81.7h0M111.0 135.2h0M89.4 50.1h0M74.1 104.7h0M77.2 66.2h0M65.8 85.4h0M75.9 56.6h0M78.7 49.7h0M77.8 105.7h0M84.9 79.1h0M82.8 109.5h0M58.8 41.8h0M76.3 102.0h0M81.4 116.9h0M140.3 152.6h0M89.7 123.7h0M88.5 84.2h0M91.0 49.3h0M121.5 142.4h0M79.6 66.9h0M104.4 132.5h0M114.0 142.7h0M88.2 57.8h0M61.0 39.0h0M75.7 46.1h0M72.8 34.7h0M98.8 83.3h0M74.7 90.6h0M98.2 96.4h0M56.8 38.6h0M78.3 65.3h0M107.7 105.0h0M61.5 34.6h0M78.1 58.9h0M91.5 99.2h0M88.3 73.7h0M74.3 79.1h0M73.8 88.0h0M74.7 62.0h0M84.1 103.4h0M120.3 140.5h0M95.3 98.2h0M75.7 48.4h0M60.9 36.1h0M79.9 46.8h0M68.6 94.9h0M105.4 107.3h0M78.7 105.1h0M72.9 103.9h0M79.5 87.1h0M73.2 92.4h0M62.6 36.1h0M70.9 62.8h0M69.5 40.4h0M103.9 100.9h0M75.0 53.1h0M65.8 48.0h0M79.9 62.1h0M70.5 76.2h0M75.5 32.6h0M84.5 124.6h0M123.4 142.1h0M78.1 53.0h0M77.1 81.4h0M117.5 139.8h0M80.7 104.7h0M72.7 71.6h0M76.7 87.1h0M95.0 99.3h0M82.3 45.0h0M68.5 53.8h0M77.4 35.4h0M98.8 130.2h0M69.9 56.6h0M121.6 143.4h0M77.9 67.2h0M69.2 84.9h0M84.1 82.2h0M83.7 85.5h0M52.0 36.1h0M74.6 41.4h0M121.2 140.0h0M76.7 97.8h0M73.2 46.7h0M56.5 37.5h0M72.5 72.0h0M71.9 84.0h0M80.0 113.7h0M59.5 38.6h0M90.2 126.1h0M71.1 85.9h0M84.9 96.1h0M92.2 86.2h0M89.6 114.8h0M134.6 150.0h0M85.4 57.6h0M50.2 40.3h0M73.8 87.5h0M76.1 97.9h0M81.1 116.5h0M70.6 94.9h0M78.4 67.2h0M95.3 91.0h0M74.5 109.9h0M69.5 95.7h0M90.5 47.6h0M85.8 42.2h0M70.8 82.6h0M80.5 41.9h0M76.5 58.7h0M120.9 141.4h0M134.8 152.1h0M133.9 151.1h0M71.8 34.1h0M67.7 48.1h0M72.4 44.6h0M80.1 81.9h0M96.3 97.2h0M109.2 132.5h0M73.7 63.7h0M74.7 62.7h0M87.9 75.1h0M81.5 38.9h0M78.9 46.4h0M101.7 102.5h0M81.4 42.5h0M72.9 102.8h0M108.3 136.5h0M66.2 36.9h0M97.6 96.7h0M93.2 92.9h0M105.4 99.0h0M59.3 42.4h0M75.4 112.3h0M79.2 106.0h0M114.0 140.7h0M92.0 83.7h0M73.1 45.9h0M80.4 89.9h0M85.9 124.3h0M71.8 77.9h0M115.3 140.1h0M69.2 48.2h0M88.5 92.3h0M99.2 97.1h0M94.3 96.1h0M79.4 116.3h0M89.1 117.7h0M81.8 52.5h0M56.1 44.0h0M77.4 117.3h0M86.8 78.8h0M70.4 84.2h0M86.7 120.4h0M75.0 87.9h0M85.0 122.7h0M73.1 108.3h0M72.0 53.2h0M72.8 84.0h0M105.6 108.2h0M80.2 40.6h0M61.3 35.7h0M99.1 44.5h0M47.6 36.1h0M76.5 98.8h0M78.1 88.9h0M76.8 52.2h0M84.2 96.0h0M76.0 69.9h0M70.8 97.8h0M85.8 80.7h0M79.3 74.6h0M89.6 43.6h0M77.5 113.7h0M77.0 104.0h0M73.5 34.9h0M94.0 80.5h0M72.6 91.6h0M119.4 141.6h0M89.0 75.7h0M75.4 42.0h0M72.2 94.5h0M98.6 46.0h0M71.9 98.8h0M76.5 81.9h0M75.0 61.1h0M76.9 43.8h0M96.1 99.5h0M57.2 36.9h0M87.1 72.6h0M77.7 87.9h0M54.4 41.4h0M79.8 60.6h0M65.1 47.9h0M86.9 85.6h0M74.3 100.0h0M58.9 36.2h0M85.3 47.3h0M69.6 48.5h0M79.5 88.0h0M78.6 44.1h0M131.2 151.1h0M81.7 89.0h0M94.2 45.1h0M116.2 139.5h0M98.5 98.3h0M79.4 106.8h0M101.8 102.0h0M87.5 57.9h0M79.7 48.0h0M127.5 149.3h0M83.1 71.4h0M69.4 49.4h0M96.7 99.8h0M93.3 82.6h0M79.6 89.2h0M103.9 136.7h0M78.5 116.9h0M100.8 95.8h0M84.0 72.0h0M95.9 98.2h0M73.4 51.6h0M87.5 50.3h0M79.9 52.4h0M80.3 119.0h0M66.6 78.4h0M80.0 65.0h0M77.6 57.6h0M77.8 42.7h0M76.7 92.7h0M99.7 104.7h0M85.8 118.1h0M82.9 87.6h0M78.7 118.8h0M101.4 99.9h0M77.6 108.1h0M93.3 130.7h0M58.4 34.7h0M72.4 92.8h0M71.4 43.2h0M75.4 81.5h0M78.2 54.4h0M79.1 56.8h0M52.2 45.4h0M93.1 99.3h0M74.2 77.8h0M62.9 37.0h0M78.3 87.2h0M92.5 88.7h0M101.7 101.2h0M75.7 69.6h0M121.3 143.4h0M86.1 120.9h0M74.8 113.4h0M76.7 116.6h0M127.5 148.9h0M74.5 64.9h0M49.5 38.4h0M75.8 86.8h0M71.2 41.1h0M75.3 43.9h0M91.6 92.9h0M105.8 99.9h0M83.1 88.6h0M90.7 49.0h0M78.8 112.6h0M67.5 85.0h0M83.0 88.9h0M79.3 108.9h0M53.3 36.0h0M79.7 99.1h0M77.3 58.0h0M77.0 86.7h0M68.1 85.3h0M73.5 45.3h0M75.7 89.0h0M73.8 48.9h0M54.2 39.3h0M72.3 99.8h0M82.9 71.8h0M132.3 150.2h0M66.6 80.2h0M98.5 82.4h0M106.8 135.6h0M86.7 124.4h0M98.5 101.3h0M73.5 52.7h0M99.3 45.8h0M55.6 44.8h0M71.0 40.6h0M80.7 83.3h0M112.3 141.4h0M82.2 61.1h0M79.5 45.9h0M89.2 47.4h0M71.9 44.6h0M106.6 103.8h0M58.8 40.2h0M104.7 102.7h0M91.4 98.3h0M80.6 80.6h0M75.4 46.2h0M93.0 88.8h0M61.1 37.5h0M69.9 70.5h0M79.7 112.7h0M79.6 103.9h0M72.4 38.2h0M89.8 113.2h0M79.5 118.6h0M69.7 38.3h0M59.7 36.0h0M106.4 138.0h0M62.5 35.4h0M72.1 94.0h0M79.8 81.5h0M53.7 41.7h0M73.4 80.0h0M73.3 106.9h0M83.3 51.9h0M70.3 53.0h0M51.2 34.7h0M76.9 89.8h0M54.5 34.5h0M73.5 59.7h0M80.0 64.3h0M53.2 34.6h0M53.4 37.1h0M81.4 56.0h0M79.1 94.6h0M81.3 101.7h0M79.1 43.4h0M78.3 106.3h0M96.5 132.6h0M94.0 88.6h0M86.6 45.2h0M78.4 83.3h0M76.2 83.0h0M111.4 140.8h0M85.3 94.7h0M75.4 96.9h0M75.5 47.9h0M74.2 100.6h0M132.8 151.8h0M66.0 40.4h0M81.1 91.0h0M64.3 43.9h0M92.4 79.0h0M72.6 50.7h0M69.1 79.6h0M97.3 98.0h0M119.2 142.7h0M74.9 38.2h0M84.5 68.0h0M71.9 96.0h0M66.4 82.0h0M85.0 86.1h0M87.2 86.5h0M103.0 135.6h0M53.3 40.5h0M88.1 86.6h0M128.8 149.9h0M66.4 39.9h0M69.6 86.4h0M57.0 41.9h0M94.2 92.5h0M122.7 141.9h0M92.5 93.2h0M76.1 90.2h0M77.5 81.7h0M74.8 85.7h0M92.6 52.9h0M73.7 87.8h0M79.8 83.8h0M80.6 51.9h0M71.8 36.5h0M75.9 55.9h0M79.9 83.1h0M52.0 39.6h0M79.1 37.9h0M76.1 73.3h0M55.1 38.1h0M74.3 65.7h0M89.6 91.9h0M83.8 59.7h0M72.5 35.3h0M86.9 123.8h0M117.3 138.6h0M80.6 68.4h0M92.6 95.9h0M86.4 94.6h0M68.1 48.8h0M73.1 56.6h0M72.4 97.0h0M79.9 69.1h0M54.4 35.9h0M87.2 83.0h0M112.5 140.8h0M78.0 70.2h0M71.2 95.7h0M66.1 79.6h0M99.1 100.1h0M66.9 35.2h0M76.1 103.4h0M109.5 135.1h0M65.5 47.1h0M84.8 74.0h0M74.3 46.9h0M105.4 103.6h0M79.9 116.9h0M145.6 154.8h0M132.4 151.0h0M107.9 108.3h0M86.3 84.7h0M106.8 132.2h0M64.8 48.3h0M84.2 60.4h0M69.4 78.7h0M130.6 149.1h0M79.1 99.8h0M68.4 38.9h0M116.7 140.1h0M51.5 44.2h0M56.2 39.0h0M76.4 67.5h0M77.3 117.0h0M82.6 116.9h0M68.2 37.3h0M80.8 106.7h0M70.0 40.0h0M73.0 60.5h0M62.4 38.4h0M71.6 104.4h0M74.5 72.7h0M72.7 108.7h0M58.5 36.8h0M49.3 42.2h0M70.7 37.3h0M82.6 103.6h0M76.1 33.3h0M80.4 115.9h0M70.1 38.7h0M54.5 42.8h0M77.4 56.9h0M78.9 118.3h0M77.6 74.6h0M70.9 74.8h0M61.3 43.2h0M77.5 90.3h0M83.6 43.8h0M87.9 125.3h0M76.4 35.4h0M73.7 78.2h0M52.4 35.3h0M71.5 107.2h0M102.9 99.1h0M76.3 68.8h0M90.0 95.8h0M82.0 67.7h0M82.7 109.9h0M87.5 46.0h0M67.9 37.8h0M87.6 83.9h0M74.6 109.0h0M86.8 78.9h0M84.8 91.5h0M85.0 40.5h0M120.8 140.3h0M82.6 40.4h0M67.4 81.6h0M98.2 85.9h0M76.6 50.2h0M70.1 83.3h0M61.3 40.2h0M102.9 102.7h0M72.7 109.8h0M72.3 47.7h0M95.8 46.5h0M56.1 34.8h0M85.8 95.4h0M107.6 133.3h0M92.6 98.0h0M82.8 42.4h0M71.6 59.6h0M56.2 42.6h0M81.3 54.7h0M76.4 77.9h0M75.2 40.5h0M69.9 56.1h0M78.8 110.7h0M73.8 86.0h0M78.2 64.6h0M56.4 41.2h0M81.8 43.9h0M70.7 42.3h0M55.1 42.6h0M82.1 57.4h0M72.6 45.5h0M87.9 78.3h0M75.5 86.1h0M100.1 43.9h0M88.0 79.1h0M75.3 45.1h0M82.0 58.5h0M85.7 53.3h0M129.8 149.8h0M88.4 74.5h0M108.3 133.9h0M66.3 80.1h0M75.4 72.8h0M76.3 83.5h0M72.9 40.7h0M74.8 57.2h0M74.3 89.0h0M70.7 48.6h0M75.8 80.8h0M96.6 126.5h0M77.9 44.6h0M83.3 93.8h0M87.8 92.6h0M78.4 52.0h0M93.3 90.1h0M61.0 41.0h0M124.4 144.0h0M115.3 137.6h0M107.7 131.3h0M90.4 45.8h0M72.4 51.3h0M97.8 44.3h0M71.4 82.5h0M97.6 83.8h0M75.1 95.5h0M121.5 140.7h0M71.4 97.7h0M92.8 93.4h0M92.8 77.2h0" stroke="#c0f518" stroke-width="1.50"/><path d="M74.4 90.2h0M95.0 127.7h0M74.9 67.9h0M76.2 115.0h0M100.7 134.6h0M104.1 96.8h0M93.9 132.3h0M88.0 81.5h0M109.3 140.6h0M78.1 71.0h0M138.8 153.1h0M123.0 144.9h0M94.6 80.1h0M84.4 105.0h0M90.3 45.0h0M144.2 154.5h0M71.3 47.2h0M82.8 79.3h0M85.6 62.1h0M103.5 97.4h0M75.9 71.6h0M79.2 75.6h0M139.3 152.0h0M73.2 68.4h0M88.6 98.3h0M70.0 34.4h0M71.3 71.3h0M91.7 75.5h0M58.7 44.1h0M89.5 95.1h0M99.1 126.0h0M74.8 106.8h0M82.2 106.6h0M69.2 71.1h0M49.6 41.8h0M74.1 75.0h0M91.6 80.5h0M73.6 79.0h0M85.9 61.5h0M76.2 113.6h0M87.0 55.0h0M85.6 72.2h0M81.1 109.9h0M93.0 82.2h0M90.9 61.4h0M93.0 126.7h0M65.9 44.3h0M85.8 74.9h0M84.4 62.1h0M80.1 37.1h0M85.9 111.0h0M63.9 45.2h0M65.4 35.2h0M74.3 75.6h0M100.1 102.3h0M73.2 33.4h0M92.0 79.9h0M95.9 91.7h0M63.5 45.6h0M94.5 49.8h0M85.1 63.4h0M77.7 78.1h0M79.0 73.2h0M89.8 62.6h0M82.6 46.7h0M84.2 68.6h0M105.7 102.5h0M82.1 101.0h0M94.8 131.4h0M74.2 33.6h0M74.6 81.9h0M88.7 117.1h0M96.1 80.6h0M77.9 82.5h0M98.7 128.4h0M83.6 105.0h0M74.9 98.9h0M93.7 48.6h0M49.4 37.2h0M78.2 102.2h0M59.6 41.0h0M75.8 115.8h0M89.8 96.7h0M82.3 63.9h0M65.6 49.3h0M84.9 78.6h0M84.9 116.3h0M76.7 38.1h0M82.0 71.6h0M70.0 91.1h0M70.4 55.4h0M95.0 50.1h0M95.0 83.5h0M72.6 73.2h0M76.8 54.8h0M68.0 86.4h0M83.9 50.0h0M68.3 50.9h0M71.1 38.7h0M137.3 152.5h0M85.1 97.1h0M94.2 128.7h0M80.0 77.2h0M68.8 34.0h0M88.7 86.0h0M90.5 126.6h0M77.5 116.1h0M72.0 58.8h0M51.4 37.4h0M73.8 76.7h0M91.9 128.1h0M82.3 118.1h0M75.7 100.4h0M67.7 73.8h0M95.4 131.9h0M80.1 119.5h0M65.1 42.6h0M96.2 81.2h0M76.0 99.3h0M81.9 62.2h0M128.2 146.8h0M75.1 54.6h0M101.8 135.3h0M58.1 39.7h0M73.6 39.6h0M89.6 44.3h0M84.4 69.2h0M74.5 55.5h0M79.4 97.9h0M47.8 37.9h0M71.9 64.6h0M99.7 95.9h0M95.1 86.2h0M85.5 119.6h0M58.9 44.8h0M75.8 59.9h0M68.5 85.7h0M101.5 93.4h0M86.6 75.3h0M67.2 86.2h0M100.1 131.1h0M80.1 111.7h0M86.6 62.5h0M104.3 128.7h0M97.1 84.7h0M103.0 136.6h0M64.0 43.0h0M101.5 97.3h0M102.6 105.4h0M122.9 145.9h0M93.6 99.0h0M72.4 67.4h0M101.3 92.7h0M62.5 44.8h0M89.5 98.5h0M82.8 115.9h0M88.1 111.0h0M51.1 42.4h0M94.7 129.4h0M69.0 73.2h0M96.8 92.4h0M84.2 76.2h0M69.5 76.2h0M92.5 99.5h0M82.9 118.8h0M92.5 129.8h0M95.1 44.5h0M93.2 130.1h0M123.7 145.6h0M75.4 53.9h0M75.3 76.6h0M76.2 63.9h0M95.6 44.2h0M67.4 40.6h0M97.5 94.5h0M75.0 98.5h0M86.0 44.7h0M71.3 80.9h0M64.8 39.2h0M71.4 69.0h0M78.4 91.1h0M97.3 84.3h0M66.4 84.3h0M75.7 114.0h0M81.0 72.2h0M54.9 41.9h0M84.5 56.5h0M74.7 82.9h0M79.8 95.8h0M72.2 101.6h0M96.2 87.4h0M88.1 99.4h0M74.4 82.6h0M74.4 99.5h0M92.2 76.4h0M83.7 79.1h0M69.9 44.2h0M96.3 80.8h0M81.7 86.0h0M84.2 78.8h0M86.4 64.2h0M75.7 107.7h0M89.2 84.2h0M91.6 127.7h0M91.7 128.7h0M98.3 91.7h0M78.2 103.3h0M101.9 133.9h0M81.1 73.8h0M98.4 89.2h0M101.0 127.0h0M96.3 80.4h0M78.6 102.6h0M48.9 36.2h0M89.6 81.5h0M95.4 100.3h0M78.8 75.9h0M70.9 108.0h0M69.3 42.5h0M72.2 64.2h0M72.7 64.5h0M72.8 41.6h0M64.2 41.7h0M106.9 106.4h0M88.4 62.9h0M88.9 99.3h0M83.2 111.9h0M73.4 49.8h0M80.0 111.6h0M84.0 77.7h0M90.6 75.4h0M74.4 74.2h0M80.6 109.1h0M68.4 80.1h0M46.8 37.7h0M93.0 81.0h0M71.4 73.9h0M97.1 82.3h0M74.5 106.6h0M59.8 44.8h0M68.8 39.9h0M91.6 126.9h0M91.7 45.9h0M82.4 78.4h0M83.0 76.4h0M78.1 96.2h0M75.5 77.2h0M68.8 77.3h0M82.0 80.5h0M75.1 92.7h0M68.1 42.2h0M82.3 102.5h0M91.2 54.0h0M83.0 75.0h0M83.6 62.3h0M83.6 78.3h0M80.3 113.1h0M91.1 95.7h0M72.8 55.5h0M134.8 151.6h0M76.7 108.8h0M101.5 130.6h0M98.2 127.6h0M79.8 63.1h0M83.2 72.8h0M89.7 59.2h0M102.8 97.8h0M71.1 56.7h0M80.2 112.4h0M90.8 81.6h0M105.1 137.1h0M75.2 110.6h0M64.4 42.3h0M106.0 138.8h0M88.6 76.8h0M78.7 74.6h0M99.3 84.4h0M91.5 120.0h0M90.6 99.3h0M87.2 99.4h0M57.2 40.4h0M92.9 126.0h0M79.3 70.8h0M67.9 40.5h0M83.2 73.6h0M71.7 70.1h0M96.8 79.3h0M97.4 102.7h0M96.3 123.9h0M83.8 64.9h0M95.8 77.8h0M83.5 70.1h0M87.6 87.4h0M68.7 74.7h0M71.0 89.0h0M96.2 92.6h0M75.8 66.1h0M87.7 90.1h0M50.8 41.8h0M76.1 109.5h0M97.4 85.3h0M83.9 106.1h0M79.6 80.5h0M95.6 124.9h0M89.4 94.8h0M101.9 105.5h0M99.7 131.2h0M79.9 119.4h0M81.3 73.0h0M68.3 74.4h0M77.7 92.8h0M97.0 101.3h0M72.4 74.2h0M97.0 129.9h0M62.3 46.4h0M89.7 76.4h0M145.3 154.1h0M46.3 39.4h0M51.0 37.2h0M67.8 93.4h0M77.8 115.2h0M84.6 51.6h0M72.7 89.0h0M71.6 52.6h0M97.4 129.7h0M85.6 73.7h0M70.1 33.6h0M94.1 94.4h0M102.7 128.1h0M99.3 95.0h0M96.6 128.2h0M102.5 92.2h0M67.2 37.1h0M96.4 44.4h0M87.6 96.7h0M90.4 90.8h0M79.3 74.1h0M67.8 38.7h0M62.2 41.3h0M68.1 92.6h0M73.4 77.2h0M92.3 129.1h0M81.4 99.0h0M82.2 50.3h0M88.1 95.9h0M65.9 48.7h0M87.0 87.6h0M97.4 81.0h0M73.0 55.6h0M100.6 95.3h0M73.8 55.2h0M87.6 75.6h0M94.4 83.4h0M95.1 45.5h0M133.8 150.4h0M100.0 101.1h0M75.3 99.8h0M143.9 155.1h0M142.8 154.9h0M100.9 129.4h0M62.2 47.0h0M68.1 39.7h0M77.6 79.7h0M72.6 54.0h0M75.9 58.1h0M80.6 76.6h0M71.3 61.8h0M97.3 82.5h0M72.2 68.7h0M65.8 83.3h0M74.7 105.8h0M61.0 43.3h0M82.4 70.4h0M76.3 77.0h0M58.6 38.1h0M83.4 118.2h0M80.9 72.7h0M98.8 88.3h0M85.3 45.2h0M73.7 69.2h0M86.1 87.3h0M75.9 72.5h0M66.6 48.5h0M85.7 115.2h0M84.1 75.5h0M76.0 106.7h0M93.5 79.8h0M90.5 127.9h0M81.6 100.5h0M81.6 105.7h0M86.3 44.1h0M87.5 47.1h0M81.7 87.2h0M76.2 51.4h0M88.6 81.8h0M64.4 41.0h0M50.2 37.0h0M66.7 83.8h0M104.0 104.8h0M72.3 70.4h0M91.2 96.8h0M66.4 84.0h0M84.2 85.1h0M81.8 76.2h0M102.4 135.9h0M75.1 68.3h0M91.7 80.7h0M142.8 154.3h0M86.7 75.1h0M63.3 47.9h0M91.6 79.5h0M75.7 53.5h0M51.7 42.7h0M83.2 67.6h0M76.9 53.2h0M88.6 84.5h0M75.8 66.7h0M93.2 97.4h0M70.6 70.2h0M68.0 79.5h0M100.2 87.7h0M97.5 130.4h0M88.1 56.6h0M101.8 96.5h0M96.7 86.0h0M71.4 102.5h0M50.5 35.2h0M138.2 151.9h0M73.5 75.5h0M90.7 79.4h0M93.0 131.2h0M92.3 51.8h0M65.8 35.6h0M75.3 76.1h0M82.3 74.8h0M86.2 64.9h0M85.3 83.2h0M102.4 132.2h0M77.9 55.8h0M95.7 78.2h0M66.5 37.6h0M91.9 76.1h0M88.2 111.1h0M94.2 128.2h0M74.2 53.3h0M73.5 66.2h0M101.3 128.8h0M84.4 119.7h0M81.7 70.0h0M75.0 48.6h0M77.7 71.7h0M74.9 75.2h0M91.4 76.7h0M86.9 63.1h0M81.0 86.3h0M71.6 33.0h0M73.3 64.8h0M83.6 61.2h0M68.6 42.1h0M101.1 91.8h0M69.7 92.0h0M75.2 74.3h0M88.9 59.6h0M61.7 43.8h0M97.8 101.8h0M95.5 79.6h0M139.7 154.0h0M94.8 80.7h0M76.7 40.7h0M68.7 91.1h0M71.8 40.4h0M50.8 43.3h0M86.4 74.1h0M87.7 56.3h0M89.9 99.8h0M84.6 113.4h0M74.8 55.5h0M96.8 128.6h0M72.0 103.8h0M140.7 154.0h0M81.8 119.7h0M70.6 46.7h0M83.6 114.4h0M69.6 43.3h0M75.2 107.7h0M90.8 96.8h0M83.0 49.6h0M75.1 60.0h0M85.1 60.0h0M84.0 110.9h0M100.5 96.2h0M99.7 87.4h0M83.1 49.0h0M99.2 132.0h0M57.2 43.3h0M93.0 76.7h0M95.9 128.8h0M68.3 51.0h0M76.8 64.0h0M82.3 68.7h0M100.1 129.4h0M102.2 130.4h0M87.5 91.4h0M96.3 82.8h0M66.9 38.3h0M92.7 127.5h0M67.2 42.6h0M72.7 74.8h0M73.7 75.0h0M88.5 60.6h0M83.6 65.2h0M95.7 132.0h0M96.9 87.8h0M69.5 50.7h0M84.3 80.4h0M137.5 153.9h0M72.2 81.3h0M83.3 77.9h0M78.4 115.2h0M91.4 78.8h0M65.1 37.2h0M77.6 77.6h0M85.8 64.1h0M68.1 41.5h0M95.7 128.2h0M86.4 81.8h0M75.0 57.5h0M63.5 39.4h0M122.5 144.1h0M85.4 73.0h0M75.0 100.8h0M123.4 144.1h0M85.1 46.0h0M69.5 75.3h0M57.6 43.9h0M81.2 76.1h0M101.8 133.3h0M82.1 116.4h0M81.0 78.7h0M70.5 39.1h0M94.3 79.5h0M76.4 54.1h0M68.9 92.6h0M81.3 106.1h0M90.4 60.3h0M102.9 133.7h0M70.5 39.4h0M72.7 59.8h0M77.0 107.5h0M80.8 66.3h0M75.6 100.6h0M101.7 98.2h0M83.1 66.7h0M70.7 34.9h0M108.0 109.7h0M81.1 111.0h0M103.8 102.0h0M93.8 80.9h0M109.7 133.1h0M90.7 77.9h0M86.5 111.2h0M68.4 43.1h0M92.9 49.2h0M66.9 41.3h0M90.5 89.7h0M67.6 75.7h0M78.9 76.3h0M79.7 38.5h0M84.7 115.1h0M138.5 153.0h0M65.2 41.5h0M71.1 80.2h0M82.0 120.8h0M97.8 127.3h0M100.8 101.3h0M73.8 42.2h0M129.9 148.2h0M94.8 100.4h0M102.5 131.2h0M58.3 38.0h0M90.2 54.4h0M101.5 128.2h0M104.4 105.2h0M79.9 37.7h0M77.8 110.8h0M101.4 94.9h0M89.8 44.7h0M65.5 78.6h0M118.2 143.8h0M91.7 129.5h0M97.9 129.0h0M80.7 77.2h0M84.0 72.8h0M69.6 55.4h0M144.7 154.0h0M73.6 54.4h0M69.0 50.5h0M95.1 90.2h0M80.6 78.3h0M75.3 33.1h0M109.9 140.8h0M74.0 107.0h0M85.1 118.3h0M97.0 91.9h0M74.0 50.5h0M88.4 89.8h0M90.2 80.6h0M74.9 111.6h0M96.0 90.6h0M77.4 114.2h0M72.9 89.4h0M94.5 48.5h0M74.5 80.4h0M92.5 83.2h0M90.8 81.5h0M89.9 97.4h0M51.8 37.5h0M74.3 110.6h0M98.5 127.0h0M102.6 96.9h0M92.7 51.9h0M99.6 43.5h0M69.5 44.7h0M65.1 79.1h0M74.6 81.4h0M81.7 79.8h0M99.3 130.7h0M101.2 105.6h0M95.4 127.4h0M99.8 88.2h0M75.0 59.9h0M86.6 65.5h0M67.5 77.6h0M88.0 89.5h0M92.1 126.6h0M74.2 71.6h0M80.7 73.5h0M67.9 43.0h0M65.9 77.0h0M83.9 114.4h0M71.8 37.6h0M90.6 75.1h0M85.5 62.7h0M84.1 49.1h0M65.1 43.1h0M78.4 53.8h0M77.0 53.8h0M100.7 94.8h0M89.2 126.5h0M95.8 83.4h0M72.9 73.5h0M103.7 103.0h0M81.0 79.6h0M82.1 115.4h0M103.9 106.6h0M96.1 124.3h0M92.1 96.6h0M90.9 100.1h0M99.4 134.4h0M70.5 92.6h0M84.0 119.0h0M71.5 51.4h0M138.9 154.5h0M100.1 88.1h0M61.5 41.7h0M108.4 107.5h0M71.9 66.8h0M92.2 46.4h0M85.8 77.4h0M66.4 46.7h0M75.9 58.7h0M82.3 76.7h0M81.5 74.4h0M82.3 69.3h0M102.3 95.9h0M103.4 95.0h0M67.3 50.9h0M79.1 73.5h0M88.1 62.6h0M104.1 129.9h0M49.9 36.0h0M84.6 75.7h0M68.3 36.5h0M81.6 111.3h0M73.7 76.4h0M99.4 96.7h0M68.6 86.4h0M82.9 69.1h0M49.8 38.0h0M102.1 91.0h0M74.8 89.7h0M84.1 75.0h0M106.0 137.3h0M96.2 81.6h0M80.5 102.5h0M65.8 86.2h0M88.7 127.0h0M61.7 45.0h0M70.6 57.0h0M76.7 72.3h0M137.3 153.2h0M50.6 35.8h0M107.8 109.3h0M102.0 97.3h0M88.4 97.7h0M71.6 103.9h0M89.5 126.6h0M82.2 73.1h0M124.1 143.4h0M99.1 103.4h0M77.8 118.1h0M76.8 114.4h0M75.2 81.9h0M71.7 63.6h0M99.5 127.5h0M69.5 75.0h0M88.8 44.9h0M89.9 90.3h0M87.1 99.6h0M94.0 129.9h0M68.0 91.9h0M70.3 43.7h0M82.0 102.2h0M88.7 44.6h0M81.5 102.4h0M93.8 47.9h0M87.9 55.4h0M79.3 96.3h0M57.8 45.8h0M104.7 129.4h0M84.7 105.8h0M120.5 142.3h0M127.6 146.2h0M70.5 73.7h0M82.3 119.2h0M68.5 41.7h0M84.0 116.3h0M66.9 49.5h0M72.1 66.8h0M78.1 118.8h0M59.7 39.6h0M90.1 96.9h0M73.6 69.9h0M97.1 102.2h0M85.3 119.4h0M74.7 103.6h0M90.2 84.7h0M92.2 130.3h0M108.3 108.5h0M66.6 79.7h0M89.4 99.5h0M76.2 54.9h0M84.7 77.0h0M88.7 126.0h0M65.8 45.1h0M76.7 99.9h0M91.5 96.9h0M87.6 63.3h0M103.4 106.6h0M75.7 75.1h0M103.4 130.4h0M66.4 46.2h0M76.6 115.5h0M77.3 100.5h0M74.8 106.6h0M52.2 42.1h0M91.9 52.2h0M81.3 69.6h0M84.5 118.2h0M76.9 70.2h0M73.3 34.2h0M89.5 60.5h0M63.3 47.3h0M64.1 39.6h0M76.3 108.9h0M80.7 76.0h0M85.8 98.4h0M80.7 99.1h0M64.7 47.3h0M70.7 68.6h0M95.0 100.8h0M88.7 96.7h0M72.1 69.7h0M60.8 44.6h0M63.6 45.5h0M85.3 42.3h0M125.1 147.9h0M68.6 38.0h0M100.7 91.2h0M105.5 102.2h0M61.8 42.3h0M90.9 94.3h0M59.2 46.4h0M96.2 85.2h0M69.3 72.8h0M81.6 71.5h0M78.4 95.9h0M93.1 100.4h0M85.4 118.5h0M85.6 75.4h0M73.6 54.8h0M73.1 67.9h0M99.6 102.2h0M69.0 36.6h0M68.6 76.9h0M70.9 34.2h0M91.5 77.7h0M50.4 43.9h0M85.0 68.1h0M71.8 101.6h0M138.6 153.7h0M75.1 78.3h0M82.3 40.0h0M72.6 62.6h0M106.6 101.7h0M79.7 97.1h0M72.7 89.8h0M78.5 71.3h0M71.5 88.9h0M86.1 97.7h0M94.3 86.6h0M85.7 116.8h0M65.8 41.3h0M84.1 117.0h0M46.0 36.6h0M80.6 98.2h0M96.2 90.4h0M62.0 39.0h0M82.7 77.5h0M84.0 61.1h0M95.2 132.1h0M101.6 104.7h0M87.8 97.2h0M100.7 101.6h0M102.7 95.2h0M84.1 115.5h0M79.2 115.4h0M75.0 52.2h0M143.5 153.9h0M74.4 53.8h0M94.7 128.7h0M70.6 67.1h0M102.7 132.2h0M71.5 53.9h0M84.9 62.6h0M71.9 71.9h0M82.8 54.1h0M80.5 80.7h0M82.4 87.5h0M79.1 72.5h0M102.0 104.5h0M69.3 92.7h0M80.8 71.5h0M99.3 129.7h0M83.5 79.8h0M100.2 98.3h0M80.0 76.8h0M76.5 56.1h0M74.4 70.4h0M84.9 117.0h0M74.1 68.1h0M77.2 102.2h0M78.3 70.3h0M86.6 41.9h0M87.5 73.7h0M73.9 51.5h0M75.5 70.7h0M93.3 79.4h0M67.3 90.8h0M76.0 106.9h0M65.6 35.8h0M71.6 72.7h0M75.0 51.4h0M104.5 102.2h0M87.1 56.0h0M73.4 109.1h0M70.8 69.2h0M138.0 153.9h0M72.7 75.4h0M77.0 107.8h0M78.7 96.8h0M94.4 130.5h0M80.6 69.1h0M65.0 44.9h0M75.2 59.0h0M98.5 126.4h0M61.9 45.6h0M62.5 44.3h0M74.2 92.1h0M72.1 100.9h0M72.0 40.8h0M85.6 73.3h0M73.8 67.9h0M84.6 77.3h0M86.5 97.4h0M104.4 129.0h0M97.4 82.1h0M70.5 33.6h0M102.2 93.1h0M98.7 132.6h0M87.8 98.6h0M71.1 67.6h0M78.5 97.1h0M63.0 44.3h0M98.8 84.7h0M77.9 103.1h0M80.6 97.5h0M81.2 115.7h0M84.7 114.8h0M74.9 103.1h0M49.9 35.5h0M91.3 82.1h0M68.0 90.6h0M69.8 52.3h0M103.9 105.5h0M103.6 94.9h0M89.5 77.7h0M86.5 68.0h0M96.1 84.7h0M71.5 68.4h0M91.1 53.2h0M84.6 75.0h0M68.6 51.1h0M92.5 81.5h0M68.1 80.4h0M92.7 128.5h0M72.5 66.1h0M141.8 154.3h0M81.9 63.4h0M104.1 106.8h0M73.2 67.1h0M102.0 94.7h0M90.3 100.3h0M83.1 115.6h0M96.4 83.6h0M103.2 131.1h0M68.6 75.5h0M98.0 127.8h0M67.1 45.2h0M72.5 63.2h0M100.8 97.8h0M84.8 52.4h0M86.6 61.1h0M97.2 80.5h0" stroke="#44d83e" stroke-width="1.50"/><path d="M60.9 39.4h0M94.3 85.5h0M73.8 83.6h0M86.1 59.2h0M83.0 95.1h0M90.1 85.5h0M94.0 93.6h0M47.3 40.5h0M81.5 98.0h0M78.5 39.4h0M65.0 34.5h0M95.3 122.2h0M89.4 122.9h0M84.6 81.0h0M91.3 89.0h0M85.9 110.0h0M79.2 79.4h0M83.7 46.0h0M86.8 50.5h0M85.0 90.5h0M82.2 91.9h0M69.7 77.8h0M86.2 112.7h0M98.6 92.6h0M86.3 108.5h0M101.8 127.6h0M85.3 112.1h0M82.2 108.7h0M89.7 61.0h0M84.2 40.8h0M92.6 124.0h0M87.6 111.8h0M125.7 145.8h0M91.1 122.1h0M94.1 50.6h0M82.6 96.2h0M114.6 138.7h0M83.8 93.5h0M87.3 109.1h0M60.7 46.1h0M94.5 79.2h0M80.7 88.9h0M83.8 43.1h0M62.3 34.6h0M88.8 113.0h0M116.4 143.1h0M82.8 83.8h0M111.6 135.8h0M102.4 128.5h0M105.9 131.2h0M101.7 43.7h0M84.1 100.8h0M79.2 40.0h0M77.8 86.1h0M93.6 100.3h0M85.9 68.9h0M105.0 104.1h0M92.0 100.4h0M89.5 116.7h0M83.2 92.1h0M115.3 138.5h0M68.1 35.3h0M77.7 107.6h0M90.8 83.6h0M81.0 92.1h0M80.4 95.6h0M89.8 54.0h0M113.5 138.2h0M60.8 41.8h0M84.7 55.6h0M100.3 42.8h0M84.5 45.2h0M85.1 87.2h0M103.6 134.2h0M101.5 135.1h0M87.7 119.7h0M79.6 49.8h0M74.7 83.9h0M86.0 58.9h0M77.2 84.6h0M87.2 70.5h0M85.3 110.7h0M81.8 96.4h0M89.0 48.5h0M85.2 67.0h0M94.7 82.3h0M87.1 117.6h0M87.6 42.1h0M93.1 120.4h0M77.9 95.3h0M84.7 64.3h0M85.6 92.1h0M94.4 121.7h0M97.0 46.7h0M87.1 43.7h0M59.6 41.5h0M92.2 50.2h0M123.3 146.5h0M86.2 84.2h0M73.6 112.5h0M63.2 41.1h0M82.7 107.4h0M102.8 134.6h0M67.1 76.3h0M87.8 49.6h0M82.5 51.2h0M69.1 78.2h0M97.2 48.1h0M69.3 47.5h0M85.6 65.5h0M80.3 45.8h0M106.0 106.1h0M139.7 152.8h0M68.7 73.5h0M48.7 39.7h0M77.9 73.7h0M110.4 139.5h0M86.7 42.4h0M85.2 107.3h0M89.3 84.9h0M110.1 137.2h0M65.4 40.5h0M87.1 59.8h0M93.3 91.7h0M100.7 104.9h0M74.8 84.5h0M87.5 121.1h0M95.8 44.9h0M106.5 138.9h0M86.7 121.7h0M91.3 52.2h0M77.5 93.7h0M69.5 47.0h0M58.4 36.5h0M76.7 36.7h0M110.5 135.7h0M81.5 49.8h0M87.2 68.6h0M82.9 92.5h0M87.0 117.2h0M92.0 47.0h0M87.3 41.4h0M67.6 44.3h0M77.0 95.8h0M108.0 135.4h0M80.2 51.5h0M92.7 123.2h0M94.8 88.0h0M113.7 136.4h0M91.6 126.0h0M83.8 99.2h0M108.6 137.7h0M73.1 43.6h0M83.6 47.9h0M97.3 87.6h0M87.3 114.4h0M101.4 134.4h0M83.7 91.7h0M87.6 80.3h0M90.2 87.5h0M86.8 83.8h0M90.5 121.7h0M82.3 97.4h0M91.3 118.7h0M90.5 120.8h0M98.8 91.0h0M67.0 80.9h0M102.0 94.0h0M88.0 118.1h0M105.4 104.4h0M89.2 79.4h0M48.3 38.8h0M86.4 109.1h0M101.3 131.8h0M103.2 129.0h0M98.8 86.9h0M58.2 40.9h0M79.5 50.6h0M99.4 128.8h0M105.9 129.8h0M80.9 85.4h0M85.4 50.9h0M82.5 99.4h0M83.9 58.8h0M87.9 48.8h0M66.4 42.8h0M86.8 96.0h0M85.6 93.3h0M90.7 117.9h0M116.1 138.2h0M78.3 97.8h0M90.0 124.1h0M71.8 100.0h0M69.5 80.7h0M79.1 47.7h0M97.8 43.5h0M86.9 112.9h0M85.1 94.0h0M78.8 92.2h0M93.3 91.1h0M89.9 89.3h0M91.0 91.2h0M90.8 91.9h0M81.1 56.7h0M88.2 42.6h0M84.6 66.0h0M86.7 93.7h0M93.3 84.8h0M75.1 47.2h0M104.5 107.7h0M78.7 101.6h0M99.1 92.5h0M93.1 118.1h0M99.3 92.0h0M73.7 38.0h0M86.7 58.9h0M125.3 147.0h0M90.1 119.1h0M90.2 120.1h0M68.4 35.0h0M76.8 48.7h0M86.3 60.3h0M82.5 111.8h0M99.7 89.9h0M87.5 112.9h0M88.4 77.5h0M89.7 52.3h0M88.0 85.9h0M74.1 92.7h0M88.2 54.0h0M77.4 97.9h0M102.7 130.0h0M84.4 83.9h0M84.0 91.1h0M77.3 97.5h0M64.4 46.3h0M83.8 113.0h0M86.8 95.4h0M81.1 97.2h0M88.7 58.4h0M68.0 45.3h0M69.3 37.2h0M85.5 88.2h0M86.1 113.3h0M125.7 145.3h0M64.9 82.9h0M87.1 51.2h0M89.5 86.8h0M96.4 44.9h0M93.2 122.7h0M68.3 73.4h0M86.3 55.7h0M78.8 92.9h0M72.3 42.9h0M68.8 46.4h0M87.2 88.2h0M95.4 129.8h0M89.6 52.9h0M77.9 48.0h0M94.2 81.7h0M90.8 44.4h0M81.8 94.9h0M72.8 81.7h0M97.1 47.4h0M88.8 57.0h0M94.8 94.1h0M94.6 87.4h0M92.0 90.1h0M109.4 139.3h0M105.3 130.5h0M82.2 108.0h0M86.8 43.8h0M107.5 106.4h0M86.7 91.2h0M79.3 56.7h0M82.7 92.4h0M99.5 45.5h0M110.2 137.7h0M91.6 118.2h0M86.7 58.1h0M48.5 40.4h0M88.8 115.6h0M77.0 76.3h0M66.0 38.7h0M77.1 74.4h0M92.5 94.5h0M67.2 34.5h0M96.5 86.4h0M83.9 90.1h0M89.6 55.2h0M82.5 43.0h0M70.5 58.1h0M99.8 102.6h0M86.7 93.2h0M97.4 132.7h0M82.3 86.8h0M58.2 39.2h0M90.1 51.5h0M79.6 90.5h0M90.9 87.1h0M99.5 85.5h0M81.1 93.2h0M69.4 80.4h0M88.3 111.6h0M106.6 105.4h0M86.1 52.6h0M56.8 46.2h0M74.4 114.2h0M89.4 115.4h0M83.1 46.8h0M89.6 118.9h0M83.9 95.0h0M83.2 99.3h0M100.3 93.2h0M91.1 85.1h0M92.6 45.0h0M70.1 46.2h0M85.7 111.9h0M86.6 49.1h0M92.2 43.8h0M112.0 134.2h0M84.6 83.6h0M82.7 52.8h0M91.3 51.7h0M85.4 109.3h0M94.5 125.8h0M89.0 52.5h0M73.4 99.6h0M93.0 94.6h0M92.6 118.9h0M54.6 46.6h0M82.5 105.2h0M84.8 112.2h0M76.9 93.9h0M83.5 86.0h0M66.6 43.4h0M82.1 85.8h0M86.3 90.1h0M93.7 122.3h0M91.7 45.0h0M84.5 89.6h0M124.4 146.2h0M90.2 114.0h0M89.0 120.3h0M81.6 108.8h0M80.5 39.1h0M92.2 123.4h0M87.1 98.5h0M86.6 115.7h0M125.5 144.1h0M75.8 94.4h0M88.0 52.1h0M48.9 40.6h0M78.2 94.9h0M111.7 140.0h0M94.7 45.6h0M73.9 98.3h0M86.8 49.8h0M88.1 53.5h0M90.2 115.7h0M75.7 82.0h0M93.0 50.4h0M85.8 57.6h0M79.2 51.0h0M93.7 124.9h0M67.7 34.6h0M90.0 94.3h0M77.3 73.8h0M68.6 46.9h0M142.0 155.0h0M92.1 82.1h0M88.9 50.1h0M79.1 78.7h0M62.4 43.5h0M109.6 138.3h0M93.9 45.9h0M102.6 93.5h0M82.9 109.2h0M112.0 140.9h0M82.0 98.3h0M47.4 40.1h0M80.6 92.5h0M86.8 60.7h0M91.6 90.1h0M96.4 130.4h0M80.8 86.2h0M94.3 87.3h0M71.6 58.6h0M66.9 46.8h0M78.1 83.9h0M82.7 89.7h0M87.2 81.4h0M84.3 70.5h0M73.4 99.2h0M81.2 112.6h0M85.7 99.0h0M98.5 129.4h0M83.5 112.7h0M105.2 135.4h0M101.8 129.9h0M86.3 79.9h0M96.1 86.9h0M114.9 137.8h0M84.2 46.9h0M109.5 136.9h0M105.1 105.9h0M124.1 147.4h0M105.2 131.1h0M103.2 104.8h0M91.8 118.1h0M85.7 50.2h0M63.0 41.0h0M81.7 51.3h0M87.6 77.5h0M94.0 84.8h0M96.2 47.9h0M104.6 130.7h0M75.4 94.4h0M85.2 88.4h0M78.0 41.3h0M82.4 93.4h0M92.3 49.3h0M79.9 72.7h0M84.6 107.7h0M79.0 79.3h0M61.0 47.1h0M96.5 93.8h0M92.1 121.8h0M74.9 93.9h0M98.0 88.0h0M96.5 131.3h0M83.5 52.9h0M84.4 66.1h0M100.1 45.2h0M91.0 115.5h0M84.6 89.3h0M57.6 45.0h0M83.1 96.4h0M112.5 135.9h0M83.1 46.1h0M91.3 47.1h0M47.2 38.8h0M77.0 38.4h0M77.1 96.1h0M71.2 58.1h0M91.0 123.4h0M63.0 33.9h0M66.8 44.6h0M110.5 133.5h0M94.7 47.3h0M85.8 41.7h0M92.4 78.0h0M97.2 93.4h0M90.0 61.0h0M89.1 85.4h0M93.4 118.8h0M113.0 135.5h0M113.2 139.0h0M85.8 96.1h0M78.6 36.7h0M92.5 120.1h0M94.9 85.5h0M84.3 48.0h0M84.9 80.4h0M89.0 122.2h0M83.4 108.0h0M85.8 115.9h0M83.3 97.1h0M127.3 147.1h0M77.2 84.1h0M94.0 49.8h0M100.4 127.8h0M104.1 130.8h0M65.2 46.3h0M80.8 48.3h0M91.6 121.7h0M86.3 108.9h0M111.8 135.4h0M105.0 135.6h0M90.8 89.3h0M87.1 46.5h0M94.3 120.9h0M83.8 55.7h0M47.8 39.3h0M66.7 38.6h0M78.5 49.0h0M56.7 34.4h0M93.5 121.7h0M83.7 39.1h0M87.9 88.0h0M84.8 99.1h0M73.1 42.4h0M83.7 54.9h0M84.3 97.3h0M82.1 110.7h0M77.8 97.1h0M81.7 83.4h0M94.9 47.4h0M54.4 46.0h0M104.8 97.9h0M88.3 88.0h0M85.8 67.0h0M80.5 120.9h0M94.2 123.7h0M85.0 58.2h0M90.0 115.8h0M88.5 113.6h0M91.0 93.4h0M95.0 125.5h0M82.6 91.0h0M99.0 86.3h0M77.6 38.7h0M87.1 46.4h0M93.0 45.7h0M86.6 108.2h0M104.2 134.8h0M60.9 42.7h0M88.8 51.2h0M82.5 51.9h0M91.8 124.9h0M71.1 60.4h0M85.3 95.7h0M95.3 94.4h0M71.6 105.7h0M100.4 43.1h0M91.1 91.7h0M116.8 141.5h0M81.1 113.8h0M126.0 147.0h0M85.5 100.0h0M78.4 85.7h0M76.2 93.8h0M124.5 147.0h0M80.7 103.4h0M111.4 139.8h0M89.9 122.0h0M112.5 137.7h0M89.7 49.3h0M84.2 109.3h0M80.5 79.1h0M71.5 61.0h0M104.9 134.3h0M90.5 88.3h0M95.3 130.2h0M81.3 82.8h0M81.4 85.0h0M60.1 46.9h0M63.1 42.7h0M73.9 96.8h0M86.9 109.6h0M85.4 91.1h0M79.2 92.7h0M85.4 67.5h0M56.6 46.0h0M85.1 109.6h0M99.1 89.3h0M93.4 125.1h0M88.0 118.6h0M100.2 89.9h0M116.8 142.0h0M70.8 70.8h0M67.3 85.2h0M64.0 35.1h0M85.4 72.3h0M94.5 82.5h0M92.0 90.7h0M97.6 46.9h0M57.0 42.7h0M73.3 82.7h0M101.3 44.1h0M91.6 120.7h0M93.5 120.0h0M90.0 94.1h0M81.0 120.4h0M110.7 133.9h0M66.4 43.4h0M75.7 84.7h0M106.7 100.8h0M94.7 126.7h0M84.4 50.8h0M91.6 82.5h0M94.1 77.4h0M113.6 139.3h0M76.2 96.8h0M95.7 130.3h0M79.8 57.4h0M78.9 80.3h0M91.5 116.6h0M83.4 86.1h0M69.2 45.4h0M72.3 56.4h0M87.5 60.9h0M77.5 39.4h0M80.6 56.9h0M53.1 44.3h0M78.0 85.8h0M92.3 121.1h0M70.6 80.1h0M83.9 39.7h0M72.7 42.4h0M91.2 88.7h0M98.0 132.9h0M67.2 76.1h0M85.5 82.9h0M99.7 133.3h0M80.5 93.8h0M110.3 135.2h0M52.8 42.9h0M80.6 94.2h0M94.0 127.1h0M93.2 48.7h0M90.6 123.0h0M56.7 44.8h0M79.6 78.6h0M53.3 43.7h0M95.3 78.0h0M88.8 49.9h0M100.0 132.1h0M75.5 96.0h0M106.7 129.9h0M77.1 39.7h0M75.7 73.9h0M90.5 52.5h0M90.7 122.8h0M100.3 92.2h0M90.4 86.2h0M92.8 87.1h0M103.9 131.5h0M90.7 53.4h0M92.1 122.9h0M76.3 95.4h0M88.3 47.2h0M105.7 136.4h0M99.4 91.1h0M97.4 131.7h0M92.5 48.7h0M85.3 98.4h0M87.5 83.2h0M87.1 79.8h0M80.3 96.5h0M92.9 124.3h0M110.0 134.4h0M70.6 79.5h0M80.1 101.6h0M74.6 97.2h0M79.8 102.4h0M114.6 139.2h0M68.1 78.1h0M93.7 126.2h0M92.6 77.9h0M92.7 87.9h0M88.3 52.9h0M60.0 37.7h0M84.2 98.1h0M110.7 137.8h0M82.9 101.1h0M81.0 48.4h0M104.6 106.9h0M81.9 73.7h0M82.8 91.4h0M98.8 87.5h0M87.2 113.5h0M53.5 46.2h0M82.2 104.7h0M61.4 46.9h0M87.0 119.6h0M86.5 91.8h0M100.2 128.8h0M86.4 116.2h0M111.1 135.7h0M81.5 48.2h0M117.1 141.3h0M65.4 39.5h0M91.6 117.0h0M84.7 99.8h0M86.3 68.0h0M107.1 139.0h0M91.9 87.6h0M82.3 95.6h0M80.5 39.3h0M87.1 122.5h0M86.5 77.5h0M83.4 99.9h0M100.7 133.4h0M85.0 64.8h0M89.9 48.7h0M83.3 40.8h0M89.3 124.8h0M78.4 38.5h0M87.4 113.8h0M83.6 39.5h0M82.4 112.2h0M95.4 122.6h0M94.4 120.2h0M68.5 43.9h0M88.6 47.9h0M82.1 84.4h0M87.4 117.0h0M73.8 50.0h0M91.1 124.3h0M81.8 50.8h0M66.0 34.6h0M82.7 79.7h0M81.8 108.0h0M64.1 34.3h0M68.9 82.3h0M102.6 127.4h0M77.1 94.6h0M96.1 48.3h0M57.9 42.9h0M82.8 97.9h0M77.5 38.1h0M84.4 81.0h0M85.4 50.0h0M84.0 88.0h0M90.3 82.6h0M89.2 120.3h0M113.4 138.4h0M85.5 92.5h0M93.8 91.3h0M90.3 125.5h0M90.9 44.0h0M78.4 80.9h0M72.0 60.8h0M52.4 46.4h0M86.7 112.1h0M45.0 37.8h0M77.4 37.3h0M105.3 135.1h0M63.1 33.5h0M83.2 102.1h0M78.7 90.3h0M89.8 119.4h0M126.2 146.2h0M97.7 93.1h0M92.4 116.8h0M84.3 112.0h0M84.1 99.9h0M94.5 84.5h0M89.2 116.2h0M71.6 42.6h0M83.4 90.2h0M87.0 52.7h0M77.6 84.8h0M110.6 139.0h0M86.9 114.6h0M101.2 132.0h0M86.0 114.1h0M93.9 78.4h0M109.7 137.6h0M91.2 125.0h0M88.2 120.2h0M82.6 94.7h0M91.9 125.8h0M111.1 137.3h0M85.8 49.3h0M83.2 94.6h0M100.0 89.6h0M98.8 89.7h0M52.2 38.4h0M84.6 92.5h0M85.7 91.3h0" stroke="#0f9480" stroke-width="1.50"/></g><path d="M82.4 89.6l1.2 .5" stroke="#fff" stroke-width="1.3"/><path d="M120.3 50.6h0M120.2 52.2h0M120.4 53.8h0M120.8 55.2h0M141.6 57.2h0M143.0 57.4h0M144.4 58.2h0M145.8 59.0h0M147.2 59.8h0M150.0 61.4h0M151.4 62.2h0M152.8 63.0h0M144.2 60.6h0M147.4 62.0h0M150.6 63.6h0M152.2 64.6h0M176.1 71.7h0M177.0 74.0h0M176.1 75.8h0M176.1 78.8h0M114.0 77.6h0M108.0 80.8h0M113.6 91.0h0M116.7 100.4h0M129.9 113.8h0M131.8 115.4h0M125.9 129.1h0M129.0 130.9h0M125.3 134.0h0M148.0 153.9h0M86.4 104.0h0" stroke="#0f9480" stroke-width="2.4"/><path d="M121.8 50.2h0M123.0 50.0h0M121.7 52.0h0M123.0 51.6h0M121.8 53.6h0M122.9 53.2h0M122.2 54.8h0M148.6 60.6h0M154.2 63.8h0M155.6 64.6h0M141.4 59.2h0M142.8 60.2h0M145.8 61.2h0M149.0 62.8h0M168.2 70.0h0M167.4 70.6h0M136.7 74.6h0M113.6 94.8h0M110.8 112.2h0M111.9 111.6h0M109.4 113.4h0M107.2 109.8h0M100.3 115.0h0M100.3 120.9h0M97.3 122.4h0M156.1 116.7h0M152.3 127.0h0M144.4 129.1h0M145.8 131.7h0M144.9 130.4h0M141.7 135.3h0M157.1 151.1h0M157.1 156.4h0M90.1 102.8h0M88.6 102.4h0M90.8 111.7h0M91.6 110.4h0" stroke="#b4f21c" stroke-width="2.4"/></g></g><text x="2.1" y="375.9" font-family="'Liberation Serif',serif" font-weight="bold" font-size="8.7" fill="#1a1a1a">(e)</text></g><g><rect x="252.6" y="269.2" width="13.2" height="6" rx="1" fill="#000" opacity="0.18" filter="url(#sh)"/><rect x="252.4" y="268.5" width="13.1" height="5.9" rx="0.8" fill="#e9e9e9" stroke="#4a4a4a" stroke-width="0.6"/><text x="258.95" y="273.0" font-size="4.3" text-anchor="middle" fill="#222" stroke="#222" stroke-width="0.08">Map 1</text></g><text x="251.6" y="374.4" font-family="'Liberation Serif',serif" font-size="10.4" fill="#111">CO<tspan font-size="6.6" dy="2">2</tspan><tspan dy="-2"> efflux (mmol m</tspan><tspan font-size="6.6" dy="-3.6">-2</tspan><tspan dy="3.6"> d</tspan><tspan font-size="6.6" dy="-3.6">-1</tspan><tspan dy="3.6">)</tspan></text><circle cx="287.5" cy="394.6" r="1.85" fill="#dc5a12"/><text x="303.1" y="397.6" font-size="8.5" fill="#111" stroke="#111" stroke-width="0.18" textLength="26.9" lengthAdjust="spacing">-20 - 0</text><circle cx="287.5" cy="416.1" r="1.85" fill="#f2a03c"/><text x="303.1" y="419.1" font-size="8.5" fill="#111" stroke="#111" stroke-width="0.18" textLength="18.1" lengthAdjust="spacing">0 - 5</text><circle cx="287.5" cy="437.7" r="1.85" fill="#f2e84e"/><text x="303.1" y="440.7" font-size="8.5" fill="#111" stroke="#111" stroke-width="0.18" textLength="22.1" lengthAdjust="spacing">5 - 10</text><circle cx="287.5" cy="459.4" r="1.85" fill="#aef01e"/><text x="303.1" y="462.4" font-size="8.5" fill="#111" stroke="#111" stroke-width="0.18" textLength="26.8" lengthAdjust="spacing">10 - 35</text><circle cx="287.5" cy="480.8" r="1.85" fill="#7adfd6"/><text x="303.1" y="483.8" font-size="8.5" fill="#111" stroke="#111" stroke-width="0.18" textLength="28.7" lengthAdjust="spacing">35 - 45</text><circle cx="287.5" cy="502.5" r="1.85" fill="#22bfae"/><text x="303.1" y="505.5" font-size="8.5" fill="#111" stroke="#111" stroke-width="0.18" textLength="28.7" lengthAdjust="spacing">45 - 55</text><circle cx="287.5" cy="523.9" r="1.85" fill="#0f8f7c"/><text x="303.1" y="526.9" font-size="8.5" fill="#111" stroke="#111" stroke-width="0.18" textLength="32.3" lengthAdjust="spacing">55 - 120</text></svg></body></html>
